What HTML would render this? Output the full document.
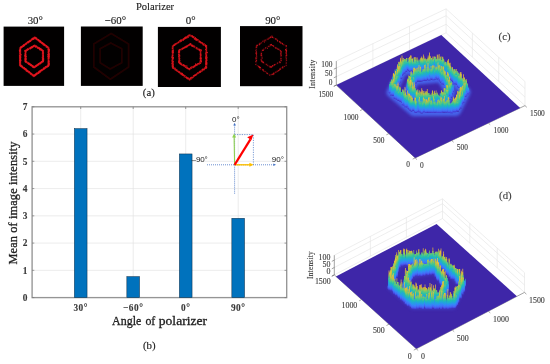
<!DOCTYPE html><html><head><meta charset="utf-8"><title>Polarizer figure</title>
<style>html,body{margin:0;padding:0;background:#fff}svg{display:block}text{font-family:"Liberation Serif","DejaVu Serif",serif;fill:#1a1a1a;stroke:#1a1a1a;stroke-width:.12px}.b{font-weight:bold;fill:#383838;stroke:#383838;stroke-width:.1px}.l{stroke-width:.3px;fill:#222;stroke:#222}.s{font-family:"Liberation Sans","DejaVu Sans",sans-serif;stroke:none;fill:#222}.g{fill:#3c3c3c;stroke:#3c3c3c}</style></head><body>
<svg width="550" height="364" viewBox="0 0 550 364">
<defs>
<linearGradient id="gc" gradientUnits="userSpaceOnUse" x1="0" y1="0" x2="0" y2="-18.20">
<stop offset="0.000" stop-color="#4030B8"/>
<stop offset="0.038" stop-color="#4545E0"/>
<stop offset="0.100" stop-color="#4668F5"/>
<stop offset="0.192" stop-color="#3586FA"/>
<stop offset="0.292" stop-color="#1FA6DC"/>
<stop offset="0.385" stop-color="#20BDB0"/>
<stop offset="0.477" stop-color="#54C882"/>
<stop offset="0.577" stop-color="#A8C44A"/>
<stop offset="0.677" stop-color="#E8BC30"/>
<stop offset="0.769" stop-color="#FBC03A"/>
<stop offset="0.885" stop-color="#F7DC30"/>
<stop offset="1.000" stop-color="#F9FB15"/>
</linearGradient>
<linearGradient id="gd" gradientUnits="userSpaceOnUse" x1="0" y1="0" x2="0" y2="-20.15">
<stop offset="0.000" stop-color="#4030B8"/>
<stop offset="0.038" stop-color="#4545E0"/>
<stop offset="0.100" stop-color="#4668F5"/>
<stop offset="0.192" stop-color="#3586FA"/>
<stop offset="0.292" stop-color="#1FA6DC"/>
<stop offset="0.385" stop-color="#20BDB0"/>
<stop offset="0.477" stop-color="#54C882"/>
<stop offset="0.577" stop-color="#A8C44A"/>
<stop offset="0.677" stop-color="#E8BC30"/>
<stop offset="0.769" stop-color="#FBC03A"/>
<stop offset="0.885" stop-color="#F7DC30"/>
<stop offset="1.000" stop-color="#F9FB15"/>
</linearGradient>
<filter id="bl" x="-20%" y="-20%" width="140%" height="140%"><feGaussianBlur stdDeviation="1.6"/></filter>
<filter id="bl2" x="-20%" y="-20%" width="140%" height="140%"><feGaussianBlur stdDeviation="0.9"/></filter>
<filter id="sp" x="-5%" y="-5%" width="110%" height="110%"><feTurbulence type="fractalNoise" baseFrequency="0.9" numOctaves="2" seed="3" result="n"/><feDisplacementMap in="SourceGraphic" in2="n" scale="1.6" xChannelSelector="R" yChannelSelector="G"/></filter>
<filter id="hz" x="-5%" y="-5%" width="110%" height="110%"><feGaussianBlur stdDeviation="0.35"/></filter>
</defs>
<rect width="550" height="364" fill="#fff"/>
<text x="155" y="10.3" font-size="10.6" text-anchor="middle">Polarizer</text>
<text x="35.3" y="23.6" font-size="10.9" text-anchor="middle">30°</text>
<rect x="3.6" y="26.6" width="60.5" height="59.3" fill="#020000"/>
<polygon points="34.7,37.5 48.6,48.0 48.6,65.3 33.9,75.9 20.1,65.3 20.1,48.0" fill="none" stroke="#a00c14" stroke-width="2.4" opacity="0.6" filter="url(#hz)"/>
<path d="M48.1 48.1h0M47.0 47.2h0M38.7 40.6h0M42.5 43.3h0M47.6 46.9h0M40.6 42.2h0M38.4 39.9h0M39.7 40.7h0M40.3 41.8h0M47.4 46.8h0M40.2 41.6h0M40.0 41.7h0M40.8 41.5h0M44.4 44.3h0M45.2 45.5h0M39.9 41.2h0M36.5 39.2h0M34.9 37.5h0M36.4 38.6h0M44.4 44.9h0M44.2 45.1h0M49.0 58.1h0M48.9 61.6h0M48.5 57.2h0M48.7 63.8h0M48.3 59.4h0M48.8 52.8h0M49.1 54.1h0M48.9 55.1h0M48.2 60.1h0M48.1 52.5h0M48.6 57.8h0M48.8 55.7h0M48.7 59.1h0M49.0 57.8h0M48.4 51.9h0M48.0 58.6h0M48.5 65.2h0M48.6 57.3h0M48.4 53.8h0M34.8 75.2h0M34.7 75.3h0M41.9 70.6h0M45.1 67.9h0M36.1 74.4h0M47.9 65.9h0M41.4 70.4h0M37.1 74.2h0M46.7 67.3h0M47.5 66.5h0M47.0 66.5h0M44.8 68.6h0M45.7 67.0h0M43.9 68.7h0M48.1 65.1h0M37.0 73.5h0M43.6 69.3h0M37.1 73.6h0M19.9 64.9h0M30.5 73.8h0M26.8 69.9h0M28.7 71.9h0M25.3 68.7h0M27.0 70.9h0M31.6 74.7h0M31.2 73.7h0M32.0 74.3h0M32.4 74.7h0M28.3 71.6h0M26.2 69.5h0M28.2 71.5h0M27.6 71.3h0M25.2 69.0h0M26.8 70.6h0M32.4 74.8h0M24.2 67.9h0M22.5 67.2h0M22.7 67.5h0M22.2 66.7h0M22.6 67.0h0M23.9 67.7h0M22.6 67.2h0M24.2 68.6h0M31.8 74.4h0M27.0 70.7h0M28.8 71.5h0M33.3 74.9h0M25.0 69.1h0M20.2 51.8h0M20.4 61.7h0M20.2 55.6h0M20.0 60.8h0M20.0 50.3h0M19.8 57.9h0M20.4 57.7h0M20.0 56.4h0M19.9 55.9h0M20.2 57.2h0M19.9 63.4h0M19.8 51.6h0M20.7 58.1h0M19.7 51.6h0M19.9 52.3h0M19.9 50.9h0M26.3 43.5h0M26.2 43.4h0M34.4 37.7h0M30.2 40.8h0M24.1 44.9h0M24.5 45.2h0M22.5 46.3h0M22.6 46.3h0M21.2 47.2h0M32.3 38.7h0M21.4 46.9h0M23.1 46.4h0M24.0 44.9h0M33.7 37.8h0M32.1 39.0h0M30.3 40.5h0M27.6 42.3h0M29.1 41.5h0M22.9 46.6h0M22.7 46.2h0M22.8 45.7h0" fill="none" stroke="#e4161f" stroke-width="0.84" stroke-linecap="round" opacity="0.90"/>
<path d="M40.0 40.9h0M47.3 46.7h0M38.3 40.1h0M36.6 39.2h0M42.2 43.4h0M46.7 47.0h0M47.6 46.8h0M43.2 44.2h0M40.9 41.7h0M37.6 39.7h0M43.3 44.2h0M35.8 38.2h0M48.1 47.0h0M42.7 43.5h0M38.7 40.8h0M36.5 39.0h0M47.6 47.3h0M43.6 44.6h0M35.9 38.7h0M40.5 41.9h0M48.4 47.9h0M45.0 45.0h0M43.7 45.0h0M37.8 39.6h0M40.1 42.1h0M40.8 42.2h0M35.2 38.1h0M44.4 44.4h0M46.4 46.3h0M38.5 40.4h0M41.8 42.7h0M41.4 42.5h0M45.2 45.2h0M35.3 37.7h0M41.4 42.4h0M44.1 44.5h0M35.9 38.3h0M38.3 39.9h0M42.9 44.6h0M36.4 38.6h0M34.9 37.6h0M46.1 46.7h0M39.7 41.4h0M41.6 42.8h0M47.9 46.9h0M39.6 41.6h0M35.6 38.3h0M46.7 47.1h0M48.9 61.3h0M48.1 49.5h0M48.5 54.1h0M49.1 55.1h0M48.3 49.0h0M48.5 57.7h0M48.6 63.9h0M48.8 58.3h0M48.7 56.0h0M48.6 48.4h0M49.0 53.6h0M48.4 64.8h0M48.4 55.1h0M48.6 61.3h0M48.9 54.0h0M48.5 60.3h0M49.4 49.6h0M48.9 60.7h0M48.5 64.0h0M48.5 56.5h0M48.2 62.1h0M48.4 54.5h0M48.6 51.4h0M48.9 61.0h0M48.5 51.4h0M48.5 54.3h0M49.1 50.9h0M49.3 64.3h0M48.3 54.7h0M49.3 63.2h0M49.0 54.1h0M48.6 56.9h0M48.8 56.5h0M48.7 64.2h0M48.5 65.2h0M48.5 58.4h0M48.7 50.1h0M48.9 53.1h0M48.4 61.7h0M48.5 52.7h0M47.8 56.3h0M48.6 55.7h0M48.8 49.0h0M36.3 73.8h0M34.1 76.0h0M41.0 70.4h0M43.8 68.9h0M39.2 72.0h0M35.1 74.4h0M39.3 72.0h0M35.3 75.0h0M36.5 74.4h0M43.6 68.7h0M42.1 69.9h0M47.1 66.5h0M48.4 66.1h0M38.4 72.8h0M47.7 66.1h0M34.7 75.4h0M46.2 66.8h0M44.4 68.7h0M39.1 72.2h0M42.6 69.5h0M40.1 71.5h0M39.2 71.7h0M37.4 73.3h0M35.4 74.7h0M35.2 74.9h0M45.1 68.2h0M44.0 69.1h0M38.4 72.3h0M39.7 71.9h0M36.1 74.1h0M41.2 70.4h0M45.1 67.0h0M35.5 74.8h0M45.5 66.9h0M43.1 69.2h0M43.5 69.1h0M35.2 75.2h0M38.0 73.2h0M34.6 75.2h0M36.1 73.9h0M46.8 66.9h0M39.3 71.8h0M46.6 66.5h0M47.5 66.7h0M43.6 69.1h0M43.7 68.2h0M35.9 74.5h0M44.5 68.3h0M22.9 67.4h0M29.6 72.4h0M20.9 66.1h0M29.1 72.3h0M26.3 70.9h0M20.8 65.9h0M21.3 65.4h0M24.2 67.6h0M30.6 73.6h0M21.5 66.4h0M31.3 74.0h0M25.7 69.8h0M24.3 68.5h0M25.7 68.9h0M33.8 76.0h0M27.6 70.9h0M25.8 69.9h0M29.4 72.4h0M25.2 69.4h0M30.6 73.1h0M27.2 71.0h0M27.9 70.9h0M27.3 71.3h0M30.2 72.7h0M31.0 73.6h0M22.1 66.2h0M31.1 73.6h0M20.6 66.3h0M24.8 68.9h0M22.0 66.6h0M22.5 66.9h0M31.4 73.5h0M25.6 69.4h0M24.5 68.4h0M23.0 67.8h0M24.4 67.8h0M25.7 69.7h0M21.6 65.6h0M20.5 65.5h0M27.5 70.9h0M33.1 75.2h0M26.4 70.2h0M24.9 68.6h0M20.2 55.3h0M20.2 48.3h0M19.8 60.4h0M19.4 50.5h0M20.2 52.3h0M20.2 49.2h0M20.3 53.2h0M20.0 50.4h0M20.1 51.1h0M20.1 55.3h0M19.7 61.8h0M20.2 63.2h0M20.0 63.4h0M20.4 50.0h0M19.8 51.8h0M20.1 53.7h0M20.2 56.6h0M19.9 58.4h0M20.2 58.5h0M20.2 56.9h0M19.5 55.7h0M20.3 52.0h0M20.0 53.5h0M20.4 49.5h0M20.1 53.7h0M19.9 50.7h0M20.2 48.1h0M20.0 51.8h0M19.6 62.2h0M20.4 55.1h0M20.4 62.0h0M20.2 50.9h0M20.3 52.2h0M20.4 59.4h0M20.4 49.9h0M20.6 50.9h0M20.1 57.4h0M20.5 58.4h0M19.9 55.2h0M20.1 58.7h0M19.8 58.7h0M20.3 65.0h0M20.0 57.2h0M19.9 56.4h0M20.6 56.7h0M20.8 65.5h0M20.1 55.0h0M20.4 49.1h0M20.3 48.2h0M20.0 56.7h0M30.1 41.1h0M33.1 38.6h0M33.2 38.2h0M23.8 45.4h0M20.8 47.4h0M23.9 45.7h0M23.6 46.2h0M24.4 44.8h0M27.4 42.5h0M20.1 48.0h0M27.9 42.7h0M33.5 38.8h0M22.1 46.3h0M29.9 41.5h0M25.6 44.1h0M25.3 44.2h0M24.4 44.8h0M33.2 38.0h0M23.7 45.1h0M21.1 47.7h0M30.7 40.4h0M23.7 45.5h0M29.0 41.5h0M26.3 43.2h0M30.3 40.5h0M27.8 41.8h0M31.2 40.0h0M29.8 41.1h0M33.0 39.5h0M29.1 41.6h0M30.6 41.3h0M31.2 40.4h0M22.0 46.9h0M21.2 46.8h0M21.2 47.3h0M29.8 40.5h0M25.6 44.1h0M23.9 45.0h0M20.9 47.4h0M26.6 43.1h0M21.8 47.0h0M23.6 45.0h0M29.9 40.9h0M21.9 46.8h0M21.1 46.9h0M31.1 40.2h0M27.4 42.7h0M20.6 47.8h0M31.6 39.6h0M23.8 45.6h0" fill="none" stroke="#e4161f" stroke-width="1.20" stroke-linecap="round" opacity="0.90"/>
<path d="M41.8 43.0h0M39.7 40.6h0M44.6 45.0h0M40.4 42.0h0M36.0 38.5h0M34.9 37.6h0M42.4 43.2h0M45.1 45.3h0M43.4 43.7h0M43.5 44.0h0M35.8 38.0h0M38.2 39.9h0M43.4 43.6h0M46.5 45.8h0M38.4 40.2h0M42.3 42.8h0M44.1 44.3h0M36.6 38.3h0M48.5 64.2h0M48.5 62.3h0M48.6 57.5h0M48.9 56.1h0M48.8 51.8h0M48.4 54.8h0M48.7 61.6h0M48.9 54.5h0M48.5 57.6h0M48.8 54.8h0M48.7 53.8h0M48.7 49.6h0M48.7 63.0h0M48.6 61.3h0M48.4 57.0h0M49.0 50.6h0M48.5 63.3h0M48.5 64.8h0M48.5 63.5h0M48.5 54.7h0M48.5 50.0h0M49.1 56.6h0M48.0 54.7h0M48.6 51.6h0M35.8 74.4h0M38.8 72.4h0M39.5 72.0h0M45.8 67.0h0M35.8 74.8h0M48.0 65.3h0M35.2 74.7h0M40.3 71.7h0M48.8 65.3h0M34.8 75.6h0M36.7 73.3h0M44.0 68.4h0M41.4 70.1h0M35.1 75.4h0M44.3 68.2h0M48.0 66.4h0M43.7 68.7h0M41.3 70.4h0M40.4 70.8h0M39.3 71.4h0M38.7 73.2h0M34.0 75.7h0M38.1 73.1h0M41.9 70.3h0M23.6 68.1h0M25.1 69.0h0M30.9 73.5h0M21.8 66.2h0M26.1 69.3h0M32.8 75.3h0M30.5 73.7h0M27.4 71.0h0M29.1 72.5h0M20.1 65.4h0M33.1 75.7h0M29.3 72.0h0M22.3 67.2h0M33.7 75.9h0M20.2 57.4h0M21.0 54.7h0M20.0 64.4h0M19.9 60.0h0M20.1 62.0h0M20.1 61.1h0M20.4 60.9h0M20.1 49.8h0M20.2 57.4h0M20.4 59.1h0M20.8 60.2h0M20.2 64.2h0M20.3 49.6h0M20.5 60.3h0M20.1 53.7h0M19.9 60.6h0M20.1 62.1h0M20.6 57.3h0M20.4 64.8h0M20.1 59.8h0M28.8 41.9h0M28.3 42.4h0M28.5 41.8h0M25.9 44.3h0M20.7 47.7h0M23.3 46.0h0M32.2 39.3h0M26.2 43.8h0M21.7 47.4h0M20.8 47.2h0M26.1 43.5h0M24.3 45.4h0M32.4 38.6h0M26.2 43.7h0M33.1 38.8h0M33.0 39.1h0M29.5 41.2h0M34.1 38.7h0" fill="none" stroke="#e4161f" stroke-width="1.56" stroke-linecap="round" opacity="0.90"/>
<polygon points="34.6,45.6 43.0,50.8 43.0,61.3 34.1,67.3 25.5,61.3 25.5,50.8" fill="none" stroke="#a00c14" stroke-width="2.4" opacity="0.6" filter="url(#hz)"/>
<path d="M35.5 46.1h0M39.8 48.9h0M35.0 46.7h0M36.0 46.5h0M42.7 50.9h0M38.2 48.1h0M39.0 48.1h0M38.0 47.4h0M40.9 49.4h0M41.6 49.2h0M39.0 48.3h0M41.5 49.4h0M40.5 48.7h0M36.3 46.4h0M43.5 58.0h0M43.4 50.8h0M42.8 56.4h0M42.6 52.8h0M42.9 58.5h0M43.1 57.1h0M43.0 61.1h0M43.6 55.7h0M43.0 57.8h0M42.3 59.3h0M43.3 54.6h0M40.8 62.7h0M36.7 66.0h0M36.0 66.0h0M34.1 66.7h0M40.0 63.2h0M38.6 63.9h0M38.5 64.3h0M36.6 65.9h0M34.3 67.2h0M35.4 66.1h0M40.6 62.9h0M41.6 61.8h0M40.4 63.0h0M27.8 63.2h0M34.1 67.4h0M30.6 65.1h0M33.1 66.7h0M31.0 65.0h0M32.1 66.0h0M29.8 63.7h0M26.2 61.9h0M25.4 51.5h0M25.2 59.9h0M25.6 54.0h0M25.8 58.9h0M25.4 54.6h0M25.2 60.4h0M26.0 59.1h0M26.0 56.4h0M25.7 54.2h0M25.0 55.7h0M25.3 56.6h0M25.5 50.9h0M25.4 58.5h0M25.3 53.3h0M25.7 57.0h0M25.2 53.7h0M29.4 48.5h0M33.4 46.2h0M32.6 47.2h0M26.3 50.6h0M26.3 50.0h0M31.4 47.1h0M29.8 48.5h0M30.7 48.4h0M28.5 49.2h0M28.6 49.2h0M28.2 49.5h0M30.7 47.6h0M33.3 46.4h0" fill="none" stroke="#e4161f" stroke-width="0.84" stroke-linecap="round" opacity="0.90"/>
<path d="M41.9 50.1h0M36.0 46.3h0M37.3 47.2h0M35.2 45.9h0M39.7 48.5h0M41.6 49.6h0M39.9 48.8h0M38.2 47.8h0M37.5 47.7h0M37.5 47.5h0M42.2 50.4h0M39.3 48.2h0M39.6 48.5h0M43.0 51.1h0M35.2 46.3h0M42.1 50.0h0M37.2 47.2h0M38.6 47.8h0M42.8 50.8h0M35.7 47.2h0M40.6 48.7h0M36.2 46.3h0M41.0 50.2h0M37.3 47.7h0M43.0 59.5h0M43.5 56.4h0M42.7 55.1h0M43.1 58.9h0M43.4 55.2h0M42.6 60.4h0M43.2 60.9h0M43.3 58.0h0M43.1 60.5h0M42.5 60.9h0M42.7 56.1h0M42.9 52.1h0M42.9 52.4h0M42.8 50.7h0M43.3 60.1h0M42.8 53.1h0M42.8 61.0h0M42.7 55.6h0M42.3 57.5h0M42.4 53.8h0M43.2 60.9h0M42.7 60.8h0M43.2 52.2h0M43.8 59.8h0M43.1 60.7h0M43.1 54.9h0M35.2 66.4h0M41.1 62.8h0M40.2 63.0h0M37.6 64.6h0M35.1 66.3h0M34.9 67.2h0M41.2 62.4h0M42.1 62.1h0M37.6 65.1h0M34.5 67.0h0M35.9 66.2h0M37.6 65.1h0M40.9 62.7h0M40.9 62.4h0M38.0 64.9h0M38.8 63.9h0M36.5 65.7h0M40.1 63.8h0M35.8 66.4h0M34.4 67.5h0M38.0 64.4h0M41.1 62.5h0M38.6 64.6h0M35.4 66.5h0M41.7 62.0h0M36.5 65.9h0M36.7 65.6h0M42.4 61.4h0M35.3 66.9h0M31.3 65.1h0M25.9 61.4h0M31.5 65.5h0M30.3 64.3h0M28.0 63.3h0M33.4 66.9h0M30.6 65.1h0M31.2 65.1h0M31.3 65.1h0M32.2 65.6h0M26.0 61.6h0M29.1 63.8h0M32.5 66.1h0M31.2 65.2h0M25.9 62.2h0M29.1 63.3h0M31.4 64.9h0M33.3 67.3h0M31.0 65.3h0M31.3 64.9h0M29.8 64.6h0M28.7 63.9h0M33.3 66.7h0M26.2 61.5h0M27.5 62.8h0M25.7 61.7h0M25.7 61.5h0M31.8 65.7h0M32.9 66.5h0M26.4 61.9h0M29.2 63.8h0M29.2 63.7h0M25.5 60.3h0M25.5 51.3h0M25.7 52.2h0M25.5 58.6h0M25.4 61.3h0M26.0 56.6h0M25.4 53.4h0M25.5 52.6h0M25.4 51.0h0M25.5 59.7h0M25.6 52.5h0M25.7 52.6h0M25.8 55.9h0M25.2 57.0h0M25.9 60.5h0M25.5 60.6h0M25.4 55.5h0M25.5 56.6h0M25.3 54.2h0M25.8 57.5h0M24.7 59.0h0M25.5 59.9h0M26.0 51.7h0M25.0 56.3h0M25.3 61.8h0M25.8 58.1h0M25.4 60.5h0M33.2 46.5h0M28.5 49.5h0M32.5 47.0h0M34.7 45.4h0M30.5 48.8h0M32.8 47.0h0M27.7 49.7h0M27.7 49.7h0M30.3 47.8h0M31.3 47.2h0M34.8 45.9h0M32.7 46.5h0M26.9 49.8h0M33.5 46.5h0M33.7 45.7h0M25.9 50.9h0M27.6 49.8h0M33.1 46.6h0M30.5 47.7h0M31.3 47.5h0M31.8 47.6h0M33.1 46.3h0M32.5 46.4h0M32.3 47.3h0M32.7 47.0h0" fill="none" stroke="#e4161f" stroke-width="1.20" stroke-linecap="round" opacity="0.90"/>
<path d="M39.1 48.3h0M40.0 49.3h0M36.2 46.2h0M42.1 50.2h0M37.8 47.9h0M42.2 50.2h0M40.9 49.2h0M41.2 49.8h0M40.9 49.5h0M39.7 49.6h0M39.6 48.3h0M42.8 59.7h0M42.9 51.1h0M42.8 60.5h0M43.1 58.6h0M43.2 61.5h0M43.3 58.9h0M42.6 51.7h0M43.0 60.5h0M43.2 53.8h0M42.9 58.3h0M43.4 60.4h0M43.0 58.8h0M43.4 53.0h0M42.9 59.5h0M43.5 58.3h0M37.8 64.9h0M39.4 63.6h0M36.1 65.8h0M36.8 65.2h0M38.6 64.1h0M41.8 61.9h0M33.7 67.1h0M40.5 62.9h0M41.6 61.7h0M37.1 65.4h0M42.5 61.4h0M32.8 67.0h0M28.5 63.1h0M30.0 64.2h0M29.0 64.2h0M31.3 65.4h0M30.6 65.3h0M33.7 67.2h0M33.7 67.2h0M33.1 66.2h0M29.4 64.1h0M32.4 65.9h0M26.4 62.0h0M25.8 56.6h0M25.0 55.4h0M25.5 59.3h0M25.4 58.9h0M25.6 54.8h0M25.7 56.2h0M26.1 59.1h0M25.3 61.1h0M25.6 56.2h0M33.8 46.1h0M25.8 50.9h0M32.3 47.2h0M31.5 47.0h0M30.2 48.0h0M27.3 49.9h0M33.9 46.2h0M25.7 50.8h0M27.7 49.1h0M30.7 48.0h0M24.9 50.9h0M31.8 47.7h0M26.0 50.7h0M27.5 49.2h0" fill="none" stroke="#e4161f" stroke-width="1.56" stroke-linecap="round" opacity="0.90"/>
<text x="115.3" y="23.6" font-size="10.9" text-anchor="middle">−60°</text>
<rect x="80.9" y="26.5" width="61.8" height="59.4" fill="#020000"/>
<polygon points="111.2,33.5 128.6,44.0 128.6,67.0 110.3,79.3 93.8,67.0 93.8,44.0" fill="none" stroke="#240606" stroke-width="1.70" stroke-linejoin="round" opacity="0.95" filter="url(#hz)"/>
<polygon points="110.8,42.9 121.8,48.8 121.8,62.7 110.2,69.0 100.1,62.7 100.1,48.8" fill="none" stroke="#240606" stroke-width="1.70" stroke-linejoin="round" opacity="0.95" filter="url(#hz)"/>
<text x="190.7" y="23.6" font-size="10.9" text-anchor="middle">0°</text>
<rect x="157.9" y="26.9" width="63.0" height="60.1" fill="#020000"/>
<polygon points="190.0,35.1 206.3,46.0 206.3,67.4 189.2,79.4 172.7,67.4 172.7,46.0" fill="none" stroke="#7a0a10" stroke-width="2.2" opacity="0.6" filter="url(#hz)"/>
<path d="M201.1 42.9h0M199.6 42.1h0M200.8 42.5h0M202.9 43.3h0M203.2 45.2h0M201.1 42.8h0M198.2 40.0h0M196.9 40.2h0M199.2 41.3h0M203.2 43.5h0M204.3 45.0h0M192.4 36.7h0M197.0 40.0h0M202.7 43.7h0M195.7 38.9h0M205.3 45.8h0M202.4 44.0h0M206.2 46.3h0M205.3 45.7h0M196.3 39.2h0M196.4 40.6h0M200.3 41.5h0M204.4 43.6h0M205.9 56.2h0M205.9 64.1h0M206.3 53.3h0M206.0 51.9h0M206.4 56.9h0M206.4 55.6h0M206.8 60.1h0M205.6 58.0h0M206.2 46.8h0M205.6 57.1h0M207.2 52.3h0M206.5 50.3h0M206.4 61.0h0M206.4 58.5h0M206.2 66.5h0M205.8 66.6h0M205.8 66.8h0M205.5 64.7h0M205.8 56.3h0M196.5 74.3h0M192.1 78.1h0M202.5 71.1h0M196.7 74.5h0M202.2 69.9h0M193.6 75.6h0M191.0 78.4h0M188.8 78.9h0M199.7 71.3h0M203.9 69.5h0M203.6 69.7h0M205.9 67.6h0M197.9 73.4h0M196.2 74.9h0M197.5 72.9h0M193.3 76.2h0M203.5 69.5h0M191.7 77.3h0M195.7 75.5h0M202.3 70.2h0M194.5 75.5h0M201.6 71.0h0M206.6 66.9h0M173.5 68.4h0M181.9 73.6h0M183.6 75.6h0M176.8 69.9h0M179.6 72.7h0M175.5 69.9h0M182.0 73.7h0M179.2 71.9h0M180.8 73.3h0M181.1 73.4h0M178.8 72.3h0M174.3 68.9h0M185.0 76.3h0M182.1 74.3h0M188.6 78.2h0M181.4 73.9h0M186.8 78.0h0M181.1 73.4h0M180.7 73.2h0M174.4 68.1h0M172.5 55.6h0M172.7 58.3h0M173.0 59.3h0M173.2 50.3h0M172.4 47.1h0M172.3 52.0h0M172.4 52.0h0M172.9 57.9h0M172.3 65.5h0M171.8 57.3h0M172.9 50.4h0M173.0 64.3h0M172.9 50.3h0M172.3 59.2h0M172.2 47.8h0M172.8 50.5h0M172.2 55.0h0M172.5 48.5h0M173.0 49.4h0M173.2 48.8h0M172.6 57.4h0M173.0 58.5h0M173.2 63.5h0M181.0 40.2h0M174.5 45.4h0M174.9 44.4h0M183.0 40.0h0M177.0 43.4h0M174.9 43.7h0M179.1 42.0h0M185.8 37.9h0M187.8 36.2h0M183.6 39.0h0M175.4 43.6h0M185.0 38.1h0M187.4 37.9h0M185.8 38.1h0M186.4 37.2h0M185.2 38.3h0M173.2 45.5h0M182.1 40.0h0" fill="none" stroke="#dc141c" stroke-width="0.73" stroke-linecap="round" opacity="0.90"/>
<path d="M205.7 45.1h0M197.1 39.6h0M194.4 38.2h0M191.6 36.0h0M196.0 39.1h0M202.1 42.9h0M192.2 36.5h0M191.3 35.8h0M205.6 46.2h0M201.9 42.5h0M198.0 39.4h0M199.5 41.8h0M193.2 37.4h0M201.0 42.8h0M191.0 36.0h0M199.0 41.9h0M192.7 35.9h0M195.8 40.1h0M192.7 36.6h0M200.4 41.8h0M190.8 35.9h0M203.7 44.4h0M196.4 39.7h0M196.2 38.8h0M194.3 38.9h0M199.5 41.0h0M197.9 39.9h0M189.7 35.2h0M195.6 39.1h0M207.0 63.5h0M205.9 60.7h0M205.7 57.7h0M206.4 55.9h0M206.5 47.9h0M206.1 53.3h0M206.3 55.0h0M206.1 63.7h0M206.2 63.1h0M206.1 49.0h0M206.1 63.3h0M206.2 63.6h0M206.0 52.8h0M206.2 62.1h0M206.4 54.9h0M206.4 62.9h0M206.0 57.8h0M205.4 53.3h0M207.2 52.6h0M205.8 65.0h0M206.1 46.8h0M205.8 58.6h0M206.4 50.5h0M206.4 50.9h0M206.5 61.1h0M205.5 54.7h0M206.4 64.2h0M205.8 62.9h0M206.4 59.0h0M206.3 56.0h0M206.5 49.2h0M206.3 60.3h0M205.7 46.5h0M206.5 63.1h0M192.3 77.8h0M196.8 73.7h0M204.6 68.2h0M202.8 69.1h0M198.2 73.3h0M195.9 75.1h0M206.7 67.5h0M193.8 76.0h0M192.8 77.7h0M206.3 68.0h0M195.1 75.4h0M200.0 72.5h0M195.0 74.8h0M190.1 78.6h0M192.5 77.8h0M198.9 72.8h0M194.5 76.0h0M195.6 74.5h0M203.3 69.2h0M196.7 74.1h0M204.3 68.9h0M199.8 71.8h0M205.4 68.2h0M204.8 67.8h0M206.3 67.1h0M200.7 72.1h0M201.2 71.2h0M198.5 72.7h0M194.7 75.6h0M197.6 73.0h0M189.3 79.4h0M191.0 78.8h0M199.9 71.8h0M199.8 71.9h0M193.4 76.9h0M195.1 74.9h0M199.3 72.1h0M191.1 79.2h0M177.1 71.4h0M183.5 75.5h0M173.0 68.4h0M182.2 73.4h0M181.5 73.7h0M182.7 75.3h0M174.8 69.7h0M182.5 74.7h0M184.0 75.4h0M178.9 72.4h0M181.7 74.2h0M180.3 73.0h0M183.7 75.1h0M186.4 77.1h0M181.4 73.5h0M184.1 77.0h0M185.0 75.6h0M179.0 72.2h0M180.0 72.7h0M173.7 68.1h0M187.2 78.8h0M176.9 70.3h0M175.9 70.1h0M181.5 74.0h0M183.8 75.0h0M178.5 71.6h0M181.8 74.8h0M177.5 71.2h0M186.3 77.5h0M182.6 75.1h0M180.3 73.9h0M187.8 78.6h0M175.8 69.3h0M182.2 74.6h0M184.6 76.4h0M179.0 71.5h0M173.0 62.5h0M172.7 50.8h0M172.8 53.9h0M173.4 52.3h0M172.9 55.3h0M172.3 48.4h0M172.8 65.7h0M172.7 65.4h0M172.8 50.9h0M172.8 53.2h0M172.5 56.8h0M172.0 61.6h0M173.4 57.5h0M173.0 58.8h0M172.7 64.0h0M172.1 51.1h0M172.9 63.8h0M173.0 65.5h0M171.9 60.3h0M173.3 51.8h0M173.0 46.5h0M172.2 63.6h0M172.6 62.5h0M173.0 67.5h0M173.4 61.5h0M172.8 50.6h0M172.5 52.1h0M172.5 48.4h0M173.3 66.6h0M172.8 46.6h0M187.5 36.4h0M184.7 39.2h0M183.6 38.9h0M180.9 40.9h0M175.8 44.2h0M173.3 45.4h0M189.0 35.1h0M173.2 45.2h0M180.9 40.2h0M173.6 45.3h0M175.0 44.8h0M185.8 37.8h0M188.0 36.7h0M180.3 41.7h0M174.3 45.1h0M183.5 40.3h0M187.4 36.1h0M182.1 40.0h0M178.5 42.1h0M186.1 37.9h0M175.8 43.8h0M175.8 43.7h0M185.8 37.9h0M175.2 44.8h0M184.8 37.5h0M175.1 44.6h0M174.1 44.7h0M177.9 42.4h0M174.3 45.5h0M182.4 39.9h0M174.6 44.8h0M185.2 37.2h0M181.1 40.3h0M184.6 38.5h0M173.8 44.9h0M188.4 35.3h0M175.4 44.5h0" fill="none" stroke="#dc141c" stroke-width="1.05" stroke-linecap="round" opacity="0.90"/>
<path d="M192.8 36.7h0M203.3 44.7h0M196.8 39.2h0M195.1 38.5h0M206.5 45.8h0M200.8 42.6h0M192.1 35.8h0M194.7 38.9h0M205.6 45.5h0M193.3 37.4h0M206.5 45.7h0M202.4 43.1h0M193.9 36.7h0M205.4 45.3h0M205.2 45.2h0M205.3 45.4h0M195.6 38.5h0M195.4 37.8h0M206.6 56.8h0M205.6 49.6h0M206.7 64.7h0M206.5 55.0h0M206.7 62.5h0M206.0 61.1h0M206.2 58.4h0M206.4 58.5h0M207.0 57.8h0M206.0 62.7h0M206.6 52.2h0M205.8 63.7h0M206.5 58.4h0M205.6 46.4h0M205.9 61.7h0M206.3 59.8h0M207.1 52.6h0M206.7 57.2h0M205.7 66.4h0M206.5 63.3h0M207.0 60.1h0M206.3 47.2h0M206.5 47.9h0M206.2 57.1h0M202.7 69.5h0M202.2 69.8h0M206.0 68.3h0M194.2 75.6h0M194.3 75.5h0M190.8 77.6h0M202.8 69.8h0M192.0 77.6h0M189.8 79.1h0M189.7 79.9h0M200.4 71.2h0M190.3 78.3h0M204.1 69.7h0M205.8 67.3h0M179.6 72.1h0M173.2 67.0h0M183.4 74.9h0M188.3 78.7h0M176.9 70.1h0M186.0 77.4h0M179.6 72.3h0M187.8 77.7h0M172.7 67.7h0M176.6 70.3h0M182.4 74.8h0M181.9 73.1h0M175.1 68.3h0M186.2 77.4h0M187.0 78.2h0M182.1 74.1h0M182.2 74.0h0M173.0 50.6h0M172.3 59.9h0M172.8 58.6h0M173.1 57.8h0M172.6 61.3h0M173.0 66.3h0M172.4 52.5h0M172.8 64.9h0M173.0 47.0h0M173.2 64.7h0M172.8 61.5h0M172.6 55.6h0M172.1 56.8h0M172.2 64.9h0M172.4 55.2h0M172.9 52.8h0M172.5 52.6h0M172.3 57.9h0M172.0 56.9h0M173.2 52.2h0M172.8 62.0h0M172.0 63.3h0M172.3 66.6h0M172.8 51.7h0M185.4 37.3h0M189.9 35.1h0M176.8 43.5h0M186.7 37.3h0M181.0 39.9h0M181.4 41.1h0M186.1 37.5h0M178.5 42.5h0M183.3 39.3h0M180.4 40.6h0M186.9 37.1h0M188.9 35.9h0M174.0 45.4h0M179.6 40.9h0M188.2 37.2h0M185.8 38.2h0M183.6 39.6h0M184.3 38.4h0" fill="none" stroke="#dc141c" stroke-width="1.37" stroke-linecap="round" opacity="0.90"/>
<polygon points="190.4,44.3 200.6,50.6 200.6,62.6 189.2,69.1 179.1,62.6 179.1,50.6" fill="none" stroke="#7a0a10" stroke-width="2.2" opacity="0.6" filter="url(#hz)"/>
<path d="M200.0 50.1h0M191.4 45.4h0M199.8 49.7h0M200.5 49.6h0M197.7 49.1h0M199.6 49.9h0M192.8 46.2h0M196.7 47.7h0M198.6 49.3h0M192.8 46.0h0M199.3 50.2h0M200.4 58.0h0M200.2 60.4h0M200.2 61.2h0M201.1 58.7h0M201.6 61.8h0M200.2 61.7h0M200.5 54.8h0M200.3 51.7h0M200.6 56.8h0M200.8 51.7h0M200.2 63.4h0M200.0 61.6h0M200.9 55.7h0M191.4 66.7h0M193.8 66.4h0M200.8 62.8h0M197.3 64.7h0M200.1 62.8h0M189.7 69.9h0M191.2 68.5h0M196.0 65.0h0M190.9 67.1h0M189.9 68.7h0M193.2 66.8h0M199.2 63.4h0M180.4 63.8h0M181.5 64.0h0M181.8 64.5h0M180.0 63.2h0M185.6 67.1h0M180.9 63.6h0M185.4 65.9h0M183.5 65.3h0M186.9 67.9h0M180.1 63.0h0M178.9 62.5h0M179.1 50.8h0M179.2 61.8h0M179.0 51.9h0M180.0 62.5h0M178.9 61.8h0M179.1 52.1h0M178.5 62.4h0M179.1 56.0h0M179.7 49.8h0M188.8 45.3h0M185.1 47.2h0M186.3 46.6h0M178.8 50.1h0M185.5 46.4h0M182.1 49.5h0M190.0 44.9h0M182.0 49.3h0M184.6 48.1h0M182.3 49.0h0M183.1 48.5h0" fill="none" stroke="#dc141c" stroke-width="0.73" stroke-linecap="round" opacity="0.90"/>
<path d="M197.0 48.9h0M199.6 50.6h0M190.8 44.0h0M191.0 43.9h0M192.3 46.1h0M192.4 45.8h0M198.9 49.7h0M191.1 44.6h0M199.6 49.8h0M199.5 50.8h0M194.5 47.0h0M192.4 45.2h0M192.0 45.8h0M194.1 46.6h0M190.6 43.8h0M200.1 50.4h0M196.3 48.1h0M199.8 49.3h0M193.9 46.2h0M193.6 46.7h0M197.1 48.1h0M192.1 45.4h0M199.9 49.7h0M201.2 49.8h0M199.0 49.0h0M196.5 47.8h0M191.4 45.3h0M201.2 61.3h0M200.6 51.8h0M200.6 53.5h0M200.2 58.8h0M200.9 58.2h0M200.4 59.0h0M200.0 58.5h0M200.2 56.9h0M200.9 57.4h0M200.4 60.6h0M201.2 59.1h0M200.6 53.9h0M200.7 56.1h0M200.4 52.7h0M200.1 53.9h0M200.5 55.2h0M200.9 60.5h0M200.8 57.6h0M200.5 60.3h0M200.8 55.4h0M200.7 60.1h0M200.7 53.4h0M197.5 63.8h0M197.0 64.7h0M193.4 67.6h0M199.1 63.3h0M199.9 62.5h0M196.3 65.1h0M193.7 67.3h0M200.5 63.5h0M195.0 66.7h0M198.3 63.4h0M195.8 65.6h0M192.1 67.0h0M190.5 67.5h0M198.3 63.8h0M192.5 67.1h0M197.7 63.6h0M196.0 65.0h0M196.1 65.0h0M195.2 65.3h0M194.6 66.7h0M197.0 64.3h0M192.2 66.8h0M194.3 66.0h0M189.5 69.4h0M197.4 64.2h0M187.3 67.9h0M181.0 63.1h0M188.1 68.4h0M184.3 66.5h0M186.9 67.3h0M181.0 63.1h0M188.2 69.1h0M185.8 67.4h0M184.2 65.3h0M179.4 63.5h0M187.2 67.3h0M183.7 65.3h0M182.6 65.4h0M180.7 63.2h0M186.8 68.1h0M185.6 66.0h0M183.7 65.1h0M185.7 67.2h0M188.5 68.4h0M184.2 65.8h0M183.5 65.3h0M180.5 63.4h0M179.7 62.3h0M179.0 60.8h0M179.6 58.0h0M179.4 61.5h0M178.5 54.4h0M179.1 55.0h0M179.3 59.8h0M178.9 52.1h0M178.5 56.4h0M178.9 51.4h0M179.3 62.2h0M179.1 57.2h0M179.1 52.8h0M178.9 55.7h0M178.5 51.7h0M179.5 51.2h0M179.7 51.8h0M179.5 52.6h0M178.7 58.1h0M179.1 55.7h0M179.1 56.7h0M178.9 59.9h0M190.7 43.5h0M183.6 48.2h0M183.3 48.1h0M184.1 47.5h0M182.6 48.1h0M186.3 46.9h0M179.3 50.1h0M189.8 44.8h0M186.9 46.9h0M182.7 48.8h0M187.3 46.3h0M184.9 47.2h0M187.6 45.4h0M183.6 48.0h0M185.2 47.0h0M180.8 49.8h0M179.7 49.8h0M185.1 47.8h0M187.3 45.8h0" fill="none" stroke="#dc141c" stroke-width="1.05" stroke-linecap="round" opacity="0.90"/>
<path d="M192.0 45.5h0M192.4 46.0h0M193.9 46.0h0M191.8 45.9h0M201.2 50.5h0M200.8 58.3h0M200.8 54.5h0M201.1 61.0h0M201.0 58.3h0M201.3 61.6h0M200.8 60.4h0M200.8 54.9h0M200.6 58.6h0M193.9 66.5h0M195.5 65.2h0M196.8 65.1h0M195.7 64.0h0M195.8 64.6h0M191.3 67.9h0M189.9 68.7h0M198.8 63.7h0M194.4 65.9h0M199.1 64.1h0M180.1 63.7h0M181.7 64.7h0M187.7 68.3h0M180.1 63.2h0M186.8 66.0h0M184.6 65.7h0M179.7 63.0h0M183.7 64.8h0M181.1 64.6h0M183.8 65.5h0M189.1 68.8h0M179.5 55.3h0M179.7 55.9h0M178.5 52.6h0M179.0 54.2h0M178.8 51.0h0M179.3 55.9h0M179.9 60.8h0M179.3 59.9h0M179.7 58.7h0M178.7 61.7h0M179.4 50.9h0M179.4 51.0h0M188.1 45.5h0M190.1 43.6h0M182.0 48.6h0M186.6 46.1h0M187.0 46.6h0M190.3 44.5h0M183.5 48.1h0M189.5 44.7h0M189.7 44.4h0M184.7 47.4h0M188.8 44.9h0M184.9 47.1h0M186.1 46.7h0M189.3 44.8h0M180.0 49.4h0" fill="none" stroke="#dc141c" stroke-width="1.37" stroke-linecap="round" opacity="0.90"/>
<text x="272.8" y="23.6" font-size="10.9" text-anchor="middle">90°</text>
<rect x="240.0" y="26.1" width="62.5" height="60.1" fill="#020000"/>
<polygon points="271.5,36.5 286.2,46.0 286.2,65.1 270.7,75.5 256.3,65.1 256.3,46.0" fill="none" stroke="#300507" stroke-width="2.0" opacity="0.6" filter="url(#hz)"/>
<path d="M272.3 37.3h0M281.8 42.9h0M280.5 42.0h0M281.5 43.2h0M277.8 40.9h0M276.2 39.2h0M282.5 44.3h0M273.8 37.9h0M271.5 36.2h0M286.6 55.9h0M286.3 51.5h0M286.7 48.4h0M286.4 45.7h0M277.2 70.9h0M273.3 73.7h0M282.0 67.7h0M273.7 74.7h0M275.1 72.5h0M282.5 67.0h0M279.8 69.6h0M257.8 65.6h0M259.0 67.1h0M267.2 73.1h0M260.3 67.8h0M262.5 69.5h0M265.4 71.6h0M269.8 75.0h0M269.6 75.2h0M259.3 67.1h0M256.2 47.1h0M256.3 49.5h0M256.0 59.7h0M256.1 61.3h0M255.8 52.4h0M256.6 56.7h0M256.1 47.5h0M256.8 53.2h0M256.2 47.0h0M256.4 54.9h0M256.8 56.5h0M265.9 41.0h0M263.3 41.2h0M264.3 41.0h0M260.1 44.4h0M270.7 36.5h0M267.9 38.9h0M257.8 45.0h0M260.6 43.3h0M270.1 37.5h0" fill="none" stroke="#d4161e" stroke-width="0.56" stroke-linecap="round" opacity="0.90"/>
<path d="M272.3 37.1h0M286.1 45.9h0M279.8 42.3h0M277.5 40.4h0M282.3 43.8h0M277.2 40.2h0M275.5 39.0h0M272.1 36.0h0M271.2 37.4h0M280.1 42.3h0M275.5 38.8h0M272.7 37.1h0M285.9 49.7h0M286.1 52.2h0M285.9 49.5h0M286.1 52.4h0M286.7 51.6h0M286.1 53.5h0M286.6 50.4h0M286.3 59.9h0M286.4 50.6h0M286.3 52.0h0M285.9 55.7h0M286.7 50.6h0M286.9 55.2h0M285.9 45.9h0M285.5 49.7h0M286.3 53.7h0M285.6 50.0h0M286.7 54.3h0M286.7 60.4h0M274.2 73.9h0M280.3 68.3h0M277.7 71.6h0M282.9 68.1h0M280.5 69.5h0M279.7 69.3h0M282.5 67.1h0M273.8 73.5h0M279.3 70.4h0M272.5 74.4h0M276.3 72.0h0M286.2 65.6h0M273.5 73.0h0M280.0 68.8h0M275.3 72.1h0M282.9 67.3h0M272.5 74.2h0M263.1 70.6h0M266.4 73.0h0M260.1 67.4h0M267.5 73.7h0M263.3 70.0h0M259.3 67.9h0M258.8 66.4h0M267.2 73.5h0M259.4 67.3h0M259.8 67.1h0M258.4 66.3h0M256.0 53.5h0M256.8 57.9h0M256.1 58.4h0M256.0 58.5h0M256.7 55.3h0M256.0 61.2h0M256.3 51.5h0M256.1 53.6h0M256.8 47.6h0M256.7 60.5h0M256.4 52.3h0M256.4 54.5h0M256.6 60.3h0M256.4 46.7h0M265.4 40.1h0M259.9 43.2h0M256.8 45.3h0M267.2 39.3h0M257.4 45.7h0M270.5 37.7h0M262.6 41.2h0M269.3 38.1h0M261.5 42.9h0M268.6 39.1h0M269.0 38.2h0M264.2 40.2h0" fill="none" stroke="#d4161e" stroke-width="0.80" stroke-linecap="round" opacity="0.90"/>
<path d="M282.5 43.4h0M272.7 37.5h0M276.8 39.0h0M279.5 41.6h0M283.8 44.7h0M280.5 42.9h0M277.6 41.1h0M286.0 57.0h0M286.2 63.1h0M286.3 63.1h0M286.5 45.9h0M286.1 50.1h0M286.3 58.3h0M286.4 55.2h0M284.2 66.4h0M273.5 74.1h0M278.5 70.6h0M271.2 74.3h0M278.6 70.7h0M259.9 67.6h0M259.2 66.7h0M260.2 68.9h0M263.0 70.1h0M264.0 71.2h0M259.6 67.2h0M260.5 67.6h0M263.0 69.6h0M255.9 50.2h0M255.9 57.7h0M255.8 61.8h0M255.8 64.4h0M256.4 53.1h0M270.5 37.3h0M257.1 45.7h0M257.0 45.3h0M264.5 41.9h0M259.3 44.1h0M259.4 43.9h0M259.4 44.8h0" fill="none" stroke="#d4161e" stroke-width="1.04" stroke-linecap="round" opacity="0.90"/>
<polygon points="271.2,44.8 280.8,50.9 280.8,61.5 270.6,67.1 261.5,61.5 261.5,50.9" fill="none" stroke="#300507" stroke-width="2.0" opacity="0.6" filter="url(#hz)"/>
<path d="M273.8 46.0h0M278.4 49.5h0M277.5 49.3h0M271.6 44.4h0M273.3 45.8h0M275.5 48.5h0M279.7 50.2h0M278.5 49.1h0M280.9 51.6h0M272.0 66.5h0M270.9 67.1h0M272.2 66.3h0M277.4 63.1h0M263.0 61.5h0M269.1 66.0h0M266.1 64.6h0M266.5 64.7h0M261.8 61.6h0M261.5 53.3h0M261.0 54.0h0M261.1 53.2h0M261.2 55.9h0M262.0 56.0h0M261.2 59.7h0M262.9 50.4h0M268.3 46.5h0M270.8 45.0h0M268.7 46.3h0M269.1 46.2h0M269.9 46.7h0" fill="none" stroke="#d4161e" stroke-width="0.56" stroke-linecap="round" opacity="0.90"/>
<path d="M273.6 46.4h0M277.2 48.7h0M279.0 49.2h0M275.2 47.5h0M273.1 45.7h0M276.9 48.3h0M280.8 53.5h0M281.0 53.6h0M281.3 58.7h0M281.1 60.7h0M281.0 55.9h0M274.7 64.7h0M274.3 65.0h0M272.7 65.9h0M277.5 63.2h0M280.4 62.3h0M274.1 65.0h0M279.5 61.9h0M273.1 65.8h0M279.4 62.1h0M262.1 61.9h0M266.9 64.2h0M267.7 65.6h0M263.2 62.4h0M262.8 62.0h0M262.0 60.9h0M271.3 66.8h0M261.1 55.1h0M261.4 60.3h0M261.8 58.0h0M261.0 59.9h0M261.2 54.2h0M261.5 53.5h0M262.4 58.0h0M265.6 48.0h0M262.9 50.1h0M262.8 50.4h0M270.8 44.7h0M263.8 49.2h0M265.8 47.7h0M270.2 44.7h0M270.3 45.2h0" fill="none" stroke="#d4161e" stroke-width="0.80" stroke-linecap="round" opacity="0.90"/>
<path d="M280.6 50.6h0M272.4 45.4h0M276.0 47.8h0M271.5 44.6h0M281.1 60.3h0M281.2 55.4h0M281.0 52.6h0M281.1 51.7h0M280.7 58.7h0M281.3 51.8h0M281.0 54.3h0M280.9 54.6h0M281.1 55.8h0M280.9 51.6h0M280.1 62.7h0M270.8 67.0h0M272.4 65.4h0M275.0 64.4h0M271.7 67.0h0M263.3 62.7h0M269.9 66.9h0M263.4 62.4h0M263.2 62.3h0M270.1 66.3h0M261.2 55.5h0M261.4 55.1h0M261.9 61.2h0M262.8 50.3h0M267.5 48.2h0M263.3 50.2h0M271.4 44.9h0" fill="none" stroke="#d4161e" stroke-width="1.04" stroke-linecap="round" opacity="0.90"/>
<text x="148.8" y="96.2" font-size="10.8" text-anchor="middle">(a)</text>
<rect x="32.1" y="106.8" width="254.6" height="190.8" fill="#fff"/>
<line x1="32.1" y1="270.34" x2="286.7" y2="270.34" stroke="#e4e4e4" stroke-width="0.7"/>
<line x1="32.1" y1="243.09" x2="286.7" y2="243.09" stroke="#e4e4e4" stroke-width="0.7"/>
<line x1="32.1" y1="215.83" x2="286.7" y2="215.83" stroke="#e4e4e4" stroke-width="0.7"/>
<line x1="32.1" y1="188.57" x2="286.7" y2="188.57" stroke="#e4e4e4" stroke-width="0.7"/>
<line x1="32.1" y1="161.31" x2="286.7" y2="161.31" stroke="#e4e4e4" stroke-width="0.7"/>
<line x1="32.1" y1="134.06" x2="286.7" y2="134.06" stroke="#e4e4e4" stroke-width="0.7"/>
<line x1="80.7" y1="106.8" x2="80.7" y2="297.6" stroke="#e4e4e4" stroke-width="0.7"/>
<line x1="133.2" y1="106.8" x2="133.2" y2="297.6" stroke="#e4e4e4" stroke-width="0.7"/>
<line x1="185.7" y1="106.8" x2="185.7" y2="297.6" stroke="#e4e4e4" stroke-width="0.7"/>
<line x1="238.2" y1="106.8" x2="238.2" y2="297.6" stroke="#e4e4e4" stroke-width="0.7"/>
<rect x="32.1" y="106.8" width="254.6" height="190.8" fill="none" stroke="#959595" stroke-width="1.35"/>
<line x1="32.1" y1="297.60" x2="34.3" y2="297.60" stroke="#777" stroke-width="0.7"/>
<line x1="286.7" y1="297.60" x2="284.5" y2="297.60" stroke="#777" stroke-width="0.7"/>
<text class="b" x="27.4" y="300.8" font-size="9.4" text-anchor="end">0</text>
<line x1="32.1" y1="270.34" x2="34.3" y2="270.34" stroke="#777" stroke-width="0.7"/>
<line x1="286.7" y1="270.34" x2="284.5" y2="270.34" stroke="#777" stroke-width="0.7"/>
<text class="b" x="27.4" y="273.5" font-size="9.4" text-anchor="end">1</text>
<line x1="32.1" y1="243.09" x2="34.3" y2="243.09" stroke="#777" stroke-width="0.7"/>
<line x1="286.7" y1="243.09" x2="284.5" y2="243.09" stroke="#777" stroke-width="0.7"/>
<text class="b" x="27.4" y="246.3" font-size="9.4" text-anchor="end">2</text>
<line x1="32.1" y1="215.83" x2="34.3" y2="215.83" stroke="#777" stroke-width="0.7"/>
<line x1="286.7" y1="215.83" x2="284.5" y2="215.83" stroke="#777" stroke-width="0.7"/>
<text class="b" x="27.4" y="219.0" font-size="9.4" text-anchor="end">3</text>
<line x1="32.1" y1="188.57" x2="34.3" y2="188.57" stroke="#777" stroke-width="0.7"/>
<line x1="286.7" y1="188.57" x2="284.5" y2="188.57" stroke="#777" stroke-width="0.7"/>
<text class="b" x="27.4" y="191.8" font-size="9.4" text-anchor="end">4</text>
<line x1="32.1" y1="161.31" x2="34.3" y2="161.31" stroke="#777" stroke-width="0.7"/>
<line x1="286.7" y1="161.31" x2="284.5" y2="161.31" stroke="#777" stroke-width="0.7"/>
<text class="b" x="27.4" y="164.5" font-size="9.4" text-anchor="end">5</text>
<line x1="32.1" y1="134.06" x2="34.3" y2="134.06" stroke="#777" stroke-width="0.7"/>
<line x1="286.7" y1="134.06" x2="284.5" y2="134.06" stroke="#777" stroke-width="0.7"/>
<text class="b" x="27.4" y="137.3" font-size="9.4" text-anchor="end">6</text>
<line x1="32.1" y1="106.80" x2="34.3" y2="106.80" stroke="#777" stroke-width="0.7"/>
<line x1="286.7" y1="106.80" x2="284.5" y2="106.80" stroke="#777" stroke-width="0.7"/>
<text class="b" x="27.4" y="110.0" font-size="9.4" text-anchor="end">7</text>
<line x1="80.7" y1="106.8" x2="80.7" y2="109.0" stroke="#777" stroke-width="0.7"/>
<line x1="133.2" y1="106.8" x2="133.2" y2="109.0" stroke="#777" stroke-width="0.7"/>
<line x1="185.7" y1="106.8" x2="185.7" y2="109.0" stroke="#777" stroke-width="0.7"/>
<line x1="238.2" y1="106.8" x2="238.2" y2="109.0" stroke="#777" stroke-width="0.7"/>
<rect x="74.35" y="128.61" width="12.7" height="168.99" fill="#0072BD" stroke="#0a2a44" stroke-width="0.5"/>
<text class="b" x="80.7" y="311.2" font-size="9.3" letter-spacing="0.5" text-anchor="middle">30°</text>
<rect x="126.85" y="276.61" width="12.7" height="20.99" fill="#0072BD" stroke="#0a2a44" stroke-width="0.5"/>
<text class="b" x="133.2" y="311.2" font-size="9.3" letter-spacing="0.5" text-anchor="middle">−60°</text>
<rect x="179.35" y="153.95" width="12.7" height="143.65" fill="#0072BD" stroke="#0a2a44" stroke-width="0.5"/>
<text class="b" x="185.7" y="311.2" font-size="9.3" letter-spacing="0.5" text-anchor="middle">0°</text>
<rect x="231.85" y="218.28" width="12.7" height="79.32" fill="#0072BD" stroke="#0a2a44" stroke-width="0.5"/>
<text class="b" x="238.2" y="311.2" font-size="9.3" letter-spacing="0.5" text-anchor="middle">90°</text>
<text x="112.1" y="325.2" font-size="12.4" textLength="29.3" lengthAdjust="spacingAndGlyphs" class="l">Angle</text>
<text x="145.4" y="325.2" font-size="12.4" textLength="9.9" lengthAdjust="spacingAndGlyphs" class="l">of</text>
<text x="158.8" y="325.2" font-size="12.4" textLength="48.2" lengthAdjust="spacingAndGlyphs" class="l">polarizer</text>
<text transform="translate(16.6 203) rotate(-90)" font-size="12.4" letter-spacing="0.1" text-anchor="middle" class="l">Mean of image intensity</text>
<text x="149.2" y="349" font-size="10.8" text-anchor="middle">(b)</text>
<line x1="234.6" y1="124.7" x2="234.6" y2="193.8" stroke="#4472C4" stroke-width="0.9" stroke-dasharray="0.9 1.1"/>
<line x1="207" y1="164.8" x2="274.3" y2="164.8" stroke="#4472C4" stroke-width="0.9" stroke-dasharray="0.9 1.1"/>
<path d="M234.6 122.8l-1.3 2.6h2.6z" fill="#4472C4"/>
<path d="M276 164.8l-2.6-1.3v2.6z" fill="#4472C4"/>
<path d="M234.6 134.6H253.4V164.8" fill="none" stroke="#4472C4" stroke-width="0.7" stroke-dasharray="1.2 1.2"/>
<line x1="234.6" y1="164.8" x2="234.1" y2="137" stroke="#8FD14F" stroke-width="1.1"/>
<path d="M234.1 133.4l-2 4.2h4z" fill="#8FD14F"/>
<line x1="234.6" y1="164.8" x2="250" y2="164.8" stroke="#FFC000" stroke-width="1.4"/>
<path d="M253.6 164.8l-4.2-2v4z" fill="#FFC000"/>
<line x1="234.6" y1="164.8" x2="250.4" y2="139.4" stroke="#FF0000" stroke-width="2.2"/>
<path d="M253.4 134.4l-6.2 2.9 4.2 2.9z" fill="#FF0000"/>
<text class="s" x="235.9" y="121.6" font-size="8" text-anchor="middle">0°</text>
<text class="s" x="277.9" y="162.4" font-size="8" text-anchor="middle">90°</text>
<text class="s" x="207.8" y="162.4" font-size="8" text-anchor="end" textLength="16.2" lengthAdjust="spacing">–90°</text>
<g id="c">
<line x1="336.3" y1="85.1" x2="446.1" y2="32.8" stroke="#e3e3e3" stroke-width="0.6"/>
<line x1="446.1" y1="32.8" x2="525.0" y2="105.6" stroke="#e3e3e3" stroke-width="0.6"/>
<line x1="336.3" y1="76.6" x2="446.1" y2="24.3" stroke="#e3e3e3" stroke-width="0.6"/>
<line x1="446.1" y1="24.3" x2="525.0" y2="97.1" stroke="#e3e3e3" stroke-width="0.6"/>
<line x1="336.3" y1="68.0" x2="446.1" y2="15.7" stroke="#e3e3e3" stroke-width="0.6"/>
<line x1="446.1" y1="15.7" x2="525.0" y2="88.5" stroke="#e3e3e3" stroke-width="0.6"/>
<line x1="336.3" y1="61.1" x2="446.1" y2="8.8" stroke="#e3e3e3" stroke-width="0.6"/>
<line x1="446.1" y1="8.8" x2="525.0" y2="81.6" stroke="#e3e3e3" stroke-width="0.6"/>
<line x1="372.9" y1="67.7" x2="372.9" y2="43.7" stroke="#e3e3e3" stroke-width="0.6"/>
<line x1="409.5" y1="50.2" x2="409.5" y2="26.2" stroke="#e3e3e3" stroke-width="0.6"/>
<line x1="446.1" y1="32.8" x2="446.1" y2="8.8" stroke="#e3e3e3" stroke-width="0.6"/>
<line x1="525.0" y1="105.6" x2="525.0" y2="81.6" stroke="#e3e3e3" stroke-width="0.6"/>
<line x1="498.7" y1="81.3" x2="498.7" y2="57.3" stroke="#e3e3e3" stroke-width="0.6"/>
<line x1="472.4" y1="57.1" x2="472.4" y2="33.1" stroke="#e3e3e3" stroke-width="0.6"/>
<line x1="415.2" y1="157.9" x2="525.0" y2="105.6" stroke="#666" stroke-width="0.6"/>
<line x1="415.2" y1="157.9" x2="336.3" y2="85.1" stroke="#666" stroke-width="0.6"/>
<polygon points="415.2,157.9 520.2,107.9 441.3,35.1 336.3,85.1" fill="#3E26A8"/>
<line x1="336.3" y1="85.1" x2="336.3" y2="61.1" stroke="#666" stroke-width="0.6"/>
<line x1="336.3" y1="85.1" x2="333.8" y2="86.3" stroke="#666" stroke-width="0.6"/>
<text x="332.4" y="84.5" font-size="7.4" text-anchor="end" class="g">0</text>
<line x1="336.3" y1="76.6" x2="333.8" y2="77.8" stroke="#666" stroke-width="0.6"/>
<text x="332.4" y="76.0" font-size="7.4" text-anchor="end" class="g">50</text>
<line x1="336.3" y1="68.0" x2="333.8" y2="69.2" stroke="#666" stroke-width="0.6"/>
<text x="332.4" y="67.4" font-size="7.4" text-anchor="end" class="g">100</text>
<line x1="415.2" y1="157.9" x2="412.7" y2="159.1" stroke="#666" stroke-width="0.6"/>
<line x1="415.2" y1="157.9" x2="417.0" y2="159.6" stroke="#666" stroke-width="0.6"/>
<line x1="388.9" y1="133.6" x2="386.4" y2="134.8" stroke="#666" stroke-width="0.6"/>
<line x1="451.8" y1="140.5" x2="453.6" y2="142.2" stroke="#666" stroke-width="0.6"/>
<line x1="362.6" y1="109.4" x2="360.1" y2="110.6" stroke="#666" stroke-width="0.6"/>
<line x1="488.4" y1="123.0" x2="490.2" y2="124.7" stroke="#666" stroke-width="0.6"/>
<line x1="336.3" y1="85.1" x2="333.8" y2="86.3" stroke="#666" stroke-width="0.6"/>
<line x1="525.0" y1="105.6" x2="526.8" y2="107.3" stroke="#666" stroke-width="0.6"/>
</g>
<polygon points="402.5,70.0 442.5,69.0 465.5,92.0 456.0,111.0 414.0,111.3 391.5,92.5" fill="none" stroke="#4668F0" stroke-width="10.0" stroke-linejoin="round" opacity="0.95" filter="url(#bl)"/>
<polygon points="414.0,80.0 440.8,77.2 450.4,92.0 444.6,104.0 417.7,104.0 409.0,92.5" fill="none" stroke="#4668F0" stroke-width="10.0" stroke-linejoin="round" opacity="0.95" filter="url(#bl)"/>
<g fill="url(#gc)">
<path transform="translate(419.4 67.1)" d="M-1.5 0L-0.70 -3.3L0.70 -3.3L1.5 0z"/>
<path transform="translate(430.4 67.2)" d="M-1.5 0L-0.70 -4.3L0.70 -4.3L1.5 0z"/>
<path transform="translate(434.0 67.2)" d="M-1.2 0L-0.70 -5.2L0.70 -5.2L1.2 0z"/>
<path transform="translate(435.2 67.3)" d="M-1.6 0L-0.70 -5.8L0.70 -5.8L1.6 0z"/>
<path transform="translate(436.5 67.3)" d="M-1.3 0L-0.50 -8.1L0.50 -8.1L1.3 0z"/>
<path transform="translate(433.1 67.3)" d="M-1.7 0L-0.70 -5.3L0.70 -5.3L1.7 0z"/>
<path transform="translate(435.1 67.3)" d="M-1.1 0L-0.30 -10.4L0.30 -10.4L1.1 0z"/>
<path transform="translate(426.5 67.4)" d="M-1.5 0L-0.70 -5.3L0.70 -5.3L1.5 0z"/>
<path transform="translate(434.6 67.4)" d="M-1.1 0L-0.50 -11.0L0.50 -11.0L1.1 0z"/>
<path transform="translate(439.1 67.5)" d="M-1.6 0L-0.70 -5.5L0.70 -5.5L1.6 0z"/>
<path transform="translate(435.2 67.5)" d="M-1.1 0L-0.50 -10.7L0.50 -10.7L1.1 0z"/>
<path transform="translate(441.1 67.5)" d="M-0.8 0L-0.30 -11.3L0.30 -11.3L0.8 0z"/>
<path transform="translate(431.1 67.6)" d="M-1.2 0L-0.50 -8.3L0.50 -8.3L1.2 0z"/>
<path transform="translate(421.4 67.6)" d="M-1.0 0L-0.30 -7.4L0.30 -7.4L1.0 0z"/>
<path transform="translate(412.1 67.7)" d="M-1.6 0L-0.70 -5.2L0.70 -5.2L1.6 0z"/>
<path transform="translate(437.1 67.7)" d="M-0.9 0L-0.30 -8.1L0.30 -8.1L0.9 0z"/>
<path transform="translate(427.9 67.7)" d="M-1.1 0L-0.50 -8.1L0.50 -8.1L1.1 0z"/>
<path transform="translate(408.5 67.8)" d="M-1.6 0L-0.70 -3.5L0.70 -3.5L1.6 0z"/>
<path transform="translate(417.2 67.8)" d="M-1.0 0L-0.50 -6.2L0.50 -6.2L1.0 0z"/>
<path transform="translate(414.9 67.8)" d="M-1.6 0L-0.70 -7.8L0.70 -7.8L1.6 0z"/>
<path transform="translate(420.9 67.9)" d="M-1.1 0L-0.70 -8.1L0.70 -8.1L1.1 0z"/>
<path transform="translate(403.2 67.9)" d="M-1.6 0L-0.70 -4.6L0.70 -4.6L1.6 0z"/>
<path transform="translate(442.7 67.9)" d="M-1.3 0L-0.50 -9.6L0.50 -9.6L1.3 0z"/>
<path transform="translate(413.7 67.9)" d="M-1.6 0L-0.70 -5.7L0.70 -5.7L1.6 0z"/>
<path transform="translate(403.1 68.0)" d="M-1.2 0L-0.70 -4.4L0.70 -4.4L1.2 0z"/>
<path transform="translate(409.1 68.0)" d="M-1.6 0L-0.70 -6.9L0.70 -6.9L1.6 0z"/>
<path transform="translate(409.5 68.0)" d="M-1.4 0L-0.70 -5.3L0.70 -5.3L1.4 0z"/>
<path transform="translate(427.4 68.0)" d="M-1.0 0L-0.50 -9.0L0.50 -9.0L1.0 0z"/>
<path transform="translate(437.9 68.1)" d="M-0.9 0L-0.30 -13.2L0.30 -13.2L0.9 0z"/>
<path transform="translate(442.2 68.1)" d="M-1.7 0L-0.70 -5.9L0.70 -5.9L1.7 0z"/>
<path transform="translate(429.6 68.1)" d="M-0.9 0L-0.30 -15.6L0.30 -15.6L0.9 0z"/>
<path transform="translate(436.8 68.1)" d="M-1.1 0L-0.70 -7.2L0.70 -7.2L1.1 0z"/>
<path transform="translate(445.7 68.2)" d="M-1.4 0L-0.70 -2.6L0.70 -2.6L1.4 0z"/>
<path transform="translate(414.1 68.2)" d="M-1.0 0L-0.50 -10.8L0.50 -10.8L1.0 0z"/>
<path transform="translate(400.7 68.2)" d="M-1.0 0L-0.50 -5.5L0.50 -5.5L1.0 0z"/>
<path transform="translate(440.5 68.2)" d="M-1.6 0L-0.70 -5.5L0.70 -5.5L1.6 0z"/>
<path transform="translate(421.5 68.2)" d="M-1.1 0L-0.30 -11.6L0.30 -11.6L1.1 0z"/>
<path transform="translate(416.9 68.3)" d="M-1.1 0L-0.50 -4.3L0.50 -4.3L1.1 0z"/>
<path transform="translate(404.1 68.3)" d="M-1.1 0L-0.70 -7.3L0.70 -7.3L1.1 0z"/>
<path transform="translate(417.9 68.3)" d="M-1.0 0L-0.30 -6.6L0.30 -6.6L1.0 0z"/>
<path transform="translate(428.2 68.3)" d="M-0.9 0L-0.30 -12.9L0.30 -12.9L0.9 0z"/>
<path transform="translate(411.1 68.3)" d="M-1.2 0L-0.50 -3.4L0.50 -3.4L1.2 0z"/>
<path transform="translate(420.7 68.3)" d="M-1.2 0L-0.70 -3.1L0.70 -3.1L1.2 0z"/>
<path transform="translate(421.9 68.3)" d="M-1.2 0L-0.70 -6.5L0.70 -6.5L1.2 0z"/>
<path transform="translate(414.2 68.4)" d="M-0.9 0L-0.50 -5.9L0.50 -5.9L0.9 0z"/>
<path transform="translate(404.8 68.4)" d="M-1.2 0L-0.50 -9.3L0.50 -9.3L1.2 0z"/>
<path transform="translate(428.2 68.4)" d="M-1.4 0L-0.70 -7.6L0.70 -7.6L1.4 0z"/>
<path transform="translate(421.9 68.5)" d="M-0.9 0L-0.50 -10.7L0.50 -10.7L0.9 0z"/>
<path transform="translate(408.1 68.5)" d="M-1.5 0L-0.70 -4.0L0.70 -4.0L1.5 0z"/>
<path transform="translate(424.8 68.5)" d="M-1.6 0L-0.70 -9.7L0.70 -9.7L1.6 0z"/>
<path transform="translate(404.7 68.5)" d="M-1.6 0L-0.70 -9.5L0.70 -9.5L1.6 0z"/>
<path transform="translate(441.5 68.6)" d="M-1.1 0L-0.70 -8.0L0.70 -8.0L1.1 0z"/>
<path transform="translate(412.5 68.6)" d="M-1.5 0L-0.70 -3.1L0.70 -3.1L1.5 0z"/>
<path transform="translate(406.5 68.6)" d="M-1.1 0L-0.50 -10.6L0.50 -10.6L1.1 0z"/>
<path transform="translate(408.7 68.7)" d="M-1.7 0L-0.70 -6.8L0.70 -6.8L1.7 0z"/>
<path transform="translate(430.2 68.7)" d="M-1.1 0L-0.50 -12.5L0.50 -12.5L1.1 0z"/>
<path transform="translate(445.9 68.7)" d="M-1.5 0L-0.70 -4.0L0.70 -4.0L1.5 0z"/>
<path transform="translate(408.2 68.7)" d="M-1.0 0L-0.50 -10.7L0.50 -10.7L1.0 0z"/>
<path transform="translate(443.0 68.7)" d="M-1.3 0L-0.50 -9.8L0.50 -9.8L1.3 0z"/>
<path transform="translate(431.5 68.7)" d="M-1.0 0L-0.50 -10.7L0.50 -10.7L1.0 0z"/>
<path transform="translate(423.2 68.7)" d="M-0.9 0L-0.50 -8.5L0.50 -8.5L0.9 0z"/>
<path transform="translate(425.3 68.7)" d="M-1.3 0L-0.70 -8.6L0.70 -8.6L1.3 0z"/>
<path transform="translate(443.7 68.8)" d="M-1.3 0L-0.70 -4.7L0.70 -4.7L1.3 0z"/>
<path transform="translate(432.6 68.8)" d="M-1.5 0L-0.70 -8.6L0.70 -8.6L1.5 0z"/>
<path transform="translate(439.0 68.8)" d="M-1.3 0L-0.50 -5.3L0.50 -5.3L1.3 0z"/>
<path transform="translate(411.4 68.8)" d="M-1.0 0L-0.50 -9.9L0.50 -9.9L1.0 0z"/>
<path transform="translate(429.4 68.8)" d="M-1.5 0L-0.70 -9.6L0.70 -9.6L1.5 0z"/>
<path transform="translate(410.8 68.9)" d="M-1.1 0L-0.50 -13.3L0.50 -13.3L1.1 0z"/>
<path transform="translate(411.1 68.9)" d="M-1.0 0L-0.50 -8.4L0.50 -8.4L1.0 0z"/>
<path transform="translate(439.2 68.9)" d="M-1.7 0L-0.70 -10.1L0.70 -10.1L1.7 0z"/>
<path transform="translate(409.8 69.0)" d="M-1.0 0L-0.30 -12.2L0.30 -12.2L1.0 0z"/>
<path transform="translate(423.3 69.0)" d="M-0.8 0L-0.30 -14.6L0.30 -14.6L0.8 0z"/>
<path transform="translate(437.9 69.0)" d="M-1.5 0L-0.70 -9.4L0.70 -9.4L1.5 0z"/>
<path transform="translate(415.6 69.0)" d="M-1.2 0L-0.70 -9.0L0.70 -9.0L1.2 0z"/>
<path transform="translate(405.4 69.0)" d="M-1.1 0L-0.70 -7.8L0.70 -7.8L1.1 0z"/>
<path transform="translate(439.1 69.1)" d="M-1.1 0L-0.30 -15.2L0.30 -15.2L1.1 0z"/>
<path transform="translate(427.7 69.1)" d="M-1.6 0L-0.70 -4.9L0.70 -4.9L1.6 0z"/>
<path transform="translate(437.9 69.1)" d="M-1.5 0L-0.70 -7.7L0.70 -7.7L1.5 0z"/>
<path transform="translate(442.7 69.2)" d="M-1.1 0L-0.50 -12.4L0.50 -12.4L1.1 0z"/>
<path transform="translate(424.7 69.2)" d="M-1.2 0L-0.70 -7.1L0.70 -7.1L1.2 0z"/>
<path transform="translate(441.9 69.2)" d="M-1.3 0L-0.70 -9.3L0.70 -9.3L1.3 0z"/>
<path transform="translate(414.9 69.2)" d="M-1.1 0L-0.50 -12.0L0.50 -12.0L1.1 0z"/>
<path transform="translate(420.1 69.2)" d="M-1.0 0L-0.50 -8.9L0.50 -8.9L1.0 0z"/>
<path transform="translate(432.9 69.2)" d="M-1.7 0L-0.70 -3.9L0.70 -3.9L1.7 0z"/>
<path transform="translate(440.3 69.3)" d="M-1.2 0L-0.50 -9.9L0.50 -9.9L1.2 0z"/>
<path transform="translate(433.0 69.3)" d="M-1.2 0L-0.50 -12.7L0.50 -12.7L1.2 0z"/>
<path transform="translate(440.5 69.4)" d="M-1.0 0L-0.30 -12.7L0.30 -12.7L1.0 0z"/>
<path transform="translate(420.9 69.4)" d="M-1.1 0L-0.50 -5.9L0.50 -5.9L1.1 0z"/>
<path transform="translate(429.4 69.4)" d="M-1.3 0L-0.50 -10.9L0.50 -10.9L1.3 0z"/>
<path transform="translate(437.2 69.4)" d="M-1.0 0L-0.30 -14.8L0.30 -14.8L1.0 0z"/>
<path transform="translate(429.3 69.5)" d="M-1.1 0L-0.50 -12.7L0.50 -12.7L1.1 0z"/>
<path transform="translate(436.0 69.5)" d="M-1.7 0L-0.70 -10.2L0.70 -10.2L1.7 0z"/>
<path transform="translate(429.6 69.5)" d="M-1.2 0L-0.50 -9.7L0.50 -9.7L1.2 0z"/>
<path transform="translate(435.9 69.5)" d="M-1.3 0L-0.70 -9.0L0.70 -9.0L1.3 0z"/>
<path transform="translate(407.3 69.5)" d="M-1.7 0L-0.70 -7.6L0.70 -7.6L1.7 0z"/>
<path transform="translate(443.5 69.5)" d="M-1.5 0L-0.70 -9.3L0.70 -9.3L1.5 0z"/>
<path transform="translate(410.9 69.5)" d="M-1.0 0L-0.30 -14.0L0.30 -14.0L1.0 0z"/>
<path transform="translate(408.4 69.6)" d="M-1.3 0L-0.70 -7.0L0.70 -7.0L1.3 0z"/>
<path transform="translate(433.3 69.6)" d="M-1.3 0L-0.50 -10.5L0.50 -10.5L1.3 0z"/>
<path transform="translate(446.0 69.6)" d="M-1.2 0L-0.70 -7.5L0.70 -7.5L1.2 0z"/>
<path transform="translate(419.1 69.6)" d="M-0.9 0L-0.50 -10.1L0.50 -10.1L0.9 0z"/>
<path transform="translate(420.8 69.7)" d="M-1.0 0L-0.50 -11.3L0.50 -11.3L1.0 0z"/>
<path transform="translate(403.2 69.7)" d="M-1.2 0L-0.50 -11.8L0.50 -11.8L1.2 0z"/>
<path transform="translate(400.0 69.7)" d="M-1.4 0L-0.70 -6.2L0.70 -6.2L1.4 0z"/>
<path transform="translate(425.2 69.7)" d="M-1.1 0L-0.50 -11.2L0.50 -11.2L1.1 0z"/>
<path transform="translate(410.1 69.7)" d="M-1.4 0L-0.70 -9.6L0.70 -9.6L1.4 0z"/>
<path transform="translate(422.3 69.8)" d="M-1.3 0L-0.70 -6.2L0.70 -6.2L1.3 0z"/>
<path transform="translate(404.8 69.8)" d="M-1.7 0L-0.70 -10.4L0.70 -10.4L1.7 0z"/>
<path transform="translate(430.3 69.8)" d="M-1.4 0L-0.70 -7.7L0.70 -7.7L1.4 0z"/>
<path transform="translate(435.8 69.8)" d="M-1.2 0L-0.70 -9.3L0.70 -9.3L1.2 0z"/>
<path transform="translate(412.5 69.9)" d="M-0.9 0L-0.50 -11.0L0.50 -11.0L0.9 0z"/>
<path transform="translate(414.5 69.9)" d="M-1.0 0L-0.50 -5.7L0.50 -5.7L1.0 0z"/>
<path transform="translate(412.1 69.9)" d="M-1.7 0L-0.70 -6.2L0.70 -6.2L1.7 0z"/>
<path transform="translate(443.5 69.9)" d="M-1.1 0L-0.70 -10.3L0.70 -10.3L1.1 0z"/>
<path transform="translate(441.9 69.9)" d="M-1.2 0L-0.50 -3.8L0.50 -3.8L1.2 0z"/>
<path transform="translate(415.9 69.9)" d="M-1.3 0L-0.50 -4.6L0.50 -4.6L1.3 0z"/>
<path transform="translate(439.0 69.9)" d="M-1.5 0L-0.70 -4.4L0.70 -4.4L1.5 0z"/>
<path transform="translate(436.0 70.0)" d="M-1.0 0L-0.50 -8.7L0.50 -8.7L1.0 0z"/>
<path transform="translate(417.8 70.1)" d="M-1.6 0L-0.70 -9.6L0.70 -9.6L1.6 0z"/>
<path transform="translate(430.5 70.1)" d="M-1.1 0L-0.50 -6.1L0.50 -6.1L1.1 0z"/>
<path transform="translate(419.9 70.1)" d="M-1.1 0L-0.70 -5.7L0.70 -5.7L1.1 0z"/>
<path transform="translate(428.9 70.1)" d="M-1.6 0L-0.70 -7.5L0.70 -7.5L1.6 0z"/>
<path transform="translate(423.9 70.2)" d="M-1.0 0L-0.30 -13.9L0.30 -13.9L1.0 0z"/>
<path transform="translate(447.0 70.2)" d="M-1.4 0L-0.70 -5.7L0.70 -5.7L1.4 0z"/>
<path transform="translate(406.7 70.2)" d="M-1.6 0L-0.70 -8.5L0.70 -8.5L1.6 0z"/>
<path transform="translate(406.2 70.3)" d="M-1.0 0L-0.50 -10.6L0.50 -10.6L1.0 0z"/>
<path transform="translate(440.5 70.3)" d="M-1.4 0L-0.70 -7.2L0.70 -7.2L1.4 0z"/>
<path transform="translate(431.4 70.3)" d="M-1.4 0L-0.70 -8.8L0.70 -8.8L1.4 0z"/>
<path transform="translate(412.1 70.3)" d="M-1.2 0L-0.50 -11.4L0.50 -11.4L1.2 0z"/>
<path transform="translate(417.0 70.3)" d="M-1.1 0L-0.50 -12.8L0.50 -12.8L1.1 0z"/>
<path transform="translate(443.3 70.3)" d="M-1.4 0L-0.70 -5.7L0.70 -5.7L1.4 0z"/>
<path transform="translate(438.8 70.4)" d="M-1.1 0L-0.70 -8.7L0.70 -8.7L1.1 0z"/>
<path transform="translate(429.6 70.4)" d="M-1.4 0L-0.70 -7.9L0.70 -7.9L1.4 0z"/>
<path transform="translate(442.0 70.4)" d="M-1.1 0L-0.70 -6.8L0.70 -6.8L1.1 0z"/>
<path transform="translate(422.8 70.4)" d="M-1.4 0L-0.70 -4.1L0.70 -4.1L1.4 0z"/>
<path transform="translate(421.8 70.4)" d="M-1.2 0L-0.50 -11.1L0.50 -11.1L1.2 0z"/>
<path transform="translate(409.5 70.5)" d="M-1.5 0L-0.70 -9.2L0.70 -9.2L1.5 0z"/>
<path transform="translate(428.1 70.5)" d="M-1.1 0L-0.50 -12.8L0.50 -12.8L1.1 0z"/>
<path transform="translate(441.8 70.5)" d="M-1.0 0L-0.50 -8.3L0.50 -8.3L1.0 0z"/>
<path transform="translate(447.5 70.5)" d="M-1.5 0L-0.70 -5.5L0.70 -5.5L1.5 0z"/>
<path transform="translate(445.3 70.5)" d="M-1.0 0L-0.30 -8.6L0.30 -8.6L1.0 0z"/>
<path transform="translate(415.1 70.5)" d="M-0.8 0L-0.30 -13.6L0.30 -13.6L0.8 0z"/>
<path transform="translate(426.2 70.5)" d="M-0.9 0L-0.30 -8.9L0.30 -8.9L0.9 0z"/>
<path transform="translate(421.1 70.6)" d="M-0.9 0L-0.50 -12.9L0.50 -12.9L0.9 0z"/>
<path transform="translate(424.4 70.6)" d="M-1.0 0L-0.30 -5.3L0.30 -5.3L1.0 0z"/>
<path transform="translate(413.8 70.6)" d="M-1.5 0L-0.70 -7.4L0.70 -7.4L1.5 0z"/>
<path transform="translate(420.7 70.6)" d="M-1.1 0L-0.50 -9.8L0.50 -9.8L1.1 0z"/>
<path transform="translate(425.1 70.6)" d="M-1.6 0L-0.70 -3.7L0.70 -3.7L1.6 0z"/>
<path transform="translate(402.8 70.6)" d="M-1.0 0L-0.50 -10.3L0.50 -10.3L1.0 0z"/>
<path transform="translate(437.1 70.7)" d="M-1.4 0L-0.70 -7.2L0.70 -7.2L1.4 0z"/>
<path transform="translate(423.1 70.7)" d="M-0.9 0L-0.50 -9.4L0.50 -9.4L0.9 0z"/>
<path transform="translate(401.7 70.7)" d="M-1.6 0L-0.70 -8.6L0.70 -8.6L1.6 0z"/>
<path transform="translate(440.7 70.7)" d="M-1.2 0L-0.70 -5.8L0.70 -5.8L1.2 0z"/>
<path transform="translate(429.9 70.7)" d="M-1.4 0L-0.70 -6.9L0.70 -6.9L1.4 0z"/>
<path transform="translate(442.4 70.7)" d="M-1.1 0L-0.50 -10.6L0.50 -10.6L1.1 0z"/>
<path transform="translate(425.3 70.8)" d="M-1.3 0L-0.70 -8.0L0.70 -8.0L1.3 0z"/>
<path transform="translate(418.1 70.8)" d="M-1.2 0L-0.70 -7.8L0.70 -7.8L1.2 0z"/>
<path transform="translate(436.4 70.8)" d="M-1.1 0L-0.70 -7.8L0.70 -7.8L1.1 0z"/>
<path transform="translate(409.0 70.8)" d="M-0.9 0L-0.50 -10.1L0.50 -10.1L0.9 0z"/>
<path transform="translate(444.7 70.8)" d="M-1.1 0L-0.50 -7.8L0.50 -7.8L1.1 0z"/>
<path transform="translate(411.5 70.8)" d="M-1.3 0L-0.70 -8.1L0.70 -8.1L1.3 0z"/>
<path transform="translate(414.8 70.8)" d="M-1.0 0L-0.50 -10.7L0.50 -10.7L1.0 0z"/>
<path transform="translate(410.7 70.8)" d="M-1.2 0L-0.50 -9.7L0.50 -9.7L1.2 0z"/>
<path transform="translate(410.7 70.9)" d="M-1.0 0L-0.30 -6.7L0.30 -6.7L1.0 0z"/>
<path transform="translate(422.3 70.9)" d="M-1.3 0L-0.50 -12.4L0.50 -12.4L1.3 0z"/>
<path transform="translate(426.8 70.9)" d="M-1.1 0L-0.50 -11.7L0.50 -11.7L1.1 0z"/>
<path transform="translate(421.2 70.9)" d="M-1.1 0L-0.70 -7.5L0.70 -7.5L1.1 0z"/>
<path transform="translate(442.3 70.9)" d="M-1.0 0L-0.50 -7.1L0.50 -7.1L1.0 0z"/>
<path transform="translate(405.0 70.9)" d="M-1.7 0L-0.70 -8.4L0.70 -8.4L1.7 0z"/>
<path transform="translate(411.6 71.0)" d="M-1.4 0L-0.70 -5.5L0.70 -5.5L1.4 0z"/>
<path transform="translate(411.2 71.0)" d="M-1.3 0L-0.50 -6.1L0.50 -6.1L1.3 0z"/>
<path transform="translate(439.4 71.0)" d="M-1.0 0L-0.50 -7.2L0.50 -7.2L1.0 0z"/>
<path transform="translate(431.9 71.0)" d="M-1.4 0L-0.70 -7.8L0.70 -7.8L1.4 0z"/>
<path transform="translate(444.8 71.1)" d="M-1.3 0L-0.70 -7.6L0.70 -7.6L1.3 0z"/>
<path transform="translate(416.5 71.1)" d="M-1.5 0L-0.70 -7.9L0.70 -7.9L1.5 0z"/>
<path transform="translate(429.2 71.1)" d="M-1.3 0L-0.50 -9.5L0.50 -9.5L1.3 0z"/>
<path transform="translate(421.1 71.1)" d="M-1.6 0L-0.70 -6.6L0.70 -6.6L1.6 0z"/>
<path transform="translate(403.2 71.2)" d="M-1.1 0L-0.50 -11.2L0.50 -11.2L1.1 0z"/>
<path transform="translate(404.1 71.3)" d="M-1.1 0L-0.70 -6.7L0.70 -6.7L1.1 0z"/>
<path transform="translate(428.3 71.3)" d="M-1.4 0L-0.70 -3.8L0.70 -3.8L1.4 0z"/>
<path transform="translate(412.5 71.3)" d="M-0.9 0L-0.30 -13.0L0.30 -13.0L0.9 0z"/>
<path transform="translate(415.8 71.3)" d="M-0.8 0L-0.30 -8.7L0.30 -8.7L0.8 0z"/>
<path transform="translate(439.4 71.3)" d="M-1.3 0L-0.70 -4.4L0.70 -4.4L1.3 0z"/>
<path transform="translate(409.6 71.3)" d="M-0.9 0L-0.30 -14.3L0.30 -14.3L0.9 0z"/>
<path transform="translate(447.7 71.4)" d="M-1.5 0L-0.70 -6.2L0.70 -6.2L1.5 0z"/>
<path transform="translate(415.0 71.4)" d="M-1.1 0L-0.50 -9.2L0.50 -9.2L1.1 0z"/>
<path transform="translate(414.2 71.4)" d="M-1.1 0L-0.50 -9.3L0.50 -9.3L1.1 0z"/>
<path transform="translate(431.8 71.4)" d="M-1.0 0L-0.50 -5.3L0.50 -5.3L1.0 0z"/>
<path transform="translate(426.3 71.5)" d="M-0.9 0L-0.30 -10.3L0.30 -10.3L0.9 0z"/>
<path transform="translate(443.8 71.5)" d="M-1.3 0L-0.70 -7.3L0.70 -7.3L1.3 0z"/>
<path transform="translate(400.4 71.5)" d="M-0.8 0L-0.30 -12.0L0.30 -12.0L0.8 0z"/>
<path transform="translate(412.8 71.6)" d="M-1.1 0L-0.50 -10.0L0.50 -10.0L1.1 0z"/>
<path transform="translate(403.6 71.7)" d="M-1.6 0L-0.70 -8.4L0.70 -8.4L1.6 0z"/>
<path transform="translate(427.4 71.7)" d="M-0.9 0L-0.50 -5.7L0.50 -5.7L0.9 0z"/>
<path transform="translate(402.0 71.7)" d="M-0.9 0L-0.30 -16.1L0.30 -16.1L0.9 0z"/>
<path transform="translate(403.5 71.8)" d="M-1.3 0L-0.70 -8.5L0.70 -8.5L1.3 0z"/>
<path transform="translate(401.0 71.8)" d="M-1.2 0L-0.50 -11.1L0.50 -11.1L1.2 0z"/>
<path transform="translate(409.9 71.8)" d="M-1.0 0L-0.30 -8.3L0.30 -8.3L1.0 0z"/>
<path transform="translate(404.4 71.8)" d="M-1.4 0L-0.70 -5.5L0.70 -5.5L1.4 0z"/>
<path transform="translate(406.0 71.9)" d="M-1.3 0L-0.70 -3.4L0.70 -3.4L1.3 0z"/>
<path transform="translate(402.0 72.0)" d="M-1.6 0L-0.70 -10.2L0.70 -10.2L1.6 0z"/>
<path transform="translate(419.0 72.0)" d="M-1.3 0L-0.50 -4.3L0.50 -4.3L1.3 0z"/>
<path transform="translate(421.4 72.0)" d="M-0.9 0L-0.50 -3.9L0.50 -3.9L0.9 0z"/>
<path transform="translate(444.1 72.0)" d="M-1.5 0L-0.70 -8.4L0.70 -8.4L1.5 0z"/>
<path transform="translate(398.2 72.1)" d="M-1.5 0L-0.70 -3.8L0.70 -3.8L1.5 0z"/>
<path transform="translate(403.0 72.1)" d="M-1.5 0L-0.70 -5.6L0.70 -5.6L1.5 0z"/>
<path transform="translate(398.7 72.2)" d="M-1.0 0L-0.30 -10.1L0.30 -10.1L1.0 0z"/>
<path transform="translate(447.0 72.2)" d="M-1.4 0L-0.70 -3.9L0.70 -3.9L1.4 0z"/>
<path transform="translate(443.3 72.3)" d="M-1.2 0L-0.70 -3.9L0.70 -3.9L1.2 0z"/>
<path transform="translate(404.5 72.3)" d="M-1.4 0L-0.70 -5.7L0.70 -5.7L1.4 0z"/>
<path transform="translate(404.1 72.3)" d="M-1.5 0L-0.70 -3.1L0.70 -3.1L1.5 0z"/>
<path transform="translate(448.6 72.7)" d="M-1.4 0L-0.70 -7.7L0.70 -7.7L1.4 0z"/>
<path transform="translate(447.4 72.8)" d="M-1.4 0L-0.70 -8.5L0.70 -8.5L1.4 0z"/>
<path transform="translate(398.3 72.9)" d="M-1.4 0L-0.70 -6.3L0.70 -6.3L1.4 0z"/>
<path transform="translate(401.5 73.0)" d="M-1.7 0L-0.70 -6.8L0.70 -6.8L1.7 0z"/>
<path transform="translate(400.4 73.0)" d="M-1.4 0L-0.70 -10.0L0.70 -10.0L1.4 0z"/>
<path transform="translate(400.4 73.1)" d="M-1.5 0L-0.70 -9.5L0.70 -9.5L1.5 0z"/>
<path transform="translate(446.0 73.2)" d="M-1.3 0L-0.70 -9.6L0.70 -9.6L1.3 0z"/>
<path transform="translate(402.8 73.2)" d="M-1.2 0L-0.50 -9.8L0.50 -9.8L1.2 0z"/>
<path transform="translate(448.6 73.3)" d="M-1.2 0L-0.70 -3.7L0.70 -3.7L1.2 0z"/>
<path transform="translate(444.6 73.4)" d="M-1.3 0L-0.70 -5.1L0.70 -5.1L1.3 0z"/>
<path transform="translate(400.6 73.4)" d="M-1.1 0L-0.30 -15.7L0.30 -15.7L1.1 0z"/>
<path transform="translate(445.6 73.5)" d="M-1.6 0L-0.70 -6.3L0.70 -6.3L1.6 0z"/>
<path transform="translate(404.0 73.5)" d="M-1.5 0L-0.70 -3.3L0.70 -3.3L1.5 0z"/>
<path transform="translate(448.7 73.6)" d="M-1.1 0L-0.50 -10.2L0.50 -10.2L1.1 0z"/>
<path transform="translate(447.9 73.7)" d="M-1.3 0L-0.70 -7.5L0.70 -7.5L1.3 0z"/>
<path transform="translate(447.7 73.7)" d="M-1.0 0L-0.50 -13.3L0.50 -13.3L1.0 0z"/>
<path transform="translate(401.7 73.8)" d="M-1.3 0L-0.50 -11.3L0.50 -11.3L1.3 0z"/>
<path transform="translate(445.1 73.8)" d="M-0.9 0L-0.50 -12.0L0.50 -12.0L0.9 0z"/>
<path transform="translate(446.7 73.9)" d="M-1.1 0L-0.70 -6.1L0.70 -6.1L1.1 0z"/>
<path transform="translate(451.4 74.2)" d="M-1.2 0L-0.50 -5.7L0.50 -5.7L1.2 0z"/>
<path transform="translate(451.7 74.4)" d="M-1.1 0L-0.50 -5.3L0.50 -5.3L1.1 0z"/>
<path transform="translate(448.4 74.4)" d="M-0.9 0L-0.30 -15.3L0.30 -15.3L0.9 0z"/>
<path transform="translate(451.3 74.5)" d="M-1.4 0L-0.70 -5.8L0.70 -5.8L1.4 0z"/>
<path transform="translate(399.2 74.6)" d="M-1.0 0L-0.50 -12.9L0.50 -12.9L1.0 0z"/>
<path transform="translate(449.3 74.6)" d="M-1.6 0L-0.70 -8.3L0.70 -8.3L1.6 0z"/>
<path transform="translate(402.8 74.7)" d="M-0.9 0L-0.50 -4.4L0.50 -4.4L0.9 0z"/>
<path transform="translate(451.9 74.9)" d="M-1.2 0L-0.50 -7.7L0.50 -7.7L1.2 0z"/>
<path transform="translate(449.3 75.0)" d="M-1.5 0L-0.70 -9.0L0.70 -9.0L1.5 0z"/>
<path transform="translate(446.0 75.1)" d="M-1.3 0L-0.70 -6.4L0.70 -6.4L1.3 0z"/>
<path transform="translate(399.9 75.1)" d="M-1.1 0L-0.50 -11.4L0.50 -11.4L1.1 0z"/>
<path transform="translate(401.4 75.1)" d="M-1.1 0L-0.50 -10.3L0.50 -10.3L1.1 0z"/>
<path transform="translate(448.2 75.2)" d="M-0.9 0L-0.50 -12.1L0.50 -12.1L0.9 0z"/>
<path transform="translate(401.7 75.4)" d="M-1.3 0L-0.70 -7.5L0.70 -7.5L1.3 0z"/>
<path transform="translate(441.1 75.4)" d="M-1.7 0L-0.70 -3.5L0.70 -3.5L1.7 0z"/>
<path transform="translate(452.4 75.6)" d="M-1.5 0L-0.70 -4.9L0.70 -4.9L1.5 0z"/>
<path transform="translate(433.5 75.8)" d="M-1.1 0L-0.50 -3.5L0.50 -3.5L1.1 0z"/>
<path transform="translate(441.9 75.9)" d="M-1.2 0L-0.50 -10.0L0.50 -10.0L1.2 0z"/>
<path transform="translate(433.9 75.9)" d="M-1.0 0L-0.50 -7.7L0.50 -7.7L1.0 0z"/>
<path transform="translate(450.0 76.0)" d="M-1.0 0L-0.50 -13.3L0.50 -13.3L1.0 0z"/>
<path transform="translate(400.6 76.0)" d="M-0.9 0L-0.50 -10.1L0.50 -10.1L0.9 0z"/>
<path transform="translate(449.2 76.0)" d="M-1.2 0L-0.50 -12.5L0.50 -12.5L1.2 0z"/>
<path transform="translate(428.2 76.1)" d="M-1.3 0L-0.50 -4.1L0.50 -4.1L1.3 0z"/>
<path transform="translate(435.4 76.1)" d="M-1.2 0L-0.70 -5.9L0.70 -5.9L1.2 0z"/>
<path transform="translate(434.8 76.2)" d="M-1.7 0L-0.70 -5.2L0.70 -5.2L1.7 0z"/>
<path transform="translate(432.8 76.2)" d="M-1.5 0L-0.70 -4.3L0.70 -4.3L1.5 0z"/>
<path transform="translate(438.8 76.3)" d="M-1.4 0L-0.70 -7.4L0.70 -7.4L1.4 0z"/>
<path transform="translate(399.1 76.3)" d="M-1.1 0L-0.50 -9.3L0.50 -9.3L1.1 0z"/>
<path transform="translate(439.9 76.3)" d="M-1.4 0L-0.70 -9.8L0.70 -9.8L1.4 0z"/>
<path transform="translate(450.6 76.3)" d="M-1.7 0L-0.70 -4.4L0.70 -4.4L1.7 0z"/>
<path transform="translate(439.3 76.3)" d="M-1.2 0L-0.70 -8.2L0.70 -8.2L1.2 0z"/>
<path transform="translate(440.3 76.3)" d="M-1.2 0L-0.70 -5.6L0.70 -5.6L1.2 0z"/>
<path transform="translate(447.7 76.4)" d="M-1.1 0L-0.70 -6.8L0.70 -6.8L1.1 0z"/>
<path transform="translate(439.0 76.4)" d="M-1.1 0L-0.50 -11.5L0.50 -11.5L1.1 0z"/>
<path transform="translate(435.7 76.4)" d="M-1.4 0L-0.70 -6.2L0.70 -6.2L1.4 0z"/>
<path transform="translate(434.8 76.4)" d="M-1.1 0L-0.50 -6.3L0.50 -6.3L1.1 0z"/>
<path transform="translate(438.7 76.5)" d="M-0.8 0L-0.30 -10.5L0.30 -10.5L0.8 0z"/>
<path transform="translate(440.9 76.5)" d="M-1.3 0L-0.70 -7.3L0.70 -7.3L1.3 0z"/>
<path transform="translate(441.2 76.6)" d="M-1.6 0L-0.70 -7.3L0.70 -7.3L1.6 0z"/>
<path transform="translate(433.3 76.6)" d="M-1.1 0L-0.50 -5.3L0.50 -5.3L1.1 0z"/>
<path transform="translate(436.2 76.7)" d="M-0.9 0L-0.50 -10.1L0.50 -10.1L0.9 0z"/>
<path transform="translate(434.0 76.7)" d="M-1.0 0L-0.50 -11.0L0.50 -11.0L1.0 0z"/>
<path transform="translate(431.1 76.7)" d="M-1.3 0L-0.50 -10.7L0.50 -10.7L1.3 0z"/>
<path transform="translate(427.0 76.7)" d="M-1.0 0L-0.50 -9.7L0.50 -9.7L1.0 0z"/>
<path transform="translate(432.1 76.8)" d="M-1.4 0L-0.70 -8.1L0.70 -8.1L1.4 0z"/>
<path transform="translate(448.7 76.8)" d="M-1.4 0L-0.70 -6.1L0.70 -6.1L1.4 0z"/>
<path transform="translate(399.8 76.8)" d="M-1.2 0L-0.70 -7.2L0.70 -7.2L1.2 0z"/>
<path transform="translate(438.0 76.9)" d="M-0.9 0L-0.30 -14.5L0.30 -14.5L0.9 0z"/>
<path transform="translate(439.8 76.9)" d="M-1.2 0L-0.50 -11.6L0.50 -11.6L1.2 0z"/>
<path transform="translate(427.4 76.9)" d="M-1.2 0L-0.70 -4.9L0.70 -4.9L1.2 0z"/>
<path transform="translate(433.7 77.0)" d="M-1.1 0L-0.50 -11.5L0.50 -11.5L1.1 0z"/>
<path transform="translate(430.6 77.0)" d="M-1.3 0L-0.70 -7.6L0.70 -7.6L1.3 0z"/>
<path transform="translate(397.0 77.1)" d="M-1.1 0L-0.50 -8.2L0.50 -8.2L1.1 0z"/>
<path transform="translate(397.1 77.1)" d="M-1.3 0L-0.50 -8.1L0.50 -8.1L1.3 0z"/>
<path transform="translate(442.7 77.2)" d="M-1.1 0L-0.70 -10.0L0.70 -10.0L1.1 0z"/>
<path transform="translate(422.1 77.3)" d="M-0.9 0L-0.30 -8.3L0.30 -8.3L0.9 0z"/>
<path transform="translate(448.0 77.3)" d="M-1.4 0L-0.70 -5.0L0.70 -5.0L1.4 0z"/>
<path transform="translate(437.5 77.3)" d="M-1.5 0L-0.70 -9.9L0.70 -9.9L1.5 0z"/>
<path transform="translate(426.3 77.3)" d="M-0.9 0L-0.50 -5.9L0.50 -5.9L0.9 0z"/>
<path transform="translate(433.7 77.4)" d="M-1.1 0L-0.50 -4.5L0.50 -4.5L1.1 0z"/>
<path transform="translate(448.2 77.4)" d="M-1.0 0L-0.50 -9.4L0.50 -9.4L1.0 0z"/>
<path transform="translate(440.5 77.4)" d="M-1.0 0L-0.50 -3.8L0.50 -3.8L1.0 0z"/>
<path transform="translate(395.6 77.4)" d="M-0.9 0L-0.30 -6.5L0.30 -6.5L0.9 0z"/>
<path transform="translate(440.6 77.4)" d="M-1.1 0L-0.70 -8.6L0.70 -8.6L1.1 0z"/>
<path transform="translate(430.6 77.5)" d="M-1.7 0L-0.70 -5.9L0.70 -5.9L1.7 0z"/>
<path transform="translate(438.9 77.5)" d="M-1.1 0L-0.70 -9.2L0.70 -9.2L1.1 0z"/>
<path transform="translate(436.0 77.5)" d="M-1.1 0L-0.70 -5.6L0.70 -5.6L1.1 0z"/>
<path transform="translate(430.5 77.5)" d="M-1.2 0L-0.70 -7.6L0.70 -7.6L1.2 0z"/>
<path transform="translate(414.6 77.6)" d="M-1.4 0L-0.70 -3.5L0.70 -3.5L1.4 0z"/>
<path transform="translate(397.9 77.6)" d="M-1.1 0L-0.70 -6.0L0.70 -6.0L1.1 0z"/>
<path transform="translate(396.7 77.6)" d="M-0.9 0L-0.50 -8.7L0.50 -8.7L0.9 0z"/>
<path transform="translate(428.1 77.6)" d="M-1.6 0L-0.70 -10.0L0.70 -10.0L1.6 0z"/>
<path transform="translate(447.9 77.7)" d="M-1.2 0L-0.70 -2.6L0.70 -2.6L1.2 0z"/>
<path transform="translate(395.8 77.7)" d="M-1.1 0L-0.70 -5.6L0.70 -5.6L1.1 0z"/>
<path transform="translate(416.5 77.7)" d="M-1.3 0L-0.50 -4.7L0.50 -4.7L1.3 0z"/>
<path transform="translate(434.5 77.8)" d="M-1.2 0L-0.70 -8.3L0.70 -8.3L1.2 0z"/>
<path transform="translate(426.2 77.9)" d="M-1.1 0L-0.50 -4.0L0.50 -4.0L1.1 0z"/>
<path transform="translate(429.7 77.9)" d="M-1.4 0L-0.70 -7.0L0.70 -7.0L1.4 0z"/>
<path transform="translate(449.7 77.9)" d="M-1.1 0L-0.70 -7.9L0.70 -7.9L1.1 0z"/>
<path transform="translate(438.0 77.9)" d="M-1.5 0L-0.70 -7.0L0.70 -7.0L1.5 0z"/>
<path transform="translate(400.7 77.9)" d="M-1.6 0L-0.70 -7.8L0.70 -7.8L1.6 0z"/>
<path transform="translate(449.9 78.0)" d="M-1.1 0L-0.70 -8.1L0.70 -8.1L1.1 0z"/>
<path transform="translate(449.9 78.0)" d="M-1.2 0L-0.50 -12.6L0.50 -12.6L1.2 0z"/>
<path transform="translate(438.9 78.0)" d="M-1.0 0L-0.30 -11.6L0.30 -11.6L1.0 0z"/>
<path transform="translate(450.1 78.1)" d="M-1.3 0L-0.70 -8.8L0.70 -8.8L1.3 0z"/>
<path transform="translate(428.0 78.1)" d="M-0.9 0L-0.30 -15.2L0.30 -15.2L0.9 0z"/>
<path transform="translate(414.0 78.1)" d="M-1.0 0L-0.30 -10.4L0.30 -10.4L1.0 0z"/>
<path transform="translate(436.0 78.1)" d="M-1.4 0L-0.70 -10.5L0.70 -10.5L1.4 0z"/>
<path transform="translate(430.4 78.1)" d="M-1.3 0L-0.70 -8.2L0.70 -8.2L1.3 0z"/>
<path transform="translate(427.6 78.1)" d="M-1.3 0L-0.70 -7.6L0.70 -7.6L1.3 0z"/>
<path transform="translate(438.5 78.2)" d="M-0.8 0L-0.30 -12.1L0.30 -12.1L0.8 0z"/>
<path transform="translate(429.3 78.2)" d="M-1.1 0L-0.50 -9.6L0.50 -9.6L1.1 0z"/>
<path transform="translate(425.2 78.2)" d="M-1.0 0L-0.30 -13.6L0.30 -13.6L1.0 0z"/>
<path transform="translate(400.8 78.2)" d="M-1.2 0L-0.50 -8.9L0.50 -8.9L1.2 0z"/>
<path transform="translate(418.2 78.2)" d="M-1.0 0L-0.50 -11.0L0.50 -11.0L1.0 0z"/>
<path transform="translate(448.4 78.2)" d="M-1.3 0L-0.70 -6.4L0.70 -6.4L1.3 0z"/>
<path transform="translate(424.7 78.2)" d="M-1.1 0L-0.30 -13.1L0.30 -13.1L1.1 0z"/>
<path transform="translate(443.2 78.2)" d="M-1.2 0L-0.50 -10.2L0.50 -10.2L1.2 0z"/>
<path transform="translate(436.3 78.2)" d="M-1.3 0L-0.50 -10.8L0.50 -10.8L1.3 0z"/>
<path transform="translate(449.7 78.3)" d="M-1.1 0L-0.50 -6.1L0.50 -6.1L1.1 0z"/>
<path transform="translate(415.9 78.3)" d="M-1.4 0L-0.70 -6.3L0.70 -6.3L1.4 0z"/>
<path transform="translate(439.4 78.3)" d="M-1.2 0L-0.50 -9.5L0.50 -9.5L1.2 0z"/>
<path transform="translate(398.5 78.3)" d="M-1.2 0L-0.50 -12.1L0.50 -12.1L1.2 0z"/>
<path transform="translate(438.1 78.4)" d="M-1.4 0L-0.70 -7.9L0.70 -7.9L1.4 0z"/>
<path transform="translate(397.0 78.4)" d="M-1.0 0L-0.50 -6.3L0.50 -6.3L1.0 0z"/>
<path transform="translate(454.4 78.4)" d="M-1.3 0L-0.70 -7.9L0.70 -7.9L1.3 0z"/>
<path transform="translate(432.4 78.5)" d="M-1.1 0L-0.30 -13.3L0.30 -13.3L1.1 0z"/>
<path transform="translate(426.6 78.5)" d="M-1.3 0L-0.70 -2.7L0.70 -2.7L1.3 0z"/>
<path transform="translate(455.6 78.5)" d="M-1.1 0L-0.30 -6.8L0.30 -6.8L1.1 0z"/>
<path transform="translate(432.5 78.6)" d="M-1.3 0L-0.70 -8.2L0.70 -8.2L1.3 0z"/>
<path transform="translate(400.1 78.6)" d="M-0.9 0L-0.50 -11.3L0.50 -11.3L0.9 0z"/>
<path transform="translate(394.9 78.6)" d="M-0.9 0L-0.30 -5.0L0.30 -5.0L0.9 0z"/>
<path transform="translate(444.5 78.7)" d="M-1.0 0L-0.50 -8.1L0.50 -8.1L1.0 0z"/>
<path transform="translate(455.7 78.7)" d="M-1.0 0L-0.50 -3.9L0.50 -3.9L1.0 0z"/>
<path transform="translate(432.4 78.7)" d="M-1.6 0L-0.70 -7.0L0.70 -7.0L1.6 0z"/>
<path transform="translate(427.9 78.8)" d="M-1.1 0L-0.70 -9.2L0.70 -9.2L1.1 0z"/>
<path transform="translate(400.6 78.8)" d="M-1.7 0L-0.70 -7.7L0.70 -7.7L1.7 0z"/>
<path transform="translate(424.9 78.8)" d="M-1.6 0L-0.70 -8.7L0.70 -8.7L1.6 0z"/>
<path transform="translate(449.4 78.9)" d="M-1.4 0L-0.70 -6.3L0.70 -6.3L1.4 0z"/>
<path transform="translate(439.1 78.9)" d="M-1.7 0L-0.70 -5.8L0.70 -5.8L1.7 0z"/>
<path transform="translate(398.5 78.9)" d="M-1.3 0L-0.70 -7.0L0.70 -7.0L1.3 0z"/>
<path transform="translate(450.7 78.9)" d="M-1.0 0L-0.50 -12.4L0.50 -12.4L1.0 0z"/>
<path transform="translate(419.0 79.0)" d="M-0.8 0L-0.30 -14.0L0.30 -14.0L0.8 0z"/>
<path transform="translate(438.7 79.0)" d="M-0.8 0L-0.30 -9.9L0.30 -9.9L0.8 0z"/>
<path transform="translate(419.4 79.0)" d="M-1.3 0L-0.70 -7.5L0.70 -7.5L1.3 0z"/>
<path transform="translate(441.0 79.0)" d="M-0.8 0L-0.30 -10.7L0.30 -10.7L0.8 0z"/>
<path transform="translate(432.2 79.1)" d="M-1.4 0L-0.70 -7.6L0.70 -7.6L1.4 0z"/>
<path transform="translate(454.2 79.1)" d="M-1.3 0L-0.70 -10.0L0.70 -10.0L1.3 0z"/>
<path transform="translate(395.1 79.1)" d="M-1.0 0L-0.30 -9.5L0.30 -9.5L1.0 0z"/>
<path transform="translate(397.4 79.1)" d="M-1.1 0L-0.30 -14.8L0.30 -14.8L1.1 0z"/>
<path transform="translate(451.4 79.2)" d="M-1.6 0L-0.70 -8.7L0.70 -8.7L1.6 0z"/>
<path transform="translate(420.1 79.2)" d="M-1.4 0L-0.70 -4.5L0.70 -4.5L1.4 0z"/>
<path transform="translate(398.7 79.2)" d="M-1.0 0L-0.50 -5.0L0.50 -5.0L1.0 0z"/>
<path transform="translate(411.7 79.2)" d="M-1.3 0L-0.70 -6.0L0.70 -6.0L1.3 0z"/>
<path transform="translate(450.0 79.2)" d="M-1.1 0L-0.50 -9.0L0.50 -9.0L1.1 0z"/>
<path transform="translate(398.1 79.3)" d="M-1.5 0L-0.70 -7.1L0.70 -7.1L1.5 0z"/>
<path transform="translate(449.4 79.3)" d="M-1.2 0L-0.50 -4.5L0.50 -4.5L1.2 0z"/>
<path transform="translate(413.0 79.3)" d="M-1.4 0L-0.70 -5.0L0.70 -5.0L1.4 0z"/>
<path transform="translate(431.3 79.3)" d="M-1.2 0L-0.70 -7.4L0.70 -7.4L1.2 0z"/>
<path transform="translate(453.2 79.3)" d="M-1.2 0L-0.70 -8.4L0.70 -8.4L1.2 0z"/>
<path transform="translate(432.6 79.3)" d="M-1.5 0L-0.70 -7.1L0.70 -7.1L1.5 0z"/>
<path transform="translate(437.3 79.4)" d="M-0.9 0L-0.50 -7.7L0.50 -7.7L0.9 0z"/>
<path transform="translate(414.8 79.4)" d="M-1.6 0L-0.70 -7.9L0.70 -7.9L1.6 0z"/>
<path transform="translate(420.4 79.4)" d="M-1.0 0L-0.50 -12.6L0.50 -12.6L1.0 0z"/>
<path transform="translate(427.0 79.4)" d="M-1.1 0L-0.50 -10.2L0.50 -10.2L1.1 0z"/>
<path transform="translate(421.9 79.4)" d="M-1.7 0L-0.70 -7.9L0.70 -7.9L1.7 0z"/>
<path transform="translate(452.5 79.4)" d="M-1.3 0L-0.50 -10.9L0.50 -10.9L1.3 0z"/>
<path transform="translate(417.4 79.4)" d="M-1.3 0L-0.70 -5.8L0.70 -5.8L1.3 0z"/>
<path transform="translate(423.4 79.5)" d="M-1.7 0L-0.70 -10.2L0.70 -10.2L1.7 0z"/>
<path transform="translate(451.4 79.5)" d="M-1.4 0L-0.70 -5.6L0.70 -5.6L1.4 0z"/>
<path transform="translate(427.8 79.5)" d="M-1.2 0L-0.70 -9.9L0.70 -9.9L1.2 0z"/>
<path transform="translate(432.9 79.5)" d="M-1.3 0L-0.70 -3.2L0.70 -3.2L1.3 0z"/>
<path transform="translate(423.7 79.6)" d="M-1.3 0L-0.70 -9.4L0.70 -9.4L1.3 0z"/>
<path transform="translate(441.7 79.6)" d="M-1.0 0L-0.30 -13.6L0.30 -13.6L1.0 0z"/>
<path transform="translate(416.9 79.6)" d="M-1.1 0L-0.70 -9.2L0.70 -9.2L1.1 0z"/>
<path transform="translate(431.1 79.6)" d="M-1.2 0L-0.50 -10.7L0.50 -10.7L1.2 0z"/>
<path transform="translate(444.2 79.7)" d="M-1.5 0L-0.70 -7.7L0.70 -7.7L1.5 0z"/>
<path transform="translate(423.1 79.7)" d="M-1.0 0L-0.50 -9.2L0.50 -9.2L1.0 0z"/>
<path transform="translate(414.4 79.7)" d="M-1.4 0L-0.70 -7.9L0.70 -7.9L1.4 0z"/>
<path transform="translate(422.2 79.7)" d="M-1.2 0L-0.70 -6.3L0.70 -6.3L1.2 0z"/>
<path transform="translate(421.6 79.7)" d="M-1.3 0L-0.70 -7.6L0.70 -7.6L1.3 0z"/>
<path transform="translate(428.1 79.7)" d="M-1.1 0L-0.70 -8.8L0.70 -8.8L1.1 0z"/>
<path transform="translate(418.6 79.7)" d="M-1.6 0L-0.70 -10.0L0.70 -10.0L1.6 0z"/>
<path transform="translate(417.0 79.8)" d="M-1.0 0L-0.50 -11.9L0.50 -11.9L1.0 0z"/>
<path transform="translate(417.0 79.9)" d="M-1.5 0L-0.70 -9.7L0.70 -9.7L1.5 0z"/>
<path transform="translate(399.4 79.9)" d="M-1.1 0L-0.70 -8.3L0.70 -8.3L1.1 0z"/>
<path transform="translate(422.7 79.9)" d="M-1.1 0L-0.70 -8.6L0.70 -8.6L1.1 0z"/>
<path transform="translate(434.8 79.9)" d="M-1.0 0L-0.30 -9.2L0.30 -9.2L1.0 0z"/>
<path transform="translate(443.7 79.9)" d="M-0.9 0L-0.50 -7.2L0.50 -7.2L0.9 0z"/>
<path transform="translate(416.4 79.9)" d="M-1.0 0L-0.30 -5.2L0.30 -5.2L1.0 0z"/>
<path transform="translate(398.7 80.0)" d="M-1.3 0L-0.70 -9.1L0.70 -9.1L1.3 0z"/>
<path transform="translate(416.0 80.1)" d="M-1.4 0L-0.70 -6.7L0.70 -6.7L1.4 0z"/>
<path transform="translate(439.9 80.1)" d="M-0.9 0L-0.30 -9.3L0.30 -9.3L0.9 0z"/>
<path transform="translate(421.9 80.1)" d="M-1.7 0L-0.70 -7.3L0.70 -7.3L1.7 0z"/>
<path transform="translate(424.0 80.1)" d="M-1.3 0L-0.70 -5.9L0.70 -5.9L1.3 0z"/>
<path transform="translate(414.4 80.2)" d="M-1.2 0L-0.50 -12.2L0.50 -12.2L1.2 0z"/>
<path transform="translate(443.0 80.2)" d="M-1.0 0L-0.50 -9.4L0.50 -9.4L1.0 0z"/>
<path transform="translate(396.4 80.2)" d="M-1.5 0L-0.70 -3.1L0.70 -3.1L1.5 0z"/>
<path transform="translate(424.9 80.2)" d="M-0.8 0L-0.30 -11.1L0.30 -11.1L0.8 0z"/>
<path transform="translate(443.7 80.3)" d="M-0.9 0L-0.30 -14.0L0.30 -14.0L0.9 0z"/>
<path transform="translate(433.4 80.3)" d="M-1.2 0L-0.50 -4.2L0.50 -4.2L1.2 0z"/>
<path transform="translate(416.7 80.3)" d="M-1.2 0L-0.70 -8.8L0.70 -8.8L1.2 0z"/>
<path transform="translate(440.0 80.3)" d="M-1.6 0L-0.70 -7.7L0.70 -7.7L1.6 0z"/>
<path transform="translate(414.1 80.3)" d="M-1.2 0L-0.50 -12.5L0.50 -12.5L1.2 0z"/>
<path transform="translate(420.0 80.3)" d="M-1.1 0L-0.70 -9.3L0.70 -9.3L1.1 0z"/>
<path transform="translate(420.1 80.4)" d="M-1.1 0L-0.50 -10.4L0.50 -10.4L1.1 0z"/>
<path transform="translate(443.4 80.4)" d="M-1.2 0L-0.50 -12.9L0.50 -12.9L1.2 0z"/>
<path transform="translate(415.7 80.5)" d="M-1.1 0L-0.50 -11.8L0.50 -11.8L1.1 0z"/>
<path transform="translate(452.6 80.5)" d="M-1.1 0L-0.30 -13.5L0.30 -13.5L1.1 0z"/>
<path transform="translate(425.4 80.5)" d="M-1.5 0L-0.70 -3.3L0.70 -3.3L1.5 0z"/>
<path transform="translate(429.0 80.6)" d="M-1.6 0L-0.70 -4.1L0.70 -4.1L1.6 0z"/>
<path transform="translate(452.5 80.6)" d="M-1.1 0L-0.70 -9.9L0.70 -9.9L1.1 0z"/>
<path transform="translate(446.3 80.7)" d="M-1.2 0L-0.70 -3.6L0.70 -3.6L1.2 0z"/>
<path transform="translate(411.6 80.7)" d="M-1.3 0L-0.70 -4.7L0.70 -4.7L1.3 0z"/>
<path transform="translate(399.3 80.7)" d="M-0.9 0L-0.30 -14.8L0.30 -14.8L0.9 0z"/>
<path transform="translate(416.9 80.7)" d="M-1.3 0L-0.50 -9.3L0.50 -9.3L1.3 0z"/>
<path transform="translate(440.9 80.7)" d="M-1.4 0L-0.70 -3.6L0.70 -3.6L1.4 0z"/>
<path transform="translate(398.5 80.7)" d="M-0.9 0L-0.50 -12.9L0.50 -12.9L0.9 0z"/>
<path transform="translate(425.6 80.8)" d="M-1.4 0L-0.70 -6.6L0.70 -6.6L1.4 0z"/>
<path transform="translate(398.5 80.8)" d="M-1.3 0L-0.70 -7.7L0.70 -7.7L1.3 0z"/>
<path transform="translate(440.6 80.8)" d="M-1.0 0L-0.30 -11.9L0.30 -11.9L1.0 0z"/>
<path transform="translate(399.0 80.8)" d="M-1.4 0L-0.70 -2.9L0.70 -2.9L1.4 0z"/>
<path transform="translate(414.2 80.8)" d="M-1.3 0L-0.70 -10.2L0.70 -10.2L1.3 0z"/>
<path transform="translate(420.5 80.9)" d="M-1.4 0L-0.70 -8.8L0.70 -8.8L1.4 0z"/>
<path transform="translate(446.1 80.9)" d="M-1.7 0L-0.70 -5.3L0.70 -5.3L1.7 0z"/>
<path transform="translate(454.9 81.0)" d="M-0.9 0L-0.50 -7.5L0.50 -7.5L0.9 0z"/>
<path transform="translate(416.4 81.0)" d="M-1.7 0L-0.70 -7.8L0.70 -7.8L1.7 0z"/>
<path transform="translate(415.9 81.0)" d="M-1.3 0L-0.70 -6.8L0.70 -6.8L1.3 0z"/>
<path transform="translate(422.5 81.0)" d="M-1.7 0L-0.70 -7.7L0.70 -7.7L1.7 0z"/>
<path transform="translate(444.0 81.0)" d="M-1.0 0L-0.50 -10.6L0.50 -10.6L1.0 0z"/>
<path transform="translate(396.9 81.1)" d="M-1.5 0L-0.70 -8.4L0.70 -8.4L1.5 0z"/>
<path transform="translate(457.2 81.1)" d="M-1.1 0L-0.50 -10.1L0.50 -10.1L1.1 0z"/>
<path transform="translate(452.4 81.1)" d="M-1.4 0L-0.70 -8.9L0.70 -8.9L1.4 0z"/>
<path transform="translate(455.5 81.2)" d="M-1.2 0L-0.50 -10.4L0.50 -10.4L1.2 0z"/>
<path transform="translate(441.9 81.3)" d="M-1.2 0L-0.70 -8.1L0.70 -8.1L1.2 0z"/>
<path transform="translate(418.3 81.4)" d="M-1.6 0L-0.70 -7.4L0.70 -7.4L1.6 0z"/>
<path transform="translate(456.1 81.4)" d="M-1.2 0L-0.50 -12.3L0.50 -12.3L1.2 0z"/>
<path transform="translate(442.1 81.4)" d="M-1.4 0L-0.70 -9.4L0.70 -9.4L1.4 0z"/>
<path transform="translate(414.5 81.4)" d="M-1.3 0L-0.70 -7.3L0.70 -7.3L1.3 0z"/>
<path transform="translate(454.0 81.4)" d="M-1.1 0L-0.50 -8.0L0.50 -8.0L1.1 0z"/>
<path transform="translate(399.3 81.4)" d="M-1.4 0L-0.70 -5.0L0.70 -5.0L1.4 0z"/>
<path transform="translate(420.2 81.4)" d="M-1.1 0L-0.50 -8.3L0.50 -8.3L1.1 0z"/>
<path transform="translate(421.6 81.5)" d="M-1.2 0L-0.50 -4.9L0.50 -4.9L1.2 0z"/>
<path transform="translate(418.1 81.5)" d="M-0.9 0L-0.30 -8.6L0.30 -8.6L0.9 0z"/>
<path transform="translate(420.3 81.5)" d="M-1.0 0L-0.50 -6.6L0.50 -6.6L1.0 0z"/>
<path transform="translate(397.6 81.5)" d="M-1.3 0L-0.50 -11.4L0.50 -11.4L1.3 0z"/>
<path transform="translate(396.2 81.5)" d="M-1.4 0L-0.70 -8.3L0.70 -8.3L1.4 0z"/>
<path transform="translate(455.5 81.6)" d="M-1.4 0L-0.70 -9.4L0.70 -9.4L1.4 0z"/>
<path transform="translate(415.7 81.6)" d="M-1.2 0L-0.70 -7.1L0.70 -7.1L1.2 0z"/>
<path transform="translate(453.5 81.6)" d="M-1.5 0L-0.70 -8.1L0.70 -8.1L1.5 0z"/>
<path transform="translate(414.0 81.7)" d="M-1.1 0L-0.30 -13.2L0.30 -13.2L1.1 0z"/>
<path transform="translate(453.7 81.7)" d="M-1.6 0L-0.70 -9.2L0.70 -9.2L1.6 0z"/>
<path transform="translate(458.6 81.8)" d="M-1.5 0L-0.70 -3.5L0.70 -3.5L1.5 0z"/>
<path transform="translate(416.0 81.9)" d="M-1.1 0L-0.70 -5.0L0.70 -5.0L1.1 0z"/>
<path transform="translate(441.0 81.9)" d="M-1.6 0L-0.70 -3.8L0.70 -3.8L1.6 0z"/>
<path transform="translate(444.2 81.9)" d="M-1.1 0L-0.50 -10.2L0.50 -10.2L1.1 0z"/>
<path transform="translate(454.0 82.1)" d="M-1.3 0L-0.70 -6.0L0.70 -6.0L1.3 0z"/>
<path transform="translate(454.5 82.2)" d="M-1.2 0L-0.70 -8.6L0.70 -8.6L1.2 0z"/>
<path transform="translate(414.6 82.2)" d="M-1.5 0L-0.70 -3.7L0.70 -3.7L1.5 0z"/>
<path transform="translate(414.8 82.3)" d="M-1.0 0L-0.50 -9.2L0.50 -9.2L1.0 0z"/>
<path transform="translate(412.7 82.4)" d="M-1.4 0L-0.70 -7.2L0.70 -7.2L1.4 0z"/>
<path transform="translate(454.4 82.4)" d="M-1.3 0L-0.50 -10.4L0.50 -10.4L1.3 0z"/>
<path transform="translate(399.7 82.5)" d="M-1.1 0L-0.70 -3.7L0.70 -3.7L1.1 0z"/>
<path transform="translate(443.2 82.5)" d="M-1.1 0L-0.70 -9.0L0.70 -9.0L1.1 0z"/>
<path transform="translate(415.7 82.5)" d="M-1.4 0L-0.70 -3.5L0.70 -3.5L1.4 0z"/>
<path transform="translate(415.2 82.5)" d="M-1.3 0L-0.70 -6.8L0.70 -6.8L1.3 0z"/>
<path transform="translate(441.8 82.5)" d="M-1.2 0L-0.50 -9.9L0.50 -9.9L1.2 0z"/>
<path transform="translate(440.9 82.6)" d="M-0.9 0L-0.30 -6.9L0.30 -6.9L0.9 0z"/>
<path transform="translate(397.9 82.6)" d="M-1.1 0L-0.70 -3.5L0.70 -3.5L1.1 0z"/>
<path transform="translate(411.5 82.7)" d="M-1.3 0L-0.70 -8.9L0.70 -8.9L1.3 0z"/>
<path transform="translate(458.9 82.7)" d="M-1.2 0L-0.50 -9.5L0.50 -9.5L1.2 0z"/>
<path transform="translate(444.1 82.7)" d="M-1.1 0L-0.50 -12.0L0.50 -12.0L1.1 0z"/>
<path transform="translate(456.3 82.8)" d="M-1.5 0L-0.70 -7.7L0.70 -7.7L1.5 0z"/>
<path transform="translate(458.7 82.9)" d="M-0.9 0L-0.30 -9.4L0.30 -9.4L0.9 0z"/>
<path transform="translate(395.1 82.9)" d="M-1.4 0L-0.70 -6.1L0.70 -6.1L1.4 0z"/>
<path transform="translate(457.9 82.9)" d="M-1.5 0L-0.70 -10.4L0.70 -10.4L1.5 0z"/>
<path transform="translate(454.1 83.0)" d="M-1.1 0L-0.30 -13.1L0.30 -13.1L1.1 0z"/>
<path transform="translate(445.0 83.0)" d="M-1.3 0L-0.50 -11.7L0.50 -11.7L1.3 0z"/>
<path transform="translate(413.6 83.1)" d="M-0.9 0L-0.30 -13.1L0.30 -13.1L0.9 0z"/>
<path transform="translate(397.5 83.1)" d="M-1.0 0L-0.30 -13.2L0.30 -13.2L1.0 0z"/>
<path transform="translate(445.5 83.2)" d="M-1.2 0L-0.70 -5.0L0.70 -5.0L1.2 0z"/>
<path transform="translate(414.8 83.2)" d="M-0.9 0L-0.30 -7.6L0.30 -7.6L0.9 0z"/>
<path transform="translate(444.8 83.2)" d="M-1.1 0L-0.50 -10.8L0.50 -10.8L1.1 0z"/>
<path transform="translate(411.3 83.2)" d="M-1.2 0L-0.50 -7.9L0.50 -7.9L1.2 0z"/>
<path transform="translate(409.4 83.2)" d="M-1.2 0L-0.70 -4.2L0.70 -4.2L1.2 0z"/>
<path transform="translate(444.0 83.2)" d="M-1.4 0L-0.70 -4.5L0.70 -4.5L1.4 0z"/>
<path transform="translate(398.1 83.3)" d="M-1.4 0L-0.70 -7.5L0.70 -7.5L1.4 0z"/>
<path transform="translate(394.3 83.3)" d="M-1.6 0L-0.70 -2.4L0.70 -2.4L1.6 0z"/>
<path transform="translate(413.1 83.3)" d="M-1.4 0L-0.70 -9.7L0.70 -9.7L1.4 0z"/>
<path transform="translate(459.5 83.4)" d="M-1.7 0L-0.70 -7.8L0.70 -7.8L1.7 0z"/>
<path transform="translate(415.9 83.4)" d="M-0.8 0L-0.30 -6.8L0.30 -6.8L0.8 0z"/>
<path transform="translate(461.0 83.5)" d="M-1.0 0L-0.50 -3.7L0.50 -3.7L1.0 0z"/>
<path transform="translate(393.1 83.5)" d="M-1.1 0L-0.50 -7.1L0.50 -7.1L1.1 0z"/>
<path transform="translate(393.7 83.6)" d="M-1.3 0L-0.50 -5.6L0.50 -5.6L1.3 0z"/>
<path transform="translate(457.9 83.7)" d="M-0.9 0L-0.50 -7.6L0.50 -7.6L0.9 0z"/>
<path transform="translate(459.4 83.7)" d="M-1.3 0L-0.50 -5.0L0.50 -5.0L1.3 0z"/>
<path transform="translate(398.6 83.7)" d="M-1.6 0L-0.70 -6.6L0.70 -6.6L1.6 0z"/>
<path transform="translate(444.0 83.7)" d="M-1.6 0L-0.70 -10.2L0.70 -10.2L1.6 0z"/>
<path transform="translate(455.8 83.8)" d="M-1.7 0L-0.70 -5.1L0.70 -5.1L1.7 0z"/>
<path transform="translate(455.5 83.9)" d="M-1.5 0L-0.70 -9.0L0.70 -9.0L1.5 0z"/>
<path transform="translate(393.7 83.9)" d="M-1.1 0L-0.50 -8.2L0.50 -8.2L1.1 0z"/>
<path transform="translate(444.5 83.9)" d="M-1.0 0L-0.50 -10.9L0.50 -10.9L1.0 0z"/>
<path transform="translate(411.4 83.9)" d="M-1.0 0L-0.30 -10.7L0.30 -10.7L1.0 0z"/>
<path transform="translate(397.7 83.9)" d="M-1.6 0L-0.70 -7.3L0.70 -7.3L1.6 0z"/>
<path transform="translate(411.1 84.0)" d="M-1.2 0L-0.50 -12.6L0.50 -12.6L1.2 0z"/>
<path transform="translate(398.9 84.1)" d="M-1.1 0L-0.50 -4.3L0.50 -4.3L1.1 0z"/>
<path transform="translate(410.7 84.1)" d="M-1.6 0L-0.70 -7.3L0.70 -7.3L1.6 0z"/>
<path transform="translate(458.6 84.1)" d="M-1.3 0L-0.70 -8.7L0.70 -8.7L1.3 0z"/>
<path transform="translate(448.5 84.2)" d="M-1.3 0L-0.50 -5.7L0.50 -5.7L1.3 0z"/>
<path transform="translate(446.6 84.2)" d="M-1.1 0L-0.30 -9.8L0.30 -9.8L1.1 0z"/>
<path transform="translate(460.2 84.2)" d="M-0.9 0L-0.30 -12.1L0.30 -12.1L0.9 0z"/>
<path transform="translate(456.5 84.3)" d="M-1.6 0L-0.70 -9.4L0.70 -9.4L1.6 0z"/>
<path transform="translate(442.3 84.3)" d="M-1.4 0L-0.70 -3.2L0.70 -3.2L1.4 0z"/>
<path transform="translate(454.4 84.3)" d="M-1.2 0L-0.70 -5.2L0.70 -5.2L1.2 0z"/>
<path transform="translate(395.7 84.3)" d="M-1.2 0L-0.50 -13.2L0.50 -13.2L1.2 0z"/>
<path transform="translate(410.4 84.3)" d="M-1.2 0L-0.70 -8.6L0.70 -8.6L1.2 0z"/>
<path transform="translate(398.2 84.4)" d="M-1.0 0L-0.30 -8.5L0.30 -8.5L1.0 0z"/>
<path transform="translate(411.0 84.5)" d="M-1.4 0L-0.70 -7.5L0.70 -7.5L1.4 0z"/>
<path transform="translate(460.0 84.6)" d="M-0.9 0L-0.50 -8.1L0.50 -8.1L0.9 0z"/>
<path transform="translate(446.3 84.6)" d="M-1.2 0L-0.70 -9.5L0.70 -9.5L1.2 0z"/>
<path transform="translate(443.9 84.6)" d="M-1.2 0L-0.70 -4.2L0.70 -4.2L1.2 0z"/>
<path transform="translate(448.4 84.7)" d="M-1.0 0L-0.50 -4.1L0.50 -4.1L1.0 0z"/>
<path transform="translate(395.1 84.7)" d="M-1.1 0L-0.50 -10.5L0.50 -10.5L1.1 0z"/>
<path transform="translate(461.1 84.8)" d="M-1.2 0L-0.50 -10.6L0.50 -10.6L1.2 0z"/>
<path transform="translate(445.0 84.8)" d="M-1.0 0L-0.50 -12.6L0.50 -12.6L1.0 0z"/>
<path transform="translate(393.5 84.8)" d="M-1.0 0L-0.50 -8.6L0.50 -8.6L1.0 0z"/>
<path transform="translate(457.4 84.9)" d="M-1.2 0L-0.50 -7.7L0.50 -7.7L1.2 0z"/>
<path transform="translate(459.5 84.9)" d="M-1.3 0L-0.70 -8.9L0.70 -8.9L1.3 0z"/>
<path transform="translate(395.5 84.9)" d="M-1.2 0L-0.50 -13.5L0.50 -13.5L1.2 0z"/>
<path transform="translate(460.0 85.0)" d="M-1.3 0L-0.70 -7.5L0.70 -7.5L1.3 0z"/>
<path transform="translate(409.1 85.2)" d="M-0.9 0L-0.50 -5.2L0.50 -5.2L0.9 0z"/>
<path transform="translate(460.3 85.3)" d="M-1.7 0L-0.70 -4.8L0.70 -4.8L1.7 0z"/>
<path transform="translate(397.0 85.4)" d="M-1.3 0L-0.70 -9.5L0.70 -9.5L1.3 0z"/>
<path transform="translate(409.4 85.4)" d="M-1.3 0L-0.50 -8.1L0.50 -8.1L1.3 0z"/>
<path transform="translate(448.2 85.4)" d="M-1.2 0L-0.50 -11.1L0.50 -11.1L1.2 0z"/>
<path transform="translate(398.4 85.4)" d="M-1.7 0L-0.70 -2.5L0.70 -2.5L1.7 0z"/>
<path transform="translate(412.6 85.6)" d="M-0.9 0L-0.50 -3.8L0.50 -3.8L0.9 0z"/>
<path transform="translate(446.6 85.6)" d="M-1.7 0L-0.70 -7.0L0.70 -7.0L1.7 0z"/>
<path transform="translate(445.4 85.7)" d="M-0.9 0L-0.50 -10.3L0.50 -10.3L0.9 0z"/>
<path transform="translate(447.5 85.7)" d="M-0.8 0L-0.30 -13.6L0.30 -13.6L0.8 0z"/>
<path transform="translate(393.4 85.7)" d="M-1.2 0L-0.50 -7.1L0.50 -7.1L1.2 0z"/>
<path transform="translate(411.6 85.8)" d="M-1.7 0L-0.70 -9.1L0.70 -9.1L1.7 0z"/>
<path transform="translate(447.9 85.8)" d="M-1.1 0L-0.50 -13.0L0.50 -13.0L1.1 0z"/>
<path transform="translate(460.0 85.8)" d="M-1.7 0L-0.70 -9.5L0.70 -9.5L1.7 0z"/>
<path transform="translate(414.3 85.9)" d="M-1.2 0L-0.50 -7.1L0.50 -7.1L1.2 0z"/>
<path transform="translate(393.5 86.0)" d="M-1.2 0L-0.50 -12.7L0.50 -12.7L1.2 0z"/>
<path transform="translate(448.4 86.0)" d="M-1.1 0L-0.50 -11.7L0.50 -11.7L1.1 0z"/>
<path transform="translate(410.5 86.1)" d="M-1.6 0L-0.70 -8.3L0.70 -8.3L1.6 0z"/>
<path transform="translate(409.8 86.1)" d="M-1.1 0L-0.50 -10.1L0.50 -10.1L1.1 0z"/>
<path transform="translate(445.5 86.1)" d="M-1.6 0L-0.70 -7.5L0.70 -7.5L1.6 0z"/>
<path transform="translate(458.1 86.2)" d="M-1.1 0L-0.30 -9.0L0.30 -9.0L1.1 0z"/>
<path transform="translate(413.3 86.2)" d="M-1.2 0L-0.50 -8.7L0.50 -8.7L1.2 0z"/>
<path transform="translate(391.5 86.4)" d="M-1.2 0L-0.50 -5.9L0.50 -5.9L1.2 0z"/>
<path transform="translate(396.6 86.4)" d="M-1.1 0L-0.50 -9.9L0.50 -9.9L1.1 0z"/>
<path transform="translate(458.7 86.4)" d="M-1.2 0L-0.50 -10.3L0.50 -10.3L1.2 0z"/>
<path transform="translate(396.4 86.5)" d="M-1.7 0L-0.70 -9.2L0.70 -9.2L1.7 0z"/>
<path transform="translate(460.7 86.5)" d="M-1.3 0L-0.50 -13.0L0.50 -13.0L1.3 0z"/>
<path transform="translate(460.0 86.5)" d="M-0.9 0L-0.30 -12.6L0.30 -12.6L0.9 0z"/>
<path transform="translate(463.7 86.9)" d="M-0.9 0L-0.30 -8.5L0.30 -8.5L0.9 0z"/>
<path transform="translate(458.6 86.9)" d="M-1.5 0L-0.70 -7.6L0.70 -7.6L1.5 0z"/>
<path transform="translate(408.7 87.0)" d="M-1.1 0L-0.30 -11.4L0.30 -11.4L1.1 0z"/>
<path transform="translate(459.9 87.0)" d="M-1.2 0L-0.70 -10.0L0.70 -10.0L1.2 0z"/>
<path transform="translate(447.2 87.1)" d="M-1.4 0L-0.70 -8.6L0.70 -8.6L1.4 0z"/>
<path transform="translate(463.9 87.2)" d="M-1.3 0L-0.70 -6.4L0.70 -6.4L1.3 0z"/>
<path transform="translate(412.7 87.2)" d="M-1.1 0L-0.70 -5.9L0.70 -5.9L1.1 0z"/>
<path transform="translate(412.8 87.2)" d="M-1.5 0L-0.70 -7.3L0.70 -7.3L1.5 0z"/>
<path transform="translate(395.2 87.2)" d="M-1.0 0L-0.50 -4.7L0.50 -4.7L1.0 0z"/>
<path transform="translate(393.8 87.3)" d="M-1.0 0L-0.50 -13.2L0.50 -13.2L1.0 0z"/>
<path transform="translate(409.1 87.4)" d="M-1.7 0L-0.70 -7.8L0.70 -7.8L1.7 0z"/>
<path transform="translate(413.7 87.5)" d="M-1.1 0L-0.30 -10.2L0.30 -10.2L1.1 0z"/>
<path transform="translate(445.9 87.5)" d="M-1.2 0L-0.50 -11.1L0.50 -11.1L1.2 0z"/>
<path transform="translate(393.8 87.6)" d="M-1.3 0L-0.70 -8.5L0.70 -8.5L1.3 0z"/>
<path transform="translate(459.5 87.7)" d="M-0.9 0L-0.30 -6.5L0.30 -6.5L0.9 0z"/>
<path transform="translate(392.5 87.8)" d="M-1.0 0L-0.50 -6.4L0.50 -6.4L1.0 0z"/>
<path transform="translate(460.9 87.8)" d="M-1.4 0L-0.70 -8.8L0.70 -8.8L1.4 0z"/>
<path transform="translate(448.3 87.8)" d="M-0.9 0L-0.30 -8.9L0.30 -8.9L0.9 0z"/>
<path transform="translate(391.5 87.8)" d="M-1.2 0L-0.70 -6.5L0.70 -6.5L1.2 0z"/>
<path transform="translate(392.3 87.8)" d="M-1.1 0L-0.70 -7.9L0.70 -7.9L1.1 0z"/>
<path transform="translate(462.7 87.9)" d="M-1.5 0L-0.70 -9.3L0.70 -9.3L1.5 0z"/>
<path transform="translate(458.8 88.0)" d="M-1.1 0L-0.70 -7.3L0.70 -7.3L1.1 0z"/>
<path transform="translate(392.3 88.1)" d="M-1.2 0L-0.70 -6.3L0.70 -6.3L1.2 0z"/>
<path transform="translate(409.5 88.1)" d="M-1.3 0L-0.50 -11.9L0.50 -11.9L1.3 0z"/>
<path transform="translate(463.8 88.1)" d="M-1.7 0L-0.70 -6.3L0.70 -6.3L1.7 0z"/>
<path transform="translate(412.2 88.1)" d="M-1.2 0L-0.70 -8.3L0.70 -8.3L1.2 0z"/>
<path transform="translate(460.5 88.1)" d="M-1.4 0L-0.70 -9.6L0.70 -9.6L1.4 0z"/>
<path transform="translate(461.7 88.2)" d="M-1.2 0L-0.70 -8.2L0.70 -8.2L1.2 0z"/>
<path transform="translate(462.7 88.2)" d="M-1.1 0L-0.50 -7.7L0.50 -7.7L1.1 0z"/>
<path transform="translate(461.0 88.3)" d="M-1.0 0L-0.30 -16.2L0.30 -16.2L1.0 0z"/>
<path transform="translate(450.9 88.3)" d="M-1.2 0L-0.70 -5.9L0.70 -5.9L1.2 0z"/>
<path transform="translate(448.8 88.4)" d="M-1.0 0L-0.50 -3.7L0.50 -3.7L1.0 0z"/>
<path transform="translate(408.1 88.4)" d="M-1.3 0L-0.50 -6.2L0.50 -6.2L1.3 0z"/>
<path transform="translate(408.9 88.4)" d="M-1.2 0L-0.70 -9.3L0.70 -9.3L1.2 0z"/>
<path transform="translate(396.0 88.4)" d="M-1.3 0L-0.50 -10.7L0.50 -10.7L1.3 0z"/>
<path transform="translate(447.3 88.7)" d="M-1.1 0L-0.70 -6.2L0.70 -6.2L1.1 0z"/>
<path transform="translate(396.7 88.7)" d="M-1.0 0L-0.30 -5.9L0.30 -5.9L1.0 0z"/>
<path transform="translate(462.2 88.8)" d="M-0.9 0L-0.50 -10.2L0.50 -10.2L0.9 0z"/>
<path transform="translate(413.7 88.8)" d="M-1.0 0L-0.50 -5.9L0.50 -5.9L1.0 0z"/>
<path transform="translate(445.6 88.8)" d="M-1.6 0L-0.70 -5.9L0.70 -5.9L1.6 0z"/>
<path transform="translate(450.3 88.8)" d="M-1.2 0L-0.50 -3.2L0.50 -3.2L1.2 0z"/>
<path transform="translate(411.7 88.8)" d="M-1.2 0L-0.70 -8.3L0.70 -8.3L1.2 0z"/>
<path transform="translate(408.2 88.9)" d="M-1.1 0L-0.70 -5.3L0.70 -5.3L1.1 0z"/>
<path transform="translate(407.5 88.9)" d="M-1.2 0L-0.50 -6.5L0.50 -6.5L1.2 0z"/>
<path transform="translate(451.1 89.0)" d="M-1.1 0L-0.50 -4.4L0.50 -4.4L1.1 0z"/>
<path transform="translate(412.0 89.0)" d="M-1.6 0L-0.70 -8.3L0.70 -8.3L1.6 0z"/>
<path transform="translate(464.6 89.1)" d="M-1.3 0L-0.70 -7.2L0.70 -7.2L1.3 0z"/>
<path transform="translate(411.4 89.2)" d="M-1.3 0L-0.50 -9.8L0.50 -9.8L1.3 0z"/>
<path transform="translate(393.9 89.2)" d="M-1.5 0L-0.70 -8.0L0.70 -8.0L1.5 0z"/>
<path transform="translate(448.1 89.4)" d="M-1.5 0L-0.70 -8.1L0.70 -8.1L1.5 0z"/>
<path transform="translate(451.0 89.5)" d="M-1.1 0L-0.50 -8.5L0.50 -8.5L1.1 0z"/>
<path transform="translate(463.6 89.5)" d="M-0.8 0L-0.30 -15.2L0.30 -15.2L0.8 0z"/>
<path transform="translate(448.7 89.7)" d="M-1.1 0L-0.50 -8.0L0.50 -8.0L1.1 0z"/>
<path transform="translate(450.6 89.7)" d="M-1.3 0L-0.50 -5.8L0.50 -5.8L1.3 0z"/>
<path transform="translate(391.4 89.7)" d="M-1.2 0L-0.70 -7.6L0.70 -7.6L1.2 0z"/>
<path transform="translate(410.5 89.8)" d="M-0.9 0L-0.50 -12.5L0.50 -12.5L0.9 0z"/>
<path transform="translate(411.5 89.9)" d="M-1.4 0L-0.70 -6.3L0.70 -6.3L1.4 0z"/>
<path transform="translate(407.8 89.9)" d="M-0.9 0L-0.30 -11.5L0.30 -11.5L0.9 0z"/>
<path transform="translate(465.2 89.9)" d="M-1.2 0L-0.50 -10.1L0.50 -10.1L1.2 0z"/>
<path transform="translate(395.1 89.9)" d="M-1.2 0L-0.50 -9.5L0.50 -9.5L1.2 0z"/>
<path transform="translate(447.0 89.9)" d="M-1.1 0L-0.50 -9.8L0.50 -9.8L1.1 0z"/>
<path transform="translate(460.7 90.0)" d="M-1.7 0L-0.70 -4.2L0.70 -4.2L1.7 0z"/>
<path transform="translate(464.7 90.0)" d="M-1.4 0L-0.70 -9.2L0.70 -9.2L1.4 0z"/>
<path transform="translate(448.2 90.0)" d="M-1.5 0L-0.70 -6.3L0.70 -6.3L1.5 0z"/>
<path transform="translate(390.3 90.1)" d="M-1.2 0L-0.50 -8.4L0.50 -8.4L1.2 0z"/>
<path transform="translate(390.9 90.1)" d="M-1.5 0L-0.70 -6.4L0.70 -6.4L1.5 0z"/>
<path transform="translate(391.5 90.2)" d="M-1.0 0L-0.50 -10.6L0.50 -10.6L1.0 0z"/>
<path transform="translate(450.5 90.2)" d="M-0.9 0L-0.50 -5.4L0.50 -5.4L0.9 0z"/>
<path transform="translate(464.4 90.3)" d="M-1.0 0L-0.50 -12.9L0.50 -12.9L1.0 0z"/>
<path transform="translate(395.7 90.3)" d="M-1.1 0L-0.50 -5.4L0.50 -5.4L1.1 0z"/>
<path transform="translate(460.8 90.3)" d="M-1.3 0L-0.70 -7.9L0.70 -7.9L1.3 0z"/>
<path transform="translate(394.3 90.3)" d="M-0.8 0L-0.30 -15.6L0.30 -15.6L0.8 0z"/>
<path transform="translate(463.1 90.3)" d="M-1.2 0L-0.50 -10.4L0.50 -10.4L1.2 0z"/>
<path transform="translate(412.4 90.4)" d="M-1.2 0L-0.70 -6.1L0.70 -6.1L1.2 0z"/>
<path transform="translate(447.2 90.4)" d="M-0.9 0L-0.30 -12.3L0.30 -12.3L0.9 0z"/>
<path transform="translate(452.0 90.4)" d="M-1.3 0L-0.70 -3.1L0.70 -3.1L1.3 0z"/>
<path transform="translate(446.7 90.5)" d="M-1.7 0L-0.70 -5.9L0.70 -5.9L1.7 0z"/>
<path transform="translate(392.2 90.6)" d="M-0.8 0L-0.30 -10.6L0.30 -10.6L0.8 0z"/>
<path transform="translate(464.8 90.6)" d="M-1.2 0L-0.50 -6.3L0.50 -6.3L1.2 0z"/>
<path transform="translate(461.2 90.6)" d="M-1.7 0L-0.70 -4.0L0.70 -4.0L1.7 0z"/>
<path transform="translate(393.5 90.6)" d="M-1.7 0L-0.70 -9.4L0.70 -9.4L1.7 0z"/>
<path transform="translate(407.7 90.7)" d="M-1.0 0L-0.50 -11.2L0.50 -11.2L1.0 0z"/>
<path transform="translate(394.3 90.9)" d="M-1.4 0L-0.70 -3.5L0.70 -3.5L1.4 0z"/>
<path transform="translate(407.5 90.9)" d="M-1.1 0L-0.50 -11.0L0.50 -11.0L1.1 0z"/>
<path transform="translate(466.2 90.9)" d="M-1.3 0L-0.50 -11.6L0.50 -11.6L1.3 0z"/>
<path transform="translate(462.1 90.9)" d="M-1.6 0L-0.70 -7.2L0.70 -7.2L1.6 0z"/>
<path transform="translate(462.8 90.9)" d="M-1.4 0L-0.70 -8.4L0.70 -8.4L1.4 0z"/>
<path transform="translate(449.3 91.0)" d="M-0.9 0L-0.30 -13.8L0.30 -13.8L0.9 0z"/>
<path transform="translate(449.8 91.1)" d="M-0.9 0L-0.30 -14.6L0.30 -14.6L0.9 0z"/>
<path transform="translate(408.6 91.2)" d="M-1.0 0L-0.50 -11.8L0.50 -11.8L1.0 0z"/>
<path transform="translate(393.2 91.2)" d="M-1.1 0L-0.50 -11.7L0.50 -11.7L1.1 0z"/>
<path transform="translate(393.7 91.3)" d="M-1.0 0L-0.50 -10.9L0.50 -10.9L1.0 0z"/>
<path transform="translate(447.7 91.3)" d="M-1.3 0L-0.70 -6.5L0.70 -6.5L1.3 0z"/>
<path transform="translate(464.7 91.4)" d="M-1.2 0L-0.70 -9.8L0.70 -9.8L1.2 0z"/>
<path transform="translate(448.3 91.4)" d="M-1.1 0L-0.70 -8.5L0.70 -8.5L1.1 0z"/>
<path transform="translate(466.1 91.4)" d="M-1.6 0L-0.70 -7.4L0.70 -7.4L1.6 0z"/>
<path transform="translate(463.6 91.5)" d="M-1.4 0L-0.70 -6.9L0.70 -6.9L1.4 0z"/>
<path transform="translate(452.3 91.6)" d="M-1.7 0L-0.70 -3.2L0.70 -3.2L1.7 0z"/>
<path transform="translate(463.7 91.6)" d="M-1.0 0L-0.50 -11.7L0.50 -11.7L1.0 0z"/>
<path transform="translate(390.8 91.6)" d="M-1.2 0L-0.70 -7.6L0.70 -7.6L1.2 0z"/>
<path transform="translate(390.9 91.6)" d="M-0.9 0L-0.30 -9.2L0.30 -9.2L0.9 0z"/>
<path transform="translate(405.9 91.6)" d="M-1.7 0L-0.70 -3.2L0.70 -3.2L1.7 0z"/>
<path transform="translate(392.1 91.7)" d="M-1.2 0L-0.70 -8.1L0.70 -8.1L1.2 0z"/>
<path transform="translate(393.6 91.7)" d="M-1.5 0L-0.70 -7.7L0.70 -7.7L1.5 0z"/>
<path transform="translate(452.0 91.7)" d="M-0.9 0L-0.30 -6.0L0.30 -6.0L0.9 0z"/>
<path transform="translate(450.2 91.8)" d="M-1.0 0L-0.50 -8.7L0.50 -8.7L1.0 0z"/>
<path transform="translate(410.4 91.8)" d="M-1.0 0L-0.50 -9.0L0.50 -9.0L1.0 0z"/>
<path transform="translate(466.4 91.9)" d="M-1.0 0L-0.50 -10.9L0.50 -10.9L1.0 0z"/>
<path transform="translate(394.7 92.0)" d="M-1.0 0L-0.30 -4.4L0.30 -4.4L1.0 0z"/>
<path transform="translate(453.1 92.1)" d="M-0.9 0L-0.50 -7.1L0.50 -7.1L0.9 0z"/>
<path transform="translate(391.3 92.2)" d="M-1.6 0L-0.70 -10.3L0.70 -10.3L1.6 0z"/>
<path transform="translate(447.4 92.3)" d="M-1.4 0L-0.70 -3.7L0.70 -3.7L1.4 0z"/>
<path transform="translate(393.7 92.3)" d="M-1.0 0L-0.30 -13.6L0.30 -13.6L1.0 0z"/>
<path transform="translate(411.9 92.3)" d="M-1.2 0L-0.50 -6.8L0.50 -6.8L1.2 0z"/>
<path transform="translate(447.7 92.4)" d="M-1.0 0L-0.50 -8.7L0.50 -8.7L1.0 0z"/>
<path transform="translate(465.6 92.4)" d="M-1.4 0L-0.70 -9.8L0.70 -9.8L1.4 0z"/>
<path transform="translate(467.8 92.5)" d="M-1.1 0L-0.50 -5.5L0.50 -5.5L1.1 0z"/>
<path transform="translate(448.5 92.5)" d="M-1.5 0L-0.70 -8.2L0.70 -8.2L1.5 0z"/>
<path transform="translate(390.4 92.7)" d="M-1.7 0L-0.70 -8.1L0.70 -8.1L1.7 0z"/>
<path transform="translate(412.0 92.7)" d="M-1.3 0L-0.50 -10.2L0.50 -10.2L1.3 0z"/>
<path transform="translate(409.3 92.9)" d="M-1.2 0L-0.50 -11.2L0.50 -11.2L1.2 0z"/>
<path transform="translate(448.5 92.9)" d="M-1.4 0L-0.70 -5.8L0.70 -5.8L1.4 0z"/>
<path transform="translate(408.7 93.0)" d="M-0.9 0L-0.50 -10.3L0.50 -10.3L0.9 0z"/>
<path transform="translate(410.8 93.0)" d="M-1.6 0L-0.70 -5.0L0.70 -5.0L1.6 0z"/>
<path transform="translate(409.7 93.1)" d="M-1.5 0L-0.70 -10.3L0.70 -10.3L1.5 0z"/>
<path transform="translate(468.2 93.1)" d="M-1.5 0L-0.70 -5.0L0.70 -5.0L1.5 0z"/>
<path transform="translate(391.9 93.2)" d="M-1.2 0L-0.50 -11.8L0.50 -11.8L1.2 0z"/>
<path transform="translate(409.9 93.3)" d="M-1.3 0L-0.70 -9.6L0.70 -9.6L1.3 0z"/>
<path transform="translate(390.0 93.3)" d="M-1.0 0L-0.50 -9.2L0.50 -9.2L1.0 0z"/>
<path transform="translate(392.5 93.3)" d="M-1.0 0L-0.50 -11.9L0.50 -11.9L1.0 0z"/>
<path transform="translate(392.4 93.3)" d="M-1.4 0L-0.70 -4.6L0.70 -4.6L1.4 0z"/>
<path transform="translate(467.1 93.3)" d="M-1.2 0L-0.70 -6.9L0.70 -6.9L1.2 0z"/>
<path transform="translate(464.3 93.3)" d="M-1.2 0L-0.70 -3.8L0.70 -3.8L1.2 0z"/>
<path transform="translate(467.7 93.4)" d="M-1.1 0L-0.70 -5.3L0.70 -5.3L1.1 0z"/>
<path transform="translate(448.9 93.4)" d="M-1.2 0L-0.50 -13.4L0.50 -13.4L1.2 0z"/>
<path transform="translate(467.3 93.5)" d="M-1.1 0L-0.50 -9.9L0.50 -9.9L1.1 0z"/>
<path transform="translate(392.7 93.6)" d="M-1.3 0L-0.70 -9.2L0.70 -9.2L1.3 0z"/>
<path transform="translate(409.8 93.6)" d="M-1.1 0L-0.70 -8.8L0.70 -8.8L1.1 0z"/>
<path transform="translate(451.6 93.7)" d="M-0.9 0L-0.50 -11.2L0.50 -11.2L0.9 0z"/>
<path transform="translate(393.0 93.7)" d="M-1.6 0L-0.70 -7.5L0.70 -7.5L1.6 0z"/>
<path transform="translate(394.9 93.8)" d="M-1.3 0L-0.50 -3.9L0.50 -3.9L1.3 0z"/>
<path transform="translate(409.6 93.9)" d="M-1.2 0L-0.70 -7.6L0.70 -7.6L1.2 0z"/>
<path transform="translate(393.6 94.0)" d="M-1.3 0L-0.70 -7.6L0.70 -7.6L1.3 0z"/>
<path transform="translate(450.2 94.0)" d="M-0.9 0L-0.30 -11.3L0.30 -11.3L0.9 0z"/>
<path transform="translate(395.9 94.1)" d="M-1.2 0L-0.50 -10.1L0.50 -10.1L1.2 0z"/>
<path transform="translate(411.3 94.1)" d="M-1.1 0L-0.30 -13.7L0.30 -13.7L1.1 0z"/>
<path transform="translate(409.1 94.1)" d="M-1.0 0L-0.30 -13.1L0.30 -13.1L1.0 0z"/>
<path transform="translate(396.2 94.1)" d="M-1.2 0L-0.70 -8.2L0.70 -8.2L1.2 0z"/>
<path transform="translate(392.1 94.2)" d="M-1.1 0L-0.50 -10.2L0.50 -10.2L1.1 0z"/>
<path transform="translate(395.7 94.2)" d="M-1.1 0L-0.70 -4.8L0.70 -4.8L1.1 0z"/>
<path transform="translate(448.1 94.2)" d="M-0.9 0L-0.50 -6.7L0.50 -6.7L0.9 0z"/>
<path transform="translate(467.7 94.3)" d="M-1.2 0L-0.70 -4.7L0.70 -4.7L1.2 0z"/>
<path transform="translate(451.8 94.3)" d="M-1.4 0L-0.70 -4.7L0.70 -4.7L1.4 0z"/>
<path transform="translate(461.6 94.3)" d="M-1.3 0L-0.70 -5.8L0.70 -5.8L1.3 0z"/>
<path transform="translate(393.8 94.3)" d="M-1.2 0L-0.70 -8.5L0.70 -8.5L1.2 0z"/>
<path transform="translate(394.2 94.3)" d="M-1.1 0L-0.70 -7.9L0.70 -7.9L1.1 0z"/>
<path transform="translate(396.3 94.4)" d="M-1.4 0L-0.70 -6.5L0.70 -6.5L1.4 0z"/>
<path transform="translate(463.4 94.6)" d="M-1.0 0L-0.50 -7.0L0.50 -7.0L1.0 0z"/>
<path transform="translate(450.0 94.6)" d="M-0.9 0L-0.50 -11.4L0.50 -11.4L0.9 0z"/>
<path transform="translate(408.4 94.6)" d="M-1.1 0L-0.50 -9.7L0.50 -9.7L1.1 0z"/>
<path transform="translate(463.2 94.7)" d="M-1.6 0L-0.70 -7.4L0.70 -7.4L1.6 0z"/>
<path transform="translate(450.3 94.7)" d="M-1.1 0L-0.50 -11.0L0.50 -11.0L1.1 0z"/>
<path transform="translate(395.0 94.7)" d="M-0.9 0L-0.50 -10.5L0.50 -10.5L0.9 0z"/>
<path transform="translate(393.2 94.7)" d="M-1.0 0L-0.50 -8.6L0.50 -8.6L1.0 0z"/>
<path transform="translate(461.2 94.7)" d="M-1.3 0L-0.70 -6.1L0.70 -6.1L1.3 0z"/>
<path transform="translate(409.6 94.7)" d="M-1.5 0L-0.70 -5.0L0.70 -5.0L1.5 0z"/>
<path transform="translate(413.3 94.8)" d="M-1.3 0L-0.70 -6.7L0.70 -6.7L1.3 0z"/>
<path transform="translate(449.9 94.8)" d="M-1.1 0L-0.70 -4.1L0.70 -4.1L1.1 0z"/>
<path transform="translate(464.5 94.9)" d="M-1.3 0L-0.50 -10.1L0.50 -10.1L1.3 0z"/>
<path transform="translate(447.4 95.2)" d="M-1.6 0L-0.70 -4.6L0.70 -4.6L1.6 0z"/>
<path transform="translate(410.2 95.3)" d="M-0.9 0L-0.30 -15.4L0.30 -15.4L0.9 0z"/>
<path transform="translate(394.2 95.3)" d="M-1.0 0L-0.50 -11.3L0.50 -11.3L1.0 0z"/>
<path transform="translate(410.5 95.3)" d="M-1.0 0L-0.30 -15.2L0.30 -15.2L1.0 0z"/>
<path transform="translate(461.6 95.3)" d="M-1.5 0L-0.70 -8.3L0.70 -8.3L1.5 0z"/>
<path transform="translate(461.1 95.4)" d="M-0.8 0L-0.30 -8.8L0.30 -8.8L0.8 0z"/>
<path transform="translate(396.2 95.4)" d="M-1.1 0L-0.50 -5.7L0.50 -5.7L1.1 0z"/>
<path transform="translate(462.3 95.4)" d="M-1.1 0L-0.70 -7.2L0.70 -7.2L1.1 0z"/>
<path transform="translate(407.8 95.4)" d="M-1.1 0L-0.50 -5.5L0.50 -5.5L1.1 0z"/>
<path transform="translate(463.9 95.5)" d="M-1.1 0L-0.50 -12.1L0.50 -12.1L1.1 0z"/>
<path transform="translate(466.4 95.5)" d="M-1.0 0L-0.50 -3.6L0.50 -3.6L1.0 0z"/>
<path transform="translate(465.0 95.5)" d="M-1.2 0L-0.50 -12.5L0.50 -12.5L1.2 0z"/>
<path transform="translate(391.6 95.6)" d="M-1.6 0L-0.70 -6.2L0.70 -6.2L1.6 0z"/>
<path transform="translate(449.2 95.6)" d="M-1.5 0L-0.70 -9.8L0.70 -9.8L1.5 0z"/>
<path transform="translate(463.4 95.6)" d="M-1.1 0L-0.70 -6.2L0.70 -6.2L1.1 0z"/>
<path transform="translate(449.0 95.6)" d="M-1.5 0L-0.70 -9.4L0.70 -9.4L1.5 0z"/>
<path transform="translate(411.4 95.7)" d="M-1.0 0L-0.50 -6.6L0.50 -6.6L1.0 0z"/>
<path transform="translate(397.8 95.7)" d="M-1.6 0L-0.70 -9.1L0.70 -9.1L1.6 0z"/>
<path transform="translate(446.5 95.7)" d="M-0.9 0L-0.50 -10.7L0.50 -10.7L0.9 0z"/>
<path transform="translate(411.2 95.8)" d="M-1.3 0L-0.50 -9.1L0.50 -9.1L1.3 0z"/>
<path transform="translate(399.0 95.8)" d="M-1.2 0L-0.50 -8.5L0.50 -8.5L1.2 0z"/>
<path transform="translate(414.1 95.9)" d="M-0.9 0L-0.30 -13.6L0.30 -13.6L0.9 0z"/>
<path transform="translate(393.1 95.9)" d="M-1.1 0L-0.70 -9.5L0.70 -9.5L1.1 0z"/>
<path transform="translate(464.2 95.9)" d="M-1.4 0L-0.70 -9.5L0.70 -9.5L1.4 0z"/>
<path transform="translate(460.5 95.9)" d="M-1.1 0L-0.30 -8.0L0.30 -8.0L1.1 0z"/>
<path transform="translate(395.8 96.0)" d="M-1.1 0L-0.50 -10.2L0.50 -10.2L1.1 0z"/>
<path transform="translate(410.5 96.1)" d="M-1.4 0L-0.70 -7.9L0.70 -7.9L1.4 0z"/>
<path transform="translate(447.1 96.1)" d="M-1.5 0L-0.70 -6.1L0.70 -6.1L1.5 0z"/>
<path transform="translate(449.3 96.1)" d="M-1.0 0L-0.50 -10.9L0.50 -10.9L1.0 0z"/>
<path transform="translate(445.8 96.2)" d="M-1.6 0L-0.70 -7.3L0.70 -7.3L1.6 0z"/>
<path transform="translate(412.1 96.2)" d="M-1.3 0L-0.50 -9.2L0.50 -9.2L1.3 0z"/>
<path transform="translate(465.0 96.2)" d="M-1.2 0L-0.50 -4.7L0.50 -4.7L1.2 0z"/>
<path transform="translate(395.2 96.3)" d="M-1.3 0L-0.50 -11.3L0.50 -11.3L1.3 0z"/>
<path transform="translate(464.8 96.3)" d="M-1.0 0L-0.50 -9.9L0.50 -9.9L1.0 0z"/>
<path transform="translate(450.3 96.3)" d="M-0.8 0L-0.30 -9.9L0.30 -9.9L0.8 0z"/>
<path transform="translate(411.5 96.3)" d="M-1.6 0L-0.70 -6.1L0.70 -6.1L1.6 0z"/>
<path transform="translate(411.5 96.3)" d="M-1.6 0L-0.70 -5.7L0.70 -5.7L1.6 0z"/>
<path transform="translate(446.1 96.4)" d="M-1.1 0L-0.70 -5.3L0.70 -5.3L1.1 0z"/>
<path transform="translate(413.1 96.4)" d="M-1.1 0L-0.70 -5.2L0.70 -5.2L1.1 0z"/>
<path transform="translate(398.0 96.5)" d="M-0.9 0L-0.30 -13.9L0.30 -13.9L0.9 0z"/>
<path transform="translate(447.3 96.5)" d="M-1.4 0L-0.70 -10.4L0.70 -10.4L1.4 0z"/>
<path transform="translate(411.7 96.6)" d="M-1.4 0L-0.70 -9.6L0.70 -9.6L1.4 0z"/>
<path transform="translate(412.7 96.7)" d="M-1.4 0L-0.70 -10.2L0.70 -10.2L1.4 0z"/>
<path transform="translate(397.8 96.7)" d="M-1.4 0L-0.70 -8.5L0.70 -8.5L1.4 0z"/>
<path transform="translate(445.9 96.7)" d="M-1.6 0L-0.70 -2.8L0.70 -2.8L1.6 0z"/>
<path transform="translate(448.1 96.7)" d="M-1.2 0L-0.70 -8.6L0.70 -8.6L1.2 0z"/>
<path transform="translate(398.0 96.8)" d="M-1.1 0L-0.30 -12.7L0.30 -12.7L1.1 0z"/>
<path transform="translate(410.2 96.8)" d="M-1.1 0L-0.30 -12.8L0.30 -12.8L1.1 0z"/>
<path transform="translate(464.6 96.9)" d="M-1.0 0L-0.50 -4.4L0.50 -4.4L1.0 0z"/>
<path transform="translate(465.5 96.9)" d="M-1.1 0L-0.30 -6.4L0.30 -6.4L1.1 0z"/>
<path transform="translate(399.1 96.9)" d="M-1.5 0L-0.70 -6.5L0.70 -6.5L1.5 0z"/>
<path transform="translate(461.3 96.9)" d="M-1.5 0L-0.70 -4.0L0.70 -4.0L1.5 0z"/>
<path transform="translate(448.5 97.0)" d="M-0.8 0L-0.30 -6.0L0.30 -6.0L0.8 0z"/>
<path transform="translate(409.2 97.0)" d="M-1.4 0L-0.70 -6.3L0.70 -6.3L1.4 0z"/>
<path transform="translate(447.4 97.1)" d="M-1.7 0L-0.70 -8.1L0.70 -8.1L1.7 0z"/>
<path transform="translate(460.5 97.1)" d="M-1.3 0L-0.70 -2.9L0.70 -2.9L1.3 0z"/>
<path transform="translate(397.4 97.1)" d="M-0.9 0L-0.50 -9.7L0.50 -9.7L0.9 0z"/>
<path transform="translate(464.5 97.1)" d="M-1.1 0L-0.50 -9.7L0.50 -9.7L1.1 0z"/>
<path transform="translate(450.6 97.1)" d="M-1.4 0L-0.70 -6.5L0.70 -6.5L1.4 0z"/>
<path transform="translate(415.7 97.2)" d="M-1.2 0L-0.70 -5.3L0.70 -5.3L1.2 0z"/>
<path transform="translate(460.5 97.2)" d="M-1.2 0L-0.70 -7.0L0.70 -7.0L1.2 0z"/>
<path transform="translate(409.9 97.2)" d="M-1.3 0L-0.50 -8.6L0.50 -8.6L1.3 0z"/>
<path transform="translate(462.2 97.3)" d="M-1.7 0L-0.70 -8.3L0.70 -8.3L1.7 0z"/>
<path transform="translate(401.1 97.3)" d="M-1.6 0L-0.70 -2.7L0.70 -2.7L1.6 0z"/>
<path transform="translate(397.2 97.3)" d="M-1.4 0L-0.70 -8.0L0.70 -8.0L1.4 0z"/>
<path transform="translate(412.9 97.4)" d="M-1.2 0L-0.70 -8.5L0.70 -8.5L1.2 0z"/>
<path transform="translate(412.7 97.5)" d="M-1.1 0L-0.30 -15.3L0.30 -15.3L1.1 0z"/>
<path transform="translate(447.2 97.5)" d="M-1.7 0L-0.70 -7.7L0.70 -7.7L1.7 0z"/>
<path transform="translate(412.9 97.5)" d="M-1.4 0L-0.70 -4.7L0.70 -4.7L1.4 0z"/>
<path transform="translate(459.4 97.6)" d="M-1.1 0L-0.50 -6.3L0.50 -6.3L1.1 0z"/>
<path transform="translate(450.9 97.7)" d="M-1.2 0L-0.50 -6.3L0.50 -6.3L1.2 0z"/>
<path transform="translate(398.2 97.8)" d="M-1.2 0L-0.70 -8.3L0.70 -8.3L1.2 0z"/>
<path transform="translate(416.2 97.9)" d="M-1.2 0L-0.70 -3.1L0.70 -3.1L1.2 0z"/>
<path transform="translate(415.8 97.9)" d="M-1.3 0L-0.70 -7.3L0.70 -7.3L1.3 0z"/>
<path transform="translate(445.6 98.0)" d="M-1.2 0L-0.70 -9.3L0.70 -9.3L1.2 0z"/>
<path transform="translate(398.1 98.0)" d="M-1.6 0L-0.70 -6.4L0.70 -6.4L1.6 0z"/>
<path transform="translate(402.1 98.0)" d="M-1.3 0L-0.70 -3.7L0.70 -3.7L1.3 0z"/>
<path transform="translate(402.0 98.1)" d="M-1.1 0L-0.70 -3.9L0.70 -3.9L1.1 0z"/>
<path transform="translate(412.8 98.2)" d="M-1.1 0L-0.50 -9.8L0.50 -9.8L1.1 0z"/>
<path transform="translate(394.9 98.2)" d="M-1.3 0L-0.70 -6.0L0.70 -6.0L1.3 0z"/>
<path transform="translate(447.3 98.3)" d="M-1.2 0L-0.50 -13.1L0.50 -13.1L1.2 0z"/>
<path transform="translate(415.1 98.3)" d="M-1.6 0L-0.70 -10.0L0.70 -10.0L1.6 0z"/>
<path transform="translate(462.6 98.4)" d="M-1.1 0L-0.50 -12.7L0.50 -12.7L1.1 0z"/>
<path transform="translate(411.2 98.4)" d="M-1.3 0L-0.50 -9.1L0.50 -9.1L1.3 0z"/>
<path transform="translate(410.6 98.4)" d="M-1.2 0L-0.50 -5.9L0.50 -5.9L1.2 0z"/>
<path transform="translate(396.4 98.5)" d="M-1.3 0L-0.70 -7.2L0.70 -7.2L1.3 0z"/>
<path transform="translate(394.9 98.6)" d="M-1.3 0L-0.50 -4.3L0.50 -4.3L1.3 0z"/>
<path transform="translate(399.2 98.7)" d="M-1.0 0L-0.50 -10.2L0.50 -10.2L1.0 0z"/>
<path transform="translate(400.2 98.7)" d="M-1.2 0L-0.50 -11.1L0.50 -11.1L1.2 0z"/>
<path transform="translate(396.8 98.7)" d="M-1.0 0L-0.30 -13.0L0.30 -13.0L1.0 0z"/>
<path transform="translate(462.5 98.8)" d="M-1.4 0L-0.70 -9.9L0.70 -9.9L1.4 0z"/>
<path transform="translate(462.2 98.8)" d="M-0.8 0L-0.30 -8.6L0.30 -8.6L0.8 0z"/>
<path transform="translate(397.2 98.8)" d="M-1.1 0L-0.50 -12.6L0.50 -12.6L1.1 0z"/>
<path transform="translate(448.3 98.8)" d="M-1.1 0L-0.50 -9.3L0.50 -9.3L1.1 0z"/>
<path transform="translate(461.1 98.9)" d="M-1.7 0L-0.70 -9.8L0.70 -9.8L1.7 0z"/>
<path transform="translate(414.3 98.9)" d="M-0.9 0L-0.30 -14.2L0.30 -14.2L0.9 0z"/>
<path transform="translate(411.2 98.9)" d="M-1.3 0L-0.70 -8.1L0.70 -8.1L1.3 0z"/>
<path transform="translate(444.7 99.0)" d="M-1.1 0L-0.50 -11.0L0.50 -11.0L1.1 0z"/>
<path transform="translate(446.9 99.1)" d="M-1.1 0L-0.70 -8.0L0.70 -8.0L1.1 0z"/>
<path transform="translate(395.8 99.2)" d="M-0.9 0L-0.30 -8.2L0.30 -8.2L0.9 0z"/>
<path transform="translate(463.9 99.2)" d="M-1.0 0L-0.50 -10.6L0.50 -10.6L1.0 0z"/>
<path transform="translate(398.8 99.3)" d="M-1.4 0L-0.70 -5.8L0.70 -5.8L1.4 0z"/>
<path transform="translate(445.5 99.5)" d="M-1.3 0L-0.70 -8.9L0.70 -8.9L1.3 0z"/>
<path transform="translate(401.6 99.5)" d="M-1.2 0L-0.50 -7.4L0.50 -7.4L1.2 0z"/>
<path transform="translate(414.0 99.5)" d="M-1.2 0L-0.70 -5.5L0.70 -5.5L1.2 0z"/>
<path transform="translate(414.3 99.5)" d="M-1.6 0L-0.70 -8.0L0.70 -8.0L1.6 0z"/>
<path transform="translate(461.1 99.5)" d="M-1.1 0L-0.50 -11.8L0.50 -11.8L1.1 0z"/>
<path transform="translate(416.2 99.6)" d="M-1.2 0L-0.70 -7.8L0.70 -7.8L1.2 0z"/>
<path transform="translate(402.7 99.6)" d="M-1.3 0L-0.50 -10.2L0.50 -10.2L1.3 0z"/>
<path transform="translate(413.0 99.6)" d="M-1.1 0L-0.50 -13.1L0.50 -13.1L1.1 0z"/>
<path transform="translate(462.5 99.6)" d="M-1.3 0L-0.50 -11.3L0.50 -11.3L1.3 0z"/>
<path transform="translate(461.8 99.7)" d="M-1.2 0L-0.70 -10.2L0.70 -10.2L1.2 0z"/>
<path transform="translate(446.9 99.7)" d="M-1.0 0L-0.50 -5.1L0.50 -5.1L1.0 0z"/>
<path transform="translate(414.9 99.7)" d="M-1.5 0L-0.70 -7.9L0.70 -7.9L1.5 0z"/>
<path transform="translate(411.9 99.8)" d="M-1.6 0L-0.70 -5.0L0.70 -5.0L1.6 0z"/>
<path transform="translate(464.1 99.8)" d="M-1.5 0L-0.70 -2.6L0.70 -2.6L1.5 0z"/>
<path transform="translate(397.4 99.8)" d="M-1.2 0L-0.50 -7.2L0.50 -7.2L1.2 0z"/>
<path transform="translate(399.9 99.8)" d="M-0.9 0L-0.30 -13.0L0.30 -13.0L0.9 0z"/>
<path transform="translate(399.1 99.8)" d="M-1.3 0L-0.50 -8.8L0.50 -8.8L1.3 0z"/>
<path transform="translate(412.5 99.8)" d="M-1.6 0L-0.70 -6.9L0.70 -6.9L1.6 0z"/>
<path transform="translate(399.9 100.1)" d="M-1.7 0L-0.70 -7.7L0.70 -7.7L1.7 0z"/>
<path transform="translate(400.5 100.1)" d="M-1.6 0L-0.70 -7.6L0.70 -7.6L1.6 0z"/>
<path transform="translate(449.8 100.1)" d="M-1.2 0L-0.70 -4.2L0.70 -4.2L1.2 0z"/>
<path transform="translate(401.6 100.2)" d="M-1.5 0L-0.70 -7.6L0.70 -7.6L1.5 0z"/>
<path transform="translate(459.2 100.2)" d="M-0.9 0L-0.30 -12.0L0.30 -12.0L0.9 0z"/>
<path transform="translate(401.4 100.2)" d="M-1.5 0L-0.70 -4.7L0.70 -4.7L1.5 0z"/>
<path transform="translate(461.2 100.2)" d="M-1.3 0L-0.50 -5.2L0.50 -5.2L1.3 0z"/>
<path transform="translate(416.6 100.3)" d="M-1.2 0L-0.50 -4.2L0.50 -4.2L1.2 0z"/>
<path transform="translate(399.0 100.5)" d="M-1.1 0L-0.70 -5.0L0.70 -5.0L1.1 0z"/>
<path transform="translate(404.9 100.5)" d="M-0.9 0L-0.30 -9.5L0.30 -9.5L0.9 0z"/>
<path transform="translate(462.8 100.5)" d="M-1.7 0L-0.70 -6.5L0.70 -6.5L1.7 0z"/>
<path transform="translate(398.9 100.6)" d="M-1.5 0L-0.70 -6.1L0.70 -6.1L1.5 0z"/>
<path transform="translate(444.3 100.7)" d="M-1.5 0L-0.70 -3.6L0.70 -3.6L1.5 0z"/>
<path transform="translate(446.3 100.7)" d="M-1.0 0L-0.30 -8.9L0.30 -8.9L1.0 0z"/>
<path transform="translate(461.1 100.7)" d="M-1.0 0L-0.50 -13.4L0.50 -13.4L1.0 0z"/>
<path transform="translate(459.6 100.7)" d="M-1.3 0L-0.70 -9.7L0.70 -9.7L1.3 0z"/>
<path transform="translate(459.0 100.7)" d="M-1.2 0L-0.70 -3.0L0.70 -3.0L1.2 0z"/>
<path transform="translate(416.5 100.8)" d="M-1.2 0L-0.50 -10.4L0.50 -10.4L1.2 0z"/>
<path transform="translate(398.4 100.8)" d="M-1.1 0L-0.50 -9.1L0.50 -9.1L1.1 0z"/>
<path transform="translate(403.0 100.9)" d="M-1.2 0L-0.50 -11.1L0.50 -11.1L1.2 0z"/>
<path transform="translate(446.6 100.9)" d="M-1.2 0L-0.50 -11.1L0.50 -11.1L1.2 0z"/>
<path transform="translate(416.9 100.9)" d="M-1.2 0L-0.50 -7.6L0.50 -7.6L1.2 0z"/>
<path transform="translate(404.1 101.0)" d="M-1.6 0L-0.70 -6.3L0.70 -6.3L1.6 0z"/>
<path transform="translate(400.1 101.0)" d="M-1.3 0L-0.70 -6.8L0.70 -6.8L1.3 0z"/>
<path transform="translate(404.9 101.0)" d="M-1.4 0L-0.70 -5.6L0.70 -5.6L1.4 0z"/>
<path transform="translate(459.0 101.0)" d="M-1.3 0L-0.50 -10.1L0.50 -10.1L1.3 0z"/>
<path transform="translate(417.8 101.1)" d="M-1.3 0L-0.50 -11.7L0.50 -11.7L1.3 0z"/>
<path transform="translate(417.5 101.1)" d="M-1.3 0L-0.70 -6.1L0.70 -6.1L1.3 0z"/>
<path transform="translate(419.0 101.1)" d="M-1.2 0L-0.50 -3.7L0.50 -3.7L1.2 0z"/>
<path transform="translate(460.6 101.2)" d="M-1.3 0L-0.50 -12.1L0.50 -12.1L1.3 0z"/>
<path transform="translate(447.6 101.3)" d="M-1.5 0L-0.70 -7.9L0.70 -7.9L1.5 0z"/>
<path transform="translate(447.6 101.3)" d="M-1.3 0L-0.70 -6.1L0.70 -6.1L1.3 0z"/>
<path transform="translate(402.3 101.3)" d="M-1.2 0L-0.70 -7.3L0.70 -7.3L1.2 0z"/>
<path transform="translate(447.6 101.3)" d="M-1.0 0L-0.50 -11.4L0.50 -11.4L1.0 0z"/>
<path transform="translate(401.3 101.4)" d="M-1.3 0L-0.50 -9.2L0.50 -9.2L1.3 0z"/>
<path transform="translate(463.0 101.5)" d="M-1.2 0L-0.70 -6.9L0.70 -6.9L1.2 0z"/>
<path transform="translate(412.5 101.5)" d="M-1.1 0L-0.30 -5.5L0.30 -5.5L1.1 0z"/>
<path transform="translate(400.0 101.5)" d="M-0.9 0L-0.50 -7.0L0.50 -7.0L0.9 0z"/>
<path transform="translate(460.4 101.6)" d="M-0.9 0L-0.30 -14.7L0.30 -14.7L0.9 0z"/>
<path transform="translate(415.5 101.6)" d="M-1.3 0L-0.70 -8.4L0.70 -8.4L1.3 0z"/>
<path transform="translate(416.2 101.6)" d="M-1.4 0L-0.70 -9.2L0.70 -9.2L1.4 0z"/>
<path transform="translate(445.6 101.7)" d="M-1.1 0L-0.70 -9.3L0.70 -9.3L1.1 0z"/>
<path transform="translate(447.2 101.9)" d="M-1.3 0L-0.70 -5.0L0.70 -5.0L1.3 0z"/>
<path transform="translate(444.1 101.9)" d="M-0.9 0L-0.30 -13.6L0.30 -13.6L0.9 0z"/>
<path transform="translate(417.5 102.0)" d="M-1.1 0L-0.70 -6.5L0.70 -6.5L1.1 0z"/>
<path transform="translate(437.0 102.0)" d="M-1.2 0L-0.70 -5.5L0.70 -5.5L1.2 0z"/>
<path transform="translate(445.8 102.0)" d="M-1.4 0L-0.70 -5.8L0.70 -5.8L1.4 0z"/>
<path transform="translate(401.5 102.0)" d="M-1.4 0L-0.70 -8.2L0.70 -8.2L1.4 0z"/>
<path transform="translate(427.3 102.1)" d="M-1.0 0L-0.50 -7.9L0.50 -7.9L1.0 0z"/>
<path transform="translate(440.3 102.1)" d="M-1.1 0L-0.50 -8.9L0.50 -8.9L1.1 0z"/>
<path transform="translate(417.7 102.1)" d="M-1.2 0L-0.50 -10.3L0.50 -10.3L1.2 0z"/>
<path transform="translate(417.7 102.2)" d="M-1.6 0L-0.70 -3.0L0.70 -3.0L1.6 0z"/>
<path transform="translate(436.7 102.2)" d="M-1.2 0L-0.70 -6.7L0.70 -6.7L1.2 0z"/>
<path transform="translate(418.7 102.2)" d="M-1.5 0L-0.70 -7.2L0.70 -7.2L1.5 0z"/>
<path transform="translate(416.1 102.2)" d="M-1.4 0L-0.70 -7.5L0.70 -7.5L1.4 0z"/>
<path transform="translate(458.2 102.2)" d="M-1.4 0L-0.70 -4.1L0.70 -4.1L1.4 0z"/>
<path transform="translate(434.8 102.2)" d="M-1.3 0L-0.70 -3.2L0.70 -3.2L1.3 0z"/>
<path transform="translate(405.0 102.2)" d="M-1.0 0L-0.30 -15.1L0.30 -15.1L1.0 0z"/>
<path transform="translate(428.6 102.3)" d="M-1.5 0L-0.70 -4.7L0.70 -4.7L1.5 0z"/>
<path transform="translate(443.3 102.3)" d="M-1.1 0L-0.50 -5.5L0.50 -5.5L1.1 0z"/>
<path transform="translate(421.8 102.3)" d="M-1.1 0L-0.50 -10.0L0.50 -10.0L1.1 0z"/>
<path transform="translate(439.8 102.4)" d="M-1.1 0L-0.70 -4.4L0.70 -4.4L1.1 0z"/>
<path transform="translate(427.4 102.4)" d="M-1.3 0L-0.50 -10.2L0.50 -10.2L1.3 0z"/>
<path transform="translate(438.3 102.4)" d="M-1.2 0L-0.70 -6.3L0.70 -6.3L1.2 0z"/>
<path transform="translate(405.4 102.5)" d="M-1.3 0L-0.50 -7.3L0.50 -7.3L1.3 0z"/>
<path transform="translate(420.3 102.5)" d="M-1.6 0L-0.70 -6.2L0.70 -6.2L1.6 0z"/>
<path transform="translate(439.4 102.5)" d="M-1.7 0L-0.70 -5.1L0.70 -5.1L1.7 0z"/>
<path transform="translate(404.4 102.5)" d="M-1.4 0L-0.70 -8.3L0.70 -8.3L1.4 0z"/>
<path transform="translate(428.9 102.5)" d="M-1.2 0L-0.50 -9.4L0.50 -9.4L1.2 0z"/>
<path transform="translate(425.4 102.5)" d="M-1.1 0L-0.50 -10.3L0.50 -10.3L1.1 0z"/>
<path transform="translate(422.6 102.5)" d="M-1.5 0L-0.70 -7.0L0.70 -7.0L1.5 0z"/>
<path transform="translate(426.7 102.6)" d="M-1.4 0L-0.70 -7.3L0.70 -7.3L1.4 0z"/>
<path transform="translate(436.0 102.6)" d="M-1.5 0L-0.70 -4.0L0.70 -4.0L1.5 0z"/>
<path transform="translate(442.3 102.6)" d="M-1.0 0L-0.50 -10.3L0.50 -10.3L1.0 0z"/>
<path transform="translate(418.0 102.6)" d="M-1.1 0L-0.70 -8.5L0.70 -8.5L1.1 0z"/>
<path transform="translate(441.3 102.6)" d="M-1.3 0L-0.70 -5.8L0.70 -5.8L1.3 0z"/>
<path transform="translate(405.5 102.7)" d="M-1.2 0L-0.70 -9.0L0.70 -9.0L1.2 0z"/>
<path transform="translate(463.4 102.7)" d="M-1.2 0L-0.50 -6.4L0.50 -6.4L1.2 0z"/>
<path transform="translate(459.2 102.7)" d="M-1.3 0L-0.50 -7.0L0.50 -7.0L1.3 0z"/>
<path transform="translate(407.4 102.7)" d="M-1.4 0L-0.70 -5.6L0.70 -5.6L1.4 0z"/>
<path transform="translate(423.8 102.7)" d="M-1.2 0L-0.50 -11.8L0.50 -11.8L1.2 0z"/>
<path transform="translate(443.9 102.7)" d="M-1.2 0L-0.50 -10.5L0.50 -10.5L1.2 0z"/>
<path transform="translate(402.3 102.8)" d="M-1.5 0L-0.70 -3.8L0.70 -3.8L1.5 0z"/>
<path transform="translate(405.9 102.8)" d="M-1.4 0L-0.70 -7.2L0.70 -7.2L1.4 0z"/>
<path transform="translate(447.0 102.8)" d="M-1.4 0L-0.70 -4.8L0.70 -4.8L1.4 0z"/>
<path transform="translate(419.7 102.8)" d="M-1.1 0L-0.70 -7.8L0.70 -7.8L1.1 0z"/>
<path transform="translate(445.3 102.8)" d="M-1.6 0L-0.70 -7.5L0.70 -7.5L1.6 0z"/>
<path transform="translate(438.1 102.9)" d="M-1.3 0L-0.50 -7.0L0.50 -7.0L1.3 0z"/>
<path transform="translate(430.0 102.9)" d="M-1.6 0L-0.70 -7.8L0.70 -7.8L1.6 0z"/>
<path transform="translate(423.4 102.9)" d="M-1.4 0L-0.70 -6.8L0.70 -6.8L1.4 0z"/>
<path transform="translate(419.3 102.9)" d="M-1.0 0L-0.30 -12.6L0.30 -12.6L1.0 0z"/>
<path transform="translate(436.4 102.9)" d="M-1.5 0L-0.70 -7.4L0.70 -7.4L1.5 0z"/>
<path transform="translate(448.2 102.9)" d="M-1.1 0L-0.50 -5.4L0.50 -5.4L1.1 0z"/>
<path transform="translate(444.5 102.9)" d="M-0.9 0L-0.30 -9.2L0.30 -9.2L0.9 0z"/>
<path transform="translate(446.3 102.9)" d="M-1.5 0L-0.70 -4.2L0.70 -4.2L1.5 0z"/>
<path transform="translate(447.4 103.0)" d="M-1.2 0L-0.70 -6.8L0.70 -6.8L1.2 0z"/>
<path transform="translate(406.7 103.0)" d="M-1.3 0L-0.70 -5.9L0.70 -5.9L1.3 0z"/>
<path transform="translate(428.9 103.0)" d="M-1.5 0L-0.70 -5.6L0.70 -5.6L1.5 0z"/>
<path transform="translate(433.4 103.0)" d="M-1.5 0L-0.70 -8.5L0.70 -8.5L1.5 0z"/>
<path transform="translate(427.5 103.0)" d="M-1.2 0L-0.70 -4.2L0.70 -4.2L1.2 0z"/>
<path transform="translate(434.6 103.0)" d="M-1.7 0L-0.70 -8.3L0.70 -8.3L1.7 0z"/>
<path transform="translate(403.4 103.0)" d="M-0.9 0L-0.30 -11.7L0.30 -11.7L0.9 0z"/>
<path transform="translate(436.0 103.1)" d="M-1.3 0L-0.70 -4.9L0.70 -4.9L1.3 0z"/>
<path transform="translate(432.5 103.1)" d="M-1.2 0L-0.50 -12.5L0.50 -12.5L1.2 0z"/>
<path transform="translate(427.6 103.1)" d="M-1.1 0L-0.70 -9.7L0.70 -9.7L1.1 0z"/>
<path transform="translate(422.5 103.1)" d="M-1.5 0L-0.70 -5.5L0.70 -5.5L1.5 0z"/>
<path transform="translate(437.1 103.1)" d="M-1.4 0L-0.70 -8.0L0.70 -8.0L1.4 0z"/>
<path transform="translate(443.2 103.1)" d="M-1.1 0L-0.50 -10.7L0.50 -10.7L1.1 0z"/>
<path transform="translate(446.5 103.1)" d="M-1.3 0L-0.50 -3.9L0.50 -3.9L1.3 0z"/>
<path transform="translate(426.8 103.1)" d="M-1.1 0L-0.50 -7.8L0.50 -7.8L1.1 0z"/>
<path transform="translate(427.2 103.1)" d="M-0.8 0L-0.30 -14.2L0.30 -14.2L0.8 0z"/>
<path transform="translate(426.0 103.2)" d="M-1.5 0L-0.70 -9.3L0.70 -9.3L1.5 0z"/>
<path transform="translate(441.5 103.2)" d="M-1.2 0L-0.50 -12.6L0.50 -12.6L1.2 0z"/>
<path transform="translate(419.6 103.2)" d="M-1.4 0L-0.70 -7.4L0.70 -7.4L1.4 0z"/>
<path transform="translate(436.1 103.3)" d="M-0.9 0L-0.30 -12.9L0.30 -12.9L0.9 0z"/>
<path transform="translate(437.2 103.3)" d="M-0.9 0L-0.30 -10.9L0.30 -10.9L0.9 0z"/>
<path transform="translate(436.0 103.3)" d="M-1.4 0L-0.70 -8.0L0.70 -8.0L1.4 0z"/>
<path transform="translate(418.7 103.3)" d="M-0.9 0L-0.50 -10.4L0.50 -10.4L0.9 0z"/>
<path transform="translate(462.5 103.3)" d="M-0.9 0L-0.30 -11.7L0.30 -11.7L0.9 0z"/>
<path transform="translate(442.8 103.4)" d="M-1.4 0L-0.70 -3.6L0.70 -3.6L1.4 0z"/>
<path transform="translate(434.9 103.5)" d="M-1.2 0L-0.50 -8.7L0.50 -8.7L1.2 0z"/>
<path transform="translate(458.4 103.5)" d="M-1.7 0L-0.70 -4.4L0.70 -4.4L1.7 0z"/>
<path transform="translate(420.2 103.5)" d="M-0.9 0L-0.50 -11.9L0.50 -11.9L0.9 0z"/>
<path transform="translate(437.4 103.6)" d="M-1.2 0L-0.50 -10.1L0.50 -10.1L1.2 0z"/>
<path transform="translate(428.0 103.6)" d="M-1.2 0L-0.70 -5.5L0.70 -5.5L1.2 0z"/>
<path transform="translate(442.1 103.6)" d="M-0.9 0L-0.50 -11.5L0.50 -11.5L0.9 0z"/>
<path transform="translate(428.7 103.7)" d="M-1.2 0L-0.50 -10.3L0.50 -10.3L1.2 0z"/>
<path transform="translate(442.7 103.7)" d="M-1.0 0L-0.50 -10.3L0.50 -10.3L1.0 0z"/>
<path transform="translate(416.3 103.7)" d="M-1.4 0L-0.70 -8.1L0.70 -8.1L1.4 0z"/>
<path transform="translate(443.9 103.7)" d="M-1.5 0L-0.70 -10.4L0.70 -10.4L1.5 0z"/>
<path transform="translate(433.0 103.7)" d="M-0.9 0L-0.50 -10.0L0.50 -10.0L0.9 0z"/>
<path transform="translate(423.9 103.8)" d="M-1.6 0L-0.70 -10.0L0.70 -10.0L1.6 0z"/>
<path transform="translate(419.3 103.8)" d="M-1.3 0L-0.50 -10.1L0.50 -10.1L1.3 0z"/>
<path transform="translate(420.0 103.8)" d="M-1.3 0L-0.70 -5.6L0.70 -5.6L1.3 0z"/>
<path transform="translate(445.2 103.9)" d="M-1.1 0L-0.50 -10.6L0.50 -10.6L1.1 0z"/>
<path transform="translate(438.1 103.9)" d="M-1.5 0L-0.70 -9.2L0.70 -9.2L1.5 0z"/>
<path transform="translate(457.7 103.9)" d="M-1.6 0L-0.70 -5.9L0.70 -5.9L1.6 0z"/>
<path transform="translate(428.7 103.9)" d="M-1.2 0L-0.70 -7.2L0.70 -7.2L1.2 0z"/>
<path transform="translate(418.3 103.9)" d="M-1.4 0L-0.70 -7.4L0.70 -7.4L1.4 0z"/>
<path transform="translate(432.2 104.0)" d="M-1.4 0L-0.70 -9.1L0.70 -9.1L1.4 0z"/>
<path transform="translate(458.1 104.0)" d="M-1.6 0L-0.70 -7.4L0.70 -7.4L1.6 0z"/>
<path transform="translate(459.9 104.1)" d="M-1.1 0L-0.70 -5.6L0.70 -5.6L1.1 0z"/>
<path transform="translate(459.2 104.1)" d="M-1.0 0L-0.50 -12.1L0.50 -12.1L1.0 0z"/>
<path transform="translate(404.2 104.1)" d="M-1.4 0L-0.70 -9.9L0.70 -9.9L1.4 0z"/>
<path transform="translate(421.1 104.2)" d="M-1.5 0L-0.70 -9.4L0.70 -9.4L1.5 0z"/>
<path transform="translate(425.5 104.2)" d="M-1.5 0L-0.70 -7.8L0.70 -7.8L1.5 0z"/>
<path transform="translate(433.9 104.2)" d="M-0.9 0L-0.50 -10.3L0.50 -10.3L0.9 0z"/>
<path transform="translate(432.4 104.2)" d="M-0.9 0L-0.50 -10.4L0.50 -10.4L0.9 0z"/>
<path transform="translate(437.4 104.2)" d="M-1.6 0L-0.70 -4.0L0.70 -4.0L1.6 0z"/>
<path transform="translate(442.4 104.2)" d="M-1.3 0L-0.70 -9.8L0.70 -9.8L1.3 0z"/>
<path transform="translate(460.1 104.2)" d="M-1.4 0L-0.70 -8.1L0.70 -8.1L1.4 0z"/>
<path transform="translate(432.2 104.2)" d="M-1.2 0L-0.50 -11.1L0.50 -11.1L1.2 0z"/>
<path transform="translate(426.1 104.2)" d="M-1.2 0L-0.50 -13.2L0.50 -13.2L1.2 0z"/>
<path transform="translate(429.8 104.2)" d="M-1.5 0L-0.70 -9.1L0.70 -9.1L1.5 0z"/>
<path transform="translate(435.8 104.3)" d="M-1.3 0L-0.50 -11.4L0.50 -11.4L1.3 0z"/>
<path transform="translate(422.3 104.3)" d="M-1.0 0L-0.30 -14.1L0.30 -14.1L1.0 0z"/>
<path transform="translate(405.3 104.3)" d="M-1.3 0L-0.70 -8.2L0.70 -8.2L1.3 0z"/>
<path transform="translate(428.0 104.3)" d="M-1.0 0L-0.50 -6.1L0.50 -6.1L1.0 0z"/>
<path transform="translate(446.4 104.3)" d="M-1.3 0L-0.50 -9.0L0.50 -9.0L1.3 0z"/>
<path transform="translate(434.8 104.3)" d="M-1.2 0L-0.50 -11.1L0.50 -11.1L1.2 0z"/>
<path transform="translate(461.6 104.3)" d="M-1.0 0L-0.50 -9.5L0.50 -9.5L1.0 0z"/>
<path transform="translate(421.1 104.3)" d="M-1.0 0L-0.50 -11.8L0.50 -11.8L1.0 0z"/>
<path transform="translate(434.5 104.4)" d="M-1.1 0L-0.30 -13.6L0.30 -13.6L1.1 0z"/>
<path transform="translate(460.7 104.4)" d="M-1.1 0L-0.30 -13.6L0.30 -13.6L1.1 0z"/>
<path transform="translate(423.5 104.4)" d="M-1.0 0L-0.50 -9.6L0.50 -9.6L1.0 0z"/>
<path transform="translate(440.8 104.4)" d="M-0.9 0L-0.30 -4.3L0.30 -4.3L0.9 0z"/>
<path transform="translate(421.8 104.5)" d="M-1.0 0L-0.30 -16.3L0.30 -16.3L1.0 0z"/>
<path transform="translate(456.6 104.5)" d="M-1.1 0L-0.50 -9.6L0.50 -9.6L1.1 0z"/>
<path transform="translate(446.7 104.6)" d="M-1.0 0L-0.50 -6.6L0.50 -6.6L1.0 0z"/>
<path transform="translate(437.5 104.6)" d="M-1.3 0L-0.70 -2.6L0.70 -2.6L1.3 0z"/>
<path transform="translate(429.1 104.6)" d="M-1.6 0L-0.70 -7.3L0.70 -7.3L1.6 0z"/>
<path transform="translate(407.7 104.7)" d="M-1.0 0L-0.30 -14.1L0.30 -14.1L1.0 0z"/>
<path transform="translate(408.2 104.7)" d="M-1.4 0L-0.70 -8.8L0.70 -8.8L1.4 0z"/>
<path transform="translate(440.6 104.7)" d="M-1.2 0L-0.70 -5.4L0.70 -5.4L1.2 0z"/>
<path transform="translate(423.6 104.7)" d="M-1.3 0L-0.50 -10.8L0.50 -10.8L1.3 0z"/>
<path transform="translate(419.8 104.7)" d="M-1.0 0L-0.50 -9.8L0.50 -9.8L1.0 0z"/>
<path transform="translate(428.7 104.8)" d="M-1.4 0L-0.70 -9.4L0.70 -9.4L1.4 0z"/>
<path transform="translate(416.5 104.8)" d="M-1.3 0L-0.50 -12.6L0.50 -12.6L1.3 0z"/>
<path transform="translate(423.3 104.8)" d="M-1.7 0L-0.70 -7.8L0.70 -7.8L1.7 0z"/>
<path transform="translate(406.3 104.8)" d="M-1.3 0L-0.50 -9.9L0.50 -9.9L1.3 0z"/>
<path transform="translate(418.6 104.8)" d="M-1.0 0L-0.50 -4.3L0.50 -4.3L1.0 0z"/>
<path transform="translate(405.3 104.9)" d="M-1.1 0L-0.50 -12.2L0.50 -12.2L1.1 0z"/>
<path transform="translate(425.0 104.9)" d="M-1.0 0L-0.50 -12.0L0.50 -12.0L1.0 0z"/>
<path transform="translate(427.7 104.9)" d="M-0.8 0L-0.30 -10.7L0.30 -10.7L0.8 0z"/>
<path transform="translate(432.3 105.0)" d="M-1.5 0L-0.70 -7.9L0.70 -7.9L1.5 0z"/>
<path transform="translate(430.9 105.0)" d="M-1.0 0L-0.30 -11.1L0.30 -11.1L1.0 0z"/>
<path transform="translate(423.6 105.1)" d="M-1.0 0L-0.50 -11.8L0.50 -11.8L1.0 0z"/>
<path transform="translate(432.8 105.1)" d="M-0.9 0L-0.30 -13.2L0.30 -13.2L0.9 0z"/>
<path transform="translate(426.7 105.1)" d="M-0.8 0L-0.30 -12.5L0.30 -12.5L0.8 0z"/>
<path transform="translate(402.7 105.2)" d="M-1.2 0L-0.50 -5.0L0.50 -5.0L1.2 0z"/>
<path transform="translate(457.4 105.2)" d="M-0.9 0L-0.30 -14.2L0.30 -14.2L0.9 0z"/>
<path transform="translate(445.3 105.2)" d="M-1.0 0L-0.30 -5.2L0.30 -5.2L1.0 0z"/>
<path transform="translate(446.6 105.2)" d="M-0.9 0L-0.50 -8.5L0.50 -8.5L0.9 0z"/>
<path transform="translate(408.4 105.2)" d="M-1.3 0L-0.70 -9.0L0.70 -9.0L1.3 0z"/>
<path transform="translate(418.6 105.2)" d="M-1.0 0L-0.50 -9.4L0.50 -9.4L1.0 0z"/>
<path transform="translate(405.6 105.3)" d="M-1.5 0L-0.70 -3.5L0.70 -3.5L1.5 0z"/>
<path transform="translate(435.6 105.3)" d="M-1.2 0L-0.70 -7.7L0.70 -7.7L1.2 0z"/>
<path transform="translate(433.6 105.3)" d="M-1.6 0L-0.70 -8.1L0.70 -8.1L1.6 0z"/>
<path transform="translate(427.2 105.3)" d="M-1.1 0L-0.50 -4.4L0.50 -4.4L1.1 0z"/>
<path transform="translate(460.2 105.3)" d="M-1.1 0L-0.50 -11.7L0.50 -11.7L1.1 0z"/>
<path transform="translate(406.7 105.3)" d="M-1.3 0L-0.70 -9.7L0.70 -9.7L1.3 0z"/>
<path transform="translate(439.3 105.4)" d="M-1.3 0L-0.50 -9.6L0.50 -9.6L1.3 0z"/>
<path transform="translate(429.4 105.4)" d="M-1.2 0L-0.50 -8.5L0.50 -8.5L1.2 0z"/>
<path transform="translate(459.2 105.4)" d="M-1.4 0L-0.70 -7.8L0.70 -7.8L1.4 0z"/>
<path transform="translate(458.9 105.5)" d="M-0.9 0L-0.30 -13.2L0.30 -13.2L0.9 0z"/>
<path transform="translate(417.1 105.5)" d="M-0.9 0L-0.30 -12.5L0.30 -12.5L0.9 0z"/>
<path transform="translate(407.7 105.5)" d="M-1.1 0L-0.70 -9.1L0.70 -9.1L1.1 0z"/>
<path transform="translate(421.2 105.5)" d="M-1.6 0L-0.70 -6.8L0.70 -6.8L1.6 0z"/>
<path transform="translate(439.9 105.6)" d="M-1.3 0L-0.70 -6.8L0.70 -6.8L1.3 0z"/>
<path transform="translate(404.9 105.6)" d="M-1.4 0L-0.70 -9.0L0.70 -9.0L1.4 0z"/>
<path transform="translate(408.5 105.8)" d="M-1.2 0L-0.50 -12.4L0.50 -12.4L1.2 0z"/>
<path transform="translate(407.8 105.9)" d="M-1.6 0L-0.70 -6.8L0.70 -6.8L1.6 0z"/>
<path transform="translate(405.5 105.9)" d="M-1.0 0L-0.30 -12.1L0.30 -12.1L1.0 0z"/>
<path transform="translate(406.0 105.9)" d="M-1.2 0L-0.70 -9.0L0.70 -9.0L1.2 0z"/>
<path transform="translate(442.9 105.9)" d="M-1.4 0L-0.70 -5.3L0.70 -5.3L1.4 0z"/>
<path transform="translate(457.7 106.0)" d="M-1.6 0L-0.70 -10.3L0.70 -10.3L1.6 0z"/>
<path transform="translate(427.8 106.0)" d="M-1.2 0L-0.70 -5.4L0.70 -5.4L1.2 0z"/>
<path transform="translate(439.2 106.0)" d="M-1.3 0L-0.70 -6.7L0.70 -6.7L1.3 0z"/>
<path transform="translate(425.6 106.1)" d="M-1.2 0L-0.50 -8.7L0.50 -8.7L1.2 0z"/>
<path transform="translate(431.6 106.1)" d="M-1.7 0L-0.70 -5.1L0.70 -5.1L1.7 0z"/>
<path transform="translate(458.2 106.1)" d="M-1.2 0L-0.50 -4.1L0.50 -4.1L1.2 0z"/>
<path transform="translate(423.1 106.1)" d="M-1.0 0L-0.50 -6.9L0.50 -6.9L1.0 0z"/>
<path transform="translate(429.9 106.1)" d="M-1.1 0L-0.50 -5.5L0.50 -5.5L1.1 0z"/>
<path transform="translate(423.9 106.1)" d="M-1.2 0L-0.50 -7.2L0.50 -7.2L1.2 0z"/>
<path transform="translate(443.5 106.1)" d="M-1.6 0L-0.70 -5.4L0.70 -5.4L1.6 0z"/>
<path transform="translate(406.0 106.2)" d="M-1.5 0L-0.70 -4.0L0.70 -4.0L1.5 0z"/>
<path transform="translate(441.7 106.2)" d="M-1.6 0L-0.70 -5.8L0.70 -5.8L1.6 0z"/>
<path transform="translate(407.6 106.2)" d="M-1.5 0L-0.70 -7.8L0.70 -7.8L1.5 0z"/>
<path transform="translate(409.7 106.3)" d="M-1.3 0L-0.70 -4.5L0.70 -4.5L1.3 0z"/>
<path transform="translate(440.3 106.3)" d="M-1.0 0L-0.50 -4.6L0.50 -4.6L1.0 0z"/>
<path transform="translate(411.7 106.4)" d="M-0.9 0L-0.30 -10.5L0.30 -10.5L0.9 0z"/>
<path transform="translate(459.8 106.5)" d="M-1.2 0L-0.70 -8.4L0.70 -8.4L1.2 0z"/>
<path transform="translate(457.2 106.5)" d="M-1.4 0L-0.70 -7.2L0.70 -7.2L1.4 0z"/>
<path transform="translate(460.6 106.6)" d="M-1.6 0L-0.70 -7.0L0.70 -7.0L1.6 0z"/>
<path transform="translate(406.7 106.8)" d="M-1.2 0L-0.70 -8.2L0.70 -8.2L1.2 0z"/>
<path transform="translate(409.5 106.9)" d="M-1.0 0L-0.50 -13.2L0.50 -13.2L1.0 0z"/>
<path transform="translate(459.6 107.0)" d="M-1.0 0L-0.50 -11.4L0.50 -11.4L1.0 0z"/>
<path transform="translate(411.9 107.2)" d="M-1.4 0L-0.70 -7.2L0.70 -7.2L1.4 0z"/>
<path transform="translate(405.7 107.2)" d="M-1.4 0L-0.70 -6.1L0.70 -6.1L1.4 0z"/>
<path transform="translate(407.0 107.2)" d="M-1.0 0L-0.50 -8.8L0.50 -8.8L1.0 0z"/>
<path transform="translate(411.0 107.3)" d="M-1.2 0L-0.50 -10.6L0.50 -10.6L1.2 0z"/>
<path transform="translate(458.5 107.3)" d="M-1.5 0L-0.70 -3.0L0.70 -3.0L1.5 0z"/>
<path transform="translate(456.8 107.6)" d="M-1.6 0L-0.70 -8.2L0.70 -8.2L1.6 0z"/>
<path transform="translate(460.0 107.8)" d="M-1.4 0L-0.70 -7.0L0.70 -7.0L1.4 0z"/>
<path transform="translate(459.4 108.0)" d="M-1.0 0L-0.30 -13.3L0.30 -13.3L1.0 0z"/>
<path transform="translate(411.1 108.0)" d="M-1.2 0L-0.70 -7.9L0.70 -7.9L1.2 0z"/>
<path transform="translate(411.1 108.1)" d="M-1.2 0L-0.70 -10.1L0.70 -10.1L1.2 0z"/>
<path transform="translate(458.0 108.1)" d="M-1.0 0L-0.50 -10.8L0.50 -10.8L1.0 0z"/>
<path transform="translate(457.6 108.1)" d="M-1.7 0L-0.70 -7.6L0.70 -7.6L1.7 0z"/>
<path transform="translate(454.4 108.1)" d="M-1.5 0L-0.70 -3.0L0.70 -3.0L1.5 0z"/>
<path transform="translate(410.7 108.2)" d="M-1.1 0L-0.50 -12.8L0.50 -12.8L1.1 0z"/>
<path transform="translate(409.4 108.4)" d="M-1.4 0L-0.70 -9.3L0.70 -9.3L1.4 0z"/>
<path transform="translate(460.6 108.4)" d="M-1.2 0L-0.50 -4.9L0.50 -4.9L1.2 0z"/>
<path transform="translate(455.8 108.6)" d="M-1.1 0L-0.70 -8.7L0.70 -8.7L1.1 0z"/>
<path transform="translate(452.9 108.6)" d="M-1.2 0L-0.70 -2.9L0.70 -2.9L1.2 0z"/>
<path transform="translate(408.6 108.7)" d="M-1.1 0L-0.30 -11.5L0.30 -11.5L1.1 0z"/>
<path transform="translate(443.1 108.7)" d="M-1.5 0L-0.70 -2.9L0.70 -2.9L1.5 0z"/>
<path transform="translate(413.3 108.7)" d="M-1.6 0L-0.70 -4.3L0.70 -4.3L1.6 0z"/>
<path transform="translate(424.1 108.8)" d="M-1.7 0L-0.70 -2.6L0.70 -2.6L1.7 0z"/>
<path transform="translate(450.0 108.8)" d="M-1.3 0L-0.70 -5.6L0.70 -5.6L1.3 0z"/>
<path transform="translate(409.2 108.8)" d="M-1.0 0L-0.50 -7.1L0.50 -7.1L1.0 0z"/>
<path transform="translate(443.2 108.9)" d="M-1.5 0L-0.70 -5.4L0.70 -5.4L1.5 0z"/>
<path transform="translate(447.7 109.0)" d="M-1.5 0L-0.70 -6.2L0.70 -6.2L1.5 0z"/>
<path transform="translate(410.8 109.0)" d="M-1.1 0L-0.70 -6.7L0.70 -6.7L1.1 0z"/>
<path transform="translate(457.5 109.0)" d="M-1.5 0L-0.70 -8.0L0.70 -8.0L1.5 0z"/>
<path transform="translate(416.1 109.1)" d="M-1.6 0L-0.70 -3.9L0.70 -3.9L1.6 0z"/>
<path transform="translate(457.7 109.1)" d="M-1.6 0L-0.70 -6.6L0.70 -6.6L1.6 0z"/>
<path transform="translate(422.3 109.1)" d="M-1.0 0L-0.50 -6.1L0.50 -6.1L1.0 0z"/>
<path transform="translate(415.6 109.1)" d="M-1.1 0L-0.50 -4.0L0.50 -4.0L1.1 0z"/>
<path transform="translate(437.6 109.1)" d="M-1.2 0L-0.70 -6.1L0.70 -6.1L1.2 0z"/>
<path transform="translate(437.6 109.1)" d="M-1.0 0L-0.50 -7.7L0.50 -7.7L1.0 0z"/>
<path transform="translate(410.3 109.2)" d="M-1.3 0L-0.70 -7.9L0.70 -7.9L1.3 0z"/>
<path transform="translate(435.9 109.2)" d="M-1.5 0L-0.70 -3.5L0.70 -3.5L1.5 0z"/>
<path transform="translate(453.4 109.3)" d="M-1.2 0L-0.70 -3.6L0.70 -3.6L1.2 0z"/>
<path transform="translate(457.0 109.3)" d="M-1.2 0L-0.70 -8.7L0.70 -8.7L1.2 0z"/>
<path transform="translate(429.9 109.3)" d="M-1.1 0L-0.70 -5.4L0.70 -5.4L1.1 0z"/>
<path transform="translate(432.9 109.3)" d="M-1.6 0L-0.70 -3.4L0.70 -3.4L1.6 0z"/>
<path transform="translate(426.7 109.3)" d="M-1.2 0L-0.70 -6.3L0.70 -6.3L1.2 0z"/>
<path transform="translate(440.4 109.3)" d="M-1.1 0L-0.50 -9.1L0.50 -9.1L1.1 0z"/>
<path transform="translate(412.6 109.3)" d="M-1.2 0L-0.70 -5.7L0.70 -5.7L1.2 0z"/>
<path transform="translate(450.9 109.3)" d="M-1.1 0L-0.70 -3.1L0.70 -3.1L1.1 0z"/>
<path transform="translate(434.4 109.3)" d="M-1.5 0L-0.70 -6.4L0.70 -6.4L1.5 0z"/>
<path transform="translate(440.7 109.3)" d="M-1.2 0L-0.50 -10.8L0.50 -10.8L1.2 0z"/>
<path transform="translate(440.3 109.3)" d="M-0.9 0L-0.50 -7.6L0.50 -7.6L0.9 0z"/>
<path transform="translate(415.6 109.4)" d="M-1.0 0L-0.50 -5.8L0.50 -5.8L1.0 0z"/>
<path transform="translate(456.2 109.4)" d="M-1.5 0L-0.70 -7.3L0.70 -7.3L1.5 0z"/>
<path transform="translate(456.6 109.4)" d="M-1.1 0L-0.30 -15.0L0.30 -15.0L1.1 0z"/>
<path transform="translate(434.2 109.5)" d="M-1.0 0L-0.50 -10.8L0.50 -10.8L1.0 0z"/>
<path transform="translate(416.3 109.5)" d="M-1.6 0L-0.70 -5.3L0.70 -5.3L1.6 0z"/>
<path transform="translate(409.6 109.5)" d="M-1.3 0L-0.50 -5.4L0.50 -5.4L1.3 0z"/>
<path transform="translate(446.9 109.5)" d="M-1.5 0L-0.70 -6.3L0.70 -6.3L1.5 0z"/>
<path transform="translate(416.3 109.5)" d="M-1.1 0L-0.50 -8.4L0.50 -8.4L1.1 0z"/>
<path transform="translate(446.8 109.5)" d="M-1.7 0L-0.70 -8.8L0.70 -8.8L1.7 0z"/>
<path transform="translate(418.3 109.6)" d="M-1.1 0L-0.30 -10.1L0.30 -10.1L1.1 0z"/>
<path transform="translate(432.7 109.6)" d="M-1.6 0L-0.70 -6.4L0.70 -6.4L1.6 0z"/>
<path transform="translate(410.8 109.6)" d="M-1.2 0L-0.50 -10.5L0.50 -10.5L1.2 0z"/>
<path transform="translate(415.8 109.6)" d="M-1.5 0L-0.70 -8.4L0.70 -8.4L1.5 0z"/>
<path transform="translate(454.2 109.6)" d="M-1.3 0L-0.50 -7.8L0.50 -7.8L1.3 0z"/>
<path transform="translate(453.3 109.6)" d="M-1.3 0L-0.70 -7.9L0.70 -7.9L1.3 0z"/>
<path transform="translate(454.6 109.7)" d="M-1.2 0L-0.50 -9.2L0.50 -9.2L1.2 0z"/>
<path transform="translate(411.9 109.7)" d="M-1.1 0L-0.50 -12.2L0.50 -12.2L1.1 0z"/>
<path transform="translate(444.6 109.7)" d="M-1.4 0L-0.70 -4.0L0.70 -4.0L1.4 0z"/>
<path transform="translate(443.0 109.7)" d="M-1.1 0L-0.70 -8.0L0.70 -8.0L1.1 0z"/>
<path transform="translate(433.5 109.7)" d="M-1.0 0L-0.30 -13.4L0.30 -13.4L1.0 0z"/>
<path transform="translate(459.0 109.7)" d="M-1.2 0L-0.50 -8.8L0.50 -8.8L1.2 0z"/>
<path transform="translate(416.8 109.8)" d="M-1.4 0L-0.70 -5.7L0.70 -5.7L1.4 0z"/>
<path transform="translate(457.9 109.8)" d="M-1.1 0L-0.50 -9.8L0.50 -9.8L1.1 0z"/>
<path transform="translate(453.0 109.8)" d="M-1.5 0L-0.70 -7.5L0.70 -7.5L1.5 0z"/>
<path transform="translate(412.8 109.8)" d="M-1.6 0L-0.70 -5.0L0.70 -5.0L1.6 0z"/>
<path transform="translate(430.6 109.9)" d="M-1.5 0L-0.70 -5.6L0.70 -5.6L1.5 0z"/>
<path transform="translate(424.4 109.9)" d="M-1.6 0L-0.70 -7.9L0.70 -7.9L1.6 0z"/>
<path transform="translate(413.9 109.9)" d="M-1.2 0L-0.70 -9.1L0.70 -9.1L1.2 0z"/>
<path transform="translate(429.0 109.9)" d="M-1.0 0L-0.50 -3.4L0.50 -3.4L1.0 0z"/>
<path transform="translate(454.2 110.0)" d="M-1.6 0L-0.70 -9.7L0.70 -9.7L1.6 0z"/>
<path transform="translate(444.5 110.0)" d="M-0.8 0L-0.30 -14.1L0.30 -14.1L0.8 0z"/>
<path transform="translate(412.3 110.0)" d="M-1.4 0L-0.70 -9.8L0.70 -9.8L1.4 0z"/>
<path transform="translate(454.3 110.0)" d="M-1.0 0L-0.50 -11.0L0.50 -11.0L1.0 0z"/>
<path transform="translate(425.3 110.0)" d="M-1.1 0L-0.50 -3.7L0.50 -3.7L1.1 0z"/>
<path transform="translate(430.6 110.0)" d="M-1.7 0L-0.70 -5.1L0.70 -5.1L1.7 0z"/>
<path transform="translate(415.0 110.0)" d="M-1.2 0L-0.50 -12.5L0.50 -12.5L1.2 0z"/>
<path transform="translate(444.7 110.1)" d="M-1.6 0L-0.70 -7.3L0.70 -7.3L1.6 0z"/>
<path transform="translate(428.7 110.1)" d="M-1.0 0L-0.50 -10.0L0.50 -10.0L1.0 0z"/>
<path transform="translate(421.2 110.1)" d="M-1.1 0L-0.50 -8.1L0.50 -8.1L1.1 0z"/>
<path transform="translate(415.5 110.1)" d="M-1.3 0L-0.70 -8.7L0.70 -8.7L1.3 0z"/>
<path transform="translate(440.8 110.1)" d="M-1.0 0L-0.30 -13.5L0.30 -13.5L1.0 0z"/>
<path transform="translate(430.8 110.1)" d="M-1.5 0L-0.70 -9.4L0.70 -9.4L1.5 0z"/>
<path transform="translate(454.1 110.2)" d="M-1.2 0L-0.70 -3.4L0.70 -3.4L1.2 0z"/>
<path transform="translate(419.3 110.2)" d="M-1.2 0L-0.50 -4.1L0.50 -4.1L1.2 0z"/>
<path transform="translate(415.1 110.2)" d="M-1.0 0L-0.50 -4.6L0.50 -4.6L1.0 0z"/>
<path transform="translate(434.6 110.2)" d="M-1.4 0L-0.70 -7.7L0.70 -7.7L1.4 0z"/>
<path transform="translate(453.6 110.2)" d="M-0.8 0L-0.30 -13.4L0.30 -13.4L0.8 0z"/>
<path transform="translate(440.8 110.2)" d="M-1.6 0L-0.70 -9.6L0.70 -9.6L1.6 0z"/>
<path transform="translate(441.7 110.2)" d="M-1.2 0L-0.50 -12.8L0.50 -12.8L1.2 0z"/>
<path transform="translate(415.1 110.3)" d="M-1.2 0L-0.50 -10.5L0.50 -10.5L1.2 0z"/>
<path transform="translate(428.6 110.3)" d="M-1.3 0L-0.50 -10.1L0.50 -10.1L1.3 0z"/>
<path transform="translate(412.2 110.3)" d="M-1.1 0L-0.50 -12.3L0.50 -12.3L1.1 0z"/>
<path transform="translate(423.5 110.3)" d="M-1.3 0L-0.50 -12.9L0.50 -12.9L1.3 0z"/>
<path transform="translate(449.1 110.4)" d="M-1.3 0L-0.50 -9.9L0.50 -9.9L1.3 0z"/>
<path transform="translate(429.2 110.4)" d="M-1.7 0L-0.70 -10.1L0.70 -10.1L1.7 0z"/>
<path transform="translate(440.9 110.4)" d="M-1.3 0L-0.70 -5.7L0.70 -5.7L1.3 0z"/>
<path transform="translate(454.9 110.4)" d="M-1.1 0L-0.50 -11.8L0.50 -11.8L1.1 0z"/>
<path transform="translate(448.8 110.4)" d="M-0.9 0L-0.50 -12.7L0.50 -12.7L0.9 0z"/>
<path transform="translate(440.5 110.4)" d="M-1.0 0L-0.30 -5.5L0.30 -5.5L1.0 0z"/>
<path transform="translate(438.7 110.5)" d="M-1.0 0L-0.50 -11.1L0.50 -11.1L1.0 0z"/>
<path transform="translate(433.3 110.5)" d="M-1.4 0L-0.70 -7.6L0.70 -7.6L1.4 0z"/>
<path transform="translate(424.0 110.5)" d="M-1.0 0L-0.50 -7.5L0.50 -7.5L1.0 0z"/>
<path transform="translate(432.4 110.5)" d="M-1.5 0L-0.70 -7.7L0.70 -7.7L1.5 0z"/>
<path transform="translate(415.1 110.5)" d="M-1.4 0L-0.70 -8.6L0.70 -8.6L1.4 0z"/>
<path transform="translate(448.3 110.5)" d="M-1.0 0L-0.50 -13.2L0.50 -13.2L1.0 0z"/>
<path transform="translate(422.2 110.5)" d="M-1.2 0L-0.70 -5.9L0.70 -5.9L1.2 0z"/>
<path transform="translate(416.7 110.5)" d="M-0.9 0L-0.30 -9.7L0.30 -9.7L0.9 0z"/>
<path transform="translate(429.9 110.6)" d="M-1.0 0L-0.30 -13.5L0.30 -13.5L1.0 0z"/>
<path transform="translate(444.0 110.6)" d="M-1.4 0L-0.70 -9.5L0.70 -9.5L1.4 0z"/>
<path transform="translate(413.2 110.6)" d="M-1.4 0L-0.70 -7.9L0.70 -7.9L1.4 0z"/>
<path transform="translate(439.3 110.6)" d="M-1.2 0L-0.70 -4.6L0.70 -4.6L1.2 0z"/>
<path transform="translate(416.9 110.6)" d="M-0.9 0L-0.30 -6.2L0.30 -6.2L0.9 0z"/>
<path transform="translate(410.2 110.6)" d="M-1.1 0L-0.50 -10.0L0.50 -10.0L1.1 0z"/>
<path transform="translate(441.7 110.7)" d="M-1.4 0L-0.70 -4.3L0.70 -4.3L1.4 0z"/>
<path transform="translate(411.4 110.7)" d="M-1.3 0L-0.50 -10.2L0.50 -10.2L1.3 0z"/>
<path transform="translate(455.5 110.7)" d="M-1.2 0L-0.50 -13.2L0.50 -13.2L1.2 0z"/>
<path transform="translate(420.7 110.7)" d="M-1.0 0L-0.30 -9.8L0.30 -9.8L1.0 0z"/>
<path transform="translate(428.8 110.7)" d="M-1.1 0L-0.50 -5.8L0.50 -5.8L1.1 0z"/>
<path transform="translate(415.3 110.7)" d="M-1.1 0L-0.50 -10.1L0.50 -10.1L1.1 0z"/>
<path transform="translate(424.4 110.8)" d="M-1.2 0L-0.50 -12.1L0.50 -12.1L1.2 0z"/>
<path transform="translate(416.4 110.8)" d="M-1.1 0L-0.70 -8.9L0.70 -8.9L1.1 0z"/>
<path transform="translate(435.1 110.8)" d="M-1.3 0L-0.70 -9.0L0.70 -9.0L1.3 0z"/>
<path transform="translate(436.2 110.8)" d="M-1.3 0L-0.70 -8.3L0.70 -8.3L1.3 0z"/>
<path transform="translate(425.1 110.8)" d="M-1.3 0L-0.50 -11.2L0.50 -11.2L1.3 0z"/>
<path transform="translate(419.8 110.9)" d="M-1.7 0L-0.70 -7.7L0.70 -7.7L1.7 0z"/>
<path transform="translate(428.6 110.9)" d="M-1.3 0L-0.50 -13.3L0.50 -13.3L1.3 0z"/>
<path transform="translate(447.1 110.9)" d="M-1.2 0L-0.50 -10.9L0.50 -10.9L1.2 0z"/>
<path transform="translate(430.0 110.9)" d="M-0.9 0L-0.50 -10.0L0.50 -10.0L0.9 0z"/>
<path transform="translate(413.0 110.9)" d="M-1.5 0L-0.70 -6.3L0.70 -6.3L1.5 0z"/>
<path transform="translate(447.2 110.9)" d="M-1.2 0L-0.70 -9.3L0.70 -9.3L1.2 0z"/>
<path transform="translate(415.4 110.9)" d="M-1.2 0L-0.50 -13.0L0.50 -13.0L1.2 0z"/>
<path transform="translate(433.6 111.0)" d="M-1.2 0L-0.70 -8.7L0.70 -8.7L1.2 0z"/>
<path transform="translate(422.2 111.0)" d="M-1.1 0L-0.70 -9.6L0.70 -9.6L1.1 0z"/>
<path transform="translate(443.6 111.0)" d="M-1.3 0L-0.50 -12.2L0.50 -12.2L1.3 0z"/>
<path transform="translate(445.4 111.0)" d="M-1.3 0L-0.70 -5.8L0.70 -5.8L1.3 0z"/>
<path transform="translate(453.9 111.1)" d="M-1.6 0L-0.70 -10.2L0.70 -10.2L1.6 0z"/>
<path transform="translate(457.5 111.1)" d="M-1.3 0L-0.70 -3.5L0.70 -3.5L1.3 0z"/>
<path transform="translate(453.1 111.1)" d="M-1.4 0L-0.70 -10.1L0.70 -10.1L1.4 0z"/>
<path transform="translate(431.6 111.1)" d="M-1.3 0L-0.50 -10.6L0.50 -10.6L1.3 0z"/>
<path transform="translate(430.4 111.1)" d="M-1.1 0L-0.70 -8.2L0.70 -8.2L1.1 0z"/>
<path transform="translate(431.1 111.1)" d="M-1.4 0L-0.70 -9.8L0.70 -9.8L1.4 0z"/>
<path transform="translate(453.4 111.2)" d="M-1.3 0L-0.50 -12.8L0.50 -12.8L1.3 0z"/>
<path transform="translate(456.3 111.2)" d="M-1.6 0L-0.70 -9.8L0.70 -9.8L1.6 0z"/>
<path transform="translate(457.6 111.2)" d="M-0.9 0L-0.50 -8.7L0.50 -8.7L0.9 0z"/>
<path transform="translate(419.3 111.2)" d="M-1.0 0L-0.30 -14.3L0.30 -14.3L1.0 0z"/>
<path transform="translate(417.7 111.2)" d="M-1.7 0L-0.70 -3.8L0.70 -3.8L1.7 0z"/>
<path transform="translate(446.0 111.2)" d="M-1.4 0L-0.70 -6.9L0.70 -6.9L1.4 0z"/>
<path transform="translate(441.2 111.2)" d="M-1.6 0L-0.70 -5.5L0.70 -5.5L1.6 0z"/>
<path transform="translate(433.4 111.3)" d="M-1.3 0L-0.50 -9.0L0.50 -9.0L1.3 0z"/>
<path transform="translate(423.9 111.3)" d="M-1.1 0L-0.70 -9.1L0.70 -9.1L1.1 0z"/>
<path transform="translate(451.0 111.4)" d="M-1.5 0L-0.70 -7.6L0.70 -7.6L1.5 0z"/>
<path transform="translate(422.7 111.4)" d="M-1.5 0L-0.70 -6.6L0.70 -6.6L1.5 0z"/>
<path transform="translate(457.6 111.4)" d="M-1.2 0L-0.70 -9.4L0.70 -9.4L1.2 0z"/>
<path transform="translate(454.2 111.5)" d="M-1.1 0L-0.50 -9.9L0.50 -9.9L1.1 0z"/>
<path transform="translate(458.2 111.5)" d="M-0.9 0L-0.50 -3.4L0.50 -3.4L0.9 0z"/>
<path transform="translate(447.2 111.5)" d="M-1.0 0L-0.30 -11.0L0.30 -11.0L1.0 0z"/>
<path transform="translate(415.6 111.5)" d="M-1.3 0L-0.50 -3.8L0.50 -3.8L1.3 0z"/>
<path transform="translate(441.8 111.6)" d="M-1.0 0L-0.50 -11.5L0.50 -11.5L1.0 0z"/>
<path transform="translate(437.4 111.6)" d="M-1.4 0L-0.70 -7.6L0.70 -7.6L1.4 0z"/>
<path transform="translate(423.5 111.6)" d="M-1.3 0L-0.70 -8.4L0.70 -8.4L1.3 0z"/>
<path transform="translate(424.5 111.7)" d="M-1.1 0L-0.70 -2.8L0.70 -2.8L1.1 0z"/>
<path transform="translate(415.6 111.7)" d="M-1.3 0L-0.70 -4.8L0.70 -4.8L1.3 0z"/>
<path transform="translate(451.8 111.7)" d="M-1.7 0L-0.70 -9.1L0.70 -9.1L1.7 0z"/>
<path transform="translate(411.5 111.7)" d="M-0.9 0L-0.50 -3.7L0.50 -3.7L0.9 0z"/>
<path transform="translate(415.4 111.7)" d="M-1.2 0L-0.50 -9.9L0.50 -9.9L1.2 0z"/>
<path transform="translate(428.5 111.8)" d="M-1.0 0L-0.50 -9.2L0.50 -9.2L1.0 0z"/>
<path transform="translate(441.7 111.8)" d="M-1.1 0L-0.70 -5.5L0.70 -5.5L1.1 0z"/>
<path transform="translate(422.1 111.8)" d="M-1.1 0L-0.50 -4.0L0.50 -4.0L1.1 0z"/>
<path transform="translate(419.9 111.8)" d="M-1.5 0L-0.70 -6.9L0.70 -6.9L1.5 0z"/>
<path transform="translate(448.7 111.8)" d="M-0.9 0L-0.30 -10.6L0.30 -10.6L0.9 0z"/>
<path transform="translate(423.8 111.8)" d="M-1.3 0L-0.50 -10.4L0.50 -10.4L1.3 0z"/>
<path transform="translate(441.3 111.9)" d="M-1.1 0L-0.50 -8.7L0.50 -8.7L1.1 0z"/>
<path transform="translate(445.9 112.0)" d="M-1.0 0L-0.30 -9.8L0.30 -9.8L1.0 0z"/>
<path transform="translate(454.9 112.0)" d="M-1.1 0L-0.50 -10.9L0.50 -10.9L1.1 0z"/>
<path transform="translate(438.6 112.0)" d="M-1.3 0L-0.70 -7.9L0.70 -7.9L1.3 0z"/>
<path transform="translate(440.9 112.0)" d="M-1.2 0L-0.50 -9.5L0.50 -9.5L1.2 0z"/>
<path transform="translate(454.8 112.0)" d="M-1.6 0L-0.70 -9.7L0.70 -9.7L1.6 0z"/>
<path transform="translate(423.0 112.0)" d="M-1.6 0L-0.70 -4.8L0.70 -4.8L1.6 0z"/>
<path transform="translate(445.0 112.0)" d="M-1.2 0L-0.70 -9.7L0.70 -9.7L1.2 0z"/>
<path transform="translate(432.0 112.0)" d="M-1.4 0L-0.70 -8.4L0.70 -8.4L1.4 0z"/>
<path transform="translate(420.1 112.0)" d="M-1.1 0L-0.70 -9.0L0.70 -9.0L1.1 0z"/>
<path transform="translate(437.9 112.1)" d="M-1.2 0L-0.50 -11.8L0.50 -11.8L1.2 0z"/>
<path transform="translate(426.5 112.1)" d="M-1.0 0L-0.50 -12.3L0.50 -12.3L1.0 0z"/>
<path transform="translate(439.6 112.1)" d="M-0.9 0L-0.50 -11.4L0.50 -11.4L0.9 0z"/>
<path transform="translate(448.9 112.1)" d="M-1.7 0L-0.70 -7.8L0.70 -7.8L1.7 0z"/>
<path transform="translate(449.2 112.1)" d="M-1.4 0L-0.70 -7.4L0.70 -7.4L1.4 0z"/>
<path transform="translate(424.7 112.1)" d="M-1.5 0L-0.70 -4.8L0.70 -4.8L1.5 0z"/>
<path transform="translate(423.2 112.2)" d="M-1.3 0L-0.70 -7.7L0.70 -7.7L1.3 0z"/>
<path transform="translate(435.4 112.2)" d="M-1.2 0L-0.70 -8.6L0.70 -8.6L1.2 0z"/>
<path transform="translate(454.4 112.2)" d="M-1.4 0L-0.70 -7.8L0.70 -7.8L1.4 0z"/>
<path transform="translate(417.2 112.3)" d="M-1.6 0L-0.70 -3.2L0.70 -3.2L1.6 0z"/>
<path transform="translate(436.6 112.3)" d="M-1.6 0L-0.70 -8.3L0.70 -8.3L1.6 0z"/>
<path transform="translate(445.9 112.3)" d="M-1.3 0L-0.50 -10.9L0.50 -10.9L1.3 0z"/>
<path transform="translate(420.0 112.3)" d="M-1.2 0L-0.50 -6.1L0.50 -6.1L1.2 0z"/>
<path transform="translate(430.9 112.3)" d="M-1.4 0L-0.70 -9.2L0.70 -9.2L1.4 0z"/>
<path transform="translate(427.9 112.3)" d="M-0.9 0L-0.30 -12.7L0.30 -12.7L0.9 0z"/>
<path transform="translate(427.6 112.4)" d="M-1.0 0L-0.50 -11.3L0.50 -11.3L1.0 0z"/>
<path transform="translate(443.9 112.5)" d="M-1.3 0L-0.70 -4.5L0.70 -4.5L1.3 0z"/>
<path transform="translate(420.9 112.5)" d="M-1.2 0L-0.50 -7.5L0.50 -7.5L1.2 0z"/>
<path transform="translate(434.4 112.5)" d="M-1.1 0L-0.50 -10.1L0.50 -10.1L1.1 0z"/>
<path transform="translate(442.6 112.5)" d="M-1.0 0L-0.30 -7.5L0.30 -7.5L1.0 0z"/>
<path transform="translate(415.7 112.5)" d="M-1.1 0L-0.30 -6.9L0.30 -6.9L1.1 0z"/>
<path transform="translate(449.9 112.6)" d="M-0.9 0L-0.50 -9.2L0.50 -9.2L0.9 0z"/>
<path transform="translate(434.8 112.6)" d="M-1.3 0L-0.70 -6.4L0.70 -6.4L1.3 0z"/>
<path transform="translate(430.5 112.7)" d="M-1.4 0L-0.70 -5.3L0.70 -5.3L1.4 0z"/>
<path transform="translate(444.2 112.7)" d="M-1.2 0L-0.50 -10.4L0.50 -10.4L1.2 0z"/>
<path transform="translate(431.2 112.7)" d="M-1.1 0L-0.30 -11.1L0.30 -11.1L1.1 0z"/>
<path transform="translate(428.1 112.7)" d="M-1.4 0L-0.70 -6.3L0.70 -6.3L1.4 0z"/>
<path transform="translate(437.8 112.7)" d="M-1.3 0L-0.70 -4.5L0.70 -4.5L1.3 0z"/>
<path transform="translate(426.2 112.7)" d="M-1.1 0L-0.30 -13.8L0.30 -13.8L1.1 0z"/>
<path transform="translate(448.9 112.7)" d="M-1.2 0L-0.50 -9.4L0.50 -9.4L1.2 0z"/>
<path transform="translate(422.3 112.8)" d="M-1.1 0L-0.50 -9.5L0.50 -9.5L1.1 0z"/>
<path transform="translate(446.4 112.8)" d="M-1.3 0L-0.50 -8.2L0.50 -8.2L1.3 0z"/>
<path transform="translate(434.9 112.9)" d="M-1.1 0L-0.50 -7.6L0.50 -7.6L1.1 0z"/>
<path transform="translate(415.7 112.9)" d="M-1.1 0L-0.50 -11.3L0.50 -11.3L1.1 0z"/>
<path transform="translate(429.3 112.9)" d="M-1.5 0L-0.70 -3.3L0.70 -3.3L1.5 0z"/>
<path transform="translate(429.8 112.9)" d="M-1.2 0L-0.70 -5.6L0.70 -5.6L1.2 0z"/>
<path transform="translate(429.7 112.9)" d="M-0.9 0L-0.50 -4.4L0.50 -4.4L0.9 0z"/>
<path transform="translate(432.4 113.0)" d="M-1.5 0L-0.70 -4.0L0.70 -4.0L1.5 0z"/>
<path transform="translate(425.7 113.0)" d="M-1.1 0L-0.50 -10.8L0.50 -10.8L1.1 0z"/>
<path transform="translate(440.1 113.0)" d="M-1.0 0L-0.30 -10.6L0.30 -10.6L1.0 0z"/>
<path transform="translate(439.5 113.1)" d="M-1.6 0L-0.70 -5.5L0.70 -5.5L1.6 0z"/>
<path transform="translate(441.0 113.1)" d="M-0.9 0L-0.50 -7.6L0.50 -7.6L0.9 0z"/>
<path transform="translate(437.3 113.1)" d="M-1.0 0L-0.30 -10.9L0.30 -10.9L1.0 0z"/>
<path transform="translate(449.0 113.1)" d="M-1.0 0L-0.50 -4.5L0.50 -4.5L1.0 0z"/>
<path transform="translate(451.6 113.2)" d="M-1.3 0L-0.70 -5.0L0.70 -5.0L1.3 0z"/>
<path transform="translate(421.7 113.5)" d="M-1.2 0L-0.70 -3.7L0.70 -3.7L1.2 0z"/>
</g>
<g id="d">
<line x1="334.3" y1="274.9" x2="442.5" y2="218.5" stroke="#e3e3e3" stroke-width="0.6"/>
<line x1="442.5" y1="218.5" x2="524.5" y2="292.4" stroke="#e3e3e3" stroke-width="0.6"/>
<line x1="334.3" y1="267.5" x2="442.5" y2="211.1" stroke="#e3e3e3" stroke-width="0.6"/>
<line x1="442.5" y1="211.1" x2="524.5" y2="285.0" stroke="#e3e3e3" stroke-width="0.6"/>
<line x1="334.3" y1="260.1" x2="442.5" y2="203.7" stroke="#e3e3e3" stroke-width="0.6"/>
<line x1="442.5" y1="203.7" x2="524.5" y2="277.6" stroke="#e3e3e3" stroke-width="0.6"/>
<line x1="334.3" y1="255.2" x2="442.5" y2="198.8" stroke="#e3e3e3" stroke-width="0.6"/>
<line x1="442.5" y1="198.8" x2="524.5" y2="272.7" stroke="#e3e3e3" stroke-width="0.6"/>
<line x1="370.4" y1="256.1" x2="370.4" y2="236.4" stroke="#e3e3e3" stroke-width="0.6"/>
<line x1="406.4" y1="237.3" x2="406.4" y2="217.6" stroke="#e3e3e3" stroke-width="0.6"/>
<line x1="442.5" y1="218.5" x2="442.5" y2="198.8" stroke="#e3e3e3" stroke-width="0.6"/>
<line x1="524.5" y1="292.4" x2="524.5" y2="272.7" stroke="#e3e3e3" stroke-width="0.6"/>
<line x1="497.2" y1="267.8" x2="497.2" y2="248.1" stroke="#e3e3e3" stroke-width="0.6"/>
<line x1="469.8" y1="243.1" x2="469.8" y2="223.4" stroke="#e3e3e3" stroke-width="0.6"/>
<line x1="416.3" y1="348.8" x2="524.5" y2="292.4" stroke="#666" stroke-width="0.6"/>
<line x1="416.3" y1="348.8" x2="334.3" y2="274.9" stroke="#666" stroke-width="0.6"/>
<polygon points="416.3,348.8 516.9,296.3 436.6,223.9 335.9,276.4" fill="#3E26A8"/>
<line x1="334.3" y1="274.9" x2="334.3" y2="255.2" stroke="#666" stroke-width="0.6"/>
<line x1="334.3" y1="274.9" x2="331.8" y2="276.2" stroke="#666" stroke-width="0.6"/>
<text x="330.4" y="274.3" font-size="7.9" text-anchor="end" class="g">0</text>
<line x1="334.3" y1="267.5" x2="331.8" y2="268.8" stroke="#666" stroke-width="0.6"/>
<text x="330.4" y="266.9" font-size="7.9" text-anchor="end" class="g">50</text>
<line x1="334.3" y1="260.1" x2="331.8" y2="261.4" stroke="#666" stroke-width="0.6"/>
<text x="330.4" y="259.5" font-size="7.9" text-anchor="end" class="g">100</text>
<line x1="416.3" y1="348.8" x2="413.8" y2="350.1" stroke="#666" stroke-width="0.6"/>
<line x1="416.3" y1="348.8" x2="418.2" y2="350.5" stroke="#666" stroke-width="0.6"/>
<line x1="389.0" y1="324.2" x2="386.5" y2="325.5" stroke="#666" stroke-width="0.6"/>
<line x1="452.4" y1="330.0" x2="454.2" y2="331.7" stroke="#666" stroke-width="0.6"/>
<line x1="361.6" y1="299.5" x2="359.2" y2="300.8" stroke="#666" stroke-width="0.6"/>
<line x1="488.4" y1="311.2" x2="490.3" y2="312.9" stroke="#666" stroke-width="0.6"/>
<line x1="334.3" y1="274.9" x2="331.8" y2="276.2" stroke="#666" stroke-width="0.6"/>
<line x1="524.5" y1="292.4" x2="526.4" y2="294.1" stroke="#666" stroke-width="0.6"/>
</g>
<polygon points="399.5,264.5 438.0,263.5 463.5,288.0 453.5,307.5 412.5,307.5 389.5,288.0" fill="none" stroke="#4050D8" stroke-width="3.5" stroke-linejoin="round" opacity="0.60" filter="url(#bl)"/>
<polygon points="411.7,276.0 434.8,272.5 446.3,289.5 441.5,301.5 416.5,301.0 405.0,288.6" fill="none" stroke="#4050D8" stroke-width="3.5" stroke-linejoin="round" opacity="0.60" filter="url(#bl)"/>
<g fill="url(#gd)">
<path transform="translate(435.9 261.7)" d="M-0.7 0L-0.30 -6.3L0.30 -6.3L0.7 0z"/>
<path transform="translate(433.1 261.8)" d="M-1.2 0L-0.70 -3.4L0.70 -3.4L1.2 0z"/>
<path transform="translate(432.4 261.9)" d="M-0.9 0L-0.70 -3.2L0.70 -3.2L0.9 0z"/>
<path transform="translate(438.2 262.0)" d="M-0.8 0L-0.70 -6.9L0.70 -6.9L0.8 0z"/>
<path transform="translate(432.9 262.0)" d="M-0.7 0L-0.50 -8.8L0.50 -8.8L0.7 0z"/>
<path transform="translate(438.2 262.2)" d="M-0.7 0L-0.50 -6.8L0.50 -6.8L0.7 0z"/>
<path transform="translate(426.3 262.2)" d="M-0.8 0L-0.70 -4.7L0.70 -4.7L0.8 0z"/>
<path transform="translate(418.8 262.2)" d="M-0.8 0L-0.50 -6.7L0.50 -6.7L0.8 0z"/>
<path transform="translate(435.4 262.2)" d="M-0.9 0L-0.70 -4.9L0.70 -4.9L0.9 0z"/>
<path transform="translate(438.2 262.3)" d="M-0.8 0L-0.50 -9.8L0.50 -9.8L0.8 0z"/>
<path transform="translate(431.5 262.3)" d="M-0.8 0L-0.50 -8.1L0.50 -8.1L0.8 0z"/>
<path transform="translate(423.7 262.3)" d="M-0.7 0L-0.50 -6.2L0.50 -6.2L0.7 0z"/>
<path transform="translate(433.2 262.3)" d="M-0.9 0L-0.50 -7.2L0.50 -7.2L0.9 0z"/>
<path transform="translate(429.4 262.3)" d="M-0.8 0L-0.30 -11.9L0.30 -11.9L0.8 0z"/>
<path transform="translate(438.2 262.3)" d="M-0.9 0L-0.70 -9.8L0.70 -9.8L0.9 0z"/>
<path transform="translate(431.3 262.4)" d="M-0.8 0L-0.50 -9.0L0.50 -9.0L0.8 0z"/>
<path transform="translate(419.1 262.4)" d="M-0.7 0L-0.50 -9.8L0.50 -9.8L0.7 0z"/>
<path transform="translate(428.1 262.5)" d="M-0.8 0L-0.70 -7.3L0.70 -7.3L0.8 0z"/>
<path transform="translate(424.9 262.5)" d="M-1.1 0L-0.70 -4.8L0.70 -4.8L1.1 0z"/>
<path transform="translate(432.9 262.5)" d="M-0.8 0L-0.50 -11.5L0.50 -11.5L0.8 0z"/>
<path transform="translate(424.5 262.5)" d="M-0.9 0L-0.70 -6.6L0.70 -6.6L0.9 0z"/>
<path transform="translate(416.6 262.5)" d="M-0.7 0L-0.30 -12.1L0.30 -12.1L0.7 0z"/>
<path transform="translate(430.9 262.6)" d="M-1.0 0L-0.70 -9.0L0.70 -9.0L1.0 0z"/>
<path transform="translate(406.2 262.6)" d="M-0.8 0L-0.50 -5.2L0.50 -5.2L0.8 0z"/>
<path transform="translate(401.3 262.6)" d="M-0.9 0L-0.50 -5.4L0.50 -5.4L0.9 0z"/>
<path transform="translate(416.4 262.6)" d="M-1.0 0L-0.70 -6.6L0.70 -6.6L1.0 0z"/>
<path transform="translate(433.9 262.7)" d="M-0.9 0L-0.70 -9.7L0.70 -9.7L0.9 0z"/>
<path transform="translate(429.2 262.7)" d="M-0.8 0L-0.50 -10.5L0.50 -10.5L0.8 0z"/>
<path transform="translate(432.0 262.7)" d="M-1.0 0L-0.70 -9.2L0.70 -9.2L1.0 0z"/>
<path transform="translate(428.6 262.7)" d="M-1.2 0L-0.70 -8.5L0.70 -8.5L1.2 0z"/>
<path transform="translate(439.5 262.7)" d="M-1.0 0L-0.70 -9.2L0.70 -9.2L1.0 0z"/>
<path transform="translate(436.9 262.7)" d="M-1.1 0L-0.70 -11.1L0.70 -11.1L1.1 0z"/>
<path transform="translate(418.8 262.8)" d="M-0.7 0L-0.50 -4.5L0.50 -4.5L0.7 0z"/>
<path transform="translate(412.3 262.8)" d="M-1.2 0L-0.70 -5.0L0.70 -5.0L1.2 0z"/>
<path transform="translate(413.2 262.8)" d="M-0.9 0L-0.50 -9.0L0.50 -9.0L0.9 0z"/>
<path transform="translate(422.2 262.8)" d="M-0.9 0L-0.50 -6.2L0.50 -6.2L0.9 0z"/>
<path transform="translate(429.5 262.8)" d="M-1.2 0L-0.70 -3.6L0.70 -3.6L1.2 0z"/>
<path transform="translate(434.3 262.8)" d="M-0.9 0L-0.70 -4.3L0.70 -4.3L0.9 0z"/>
<path transform="translate(415.9 262.9)" d="M-0.9 0L-0.70 -7.0L0.70 -7.0L0.9 0z"/>
<path transform="translate(408.5 262.9)" d="M-0.8 0L-0.50 -10.2L0.50 -10.2L0.8 0z"/>
<path transform="translate(413.8 262.9)" d="M-0.6 0L-0.30 -13.0L0.30 -13.0L0.6 0z"/>
<path transform="translate(414.6 262.9)" d="M-1.0 0L-0.70 -3.1L0.70 -3.1L1.0 0z"/>
<path transform="translate(419.5 262.9)" d="M-0.8 0L-0.70 -7.9L0.70 -7.9L0.8 0z"/>
<path transform="translate(420.5 262.9)" d="M-0.8 0L-0.70 -8.4L0.70 -8.4L0.8 0z"/>
<path transform="translate(406.6 262.9)" d="M-0.9 0L-0.50 -10.1L0.50 -10.1L0.9 0z"/>
<path transform="translate(427.4 262.9)" d="M-0.9 0L-0.70 -9.9L0.70 -9.9L0.9 0z"/>
<path transform="translate(426.1 263.0)" d="M-1.1 0L-0.70 -9.7L0.70 -9.7L1.1 0z"/>
<path transform="translate(436.8 263.0)" d="M-0.9 0L-0.70 -3.4L0.70 -3.4L0.9 0z"/>
<path transform="translate(406.8 263.0)" d="M-0.6 0L-0.30 -14.5L0.30 -14.5L0.6 0z"/>
<path transform="translate(411.6 263.1)" d="M-0.7 0L-0.50 -5.6L0.50 -5.6L0.7 0z"/>
<path transform="translate(440.8 263.1)" d="M-1.1 0L-0.70 -3.5L0.70 -3.5L1.1 0z"/>
<path transform="translate(408.2 263.1)" d="M-0.9 0L-0.70 -6.6L0.70 -6.6L0.9 0z"/>
<path transform="translate(438.5 263.2)" d="M-0.6 0L-0.30 -14.4L0.30 -14.4L0.6 0z"/>
<path transform="translate(411.9 263.2)" d="M-1.2 0L-0.70 -9.9L0.70 -9.9L1.2 0z"/>
<path transform="translate(409.5 263.2)" d="M-1.0 0L-0.70 -5.0L0.70 -5.0L1.0 0z"/>
<path transform="translate(440.4 263.2)" d="M-1.1 0L-0.70 -5.8L0.70 -5.8L1.1 0z"/>
<path transform="translate(401.6 263.2)" d="M-0.9 0L-0.70 -8.5L0.70 -8.5L0.9 0z"/>
<path transform="translate(405.6 263.2)" d="M-0.8 0L-0.50 -5.2L0.50 -5.2L0.8 0z"/>
<path transform="translate(423.7 263.3)" d="M-0.9 0L-0.70 -4.3L0.70 -4.3L0.9 0z"/>
<path transform="translate(425.7 263.3)" d="M-0.9 0L-0.50 -13.9L0.50 -13.9L0.9 0z"/>
<path transform="translate(412.9 263.3)" d="M-0.9 0L-0.50 -10.0L0.50 -10.0L0.9 0z"/>
<path transform="translate(425.4 263.3)" d="M-0.7 0L-0.30 -14.5L0.30 -14.5L0.7 0z"/>
<path transform="translate(421.9 263.3)" d="M-0.9 0L-0.70 -10.7L0.70 -10.7L0.9 0z"/>
<path transform="translate(426.7 263.3)" d="M-1.2 0L-0.70 -8.6L0.70 -8.6L1.2 0z"/>
<path transform="translate(418.3 263.3)" d="M-0.7 0L-0.50 -11.4L0.50 -11.4L0.7 0z"/>
<path transform="translate(412.7 263.4)" d="M-0.9 0L-0.70 -9.4L0.70 -9.4L0.9 0z"/>
<path transform="translate(416.9 263.4)" d="M-0.8 0L-0.70 -10.3L0.70 -10.3L0.8 0z"/>
<path transform="translate(432.9 263.4)" d="M-0.7 0L-0.30 -15.8L0.30 -15.8L0.7 0z"/>
<path transform="translate(435.4 263.4)" d="M-0.8 0L-0.50 -11.7L0.50 -11.7L0.8 0z"/>
<path transform="translate(399.5 263.4)" d="M-0.8 0L-0.70 -7.5L0.70 -7.5L0.8 0z"/>
<path transform="translate(426.0 263.4)" d="M-1.0 0L-0.70 -10.7L0.70 -10.7L1.0 0z"/>
<path transform="translate(403.5 263.4)" d="M-0.7 0L-0.50 -10.5L0.50 -10.5L0.7 0z"/>
<path transform="translate(438.8 263.5)" d="M-0.8 0L-0.70 -3.9L0.70 -3.9L0.8 0z"/>
<path transform="translate(423.2 263.5)" d="M-0.6 0L-0.30 -15.2L0.30 -15.2L0.6 0z"/>
<path transform="translate(426.8 263.6)" d="M-1.2 0L-0.70 -8.6L0.70 -8.6L1.2 0z"/>
<path transform="translate(424.8 263.6)" d="M-0.7 0L-0.50 -13.2L0.50 -13.2L0.7 0z"/>
<path transform="translate(404.4 263.6)" d="M-0.8 0L-0.30 -14.6L0.30 -14.6L0.8 0z"/>
<path transform="translate(424.0 263.6)" d="M-0.7 0L-0.30 -6.1L0.30 -6.1L0.7 0z"/>
<path transform="translate(403.8 263.6)" d="M-0.7 0L-0.30 -15.2L0.30 -15.2L0.7 0z"/>
<path transform="translate(401.6 263.6)" d="M-1.0 0L-0.70 -9.6L0.70 -9.6L1.0 0z"/>
<path transform="translate(437.4 263.6)" d="M-0.8 0L-0.70 -9.5L0.70 -9.5L0.8 0z"/>
<path transform="translate(420.6 263.6)" d="M-0.7 0L-0.30 -6.7L0.30 -6.7L0.7 0z"/>
<path transform="translate(411.5 263.6)" d="M-1.2 0L-0.70 -10.0L0.70 -10.0L1.2 0z"/>
<path transform="translate(411.7 263.7)" d="M-0.9 0L-0.50 -11.5L0.50 -11.5L0.9 0z"/>
<path transform="translate(440.3 263.7)" d="M-0.7 0L-0.50 -4.5L0.50 -4.5L0.7 0z"/>
<path transform="translate(433.4 263.7)" d="M-0.8 0L-0.70 -4.7L0.70 -4.7L0.8 0z"/>
<path transform="translate(436.0 263.7)" d="M-0.8 0L-0.70 -11.1L0.70 -11.1L0.8 0z"/>
<path transform="translate(403.9 263.8)" d="M-0.7 0L-0.50 -14.4L0.50 -14.4L0.7 0z"/>
<path transform="translate(406.5 263.8)" d="M-0.9 0L-0.50 -14.3L0.50 -14.3L0.9 0z"/>
<path transform="translate(436.9 263.9)" d="M-1.0 0L-0.70 -11.5L0.70 -11.5L1.0 0z"/>
<path transform="translate(425.9 263.9)" d="M-1.1 0L-0.70 -11.5L0.70 -11.5L1.1 0z"/>
<path transform="translate(428.9 263.9)" d="M-1.1 0L-0.70 -7.6L0.70 -7.6L1.1 0z"/>
<path transform="translate(406.8 263.9)" d="M-0.7 0L-0.50 -11.7L0.50 -11.7L0.7 0z"/>
<path transform="translate(397.8 263.9)" d="M-1.0 0L-0.70 -3.6L0.70 -3.6L1.0 0z"/>
<path transform="translate(429.0 263.9)" d="M-1.2 0L-0.70 -8.1L0.70 -8.1L1.2 0z"/>
<path transform="translate(432.8 264.0)" d="M-1.0 0L-0.70 -8.4L0.70 -8.4L1.0 0z"/>
<path transform="translate(413.4 264.0)" d="M-0.9 0L-0.50 -7.7L0.50 -7.7L0.9 0z"/>
<path transform="translate(408.9 264.0)" d="M-1.0 0L-0.70 -11.2L0.70 -11.2L1.0 0z"/>
<path transform="translate(404.9 264.0)" d="M-1.0 0L-0.70 -9.5L0.70 -9.5L1.0 0z"/>
<path transform="translate(433.2 264.1)" d="M-0.6 0L-0.50 -11.1L0.50 -11.1L0.6 0z"/>
<path transform="translate(408.4 264.1)" d="M-1.0 0L-0.70 -11.2L0.70 -11.2L1.0 0z"/>
<path transform="translate(411.9 264.1)" d="M-0.8 0L-0.50 -12.8L0.50 -12.8L0.8 0z"/>
<path transform="translate(435.3 264.1)" d="M-0.8 0L-0.70 -8.8L0.70 -8.8L0.8 0z"/>
<path transform="translate(418.8 264.1)" d="M-0.9 0L-0.70 -8.0L0.70 -8.0L0.9 0z"/>
<path transform="translate(423.7 264.1)" d="M-0.9 0L-0.70 -9.5L0.70 -9.5L0.9 0z"/>
<path transform="translate(415.1 264.1)" d="M-1.0 0L-0.70 -10.0L0.70 -10.0L1.0 0z"/>
<path transform="translate(439.8 264.2)" d="M-0.9 0L-0.50 -13.8L0.50 -13.8L0.9 0z"/>
<path transform="translate(414.9 264.2)" d="M-0.8 0L-0.70 -5.4L0.70 -5.4L0.8 0z"/>
<path transform="translate(429.1 264.2)" d="M-1.0 0L-0.70 -10.2L0.70 -10.2L1.0 0z"/>
<path transform="translate(430.9 264.2)" d="M-1.0 0L-0.70 -10.9L0.70 -10.9L1.0 0z"/>
<path transform="translate(424.7 264.2)" d="M-0.9 0L-0.70 -10.9L0.70 -10.9L0.9 0z"/>
<path transform="translate(407.9 264.2)" d="M-0.7 0L-0.50 -14.2L0.50 -14.2L0.7 0z"/>
<path transform="translate(400.3 264.2)" d="M-0.9 0L-0.50 -13.5L0.50 -13.5L0.9 0z"/>
<path transform="translate(410.6 264.2)" d="M-0.8 0L-0.50 -13.3L0.50 -13.3L0.8 0z"/>
<path transform="translate(418.8 264.3)" d="M-0.7 0L-0.50 -15.0L0.50 -15.0L0.7 0z"/>
<path transform="translate(422.7 264.3)" d="M-0.7 0L-0.50 -9.0L0.50 -9.0L0.7 0z"/>
<path transform="translate(406.5 264.3)" d="M-0.7 0L-0.50 -10.8L0.50 -10.8L0.7 0z"/>
<path transform="translate(410.2 264.3)" d="M-1.2 0L-0.70 -10.3L0.70 -10.3L1.2 0z"/>
<path transform="translate(422.4 264.3)" d="M-1.0 0L-0.70 -10.5L0.70 -10.5L1.0 0z"/>
<path transform="translate(433.3 264.3)" d="M-0.7 0L-0.50 -7.0L0.50 -7.0L0.7 0z"/>
<path transform="translate(409.4 264.4)" d="M-1.2 0L-0.70 -9.4L0.70 -9.4L1.2 0z"/>
<path transform="translate(426.4 264.4)" d="M-0.8 0L-0.50 -10.9L0.50 -10.9L0.8 0z"/>
<path transform="translate(434.4 264.4)" d="M-1.0 0L-0.70 -8.9L0.70 -8.9L1.0 0z"/>
<path transform="translate(408.5 264.4)" d="M-0.8 0L-0.70 -9.1L0.70 -9.1L0.8 0z"/>
<path transform="translate(425.8 264.4)" d="M-0.9 0L-0.50 -12.8L0.50 -12.8L0.9 0z"/>
<path transform="translate(411.5 264.5)" d="M-0.8 0L-0.50 -13.7L0.50 -13.7L0.8 0z"/>
<path transform="translate(440.1 264.5)" d="M-0.9 0L-0.70 -9.0L0.70 -9.0L0.9 0z"/>
<path transform="translate(398.4 264.5)" d="M-0.7 0L-0.30 -14.5L0.30 -14.5L0.7 0z"/>
<path transform="translate(418.2 264.5)" d="M-0.8 0L-0.50 -11.0L0.50 -11.0L0.8 0z"/>
<path transform="translate(414.6 264.5)" d="M-0.9 0L-0.70 -8.9L0.70 -8.9L0.9 0z"/>
<path transform="translate(399.7 264.5)" d="M-0.7 0L-0.50 -12.6L0.50 -12.6L0.7 0z"/>
<path transform="translate(400.4 264.5)" d="M-1.1 0L-0.70 -7.3L0.70 -7.3L1.1 0z"/>
<path transform="translate(404.3 264.6)" d="M-0.7 0L-0.30 -9.4L0.30 -9.4L0.7 0z"/>
<path transform="translate(403.3 264.6)" d="M-0.9 0L-0.70 -8.6L0.70 -8.6L0.9 0z"/>
<path transform="translate(401.3 264.6)" d="M-0.8 0L-0.50 -7.6L0.50 -7.6L0.8 0z"/>
<path transform="translate(423.6 264.6)" d="M-0.8 0L-0.70 -3.7L0.70 -3.7L0.8 0z"/>
<path transform="translate(425.5 264.7)" d="M-0.9 0L-0.70 -7.2L0.70 -7.2L0.9 0z"/>
<path transform="translate(437.6 264.7)" d="M-0.7 0L-0.50 -8.3L0.50 -8.3L0.7 0z"/>
<path transform="translate(406.6 264.7)" d="M-1.0 0L-0.70 -8.7L0.70 -8.7L1.0 0z"/>
<path transform="translate(415.6 264.7)" d="M-0.9 0L-0.50 -6.1L0.50 -6.1L0.9 0z"/>
<path transform="translate(399.8 264.7)" d="M-0.8 0L-0.50 -12.1L0.50 -12.1L0.8 0z"/>
<path transform="translate(399.8 264.8)" d="M-0.7 0L-0.50 -12.3L0.50 -12.3L0.7 0z"/>
<path transform="translate(408.1 264.8)" d="M-1.2 0L-0.70 -10.4L0.70 -10.4L1.2 0z"/>
<path transform="translate(415.4 264.8)" d="M-0.7 0L-0.50 -10.7L0.50 -10.7L0.7 0z"/>
<path transform="translate(420.7 264.8)" d="M-1.1 0L-0.70 -8.6L0.70 -8.6L1.1 0z"/>
<path transform="translate(435.3 264.8)" d="M-1.0 0L-0.70 -9.5L0.70 -9.5L1.0 0z"/>
<path transform="translate(429.0 264.8)" d="M-0.9 0L-0.70 -5.4L0.70 -5.4L0.9 0z"/>
<path transform="translate(401.8 264.8)" d="M-0.9 0L-0.70 -10.2L0.70 -10.2L0.9 0z"/>
<path transform="translate(433.9 264.8)" d="M-0.9 0L-0.50 -10.3L0.50 -10.3L0.9 0z"/>
<path transform="translate(397.5 264.9)" d="M-0.8 0L-0.70 -6.4L0.70 -6.4L0.8 0z"/>
<path transform="translate(442.5 264.9)" d="M-0.9 0L-0.50 -5.6L0.50 -5.6L0.9 0z"/>
<path transform="translate(418.3 264.9)" d="M-1.2 0L-0.70 -7.9L0.70 -7.9L1.2 0z"/>
<path transform="translate(409.6 264.9)" d="M-0.7 0L-0.50 -14.2L0.50 -14.2L0.7 0z"/>
<path transform="translate(414.3 264.9)" d="M-1.1 0L-0.70 -9.3L0.70 -9.3L1.1 0z"/>
<path transform="translate(442.3 264.9)" d="M-0.8 0L-0.30 -7.0L0.30 -7.0L0.8 0z"/>
<path transform="translate(424.6 265.0)" d="M-0.8 0L-0.50 -11.0L0.50 -11.0L0.8 0z"/>
<path transform="translate(417.0 265.0)" d="M-0.8 0L-0.50 -11.7L0.50 -11.7L0.8 0z"/>
<path transform="translate(412.7 265.0)" d="M-0.7 0L-0.50 -9.3L0.50 -9.3L0.7 0z"/>
<path transform="translate(422.8 265.0)" d="M-1.0 0L-0.70 -6.8L0.70 -6.8L1.0 0z"/>
<path transform="translate(427.8 265.1)" d="M-0.7 0L-0.50 -8.8L0.50 -8.8L0.7 0z"/>
<path transform="translate(415.4 265.1)" d="M-1.1 0L-0.70 -10.4L0.70 -10.4L1.1 0z"/>
<path transform="translate(416.5 265.1)" d="M-0.9 0L-0.70 -6.9L0.70 -6.9L0.9 0z"/>
<path transform="translate(423.7 265.1)" d="M-1.1 0L-0.70 -8.4L0.70 -8.4L1.1 0z"/>
<path transform="translate(400.8 265.1)" d="M-0.8 0L-0.50 -15.2L0.50 -15.2L0.8 0z"/>
<path transform="translate(410.9 265.1)" d="M-0.9 0L-0.70 -9.6L0.70 -9.6L0.9 0z"/>
<path transform="translate(427.4 265.1)" d="M-1.0 0L-0.70 -8.6L0.70 -8.6L1.0 0z"/>
<path transform="translate(399.3 265.1)" d="M-1.0 0L-0.70 -10.6L0.70 -10.6L1.0 0z"/>
<path transform="translate(404.9 265.1)" d="M-1.2 0L-0.70 -6.4L0.70 -6.4L1.2 0z"/>
<path transform="translate(422.1 265.2)" d="M-1.0 0L-0.70 -9.6L0.70 -9.6L1.0 0z"/>
<path transform="translate(401.8 265.2)" d="M-1.0 0L-0.70 -5.2L0.70 -5.2L1.0 0z"/>
<path transform="translate(422.2 265.2)" d="M-0.8 0L-0.70 -7.0L0.70 -7.0L0.8 0z"/>
<path transform="translate(418.1 265.2)" d="M-1.1 0L-0.70 -7.3L0.70 -7.3L1.1 0z"/>
<path transform="translate(403.3 265.2)" d="M-1.1 0L-0.70 -9.2L0.70 -9.2L1.1 0z"/>
<path transform="translate(437.4 265.3)" d="M-0.8 0L-0.50 -6.5L0.50 -6.5L0.8 0z"/>
<path transform="translate(428.5 265.3)" d="M-0.7 0L-0.50 -9.8L0.50 -9.8L0.7 0z"/>
<path transform="translate(420.4 265.3)" d="M-0.7 0L-0.50 -5.3L0.50 -5.3L0.7 0z"/>
<path transform="translate(426.5 265.3)" d="M-1.1 0L-0.70 -7.9L0.70 -7.9L1.1 0z"/>
<path transform="translate(399.7 265.4)" d="M-1.0 0L-0.70 -9.0L0.70 -9.0L1.0 0z"/>
<path transform="translate(438.2 265.4)" d="M-0.8 0L-0.50 -9.5L0.50 -9.5L0.8 0z"/>
<path transform="translate(406.3 265.4)" d="M-0.8 0L-0.50 -10.2L0.50 -10.2L0.8 0z"/>
<path transform="translate(440.7 265.4)" d="M-1.0 0L-0.70 -9.6L0.70 -9.6L1.0 0z"/>
<path transform="translate(421.2 265.4)" d="M-0.7 0L-0.50 -9.0L0.50 -9.0L0.7 0z"/>
<path transform="translate(429.1 265.4)" d="M-0.8 0L-0.50 -4.2L0.50 -4.2L0.8 0z"/>
<path transform="translate(404.5 265.5)" d="M-0.7 0L-0.50 -12.8L0.50 -12.8L0.7 0z"/>
<path transform="translate(415.1 265.5)" d="M-0.9 0L-0.70 -7.7L0.70 -7.7L0.9 0z"/>
<path transform="translate(414.6 265.5)" d="M-1.1 0L-0.70 -6.6L0.70 -6.6L1.1 0z"/>
<path transform="translate(400.2 265.5)" d="M-0.7 0L-0.50 -10.4L0.50 -10.4L0.7 0z"/>
<path transform="translate(406.9 265.6)" d="M-0.7 0L-0.50 -11.1L0.50 -11.1L0.7 0z"/>
<path transform="translate(438.5 265.6)" d="M-1.0 0L-0.70 -11.0L0.70 -11.0L1.0 0z"/>
<path transform="translate(407.7 265.6)" d="M-0.7 0L-0.50 -8.9L0.50 -8.9L0.7 0z"/>
<path transform="translate(414.5 265.6)" d="M-0.7 0L-0.50 -5.3L0.50 -5.3L0.7 0z"/>
<path transform="translate(413.7 265.6)" d="M-1.1 0L-0.70 -6.1L0.70 -6.1L1.1 0z"/>
<path transform="translate(422.3 265.6)" d="M-0.9 0L-0.70 -5.1L0.70 -5.1L0.9 0z"/>
<path transform="translate(416.7 265.7)" d="M-0.8 0L-0.50 -5.0L0.50 -5.0L0.8 0z"/>
<path transform="translate(421.7 265.7)" d="M-0.7 0L-0.30 -7.0L0.30 -7.0L0.7 0z"/>
<path transform="translate(399.9 265.7)" d="M-0.8 0L-0.70 -6.8L0.70 -6.8L0.8 0z"/>
<path transform="translate(402.6 265.7)" d="M-1.2 0L-0.70 -7.6L0.70 -7.6L1.2 0z"/>
<path transform="translate(396.6 265.7)" d="M-0.9 0L-0.50 -8.0L0.50 -8.0L0.9 0z"/>
<path transform="translate(439.9 265.8)" d="M-0.8 0L-0.50 -12.3L0.50 -12.3L0.8 0z"/>
<path transform="translate(413.0 265.8)" d="M-0.8 0L-0.30 -6.0L0.30 -6.0L0.8 0z"/>
<path transform="translate(440.1 265.8)" d="M-0.8 0L-0.50 -12.0L0.50 -12.0L0.8 0z"/>
<path transform="translate(413.7 265.8)" d="M-1.0 0L-0.70 -5.1L0.70 -5.1L1.0 0z"/>
<path transform="translate(409.7 265.8)" d="M-1.2 0L-0.70 -7.4L0.70 -7.4L1.2 0z"/>
<path transform="translate(439.3 266.0)" d="M-0.9 0L-0.50 -11.2L0.50 -11.2L0.9 0z"/>
<path transform="translate(402.1 266.0)" d="M-1.2 0L-0.70 -6.5L0.70 -6.5L1.2 0z"/>
<path transform="translate(407.6 266.1)" d="M-0.8 0L-0.50 -5.2L0.50 -5.2L0.8 0z"/>
<path transform="translate(438.1 266.3)" d="M-0.8 0L-0.70 -3.8L0.70 -3.8L0.8 0z"/>
<path transform="translate(443.9 266.4)" d="M-0.8 0L-0.50 -6.6L0.50 -6.6L0.8 0z"/>
<path transform="translate(440.5 266.4)" d="M-0.7 0L-0.30 -14.8L0.30 -14.8L0.7 0z"/>
<path transform="translate(397.2 266.4)" d="M-1.1 0L-0.70 -3.3L0.70 -3.3L1.1 0z"/>
<path transform="translate(442.8 266.4)" d="M-0.9 0L-0.70 -8.2L0.70 -8.2L0.9 0z"/>
<path transform="translate(441.0 266.5)" d="M-0.6 0L-0.30 -17.9L0.30 -17.9L0.6 0z"/>
<path transform="translate(396.4 266.6)" d="M-0.9 0L-0.50 -7.1L0.50 -7.1L0.9 0z"/>
<path transform="translate(442.5 266.6)" d="M-0.8 0L-0.70 -6.9L0.70 -6.9L0.8 0z"/>
<path transform="translate(398.1 266.7)" d="M-1.0 0L-0.70 -11.5L0.70 -11.5L1.0 0z"/>
<path transform="translate(396.7 266.7)" d="M-0.7 0L-0.30 -12.7L0.30 -12.7L0.7 0z"/>
<path transform="translate(438.9 266.8)" d="M-1.2 0L-0.70 -3.6L0.70 -3.6L1.2 0z"/>
<path transform="translate(442.8 266.8)" d="M-1.2 0L-0.70 -7.9L0.70 -7.9L1.2 0z"/>
<path transform="translate(399.0 266.9)" d="M-0.7 0L-0.30 -5.1L0.30 -5.1L0.7 0z"/>
<path transform="translate(397.5 267.0)" d="M-0.8 0L-0.50 -11.3L0.50 -11.3L0.8 0z"/>
<path transform="translate(440.8 267.0)" d="M-1.1 0L-0.70 -7.9L0.70 -7.9L1.1 0z"/>
<path transform="translate(442.5 267.0)" d="M-1.1 0L-0.70 -10.8L0.70 -10.8L1.1 0z"/>
<path transform="translate(439.7 267.0)" d="M-0.8 0L-0.30 -14.5L0.30 -14.5L0.8 0z"/>
<path transform="translate(440.5 267.1)" d="M-0.8 0L-0.30 -16.6L0.30 -16.6L0.8 0z"/>
<path transform="translate(396.7 267.2)" d="M-0.9 0L-0.50 -7.8L0.50 -7.8L0.9 0z"/>
<path transform="translate(397.3 267.2)" d="M-0.8 0L-0.50 -7.5L0.50 -7.5L0.8 0z"/>
<path transform="translate(398.1 267.2)" d="M-1.1 0L-0.70 -11.2L0.70 -11.2L1.1 0z"/>
<path transform="translate(444.5 267.3)" d="M-0.9 0L-0.50 -8.8L0.50 -8.8L0.9 0z"/>
<path transform="translate(443.8 267.5)" d="M-0.8 0L-0.30 -6.1L0.30 -6.1L0.8 0z"/>
<path transform="translate(399.6 267.6)" d="M-1.0 0L-0.70 -9.9L0.70 -9.9L1.0 0z"/>
<path transform="translate(442.1 267.6)" d="M-0.9 0L-0.70 -10.4L0.70 -10.4L0.9 0z"/>
<path transform="translate(441.8 267.9)" d="M-0.9 0L-0.50 -10.0L0.50 -10.0L0.9 0z"/>
<path transform="translate(443.6 267.9)" d="M-0.7 0L-0.50 -13.6L0.50 -13.6L0.7 0z"/>
<path transform="translate(396.8 268.0)" d="M-0.7 0L-0.30 -15.8L0.30 -15.8L0.7 0z"/>
<path transform="translate(442.3 268.0)" d="M-0.7 0L-0.30 -8.8L0.30 -8.8L0.7 0z"/>
<path transform="translate(439.6 268.1)" d="M-0.7 0L-0.50 -5.4L0.50 -5.4L0.7 0z"/>
<path transform="translate(398.3 268.1)" d="M-1.2 0L-0.70 -7.8L0.70 -7.8L1.2 0z"/>
<path transform="translate(443.9 268.2)" d="M-1.2 0L-0.70 -6.0L0.70 -6.0L1.2 0z"/>
<path transform="translate(396.8 268.3)" d="M-0.7 0L-0.50 -12.1L0.50 -12.1L0.7 0z"/>
<path transform="translate(397.8 268.3)" d="M-0.9 0L-0.70 -11.9L0.70 -11.9L0.9 0z"/>
<path transform="translate(440.8 268.3)" d="M-1.2 0L-0.70 -7.5L0.70 -7.5L1.2 0z"/>
<path transform="translate(443.3 268.4)" d="M-0.6 0L-0.30 -16.8L0.30 -16.8L0.6 0z"/>
<path transform="translate(398.6 268.4)" d="M-0.7 0L-0.50 -10.2L0.50 -10.2L0.7 0z"/>
<path transform="translate(395.7 268.5)" d="M-0.6 0L-0.30 -13.5L0.30 -13.5L0.6 0z"/>
<path transform="translate(445.0 268.7)" d="M-0.9 0L-0.50 -12.0L0.50 -12.0L0.9 0z"/>
<path transform="translate(444.6 268.7)" d="M-0.8 0L-0.70 -10.8L0.70 -10.8L0.8 0z"/>
<path transform="translate(443.3 268.8)" d="M-0.9 0L-0.70 -10.2L0.70 -10.2L0.9 0z"/>
<path transform="translate(396.2 268.9)" d="M-0.9 0L-0.50 -12.3L0.50 -12.3L0.9 0z"/>
<path transform="translate(397.5 268.9)" d="M-0.7 0L-0.50 -12.3L0.50 -12.3L0.7 0z"/>
<path transform="translate(396.3 269.0)" d="M-1.0 0L-0.70 -10.8L0.70 -10.8L1.0 0z"/>
<path transform="translate(444.9 269.2)" d="M-0.8 0L-0.50 -10.3L0.50 -10.3L0.8 0z"/>
<path transform="translate(444.9 269.2)" d="M-0.8 0L-0.70 -8.6L0.70 -8.6L0.8 0z"/>
<path transform="translate(443.6 269.2)" d="M-0.6 0L-0.30 -14.4L0.30 -14.4L0.6 0z"/>
<path transform="translate(397.2 269.4)" d="M-0.7 0L-0.50 -12.6L0.50 -12.6L0.7 0z"/>
<path transform="translate(442.3 269.6)" d="M-0.8 0L-0.70 -8.1L0.70 -8.1L0.8 0z"/>
<path transform="translate(396.3 269.6)" d="M-1.2 0L-0.70 -7.9L0.70 -7.9L1.2 0z"/>
<path transform="translate(398.2 269.7)" d="M-0.8 0L-0.50 -11.2L0.50 -11.2L0.8 0z"/>
<path transform="translate(444.4 269.9)" d="M-0.8 0L-0.50 -12.0L0.50 -12.0L0.8 0z"/>
<path transform="translate(442.9 269.9)" d="M-0.8 0L-0.50 -12.3L0.50 -12.3L0.8 0z"/>
<path transform="translate(397.0 270.0)" d="M-0.7 0L-0.50 -13.2L0.50 -13.2L0.7 0z"/>
<path transform="translate(394.6 270.1)" d="M-0.9 0L-0.70 -5.3L0.70 -5.3L0.9 0z"/>
<path transform="translate(444.4 270.1)" d="M-0.7 0L-0.50 -13.0L0.50 -13.0L0.7 0z"/>
<path transform="translate(446.9 270.4)" d="M-1.2 0L-0.70 -8.3L0.70 -8.3L1.2 0z"/>
<path transform="translate(445.3 270.6)" d="M-1.2 0L-0.70 -11.3L0.70 -11.3L1.2 0z"/>
<path transform="translate(395.0 270.7)" d="M-1.2 0L-0.70 -7.5L0.70 -7.5L1.2 0z"/>
<path transform="translate(395.3 270.7)" d="M-1.1 0L-0.70 -4.1L0.70 -4.1L1.1 0z"/>
<path transform="translate(397.2 270.8)" d="M-0.9 0L-0.50 -11.4L0.50 -11.4L0.9 0z"/>
<path transform="translate(444.4 270.9)" d="M-0.8 0L-0.50 -13.3L0.50 -13.3L0.8 0z"/>
<path transform="translate(445.9 270.9)" d="M-1.1 0L-0.70 -10.6L0.70 -10.6L1.1 0z"/>
<path transform="translate(443.9 271.1)" d="M-0.8 0L-0.50 -9.3L0.50 -9.3L0.8 0z"/>
<path transform="translate(395.4 271.2)" d="M-0.9 0L-0.50 -12.0L0.50 -12.0L0.9 0z"/>
<path transform="translate(430.5 271.2)" d="M-1.1 0L-0.70 -2.9L0.70 -2.9L1.1 0z"/>
<path transform="translate(431.7 271.3)" d="M-0.6 0L-0.30 -10.6L0.30 -10.6L0.6 0z"/>
<path transform="translate(397.4 271.3)" d="M-0.7 0L-0.50 -14.9L0.50 -14.9L0.7 0z"/>
<path transform="translate(394.1 271.3)" d="M-1.0 0L-0.70 -4.4L0.70 -4.4L1.0 0z"/>
<path transform="translate(431.2 271.3)" d="M-0.9 0L-0.50 -6.9L0.50 -6.9L0.9 0z"/>
<path transform="translate(395.2 271.4)" d="M-0.7 0L-0.50 -11.9L0.50 -11.9L0.7 0z"/>
<path transform="translate(434.1 271.4)" d="M-0.9 0L-0.50 -8.8L0.50 -8.8L0.9 0z"/>
<path transform="translate(431.2 271.4)" d="M-1.2 0L-0.70 -6.7L0.70 -6.7L1.2 0z"/>
<path transform="translate(445.4 271.5)" d="M-0.7 0L-0.30 -12.6L0.30 -12.6L0.7 0z"/>
<path transform="translate(428.7 271.5)" d="M-0.9 0L-0.70 -3.3L0.70 -3.3L0.9 0z"/>
<path transform="translate(445.8 271.5)" d="M-1.2 0L-0.70 -8.0L0.70 -8.0L1.2 0z"/>
<path transform="translate(429.6 271.8)" d="M-0.9 0L-0.50 -7.4L0.50 -7.4L0.9 0z"/>
<path transform="translate(397.2 271.8)" d="M-1.0 0L-0.70 -9.1L0.70 -9.1L1.0 0z"/>
<path transform="translate(432.4 271.8)" d="M-0.9 0L-0.50 -12.9L0.50 -12.9L0.9 0z"/>
<path transform="translate(445.3 271.9)" d="M-1.0 0L-0.70 -3.7L0.70 -3.7L1.0 0z"/>
<path transform="translate(446.1 271.9)" d="M-0.9 0L-0.70 -9.6L0.70 -9.6L0.9 0z"/>
<path transform="translate(395.4 271.9)" d="M-1.1 0L-0.70 -5.4L0.70 -5.4L1.1 0z"/>
<path transform="translate(448.9 272.0)" d="M-0.8 0L-0.70 -3.6L0.70 -3.6L0.8 0z"/>
<path transform="translate(432.9 272.0)" d="M-0.8 0L-0.50 -9.2L0.50 -9.2L0.8 0z"/>
<path transform="translate(446.4 272.1)" d="M-0.6 0L-0.30 -15.0L0.30 -15.0L0.6 0z"/>
<path transform="translate(436.4 272.1)" d="M-0.8 0L-0.70 -9.3L0.70 -9.3L0.8 0z"/>
<path transform="translate(427.1 272.2)" d="M-0.8 0L-0.30 -8.3L0.30 -8.3L0.8 0z"/>
<path transform="translate(430.8 272.2)" d="M-0.9 0L-0.50 -12.5L0.50 -12.5L0.9 0z"/>
<path transform="translate(446.5 272.2)" d="M-1.2 0L-0.70 -9.5L0.70 -9.5L1.2 0z"/>
<path transform="translate(434.0 272.2)" d="M-0.7 0L-0.30 -13.8L0.30 -13.8L0.7 0z"/>
<path transform="translate(433.7 272.2)" d="M-1.2 0L-0.70 -9.6L0.70 -9.6L1.2 0z"/>
<path transform="translate(428.1 272.3)" d="M-1.0 0L-0.70 -8.5L0.70 -8.5L1.0 0z"/>
<path transform="translate(447.6 272.3)" d="M-1.1 0L-0.70 -8.7L0.70 -8.7L1.1 0z"/>
<path transform="translate(427.7 272.3)" d="M-0.9 0L-0.50 -12.3L0.50 -12.3L0.9 0z"/>
<path transform="translate(449.4 272.4)" d="M-0.8 0L-0.70 -7.1L0.70 -7.1L0.8 0z"/>
<path transform="translate(435.6 272.4)" d="M-1.1 0L-0.70 -8.3L0.70 -8.3L1.1 0z"/>
<path transform="translate(428.3 272.5)" d="M-1.1 0L-0.70 -9.0L0.70 -9.0L1.1 0z"/>
<path transform="translate(435.6 272.5)" d="M-0.9 0L-0.50 -13.7L0.50 -13.7L0.9 0z"/>
<path transform="translate(446.7 272.5)" d="M-1.1 0L-0.70 -10.6L0.70 -10.6L1.1 0z"/>
<path transform="translate(446.7 272.5)" d="M-0.8 0L-0.50 -13.7L0.50 -13.7L0.8 0z"/>
<path transform="translate(449.5 272.5)" d="M-0.8 0L-0.70 -5.1L0.70 -5.1L0.8 0z"/>
<path transform="translate(447.2 272.5)" d="M-0.9 0L-0.70 -8.9L0.70 -8.9L0.9 0z"/>
<path transform="translate(397.7 272.6)" d="M-0.9 0L-0.70 -8.8L0.70 -8.8L0.9 0z"/>
<path transform="translate(432.7 272.6)" d="M-0.8 0L-0.70 -8.8L0.70 -8.8L0.8 0z"/>
<path transform="translate(396.0 272.6)" d="M-0.6 0L-0.30 -14.2L0.30 -14.2L0.6 0z"/>
<path transform="translate(433.2 272.7)" d="M-0.9 0L-0.70 -11.0L0.70 -11.0L0.9 0z"/>
<path transform="translate(425.9 272.7)" d="M-0.9 0L-0.70 -8.4L0.70 -8.4L0.9 0z"/>
<path transform="translate(427.8 272.8)" d="M-0.8 0L-0.50 -11.7L0.50 -11.7L0.8 0z"/>
<path transform="translate(430.9 272.8)" d="M-0.9 0L-0.70 -10.9L0.70 -10.9L0.9 0z"/>
<path transform="translate(422.2 272.9)" d="M-1.1 0L-0.70 -4.1L0.70 -4.1L1.1 0z"/>
<path transform="translate(423.1 272.9)" d="M-1.1 0L-0.70 -9.4L0.70 -9.4L1.1 0z"/>
<path transform="translate(438.0 272.9)" d="M-0.7 0L-0.50 -4.3L0.50 -4.3L0.7 0z"/>
<path transform="translate(426.1 273.0)" d="M-1.1 0L-0.70 -9.2L0.70 -9.2L1.1 0z"/>
<path transform="translate(422.7 273.0)" d="M-0.8 0L-0.50 -7.4L0.50 -7.4L0.8 0z"/>
<path transform="translate(422.6 273.0)" d="M-1.1 0L-0.70 -9.9L0.70 -9.9L1.1 0z"/>
<path transform="translate(449.1 273.1)" d="M-0.7 0L-0.50 -14.5L0.50 -14.5L0.7 0z"/>
<path transform="translate(433.7 273.1)" d="M-0.7 0L-0.50 -12.4L0.50 -12.4L0.7 0z"/>
<path transform="translate(428.2 273.1)" d="M-0.9 0L-0.50 -13.6L0.50 -13.6L0.9 0z"/>
<path transform="translate(431.5 273.2)" d="M-0.9 0L-0.50 -14.1L0.50 -14.1L0.9 0z"/>
<path transform="translate(395.3 273.2)" d="M-1.2 0L-0.70 -10.3L0.70 -10.3L1.2 0z"/>
<path transform="translate(429.9 273.3)" d="M-0.7 0L-0.50 -12.3L0.50 -12.3L0.7 0z"/>
<path transform="translate(433.7 273.3)" d="M-0.9 0L-0.70 -3.3L0.70 -3.3L0.9 0z"/>
<path transform="translate(437.9 273.3)" d="M-0.7 0L-0.30 -6.6L0.30 -6.6L0.7 0z"/>
<path transform="translate(393.3 273.3)" d="M-1.2 0L-0.70 -5.8L0.70 -5.8L1.2 0z"/>
<path transform="translate(429.6 273.4)" d="M-1.2 0L-0.70 -8.1L0.70 -8.1L1.2 0z"/>
<path transform="translate(430.4 273.4)" d="M-1.0 0L-0.70 -6.2L0.70 -6.2L1.0 0z"/>
<path transform="translate(395.9 273.4)" d="M-1.0 0L-0.70 -9.4L0.70 -9.4L1.0 0z"/>
<path transform="translate(433.2 273.4)" d="M-0.8 0L-0.50 -7.1L0.50 -7.1L0.8 0z"/>
<path transform="translate(432.1 273.5)" d="M-0.8 0L-0.50 -10.3L0.50 -10.3L0.8 0z"/>
<path transform="translate(437.3 273.5)" d="M-0.9 0L-0.70 -7.6L0.70 -7.6L0.9 0z"/>
<path transform="translate(447.1 273.5)" d="M-1.1 0L-0.70 -8.5L0.70 -8.5L1.1 0z"/>
<path transform="translate(426.8 273.5)" d="M-1.1 0L-0.70 -9.5L0.70 -9.5L1.1 0z"/>
<path transform="translate(420.0 273.6)" d="M-0.9 0L-0.70 -9.0L0.70 -9.0L0.9 0z"/>
<path transform="translate(415.4 273.6)" d="M-0.9 0L-0.50 -6.4L0.50 -6.4L0.9 0z"/>
<path transform="translate(430.5 273.6)" d="M-0.8 0L-0.70 -7.5L0.70 -7.5L0.8 0z"/>
<path transform="translate(424.4 273.6)" d="M-0.9 0L-0.70 -9.7L0.70 -9.7L0.9 0z"/>
<path transform="translate(431.2 273.6)" d="M-0.7 0L-0.30 -12.1L0.30 -12.1L0.7 0z"/>
<path transform="translate(422.8 273.7)" d="M-0.9 0L-0.70 -10.2L0.70 -10.2L0.9 0z"/>
<path transform="translate(450.7 273.7)" d="M-0.9 0L-0.50 -5.9L0.50 -5.9L0.9 0z"/>
<path transform="translate(418.0 273.7)" d="M-0.9 0L-0.50 -11.1L0.50 -11.1L0.9 0z"/>
<path transform="translate(421.2 273.8)" d="M-0.8 0L-0.70 -10.2L0.70 -10.2L0.8 0z"/>
<path transform="translate(396.7 273.8)" d="M-0.6 0L-0.30 -14.8L0.30 -14.8L0.6 0z"/>
<path transform="translate(424.6 273.8)" d="M-1.1 0L-0.70 -8.3L0.70 -8.3L1.1 0z"/>
<path transform="translate(437.3 273.8)" d="M-0.8 0L-0.70 -3.1L0.70 -3.1L0.8 0z"/>
<path transform="translate(393.7 273.8)" d="M-0.6 0L-0.30 -10.2L0.30 -10.2L0.6 0z"/>
<path transform="translate(450.9 273.9)" d="M-1.1 0L-0.70 -5.7L0.70 -5.7L1.1 0z"/>
<path transform="translate(437.3 273.9)" d="M-0.8 0L-0.70 -7.0L0.70 -7.0L0.8 0z"/>
<path transform="translate(417.2 273.9)" d="M-0.6 0L-0.30 -13.5L0.30 -13.5L0.6 0z"/>
<path transform="translate(393.9 273.9)" d="M-1.0 0L-0.70 -8.3L0.70 -8.3L1.0 0z"/>
<path transform="translate(426.8 273.9)" d="M-1.0 0L-0.70 -9.8L0.70 -9.8L1.0 0z"/>
<path transform="translate(434.0 273.9)" d="M-0.9 0L-0.70 -9.2L0.70 -9.2L0.9 0z"/>
<path transform="translate(394.0 273.9)" d="M-0.9 0L-0.70 -10.3L0.70 -10.3L0.9 0z"/>
<path transform="translate(416.8 273.9)" d="M-0.7 0L-0.30 -9.9L0.30 -9.9L0.7 0z"/>
<path transform="translate(414.2 274.0)" d="M-0.8 0L-0.30 -10.0L0.30 -10.0L0.8 0z"/>
<path transform="translate(425.4 274.0)" d="M-1.1 0L-0.70 -7.4L0.70 -7.4L1.1 0z"/>
<path transform="translate(418.9 274.0)" d="M-0.9 0L-0.70 -4.5L0.70 -4.5L0.9 0z"/>
<path transform="translate(394.5 274.1)" d="M-0.9 0L-0.50 -12.9L0.50 -12.9L0.9 0z"/>
<path transform="translate(432.5 274.1)" d="M-0.8 0L-0.50 -8.7L0.50 -8.7L0.8 0z"/>
<path transform="translate(428.2 274.1)" d="M-1.1 0L-0.70 -9.5L0.70 -9.5L1.1 0z"/>
<path transform="translate(413.5 274.2)" d="M-1.0 0L-0.70 -5.3L0.70 -5.3L1.0 0z"/>
<path transform="translate(419.9 274.2)" d="M-0.7 0L-0.50 -15.1L0.50 -15.1L0.7 0z"/>
<path transform="translate(432.0 274.2)" d="M-0.9 0L-0.70 -7.3L0.70 -7.3L0.9 0z"/>
<path transform="translate(446.8 274.2)" d="M-1.1 0L-0.70 -7.0L0.70 -7.0L1.1 0z"/>
<path transform="translate(413.9 274.2)" d="M-0.8 0L-0.70 -6.9L0.70 -6.9L0.8 0z"/>
<path transform="translate(451.3 274.2)" d="M-1.0 0L-0.70 -9.6L0.70 -9.6L1.0 0z"/>
<path transform="translate(435.2 274.2)" d="M-0.7 0L-0.30 -12.9L0.30 -12.9L0.7 0z"/>
<path transform="translate(452.3 274.3)" d="M-1.1 0L-0.70 -4.1L0.70 -4.1L1.1 0z"/>
<path transform="translate(396.7 274.3)" d="M-0.7 0L-0.50 -9.5L0.50 -9.5L0.7 0z"/>
<path transform="translate(416.2 274.3)" d="M-0.8 0L-0.30 -15.2L0.30 -15.2L0.8 0z"/>
<path transform="translate(415.0 274.3)" d="M-1.1 0L-0.70 -5.9L0.70 -5.9L1.1 0z"/>
<path transform="translate(425.1 274.4)" d="M-1.1 0L-0.70 -10.5L0.70 -10.5L1.1 0z"/>
<path transform="translate(429.9 274.4)" d="M-0.8 0L-0.50 -6.8L0.50 -6.8L0.8 0z"/>
<path transform="translate(432.1 274.4)" d="M-1.0 0L-0.70 -2.6L0.70 -2.6L1.0 0z"/>
<path transform="translate(448.4 274.4)" d="M-1.0 0L-0.70 -9.0L0.70 -9.0L1.0 0z"/>
<path transform="translate(394.4 274.4)" d="M-1.0 0L-0.70 -4.5L0.70 -4.5L1.0 0z"/>
<path transform="translate(414.7 274.4)" d="M-0.7 0L-0.30 -10.6L0.30 -10.6L0.7 0z"/>
<path transform="translate(417.8 274.5)" d="M-0.8 0L-0.70 -10.1L0.70 -10.1L0.8 0z"/>
<path transform="translate(411.7 274.5)" d="M-0.8 0L-0.50 -9.7L0.50 -9.7L0.8 0z"/>
<path transform="translate(417.4 274.6)" d="M-1.1 0L-0.70 -5.8L0.70 -5.8L1.1 0z"/>
<path transform="translate(436.0 274.6)" d="M-0.7 0L-0.50 -13.8L0.50 -13.8L0.7 0z"/>
<path transform="translate(421.8 274.6)" d="M-0.7 0L-0.50 -7.9L0.50 -7.9L0.7 0z"/>
<path transform="translate(450.4 274.6)" d="M-0.8 0L-0.50 -9.2L0.50 -9.2L0.8 0z"/>
<path transform="translate(395.3 274.6)" d="M-1.1 0L-0.70 -10.9L0.70 -10.9L1.1 0z"/>
<path transform="translate(451.1 274.6)" d="M-0.9 0L-0.70 -8.9L0.70 -8.9L0.9 0z"/>
<path transform="translate(426.8 274.7)" d="M-0.8 0L-0.50 -8.4L0.50 -8.4L0.8 0z"/>
<path transform="translate(449.2 274.7)" d="M-0.6 0L-0.30 -15.0L0.30 -15.0L0.6 0z"/>
<path transform="translate(433.8 274.7)" d="M-0.7 0L-0.50 -5.7L0.50 -5.7L0.7 0z"/>
<path transform="translate(414.1 274.7)" d="M-0.6 0L-0.30 -17.4L0.30 -17.4L0.6 0z"/>
<path transform="translate(423.2 274.7)" d="M-0.9 0L-0.70 -4.5L0.70 -4.5L0.9 0z"/>
<path transform="translate(421.7 274.7)" d="M-0.8 0L-0.70 -11.7L0.70 -11.7L0.8 0z"/>
<path transform="translate(394.1 274.7)" d="M-0.9 0L-0.70 -6.0L0.70 -6.0L0.9 0z"/>
<path transform="translate(396.5 274.8)" d="M-1.1 0L-0.70 -7.8L0.70 -7.8L1.1 0z"/>
<path transform="translate(435.7 274.8)" d="M-0.8 0L-0.50 -12.7L0.50 -12.7L0.8 0z"/>
<path transform="translate(451.0 274.8)" d="M-0.8 0L-0.50 -3.7L0.50 -3.7L0.8 0z"/>
<path transform="translate(421.3 274.8)" d="M-0.8 0L-0.30 -9.6L0.30 -9.6L0.8 0z"/>
<path transform="translate(415.9 274.8)" d="M-0.7 0L-0.50 -12.8L0.50 -12.8L0.7 0z"/>
<path transform="translate(412.6 274.8)" d="M-0.7 0L-0.50 -11.0L0.50 -11.0L0.7 0z"/>
<path transform="translate(422.7 274.9)" d="M-1.2 0L-0.70 -7.7L0.70 -7.7L1.2 0z"/>
<path transform="translate(449.6 274.9)" d="M-0.8 0L-0.50 -10.2L0.50 -10.2L0.8 0z"/>
<path transform="translate(430.8 274.9)" d="M-1.1 0L-0.70 -4.6L0.70 -4.6L1.1 0z"/>
<path transform="translate(426.8 274.9)" d="M-1.1 0L-0.70 -4.6L0.70 -4.6L1.1 0z"/>
<path transform="translate(425.3 274.9)" d="M-0.8 0L-0.30 -6.9L0.30 -6.9L0.8 0z"/>
<path transform="translate(415.4 275.0)" d="M-0.7 0L-0.30 -14.9L0.30 -14.9L0.7 0z"/>
<path transform="translate(411.4 275.0)" d="M-0.7 0L-0.50 -7.3L0.50 -7.3L0.7 0z"/>
<path transform="translate(428.2 275.1)" d="M-1.1 0L-0.70 -6.2L0.70 -6.2L1.1 0z"/>
<path transform="translate(423.7 275.2)" d="M-1.2 0L-0.70 -8.9L0.70 -8.9L1.2 0z"/>
<path transform="translate(420.4 275.2)" d="M-0.7 0L-0.50 -12.7L0.50 -12.7L0.7 0z"/>
<path transform="translate(424.9 275.2)" d="M-0.8 0L-0.50 -4.7L0.50 -4.7L0.8 0z"/>
<path transform="translate(415.7 275.2)" d="M-0.9 0L-0.50 -13.1L0.50 -13.1L0.9 0z"/>
<path transform="translate(421.6 275.2)" d="M-0.9 0L-0.50 -14.5L0.50 -14.5L0.9 0z"/>
<path transform="translate(415.7 275.2)" d="M-1.1 0L-0.70 -9.2L0.70 -9.2L1.1 0z"/>
<path transform="translate(421.9 275.3)" d="M-0.8 0L-0.50 -12.8L0.50 -12.8L0.8 0z"/>
<path transform="translate(449.4 275.3)" d="M-1.2 0L-0.70 -8.7L0.70 -8.7L1.2 0z"/>
<path transform="translate(451.0 275.3)" d="M-1.1 0L-0.70 -9.4L0.70 -9.4L1.1 0z"/>
<path transform="translate(447.8 275.3)" d="M-0.7 0L-0.30 -11.9L0.30 -11.9L0.7 0z"/>
<path transform="translate(395.9 275.3)" d="M-0.8 0L-0.70 -7.0L0.70 -7.0L0.8 0z"/>
<path transform="translate(428.3 275.3)" d="M-0.7 0L-0.30 -7.3L0.30 -7.3L0.7 0z"/>
<path transform="translate(436.4 275.4)" d="M-0.9 0L-0.50 -5.5L0.50 -5.5L0.9 0z"/>
<path transform="translate(424.0 275.4)" d="M-1.1 0L-0.70 -7.8L0.70 -7.8L1.1 0z"/>
<path transform="translate(437.3 275.5)" d="M-0.9 0L-0.50 -15.1L0.50 -15.1L0.9 0z"/>
<path transform="translate(397.0 275.5)" d="M-0.9 0L-0.50 -9.8L0.50 -9.8L0.9 0z"/>
<path transform="translate(439.1 275.5)" d="M-1.1 0L-0.70 -6.1L0.70 -6.1L1.1 0z"/>
<path transform="translate(395.5 275.5)" d="M-0.8 0L-0.30 -17.9L0.30 -17.9L0.8 0z"/>
<path transform="translate(396.4 275.5)" d="M-0.9 0L-0.70 -5.1L0.70 -5.1L0.9 0z"/>
<path transform="translate(452.1 275.6)" d="M-1.2 0L-0.70 -10.1L0.70 -10.1L1.2 0z"/>
<path transform="translate(414.9 275.6)" d="M-1.1 0L-0.70 -9.7L0.70 -9.7L1.1 0z"/>
<path transform="translate(413.2 275.6)" d="M-1.1 0L-0.70 -6.0L0.70 -6.0L1.1 0z"/>
<path transform="translate(415.9 275.7)" d="M-0.9 0L-0.70 -6.3L0.70 -6.3L0.9 0z"/>
<path transform="translate(394.0 275.7)" d="M-0.8 0L-0.50 -11.7L0.50 -11.7L0.8 0z"/>
<path transform="translate(451.9 275.7)" d="M-0.9 0L-0.50 -10.5L0.50 -10.5L0.9 0z"/>
<path transform="translate(419.6 275.7)" d="M-0.9 0L-0.50 -12.3L0.50 -12.3L0.9 0z"/>
<path transform="translate(450.4 275.7)" d="M-1.0 0L-0.70 -9.3L0.70 -9.3L1.0 0z"/>
<path transform="translate(394.9 275.7)" d="M-1.0 0L-0.70 -9.0L0.70 -9.0L1.0 0z"/>
<path transform="translate(449.9 275.9)" d="M-0.9 0L-0.50 -4.8L0.50 -4.8L0.9 0z"/>
<path transform="translate(413.8 275.9)" d="M-1.1 0L-0.70 -9.9L0.70 -9.9L1.1 0z"/>
<path transform="translate(421.5 275.9)" d="M-0.9 0L-0.70 -4.7L0.70 -4.7L0.9 0z"/>
<path transform="translate(394.7 275.9)" d="M-0.8 0L-0.50 -15.1L0.50 -15.1L0.8 0z"/>
<path transform="translate(421.4 275.9)" d="M-0.9 0L-0.50 -4.9L0.50 -4.9L0.9 0z"/>
<path transform="translate(436.1 275.9)" d="M-0.8 0L-0.50 -11.1L0.50 -11.1L0.8 0z"/>
<path transform="translate(416.6 275.9)" d="M-0.8 0L-0.70 -4.5L0.70 -4.5L0.8 0z"/>
<path transform="translate(424.4 275.9)" d="M-0.9 0L-0.50 -5.9L0.50 -5.9L0.9 0z"/>
<path transform="translate(415.2 275.9)" d="M-0.7 0L-0.30 -16.1L0.30 -16.1L0.7 0z"/>
<path transform="translate(436.2 276.0)" d="M-0.9 0L-0.50 -7.6L0.50 -7.6L0.9 0z"/>
<path transform="translate(395.3 276.0)" d="M-1.2 0L-0.70 -6.2L0.70 -6.2L1.2 0z"/>
<path transform="translate(420.6 276.0)" d="M-1.0 0L-0.70 -10.3L0.70 -10.3L1.0 0z"/>
<path transform="translate(416.0 276.0)" d="M-1.0 0L-0.70 -10.4L0.70 -10.4L1.0 0z"/>
<path transform="translate(435.4 276.1)" d="M-0.7 0L-0.50 -12.3L0.50 -12.3L0.7 0z"/>
<path transform="translate(452.3 276.1)" d="M-1.0 0L-0.70 -9.7L0.70 -9.7L1.0 0z"/>
<path transform="translate(415.4 276.1)" d="M-0.9 0L-0.50 -11.7L0.50 -11.7L0.9 0z"/>
<path transform="translate(415.4 276.1)" d="M-0.8 0L-0.50 -8.2L0.50 -8.2L0.8 0z"/>
<path transform="translate(409.6 276.1)" d="M-0.6 0L-0.30 -8.7L0.30 -8.7L0.6 0z"/>
<path transform="translate(421.8 276.2)" d="M-0.9 0L-0.50 -9.0L0.50 -9.0L0.9 0z"/>
<path transform="translate(450.8 276.2)" d="M-0.9 0L-0.50 -12.4L0.50 -12.4L0.9 0z"/>
<path transform="translate(394.7 276.2)" d="M-0.8 0L-0.50 -4.3L0.50 -4.3L0.8 0z"/>
<path transform="translate(451.4 276.2)" d="M-1.0 0L-0.70 -8.7L0.70 -8.7L1.0 0z"/>
<path transform="translate(437.6 276.2)" d="M-1.2 0L-0.70 -10.6L0.70 -10.6L1.2 0z"/>
<path transform="translate(437.7 276.2)" d="M-0.7 0L-0.30 -18.2L0.30 -18.2L0.7 0z"/>
<path transform="translate(413.0 276.3)" d="M-0.8 0L-0.70 -8.0L0.70 -8.0L0.8 0z"/>
<path transform="translate(412.0 276.3)" d="M-0.8 0L-0.50 -9.2L0.50 -9.2L0.8 0z"/>
<path transform="translate(418.2 276.3)" d="M-0.8 0L-0.50 -4.2L0.50 -4.2L0.8 0z"/>
<path transform="translate(450.4 276.3)" d="M-0.9 0L-0.70 -3.8L0.70 -3.8L0.9 0z"/>
<path transform="translate(418.7 276.3)" d="M-0.8 0L-0.50 -9.9L0.50 -9.9L0.8 0z"/>
<path transform="translate(421.3 276.4)" d="M-0.7 0L-0.50 -6.7L0.50 -6.7L0.7 0z"/>
<path transform="translate(413.9 276.4)" d="M-0.9 0L-0.70 -11.1L0.70 -11.1L0.9 0z"/>
<path transform="translate(414.6 276.4)" d="M-0.7 0L-0.50 -13.1L0.50 -13.1L0.7 0z"/>
<path transform="translate(439.8 276.4)" d="M-1.1 0L-0.70 -6.7L0.70 -6.7L1.1 0z"/>
<path transform="translate(395.9 276.5)" d="M-0.7 0L-0.50 -9.3L0.50 -9.3L0.7 0z"/>
<path transform="translate(411.4 276.5)" d="M-1.2 0L-0.70 -6.0L0.70 -6.0L1.2 0z"/>
<path transform="translate(439.3 276.6)" d="M-0.9 0L-0.70 -9.6L0.70 -9.6L0.9 0z"/>
<path transform="translate(412.7 276.7)" d="M-0.9 0L-0.50 -10.0L0.50 -10.0L0.9 0z"/>
<path transform="translate(395.6 276.7)" d="M-0.8 0L-0.70 -7.4L0.70 -7.4L0.8 0z"/>
<path transform="translate(454.4 276.7)" d="M-0.9 0L-0.50 -5.9L0.50 -5.9L0.9 0z"/>
<path transform="translate(436.4 276.8)" d="M-0.9 0L-0.50 -6.0L0.50 -6.0L0.9 0z"/>
<path transform="translate(396.2 276.8)" d="M-1.0 0L-0.70 -4.6L0.70 -4.6L1.0 0z"/>
<path transform="translate(413.4 277.0)" d="M-0.7 0L-0.30 -6.5L0.30 -6.5L0.7 0z"/>
<path transform="translate(412.0 277.0)" d="M-0.8 0L-0.70 -9.4L0.70 -9.4L0.8 0z"/>
<path transform="translate(449.8 277.0)" d="M-1.1 0L-0.70 -10.1L0.70 -10.1L1.1 0z"/>
<path transform="translate(452.0 277.0)" d="M-0.9 0L-0.50 -10.9L0.50 -10.9L0.9 0z"/>
<path transform="translate(451.5 277.0)" d="M-1.0 0L-0.70 -7.1L0.70 -7.1L1.0 0z"/>
<path transform="translate(439.8 277.0)" d="M-0.8 0L-0.70 -6.4L0.70 -6.4L0.8 0z"/>
<path transform="translate(438.6 277.1)" d="M-0.7 0L-0.50 -14.7L0.50 -14.7L0.7 0z"/>
<path transform="translate(392.6 277.1)" d="M-1.1 0L-0.70 -8.4L0.70 -8.4L1.1 0z"/>
<path transform="translate(453.8 277.2)" d="M-0.8 0L-0.70 -8.3L0.70 -8.3L0.8 0z"/>
<path transform="translate(396.8 277.2)" d="M-0.9 0L-0.70 -3.3L0.70 -3.3L0.9 0z"/>
<path transform="translate(409.7 277.2)" d="M-0.7 0L-0.50 -12.7L0.50 -12.7L0.7 0z"/>
<path transform="translate(435.5 277.2)" d="M-0.8 0L-0.70 -6.0L0.70 -6.0L0.8 0z"/>
<path transform="translate(453.6 277.3)" d="M-1.0 0L-0.70 -11.6L0.70 -11.6L1.0 0z"/>
<path transform="translate(439.6 277.3)" d="M-1.1 0L-0.70 -7.6L0.70 -7.6L1.1 0z"/>
<path transform="translate(455.4 277.3)" d="M-1.1 0L-0.70 -4.2L0.70 -4.2L1.1 0z"/>
<path transform="translate(453.9 277.3)" d="M-0.7 0L-0.50 -11.3L0.50 -11.3L0.7 0z"/>
<path transform="translate(436.9 277.3)" d="M-0.7 0L-0.50 -15.1L0.50 -15.1L0.7 0z"/>
<path transform="translate(411.1 277.3)" d="M-0.8 0L-0.50 -12.7L0.50 -12.7L0.8 0z"/>
<path transform="translate(412.4 277.4)" d="M-1.2 0L-0.70 -10.0L0.70 -10.0L1.2 0z"/>
<path transform="translate(413.9 277.4)" d="M-0.8 0L-0.50 -6.0L0.50 -6.0L0.8 0z"/>
<path transform="translate(449.7 277.4)" d="M-1.0 0L-0.70 -6.9L0.70 -6.9L1.0 0z"/>
<path transform="translate(439.6 277.5)" d="M-1.0 0L-0.70 -7.9L0.70 -7.9L1.0 0z"/>
<path transform="translate(454.3 277.7)" d="M-1.0 0L-0.70 -9.6L0.70 -9.6L1.0 0z"/>
<path transform="translate(395.2 277.7)" d="M-0.9 0L-0.70 -5.1L0.70 -5.1L0.9 0z"/>
<path transform="translate(437.4 277.7)" d="M-0.8 0L-0.50 -11.0L0.50 -11.0L0.8 0z"/>
<path transform="translate(437.7 277.7)" d="M-1.2 0L-0.70 -3.2L0.70 -3.2L1.2 0z"/>
<path transform="translate(409.8 277.8)" d="M-0.9 0L-0.50 -10.1L0.50 -10.1L0.9 0z"/>
<path transform="translate(454.6 277.9)" d="M-1.0 0L-0.70 -3.1L0.70 -3.1L1.0 0z"/>
<path transform="translate(453.6 278.1)" d="M-0.8 0L-0.50 -12.6L0.50 -12.6L0.8 0z"/>
<path transform="translate(408.5 278.1)" d="M-0.8 0L-0.30 -14.1L0.30 -14.1L0.8 0z"/>
<path transform="translate(452.5 278.2)" d="M-0.9 0L-0.70 -8.1L0.70 -8.1L0.9 0z"/>
<path transform="translate(412.0 278.3)" d="M-0.7 0L-0.50 -9.3L0.50 -9.3L0.7 0z"/>
<path transform="translate(391.8 278.4)" d="M-1.0 0L-0.70 -9.2L0.70 -9.2L1.0 0z"/>
<path transform="translate(393.2 278.4)" d="M-1.2 0L-0.70 -3.7L0.70 -3.7L1.2 0z"/>
<path transform="translate(392.6 278.4)" d="M-1.2 0L-0.70 -2.9L0.70 -2.9L1.2 0z"/>
<path transform="translate(411.1 278.5)" d="M-0.8 0L-0.50 -12.7L0.50 -12.7L0.8 0z"/>
<path transform="translate(456.4 278.5)" d="M-0.7 0L-0.30 -8.8L0.30 -8.8L0.7 0z"/>
<path transform="translate(410.1 278.5)" d="M-1.0 0L-0.70 -9.9L0.70 -9.9L1.0 0z"/>
<path transform="translate(409.2 278.5)" d="M-0.9 0L-0.50 -8.5L0.50 -8.5L0.9 0z"/>
<path transform="translate(452.5 278.7)" d="M-1.1 0L-0.70 -4.2L0.70 -4.2L1.1 0z"/>
<path transform="translate(455.7 278.7)" d="M-1.0 0L-0.70 -9.8L0.70 -9.8L1.0 0z"/>
<path transform="translate(395.2 278.8)" d="M-0.8 0L-0.50 -11.7L0.50 -11.7L0.8 0z"/>
<path transform="translate(436.9 278.8)" d="M-0.9 0L-0.50 -7.0L0.50 -7.0L0.9 0z"/>
<path transform="translate(455.8 278.8)" d="M-0.8 0L-0.50 -5.0L0.50 -5.0L0.8 0z"/>
<path transform="translate(392.2 278.8)" d="M-1.2 0L-0.70 -10.4L0.70 -10.4L1.2 0z"/>
<path transform="translate(395.2 278.9)" d="M-0.8 0L-0.50 -10.9L0.50 -10.9L0.8 0z"/>
<path transform="translate(391.4 278.9)" d="M-0.8 0L-0.70 -5.0L0.70 -5.0L0.8 0z"/>
<path transform="translate(410.4 279.0)" d="M-0.8 0L-0.50 -13.8L0.50 -13.8L0.8 0z"/>
<path transform="translate(438.1 279.0)" d="M-0.6 0L-0.30 -16.9L0.30 -16.9L0.6 0z"/>
<path transform="translate(456.6 279.0)" d="M-0.9 0L-0.70 -6.9L0.70 -6.9L0.9 0z"/>
<path transform="translate(392.5 279.0)" d="M-0.8 0L-0.70 -11.5L0.70 -11.5L0.8 0z"/>
<path transform="translate(455.9 279.1)" d="M-1.0 0L-0.70 -4.9L0.70 -4.9L1.0 0z"/>
<path transform="translate(452.9 279.1)" d="M-1.1 0L-0.70 -8.5L0.70 -8.5L1.1 0z"/>
<path transform="translate(440.2 279.2)" d="M-0.9 0L-0.50 -4.6L0.50 -4.6L0.9 0z"/>
<path transform="translate(439.5 279.3)" d="M-0.9 0L-0.70 -8.2L0.70 -8.2L0.9 0z"/>
<path transform="translate(451.4 279.3)" d="M-1.1 0L-0.70 -5.8L0.70 -5.8L1.1 0z"/>
<path transform="translate(411.0 279.3)" d="M-1.2 0L-0.70 -7.3L0.70 -7.3L1.2 0z"/>
<path transform="translate(408.5 279.3)" d="M-1.0 0L-0.70 -5.9L0.70 -5.9L1.0 0z"/>
<path transform="translate(437.3 279.3)" d="M-0.8 0L-0.50 -5.3L0.50 -5.3L0.8 0z"/>
<path transform="translate(395.4 279.3)" d="M-0.9 0L-0.50 -9.5L0.50 -9.5L0.9 0z"/>
<path transform="translate(412.1 279.4)" d="M-0.9 0L-0.70 -2.9L0.70 -2.9L0.9 0z"/>
<path transform="translate(409.3 279.4)" d="M-0.8 0L-0.50 -15.3L0.50 -15.3L0.8 0z"/>
<path transform="translate(438.0 279.4)" d="M-0.7 0L-0.50 -12.7L0.50 -12.7L0.7 0z"/>
<path transform="translate(455.7 279.5)" d="M-1.2 0L-0.70 -11.5L0.70 -11.5L1.2 0z"/>
<path transform="translate(440.4 279.5)" d="M-0.9 0L-0.50 -13.7L0.50 -13.7L0.9 0z"/>
<path transform="translate(454.2 279.5)" d="M-0.7 0L-0.30 -14.7L0.30 -14.7L0.7 0z"/>
<path transform="translate(410.2 279.5)" d="M-1.1 0L-0.70 -6.4L0.70 -6.4L1.1 0z"/>
<path transform="translate(392.8 279.6)" d="M-0.8 0L-0.50 -13.4L0.50 -13.4L0.8 0z"/>
<path transform="translate(453.7 279.6)" d="M-1.0 0L-0.70 -6.4L0.70 -6.4L1.0 0z"/>
<path transform="translate(393.5 279.6)" d="M-0.7 0L-0.30 -11.5L0.30 -11.5L0.7 0z"/>
<path transform="translate(437.4 279.6)" d="M-0.9 0L-0.50 -5.4L0.50 -5.4L0.9 0z"/>
<path transform="translate(454.5 279.7)" d="M-0.7 0L-0.50 -12.4L0.50 -12.4L0.7 0z"/>
<path transform="translate(411.0 279.7)" d="M-0.9 0L-0.70 -6.6L0.70 -6.6L0.9 0z"/>
<path transform="translate(409.1 279.8)" d="M-1.0 0L-0.70 -10.0L0.70 -10.0L1.0 0z"/>
<path transform="translate(453.3 279.8)" d="M-0.7 0L-0.50 -9.3L0.50 -9.3L0.7 0z"/>
<path transform="translate(437.3 280.0)" d="M-0.7 0L-0.50 -7.9L0.50 -7.9L0.7 0z"/>
<path transform="translate(395.0 280.0)" d="M-1.2 0L-0.70 -7.8L0.70 -7.8L1.2 0z"/>
<path transform="translate(441.5 280.1)" d="M-0.9 0L-0.70 -7.1L0.70 -7.1L0.9 0z"/>
<path transform="translate(438.9 280.1)" d="M-0.9 0L-0.50 -4.2L0.50 -4.2L0.9 0z"/>
<path transform="translate(394.2 280.1)" d="M-0.8 0L-0.30 -15.5L0.30 -15.5L0.8 0z"/>
<path transform="translate(392.6 280.1)" d="M-0.7 0L-0.30 -11.2L0.30 -11.2L0.7 0z"/>
<path transform="translate(407.7 280.1)" d="M-0.9 0L-0.50 -7.3L0.50 -7.3L0.9 0z"/>
<path transform="translate(442.4 280.2)" d="M-0.8 0L-0.70 -7.4L0.70 -7.4L0.8 0z"/>
<path transform="translate(440.0 280.3)" d="M-0.7 0L-0.30 -15.4L0.30 -15.4L0.7 0z"/>
<path transform="translate(458.0 280.3)" d="M-1.0 0L-0.70 -7.2L0.70 -7.2L1.0 0z"/>
<path transform="translate(440.9 280.3)" d="M-1.2 0L-0.70 -8.4L0.70 -8.4L1.2 0z"/>
<path transform="translate(455.7 280.3)" d="M-0.8 0L-0.70 -5.4L0.70 -5.4L0.8 0z"/>
<path transform="translate(408.3 280.3)" d="M-0.9 0L-0.70 -9.1L0.70 -9.1L0.9 0z"/>
<path transform="translate(457.6 280.3)" d="M-0.8 0L-0.50 -10.0L0.50 -10.0L0.8 0z"/>
<path transform="translate(410.4 280.4)" d="M-0.9 0L-0.70 -11.1L0.70 -11.1L0.9 0z"/>
<path transform="translate(408.4 280.4)" d="M-0.7 0L-0.30 -14.5L0.30 -14.5L0.7 0z"/>
<path transform="translate(408.8 280.4)" d="M-0.9 0L-0.70 -11.3L0.70 -11.3L0.9 0z"/>
<path transform="translate(439.4 280.4)" d="M-0.8 0L-0.70 -4.9L0.70 -4.9L0.8 0z"/>
<path transform="translate(458.0 280.5)" d="M-0.9 0L-0.70 -6.2L0.70 -6.2L0.9 0z"/>
<path transform="translate(456.9 280.5)" d="M-0.7 0L-0.50 -11.5L0.50 -11.5L0.7 0z"/>
<path transform="translate(437.6 280.6)" d="M-0.9 0L-0.70 -3.6L0.70 -3.6L0.9 0z"/>
<path transform="translate(458.2 280.7)" d="M-0.7 0L-0.50 -8.6L0.50 -8.6L0.7 0z"/>
<path transform="translate(440.8 280.7)" d="M-1.1 0L-0.70 -5.9L0.70 -5.9L1.1 0z"/>
<path transform="translate(438.1 280.7)" d="M-0.9 0L-0.50 -10.7L0.50 -10.7L0.9 0z"/>
<path transform="translate(394.4 280.8)" d="M-0.8 0L-0.70 -7.9L0.70 -7.9L0.8 0z"/>
<path transform="translate(393.1 280.8)" d="M-0.8 0L-0.30 -12.0L0.30 -12.0L0.8 0z"/>
<path transform="translate(408.4 280.8)" d="M-0.9 0L-0.70 -7.6L0.70 -7.6L0.9 0z"/>
<path transform="translate(391.7 280.9)" d="M-0.7 0L-0.50 -8.4L0.50 -8.4L0.7 0z"/>
<path transform="translate(411.0 280.9)" d="M-1.0 0L-0.70 -9.4L0.70 -9.4L1.0 0z"/>
<path transform="translate(458.2 281.0)" d="M-0.7 0L-0.50 -11.8L0.50 -11.8L0.7 0z"/>
<path transform="translate(438.0 281.0)" d="M-0.8 0L-0.70 -4.2L0.70 -4.2L0.8 0z"/>
<path transform="translate(458.8 281.1)" d="M-1.1 0L-0.70 -6.3L0.70 -6.3L1.1 0z"/>
<path transform="translate(393.8 281.2)" d="M-0.7 0L-0.30 -15.9L0.30 -15.9L0.7 0z"/>
<path transform="translate(409.8 281.3)" d="M-0.9 0L-0.50 -9.2L0.50 -9.2L0.9 0z"/>
<path transform="translate(391.0 281.3)" d="M-0.9 0L-0.50 -14.2L0.50 -14.2L0.9 0z"/>
<path transform="translate(439.9 281.3)" d="M-0.9 0L-0.70 -8.4L0.70 -8.4L0.9 0z"/>
<path transform="translate(455.5 281.3)" d="M-0.8 0L-0.70 -10.3L0.70 -10.3L0.8 0z"/>
<path transform="translate(409.1 281.4)" d="M-0.9 0L-0.50 -13.5L0.50 -13.5L0.9 0z"/>
<path transform="translate(457.1 281.4)" d="M-1.1 0L-0.70 -9.5L0.70 -9.5L1.1 0z"/>
<path transform="translate(457.8 281.4)" d="M-1.0 0L-0.70 -9.0L0.70 -9.0L1.0 0z"/>
<path transform="translate(391.2 281.6)" d="M-1.1 0L-0.70 -11.0L0.70 -11.0L1.1 0z"/>
<path transform="translate(455.7 281.8)" d="M-1.1 0L-0.70 -5.4L0.70 -5.4L1.1 0z"/>
<path transform="translate(441.6 281.9)" d="M-0.7 0L-0.30 -10.2L0.30 -10.2L0.7 0z"/>
<path transform="translate(442.8 281.9)" d="M-1.0 0L-0.70 -7.7L0.70 -7.7L1.0 0z"/>
<path transform="translate(440.2 282.0)" d="M-0.7 0L-0.50 -13.4L0.50 -13.4L0.7 0z"/>
<path transform="translate(455.8 282.0)" d="M-0.7 0L-0.50 -11.5L0.50 -11.5L0.7 0z"/>
<path transform="translate(457.5 282.0)" d="M-0.9 0L-0.50 -13.0L0.50 -13.0L0.9 0z"/>
<path transform="translate(457.0 282.0)" d="M-0.7 0L-0.50 -7.1L0.50 -7.1L0.7 0z"/>
<path transform="translate(393.5 282.1)" d="M-0.9 0L-0.70 -8.7L0.70 -8.7L0.9 0z"/>
<path transform="translate(459.5 282.1)" d="M-0.8 0L-0.50 -12.9L0.50 -12.9L0.8 0z"/>
<path transform="translate(456.2 282.1)" d="M-1.1 0L-0.70 -6.1L0.70 -6.1L1.1 0z"/>
<path transform="translate(458.2 282.1)" d="M-0.7 0L-0.50 -6.4L0.50 -6.4L0.7 0z"/>
<path transform="translate(441.6 282.1)" d="M-1.1 0L-0.70 -10.0L0.70 -10.0L1.1 0z"/>
<path transform="translate(407.8 282.3)" d="M-1.0 0L-0.70 -11.3L0.70 -11.3L1.0 0z"/>
<path transform="translate(407.2 282.3)" d="M-0.9 0L-0.70 -10.2L0.70 -10.2L0.9 0z"/>
<path transform="translate(409.9 282.3)" d="M-1.2 0L-0.70 -5.2L0.70 -5.2L1.2 0z"/>
<path transform="translate(393.9 282.3)" d="M-0.7 0L-0.50 -8.9L0.50 -8.9L0.7 0z"/>
<path transform="translate(392.9 282.3)" d="M-1.1 0L-0.70 -9.6L0.70 -9.6L1.1 0z"/>
<path transform="translate(390.3 282.5)" d="M-0.9 0L-0.50 -11.8L0.50 -11.8L0.9 0z"/>
<path transform="translate(407.7 282.6)" d="M-0.8 0L-0.70 -5.6L0.70 -5.6L0.8 0z"/>
<path transform="translate(441.2 282.6)" d="M-1.0 0L-0.70 -11.2L0.70 -11.2L1.0 0z"/>
<path transform="translate(409.7 282.6)" d="M-0.7 0L-0.30 -11.9L0.30 -11.9L0.7 0z"/>
<path transform="translate(456.9 282.6)" d="M-0.7 0L-0.50 -11.2L0.50 -11.2L0.7 0z"/>
<path transform="translate(391.4 282.8)" d="M-0.8 0L-0.70 -11.4L0.70 -11.4L0.8 0z"/>
<path transform="translate(408.3 282.8)" d="M-0.7 0L-0.50 -11.6L0.50 -11.6L0.7 0z"/>
<path transform="translate(406.3 282.9)" d="M-0.7 0L-0.50 -12.3L0.50 -12.3L0.7 0z"/>
<path transform="translate(390.8 282.9)" d="M-1.2 0L-0.70 -10.3L0.70 -10.3L1.2 0z"/>
<path transform="translate(443.4 282.9)" d="M-0.7 0L-0.50 -14.0L0.50 -14.0L0.7 0z"/>
<path transform="translate(405.8 283.0)" d="M-1.1 0L-0.70 -6.6L0.70 -6.6L1.1 0z"/>
<path transform="translate(410.3 283.0)" d="M-0.9 0L-0.70 -4.6L0.70 -4.6L0.9 0z"/>
<path transform="translate(443.1 283.2)" d="M-0.8 0L-0.70 -9.6L0.70 -9.6L0.8 0z"/>
<path transform="translate(457.0 283.3)" d="M-0.9 0L-0.50 -5.8L0.50 -5.8L0.9 0z"/>
<path transform="translate(391.6 283.3)" d="M-0.6 0L-0.30 -16.3L0.30 -16.3L0.6 0z"/>
<path transform="translate(441.3 283.3)" d="M-0.8 0L-0.50 -10.7L0.50 -10.7L0.8 0z"/>
<path transform="translate(391.8 283.3)" d="M-0.8 0L-0.70 -4.2L0.70 -4.2L0.8 0z"/>
<path transform="translate(391.0 283.5)" d="M-0.6 0L-0.30 -12.2L0.30 -12.2L0.6 0z"/>
<path transform="translate(393.9 283.5)" d="M-1.1 0L-0.70 -4.3L0.70 -4.3L1.1 0z"/>
<path transform="translate(462.0 283.5)" d="M-0.9 0L-0.70 -3.6L0.70 -3.6L0.9 0z"/>
<path transform="translate(407.1 283.6)" d="M-0.9 0L-0.70 -9.1L0.70 -9.1L0.9 0z"/>
<path transform="translate(440.3 283.6)" d="M-1.1 0L-0.70 -7.2L0.70 -7.2L1.1 0z"/>
<path transform="translate(444.0 283.6)" d="M-0.7 0L-0.30 -5.8L0.30 -5.8L0.7 0z"/>
<path transform="translate(443.4 283.6)" d="M-0.7 0L-0.50 -14.1L0.50 -14.1L0.7 0z"/>
<path transform="translate(441.3 283.7)" d="M-0.9 0L-0.70 -5.2L0.70 -5.2L0.9 0z"/>
<path transform="translate(456.9 283.9)" d="M-1.2 0L-0.70 -4.8L0.70 -4.8L1.2 0z"/>
<path transform="translate(458.5 283.9)" d="M-0.8 0L-0.70 -7.7L0.70 -7.7L0.8 0z"/>
<path transform="translate(405.1 283.9)" d="M-1.0 0L-0.70 -6.0L0.70 -6.0L1.0 0z"/>
<path transform="translate(389.6 284.0)" d="M-0.8 0L-0.70 -7.6L0.70 -7.6L0.8 0z"/>
<path transform="translate(462.1 284.0)" d="M-0.7 0L-0.50 -6.0L0.50 -6.0L0.7 0z"/>
<path transform="translate(459.6 284.1)" d="M-0.9 0L-0.70 -11.1L0.70 -11.1L0.9 0z"/>
<path transform="translate(457.5 284.1)" d="M-0.7 0L-0.50 -13.5L0.50 -13.5L0.7 0z"/>
<path transform="translate(392.2 284.2)" d="M-0.9 0L-0.70 -8.5L0.70 -8.5L0.9 0z"/>
<path transform="translate(456.4 284.2)" d="M-0.8 0L-0.50 -4.2L0.50 -4.2L0.8 0z"/>
<path transform="translate(406.6 284.2)" d="M-0.6 0L-0.30 -10.7L0.30 -10.7L0.6 0z"/>
<path transform="translate(407.2 284.2)" d="M-0.9 0L-0.70 -6.7L0.70 -6.7L0.9 0z"/>
<path transform="translate(459.7 284.3)" d="M-1.2 0L-0.70 -7.5L0.70 -7.5L1.2 0z"/>
<path transform="translate(391.0 284.4)" d="M-0.7 0L-0.50 -14.3L0.50 -14.3L0.7 0z"/>
<path transform="translate(440.3 284.4)" d="M-0.7 0L-0.50 -6.5L0.50 -6.5L0.7 0z"/>
<path transform="translate(459.7 284.4)" d="M-0.8 0L-0.50 -15.4L0.50 -15.4L0.8 0z"/>
<path transform="translate(459.2 284.5)" d="M-0.9 0L-0.50 -11.3L0.50 -11.3L0.9 0z"/>
<path transform="translate(442.6 284.5)" d="M-0.7 0L-0.50 -10.5L0.50 -10.5L0.7 0z"/>
<path transform="translate(392.1 284.5)" d="M-0.7 0L-0.50 -7.2L0.50 -7.2L0.7 0z"/>
<path transform="translate(457.7 284.6)" d="M-1.1 0L-0.70 -5.9L0.70 -5.9L1.1 0z"/>
<path transform="translate(389.3 284.6)" d="M-0.8 0L-0.50 -10.3L0.50 -10.3L0.8 0z"/>
<path transform="translate(442.8 284.6)" d="M-1.0 0L-0.70 -10.6L0.70 -10.6L1.0 0z"/>
<path transform="translate(442.4 284.7)" d="M-0.9 0L-0.50 -15.3L0.50 -15.3L0.9 0z"/>
<path transform="translate(441.0 284.7)" d="M-0.7 0L-0.30 -8.1L0.30 -8.1L0.7 0z"/>
<path transform="translate(391.8 284.8)" d="M-1.2 0L-0.70 -6.2L0.70 -6.2L1.2 0z"/>
<path transform="translate(391.6 284.8)" d="M-0.7 0L-0.30 -8.6L0.30 -8.6L0.7 0z"/>
<path transform="translate(407.3 284.8)" d="M-0.9 0L-0.50 -11.2L0.50 -11.2L0.9 0z"/>
<path transform="translate(391.4 284.9)" d="M-0.7 0L-0.30 -11.6L0.30 -11.6L0.7 0z"/>
<path transform="translate(407.4 284.9)" d="M-0.9 0L-0.50 -13.8L0.50 -13.8L0.9 0z"/>
<path transform="translate(462.2 285.1)" d="M-1.1 0L-0.70 -11.1L0.70 -11.1L1.1 0z"/>
<path transform="translate(458.7 285.1)" d="M-0.7 0L-0.50 -9.6L0.50 -9.6L0.7 0z"/>
<path transform="translate(440.9 285.1)" d="M-0.9 0L-0.50 -7.8L0.50 -7.8L0.9 0z"/>
<path transform="translate(443.4 285.2)" d="M-0.7 0L-0.50 -6.3L0.50 -6.3L0.7 0z"/>
<path transform="translate(408.4 285.2)" d="M-0.8 0L-0.50 -10.3L0.50 -10.3L0.8 0z"/>
<path transform="translate(441.7 285.2)" d="M-0.6 0L-0.30 -13.8L0.30 -13.8L0.6 0z"/>
<path transform="translate(391.1 285.2)" d="M-1.2 0L-0.70 -5.6L0.70 -5.6L1.2 0z"/>
<path transform="translate(392.8 285.3)" d="M-0.9 0L-0.70 -8.2L0.70 -8.2L0.9 0z"/>
<path transform="translate(460.2 285.3)" d="M-1.2 0L-0.70 -4.1L0.70 -4.1L1.2 0z"/>
<path transform="translate(389.5 285.4)" d="M-0.7 0L-0.50 -12.8L0.50 -12.8L0.7 0z"/>
<path transform="translate(462.8 285.4)" d="M-0.7 0L-0.30 -16.6L0.30 -16.6L0.7 0z"/>
<path transform="translate(462.2 285.5)" d="M-1.0 0L-0.70 -9.0L0.70 -9.0L1.0 0z"/>
<path transform="translate(442.8 285.5)" d="M-0.8 0L-0.70 -9.7L0.70 -9.7L0.8 0z"/>
<path transform="translate(408.9 285.5)" d="M-0.8 0L-0.50 -9.9L0.50 -9.9L0.8 0z"/>
<path transform="translate(444.3 285.5)" d="M-1.2 0L-0.70 -8.3L0.70 -8.3L1.2 0z"/>
<path transform="translate(391.3 285.5)" d="M-0.9 0L-0.70 -2.9L0.70 -2.9L0.9 0z"/>
<path transform="translate(406.8 285.6)" d="M-1.1 0L-0.70 -9.6L0.70 -9.6L1.1 0z"/>
<path transform="translate(392.0 285.6)" d="M-0.9 0L-0.70 -8.4L0.70 -8.4L0.9 0z"/>
<path transform="translate(391.6 285.6)" d="M-0.9 0L-0.50 -14.2L0.50 -14.2L0.9 0z"/>
<path transform="translate(406.3 285.6)" d="M-1.2 0L-0.70 -5.3L0.70 -5.3L1.2 0z"/>
<path transform="translate(442.4 285.7)" d="M-0.9 0L-0.50 -6.7L0.50 -6.7L0.9 0z"/>
<path transform="translate(391.2 285.7)" d="M-1.2 0L-0.70 -3.8L0.70 -3.8L1.2 0z"/>
<path transform="translate(445.8 285.8)" d="M-1.2 0L-0.70 -6.9L0.70 -6.9L1.2 0z"/>
<path transform="translate(444.1 285.8)" d="M-1.1 0L-0.70 -9.4L0.70 -9.4L1.1 0z"/>
<path transform="translate(392.4 285.9)" d="M-0.7 0L-0.50 -10.2L0.50 -10.2L0.7 0z"/>
<path transform="translate(405.3 286.0)" d="M-0.7 0L-0.30 -17.9L0.30 -17.9L0.7 0z"/>
<path transform="translate(404.6 286.0)" d="M-0.7 0L-0.50 -10.0L0.50 -10.0L0.7 0z"/>
<path transform="translate(459.3 286.0)" d="M-0.9 0L-0.70 -3.9L0.70 -3.9L0.9 0z"/>
<path transform="translate(461.5 286.1)" d="M-0.7 0L-0.30 -15.3L0.30 -15.3L0.7 0z"/>
<path transform="translate(441.8 286.1)" d="M-0.7 0L-0.30 -9.0L0.30 -9.0L0.7 0z"/>
<path transform="translate(390.9 286.1)" d="M-0.7 0L-0.50 -13.1L0.50 -13.1L0.7 0z"/>
<path transform="translate(462.6 286.1)" d="M-0.8 0L-0.50 -13.8L0.50 -13.8L0.8 0z"/>
<path transform="translate(462.7 286.2)" d="M-1.1 0L-0.70 -10.9L0.70 -10.9L1.1 0z"/>
<path transform="translate(459.8 286.2)" d="M-1.1 0L-0.70 -2.9L0.70 -2.9L1.1 0z"/>
<path transform="translate(464.4 286.3)" d="M-1.0 0L-0.70 -5.6L0.70 -5.6L1.0 0z"/>
<path transform="translate(442.5 286.3)" d="M-1.0 0L-0.70 -7.7L0.70 -7.7L1.0 0z"/>
<path transform="translate(463.1 286.3)" d="M-0.9 0L-0.70 -8.7L0.70 -8.7L0.9 0z"/>
<path transform="translate(463.1 286.4)" d="M-1.0 0L-0.70 -8.4L0.70 -8.4L1.0 0z"/>
<path transform="translate(446.0 286.4)" d="M-1.1 0L-0.70 -4.8L0.70 -4.8L1.1 0z"/>
<path transform="translate(404.3 286.4)" d="M-1.1 0L-0.70 -5.3L0.70 -5.3L1.1 0z"/>
<path transform="translate(406.8 286.4)" d="M-0.8 0L-0.50 -12.2L0.50 -12.2L0.8 0z"/>
<path transform="translate(444.1 286.5)" d="M-0.6 0L-0.30 -14.6L0.30 -14.6L0.6 0z"/>
<path transform="translate(406.6 286.5)" d="M-1.0 0L-0.70 -5.8L0.70 -5.8L1.0 0z"/>
<path transform="translate(446.6 286.6)" d="M-1.2 0L-0.70 -4.5L0.70 -4.5L1.2 0z"/>
<path transform="translate(460.1 286.7)" d="M-0.7 0L-0.50 -6.6L0.50 -6.6L0.7 0z"/>
<path transform="translate(390.8 286.7)" d="M-0.7 0L-0.50 -12.1L0.50 -12.1L0.7 0z"/>
<path transform="translate(461.3 286.7)" d="M-1.1 0L-0.70 -11.0L0.70 -11.0L1.1 0z"/>
<path transform="translate(462.4 286.8)" d="M-0.9 0L-0.50 -8.6L0.50 -8.6L0.9 0z"/>
<path transform="translate(406.2 286.8)" d="M-0.7 0L-0.50 -11.5L0.50 -11.5L0.7 0z"/>
<path transform="translate(465.3 286.8)" d="M-0.8 0L-0.30 -8.0L0.30 -8.0L0.8 0z"/>
<path transform="translate(404.4 286.9)" d="M-0.8 0L-0.70 -3.1L0.70 -3.1L0.8 0z"/>
<path transform="translate(442.4 286.9)" d="M-1.0 0L-0.70 -5.2L0.70 -5.2L1.0 0z"/>
<path transform="translate(390.8 286.9)" d="M-0.8 0L-0.30 -13.1L0.30 -13.1L0.8 0z"/>
<path transform="translate(462.1 286.9)" d="M-0.7 0L-0.50 -9.2L0.50 -9.2L0.7 0z"/>
<path transform="translate(462.7 287.0)" d="M-0.8 0L-0.50 -8.2L0.50 -8.2L0.8 0z"/>
<path transform="translate(444.0 287.0)" d="M-1.0 0L-0.70 -9.1L0.70 -9.1L1.0 0z"/>
<path transform="translate(446.8 287.0)" d="M-1.0 0L-0.70 -8.4L0.70 -8.4L1.0 0z"/>
<path transform="translate(443.9 287.2)" d="M-0.7 0L-0.50 -15.4L0.50 -15.4L0.7 0z"/>
<path transform="translate(406.5 287.2)" d="M-0.8 0L-0.70 -8.8L0.70 -8.8L0.8 0z"/>
<path transform="translate(391.7 287.3)" d="M-1.2 0L-0.70 -5.1L0.70 -5.1L1.2 0z"/>
<path transform="translate(463.4 287.3)" d="M-0.9 0L-0.50 -8.4L0.50 -8.4L0.9 0z"/>
<path transform="translate(405.1 287.5)" d="M-0.9 0L-0.50 -9.8L0.50 -9.8L0.9 0z"/>
<path transform="translate(406.2 287.6)" d="M-0.9 0L-0.50 -3.8L0.50 -3.8L0.9 0z"/>
<path transform="translate(462.7 287.6)" d="M-1.2 0L-0.70 -8.6L0.70 -8.6L1.2 0z"/>
<path transform="translate(392.2 287.7)" d="M-0.9 0L-0.50 -6.3L0.50 -6.3L0.9 0z"/>
<path transform="translate(404.3 287.7)" d="M-0.9 0L-0.70 -8.1L0.70 -8.1L0.9 0z"/>
<path transform="translate(391.8 287.7)" d="M-1.1 0L-0.70 -8.0L0.70 -8.0L1.1 0z"/>
<path transform="translate(405.0 287.7)" d="M-0.9 0L-0.70 -8.8L0.70 -8.8L0.9 0z"/>
<path transform="translate(446.5 287.8)" d="M-0.9 0L-0.50 -12.5L0.50 -12.5L0.9 0z"/>
<path transform="translate(445.4 287.8)" d="M-1.0 0L-0.70 -9.1L0.70 -9.1L1.0 0z"/>
<path transform="translate(444.6 287.9)" d="M-1.0 0L-0.70 -9.9L0.70 -9.9L1.0 0z"/>
<path transform="translate(462.7 287.9)" d="M-1.1 0L-0.70 -9.8L0.70 -9.8L1.1 0z"/>
<path transform="translate(407.0 287.9)" d="M-0.7 0L-0.50 -13.7L0.50 -13.7L0.7 0z"/>
<path transform="translate(445.1 287.9)" d="M-0.7 0L-0.30 -17.2L0.30 -17.2L0.7 0z"/>
<path transform="translate(447.8 287.9)" d="M-0.7 0L-0.50 -6.4L0.50 -6.4L0.7 0z"/>
<path transform="translate(462.0 288.0)" d="M-0.8 0L-0.50 -8.1L0.50 -8.1L0.8 0z"/>
<path transform="translate(392.4 288.0)" d="M-0.7 0L-0.50 -7.9L0.50 -7.9L0.7 0z"/>
<path transform="translate(389.0 288.0)" d="M-0.7 0L-0.30 -17.6L0.30 -17.6L0.7 0z"/>
<path transform="translate(389.7 288.1)" d="M-1.2 0L-0.70 -9.0L0.70 -9.0L1.2 0z"/>
<path transform="translate(403.1 288.1)" d="M-1.0 0L-0.70 -4.6L0.70 -4.6L1.0 0z"/>
<path transform="translate(404.6 288.1)" d="M-0.9 0L-0.50 -5.4L0.50 -5.4L0.9 0z"/>
<path transform="translate(447.0 288.1)" d="M-0.8 0L-0.50 -10.1L0.50 -10.1L0.8 0z"/>
<path transform="translate(389.8 288.2)" d="M-0.8 0L-0.70 -8.9L0.70 -8.9L0.8 0z"/>
<path transform="translate(446.6 288.2)" d="M-0.8 0L-0.70 -10.0L0.70 -10.0L0.8 0z"/>
<path transform="translate(392.3 288.2)" d="M-1.2 0L-0.70 -4.6L0.70 -4.6L1.2 0z"/>
<path transform="translate(464.2 288.2)" d="M-0.9 0L-0.70 -5.4L0.70 -5.4L0.9 0z"/>
<path transform="translate(407.2 288.3)" d="M-0.8 0L-0.70 -9.3L0.70 -9.3L0.8 0z"/>
<path transform="translate(389.2 288.3)" d="M-0.9 0L-0.70 -10.1L0.70 -10.1L0.9 0z"/>
<path transform="translate(406.6 288.4)" d="M-0.8 0L-0.50 -11.5L0.50 -11.5L0.8 0z"/>
<path transform="translate(461.9 288.4)" d="M-0.6 0L-0.30 -16.3L0.30 -16.3L0.6 0z"/>
<path transform="translate(463.2 288.4)" d="M-1.1 0L-0.70 -9.6L0.70 -9.6L1.1 0z"/>
<path transform="translate(406.3 288.5)" d="M-0.9 0L-0.50 -9.3L0.50 -9.3L0.9 0z"/>
<path transform="translate(392.8 288.6)" d="M-0.8 0L-0.50 -10.6L0.50 -10.6L0.8 0z"/>
<path transform="translate(462.0 288.6)" d="M-0.7 0L-0.50 -11.9L0.50 -11.9L0.7 0z"/>
<path transform="translate(391.1 288.7)" d="M-0.9 0L-0.70 -5.3L0.70 -5.3L0.9 0z"/>
<path transform="translate(445.1 288.7)" d="M-1.0 0L-0.70 -7.9L0.70 -7.9L1.0 0z"/>
<path transform="translate(445.2 288.7)" d="M-0.7 0L-0.30 -7.8L0.30 -7.8L0.7 0z"/>
<path transform="translate(404.7 288.7)" d="M-0.7 0L-0.50 -12.8L0.50 -12.8L0.7 0z"/>
<path transform="translate(390.5 288.8)" d="M-0.8 0L-0.30 -17.2L0.30 -17.2L0.8 0z"/>
<path transform="translate(463.5 288.9)" d="M-0.9 0L-0.70 -9.0L0.70 -9.0L0.9 0z"/>
<path transform="translate(407.0 289.0)" d="M-1.1 0L-0.70 -5.6L0.70 -5.6L1.1 0z"/>
<path transform="translate(406.1 289.0)" d="M-0.9 0L-0.70 -8.7L0.70 -8.7L0.9 0z"/>
<path transform="translate(393.3 289.0)" d="M-0.9 0L-0.50 -10.9L0.50 -10.9L0.9 0z"/>
<path transform="translate(448.1 289.1)" d="M-0.8 0L-0.50 -4.8L0.50 -4.8L0.8 0z"/>
<path transform="translate(406.2 289.1)" d="M-0.9 0L-0.70 -4.0L0.70 -4.0L0.9 0z"/>
<path transform="translate(388.4 289.2)" d="M-0.9 0L-0.70 -3.4L0.70 -3.4L0.9 0z"/>
<path transform="translate(390.8 289.2)" d="M-0.8 0L-0.50 -14.0L0.50 -14.0L0.8 0z"/>
<path transform="translate(393.1 289.3)" d="M-1.1 0L-0.70 -8.3L0.70 -8.3L1.1 0z"/>
<path transform="translate(444.1 289.3)" d="M-1.2 0L-0.70 -6.5L0.70 -6.5L1.2 0z"/>
<path transform="translate(447.7 289.3)" d="M-1.0 0L-0.70 -8.5L0.70 -8.5L1.0 0z"/>
<path transform="translate(460.9 289.5)" d="M-0.8 0L-0.50 -10.3L0.50 -10.3L0.8 0z"/>
<path transform="translate(391.9 289.5)" d="M-0.9 0L-0.70 -6.5L0.70 -6.5L0.9 0z"/>
<path transform="translate(406.7 289.5)" d="M-0.9 0L-0.50 -12.8L0.50 -12.8L0.9 0z"/>
<path transform="translate(443.5 289.6)" d="M-0.9 0L-0.50 -5.3L0.50 -5.3L0.9 0z"/>
<path transform="translate(444.6 289.6)" d="M-0.8 0L-0.50 -8.0L0.50 -8.0L0.8 0z"/>
<path transform="translate(394.0 289.7)" d="M-0.7 0L-0.50 -8.3L0.50 -8.3L0.7 0z"/>
<path transform="translate(461.9 289.8)" d="M-0.9 0L-0.70 -7.4L0.70 -7.4L0.9 0z"/>
<path transform="translate(443.7 289.8)" d="M-0.8 0L-0.70 -5.0L0.70 -5.0L0.8 0z"/>
<path transform="translate(389.8 289.9)" d="M-1.1 0L-0.70 -9.6L0.70 -9.6L1.1 0z"/>
<path transform="translate(390.2 290.0)" d="M-0.9 0L-0.70 -9.6L0.70 -9.6L0.9 0z"/>
<path transform="translate(391.1 290.0)" d="M-0.9 0L-0.70 -7.8L0.70 -7.8L0.9 0z"/>
<path transform="translate(461.6 290.1)" d="M-1.1 0L-0.70 -4.8L0.70 -4.8L1.1 0z"/>
<path transform="translate(460.6 290.1)" d="M-0.8 0L-0.50 -11.3L0.50 -11.3L0.8 0z"/>
<path transform="translate(393.2 290.1)" d="M-0.7 0L-0.50 -5.4L0.50 -5.4L0.7 0z"/>
<path transform="translate(404.3 290.2)" d="M-0.8 0L-0.30 -11.8L0.30 -11.8L0.8 0z"/>
<path transform="translate(463.0 290.2)" d="M-1.1 0L-0.70 -11.2L0.70 -11.2L1.1 0z"/>
<path transform="translate(389.3 290.2)" d="M-0.9 0L-0.70 -6.6L0.70 -6.6L0.9 0z"/>
<path transform="translate(404.7 290.3)" d="M-0.8 0L-0.50 -10.2L0.50 -10.2L0.8 0z"/>
<path transform="translate(445.5 290.3)" d="M-1.2 0L-0.70 -5.1L0.70 -5.1L1.2 0z"/>
<path transform="translate(462.4 290.4)" d="M-0.9 0L-0.70 -11.4L0.70 -11.4L0.9 0z"/>
<path transform="translate(408.0 290.4)" d="M-1.0 0L-0.70 -10.5L0.70 -10.5L1.0 0z"/>
<path transform="translate(394.2 290.5)" d="M-1.1 0L-0.70 -2.7L0.70 -2.7L1.1 0z"/>
<path transform="translate(403.8 290.5)" d="M-1.1 0L-0.70 -4.3L0.70 -4.3L1.1 0z"/>
<path transform="translate(444.2 290.5)" d="M-1.2 0L-0.70 -4.9L0.70 -4.9L1.2 0z"/>
<path transform="translate(463.4 290.5)" d="M-0.7 0L-0.50 -13.1L0.50 -13.1L0.7 0z"/>
<path transform="translate(392.7 290.5)" d="M-1.2 0L-0.70 -7.7L0.70 -7.7L1.2 0z"/>
<path transform="translate(391.8 290.5)" d="M-0.8 0L-0.30 -13.8L0.30 -13.8L0.8 0z"/>
<path transform="translate(393.9 290.6)" d="M-0.9 0L-0.70 -6.3L0.70 -6.3L0.9 0z"/>
<path transform="translate(393.5 290.6)" d="M-0.7 0L-0.30 -17.4L0.30 -17.4L0.7 0z"/>
<path transform="translate(447.1 290.6)" d="M-1.2 0L-0.70 -7.9L0.70 -7.9L1.2 0z"/>
<path transform="translate(406.3 290.6)" d="M-0.8 0L-0.50 -12.5L0.50 -12.5L0.8 0z"/>
<path transform="translate(445.4 290.6)" d="M-0.7 0L-0.50 -12.3L0.50 -12.3L0.7 0z"/>
<path transform="translate(405.7 290.6)" d="M-0.8 0L-0.50 -9.4L0.50 -9.4L0.8 0z"/>
<path transform="translate(462.0 290.7)" d="M-0.9 0L-0.50 -13.4L0.50 -13.4L0.9 0z"/>
<path transform="translate(444.7 290.7)" d="M-1.0 0L-0.70 -9.4L0.70 -9.4L1.0 0z"/>
<path transform="translate(463.7 290.8)" d="M-0.7 0L-0.30 -6.9L0.30 -6.9L0.7 0z"/>
<path transform="translate(390.6 290.8)" d="M-0.8 0L-0.50 -10.4L0.50 -10.4L0.8 0z"/>
<path transform="translate(391.1 290.8)" d="M-0.7 0L-0.50 -14.2L0.50 -14.2L0.7 0z"/>
<path transform="translate(406.1 290.9)" d="M-1.1 0L-0.70 -9.9L0.70 -9.9L1.1 0z"/>
<path transform="translate(446.4 290.9)" d="M-0.7 0L-0.50 -11.2L0.50 -11.2L0.7 0z"/>
<path transform="translate(395.1 290.9)" d="M-0.7 0L-0.50 -9.6L0.50 -9.6L0.7 0z"/>
<path transform="translate(406.2 290.9)" d="M-0.7 0L-0.50 -5.6L0.50 -5.6L0.7 0z"/>
<path transform="translate(444.5 291.0)" d="M-1.1 0L-0.70 -7.0L0.70 -7.0L1.1 0z"/>
<path transform="translate(393.3 291.0)" d="M-0.7 0L-0.30 -14.2L0.30 -14.2L0.7 0z"/>
<path transform="translate(461.6 291.1)" d="M-0.9 0L-0.70 -10.7L0.70 -10.7L0.9 0z"/>
<path transform="translate(406.3 291.1)" d="M-0.8 0L-0.50 -6.6L0.50 -6.6L0.8 0z"/>
<path transform="translate(443.4 291.1)" d="M-0.7 0L-0.30 -10.1L0.30 -10.1L0.7 0z"/>
<path transform="translate(409.8 291.2)" d="M-1.0 0L-0.70 -4.7L0.70 -4.7L1.0 0z"/>
<path transform="translate(443.6 291.2)" d="M-0.9 0L-0.70 -8.8L0.70 -8.8L0.9 0z"/>
<path transform="translate(394.9 291.2)" d="M-0.9 0L-0.70 -7.9L0.70 -7.9L0.9 0z"/>
<path transform="translate(393.4 291.2)" d="M-0.7 0L-0.50 -13.2L0.50 -13.2L0.7 0z"/>
<path transform="translate(463.3 291.3)" d="M-1.2 0L-0.70 -8.3L0.70 -8.3L1.2 0z"/>
<path transform="translate(460.4 291.3)" d="M-0.8 0L-0.50 -9.8L0.50 -9.8L0.8 0z"/>
<path transform="translate(447.8 291.4)" d="M-1.0 0L-0.70 -6.9L0.70 -6.9L1.0 0z"/>
<path transform="translate(463.5 291.5)" d="M-0.9 0L-0.70 -6.8L0.70 -6.8L0.9 0z"/>
<path transform="translate(408.3 291.5)" d="M-0.9 0L-0.50 -14.1L0.50 -14.1L0.9 0z"/>
<path transform="translate(392.7 291.5)" d="M-0.9 0L-0.50 -10.3L0.50 -10.3L0.9 0z"/>
<path transform="translate(405.8 291.6)" d="M-0.9 0L-0.50 -5.4L0.50 -5.4L0.9 0z"/>
<path transform="translate(392.6 291.7)" d="M-0.6 0L-0.30 -17.3L0.30 -17.3L0.6 0z"/>
<path transform="translate(406.0 291.7)" d="M-0.8 0L-0.30 -15.1L0.30 -15.1L0.8 0z"/>
<path transform="translate(393.8 291.8)" d="M-0.9 0L-0.70 -7.8L0.70 -7.8L0.9 0z"/>
<path transform="translate(405.6 291.8)" d="M-1.1 0L-0.70 -2.8L0.70 -2.8L1.1 0z"/>
<path transform="translate(460.4 291.8)" d="M-0.9 0L-0.50 -10.7L0.50 -10.7L0.9 0z"/>
<path transform="translate(408.7 291.9)" d="M-0.7 0L-0.50 -11.7L0.50 -11.7L0.7 0z"/>
<path transform="translate(407.3 292.0)" d="M-0.9 0L-0.50 -11.0L0.50 -11.0L0.9 0z"/>
<path transform="translate(463.9 292.0)" d="M-0.8 0L-0.50 -8.1L0.50 -8.1L0.8 0z"/>
<path transform="translate(408.0 292.1)" d="M-0.8 0L-0.50 -13.9L0.50 -13.9L0.8 0z"/>
<path transform="translate(445.2 292.1)" d="M-0.9 0L-0.70 -9.0L0.70 -9.0L0.9 0z"/>
<path transform="translate(463.2 292.3)" d="M-0.7 0L-0.50 -9.2L0.50 -9.2L0.7 0z"/>
<path transform="translate(461.0 292.3)" d="M-0.8 0L-0.30 -17.7L0.30 -17.7L0.8 0z"/>
<path transform="translate(446.1 292.3)" d="M-1.0 0L-0.70 -8.1L0.70 -8.1L1.0 0z"/>
<path transform="translate(394.8 292.3)" d="M-0.9 0L-0.50 -13.5L0.50 -13.5L0.9 0z"/>
<path transform="translate(396.9 292.3)" d="M-0.7 0L-0.30 -14.0L0.30 -14.0L0.7 0z"/>
<path transform="translate(461.2 292.4)" d="M-1.1 0L-0.70 -10.6L0.70 -10.6L1.1 0z"/>
<path transform="translate(408.0 292.4)" d="M-0.8 0L-0.70 -7.4L0.70 -7.4L0.8 0z"/>
<path transform="translate(409.4 292.4)" d="M-0.8 0L-0.50 -6.5L0.50 -6.5L0.8 0z"/>
<path transform="translate(446.2 292.4)" d="M-0.8 0L-0.70 -9.6L0.70 -9.6L0.8 0z"/>
<path transform="translate(406.7 292.5)" d="M-0.9 0L-0.70 -7.7L0.70 -7.7L0.9 0z"/>
<path transform="translate(461.8 292.6)" d="M-0.8 0L-0.50 -14.8L0.50 -14.8L0.8 0z"/>
<path transform="translate(393.8 292.7)" d="M-1.1 0L-0.70 -7.1L0.70 -7.1L1.1 0z"/>
<path transform="translate(445.3 292.8)" d="M-1.0 0L-0.70 -8.3L0.70 -8.3L1.0 0z"/>
<path transform="translate(444.0 292.8)" d="M-1.2 0L-0.70 -9.1L0.70 -9.1L1.2 0z"/>
<path transform="translate(462.1 292.8)" d="M-0.9 0L-0.50 -12.5L0.50 -12.5L0.9 0z"/>
<path transform="translate(397.6 292.8)" d="M-0.9 0L-0.70 -7.4L0.70 -7.4L0.9 0z"/>
<path transform="translate(460.9 292.8)" d="M-1.0 0L-0.70 -6.4L0.70 -6.4L1.0 0z"/>
<path transform="translate(443.4 292.9)" d="M-0.8 0L-0.70 -9.9L0.70 -9.9L0.8 0z"/>
<path transform="translate(461.1 292.9)" d="M-1.1 0L-0.70 -8.2L0.70 -8.2L1.1 0z"/>
<path transform="translate(459.5 292.9)" d="M-0.7 0L-0.30 -14.1L0.30 -14.1L0.7 0z"/>
<path transform="translate(411.2 292.9)" d="M-0.9 0L-0.50 -11.3L0.50 -11.3L0.9 0z"/>
<path transform="translate(395.9 292.9)" d="M-1.1 0L-0.70 -5.5L0.70 -5.5L1.1 0z"/>
<path transform="translate(408.5 293.0)" d="M-0.7 0L-0.50 -12.5L0.50 -12.5L0.7 0z"/>
<path transform="translate(459.6 293.0)" d="M-0.7 0L-0.30 -17.1L0.30 -17.1L0.7 0z"/>
<path transform="translate(461.8 293.0)" d="M-0.8 0L-0.70 -5.7L0.70 -5.7L0.8 0z"/>
<path transform="translate(395.2 293.0)" d="M-1.1 0L-0.70 -10.7L0.70 -10.7L1.1 0z"/>
<path transform="translate(409.0 293.1)" d="M-0.8 0L-0.70 -4.5L0.70 -4.5L0.8 0z"/>
<path transform="translate(410.3 293.3)" d="M-1.0 0L-0.70 -9.9L0.70 -9.9L1.0 0z"/>
<path transform="translate(442.8 293.3)" d="M-1.0 0L-0.70 -6.7L0.70 -6.7L1.0 0z"/>
<path transform="translate(398.2 293.5)" d="M-1.1 0L-0.70 -5.0L0.70 -5.0L1.1 0z"/>
<path transform="translate(446.7 293.5)" d="M-1.2 0L-0.70 -5.7L0.70 -5.7L1.2 0z"/>
<path transform="translate(458.8 293.6)" d="M-0.9 0L-0.70 -6.9L0.70 -6.9L0.9 0z"/>
<path transform="translate(408.9 293.6)" d="M-1.2 0L-0.70 -8.8L0.70 -8.8L1.2 0z"/>
<path transform="translate(443.2 293.7)" d="M-1.2 0L-0.70 -8.3L0.70 -8.3L1.2 0z"/>
<path transform="translate(397.7 293.7)" d="M-1.0 0L-0.70 -11.7L0.70 -11.7L1.0 0z"/>
<path transform="translate(395.3 293.7)" d="M-1.1 0L-0.70 -5.3L0.70 -5.3L1.1 0z"/>
<path transform="translate(443.1 293.8)" d="M-0.8 0L-0.50 -12.8L0.50 -12.8L0.8 0z"/>
<path transform="translate(395.4 293.8)" d="M-1.2 0L-0.70 -9.5L0.70 -9.5L1.2 0z"/>
<path transform="translate(460.6 293.8)" d="M-1.1 0L-0.70 -10.3L0.70 -10.3L1.1 0z"/>
<path transform="translate(461.2 293.8)" d="M-0.9 0L-0.70 -10.1L0.70 -10.1L0.9 0z"/>
<path transform="translate(397.8 293.8)" d="M-0.7 0L-0.50 -11.6L0.50 -11.6L0.7 0z"/>
<path transform="translate(407.4 293.9)" d="M-0.7 0L-0.50 -9.2L0.50 -9.2L0.7 0z"/>
<path transform="translate(397.5 293.9)" d="M-1.1 0L-0.70 -8.5L0.70 -8.5L1.1 0z"/>
<path transform="translate(446.2 293.9)" d="M-0.8 0L-0.50 -6.7L0.50 -6.7L0.8 0z"/>
<path transform="translate(461.3 293.9)" d="M-0.7 0L-0.50 -13.4L0.50 -13.4L0.7 0z"/>
<path transform="translate(442.5 294.0)" d="M-0.9 0L-0.50 -8.3L0.50 -8.3L0.9 0z"/>
<path transform="translate(412.2 294.0)" d="M-1.2 0L-0.70 -5.4L0.70 -5.4L1.2 0z"/>
<path transform="translate(394.1 294.0)" d="M-0.8 0L-0.50 -8.2L0.50 -8.2L0.8 0z"/>
<path transform="translate(408.9 294.1)" d="M-1.2 0L-0.70 -6.8L0.70 -6.8L1.2 0z"/>
<path transform="translate(444.7 294.1)" d="M-1.2 0L-0.70 -8.6L0.70 -8.6L1.2 0z"/>
<path transform="translate(409.8 294.1)" d="M-0.7 0L-0.50 -13.9L0.50 -13.9L0.7 0z"/>
<path transform="translate(407.9 294.2)" d="M-0.7 0L-0.50 -10.1L0.50 -10.1L0.7 0z"/>
<path transform="translate(394.6 294.2)" d="M-1.1 0L-0.70 -10.5L0.70 -10.5L1.1 0z"/>
<path transform="translate(410.3 294.2)" d="M-1.1 0L-0.70 -3.8L0.70 -3.8L1.1 0z"/>
<path transform="translate(410.1 294.2)" d="M-1.1 0L-0.70 -7.3L0.70 -7.3L1.1 0z"/>
<path transform="translate(409.4 294.3)" d="M-0.9 0L-0.70 -4.1L0.70 -4.1L0.9 0z"/>
<path transform="translate(458.4 294.3)" d="M-0.6 0L-0.30 -12.8L0.30 -12.8L0.6 0z"/>
<path transform="translate(460.8 294.4)" d="M-1.2 0L-0.70 -7.5L0.70 -7.5L1.2 0z"/>
<path transform="translate(460.9 294.5)" d="M-1.0 0L-0.70 -11.2L0.70 -11.2L1.0 0z"/>
<path transform="translate(397.0 294.5)" d="M-0.7 0L-0.30 -9.8L0.30 -9.8L0.7 0z"/>
<path transform="translate(400.1 294.6)" d="M-0.7 0L-0.30 -11.8L0.30 -11.8L0.7 0z"/>
<path transform="translate(412.2 294.7)" d="M-1.1 0L-0.70 -7.7L0.70 -7.7L1.1 0z"/>
<path transform="translate(397.9 294.7)" d="M-1.2 0L-0.70 -9.5L0.70 -9.5L1.2 0z"/>
<path transform="translate(459.4 294.7)" d="M-0.9 0L-0.70 -5.7L0.70 -5.7L0.9 0z"/>
<path transform="translate(462.8 294.8)" d="M-0.7 0L-0.50 -4.0L0.50 -4.0L0.7 0z"/>
<path transform="translate(444.4 294.8)" d="M-1.0 0L-0.70 -9.4L0.70 -9.4L1.0 0z"/>
<path transform="translate(398.0 294.8)" d="M-0.8 0L-0.50 -7.3L0.50 -7.3L0.8 0z"/>
<path transform="translate(441.8 294.9)" d="M-0.9 0L-0.70 -4.4L0.70 -4.4L0.9 0z"/>
<path transform="translate(411.8 295.1)" d="M-0.7 0L-0.50 -9.2L0.50 -9.2L0.7 0z"/>
<path transform="translate(398.5 295.1)" d="M-0.9 0L-0.70 -7.5L0.70 -7.5L0.9 0z"/>
<path transform="translate(442.6 295.1)" d="M-1.0 0L-0.70 -8.0L0.70 -8.0L1.0 0z"/>
<path transform="translate(411.4 295.1)" d="M-1.0 0L-0.70 -8.9L0.70 -8.9L1.0 0z"/>
<path transform="translate(457.4 295.2)" d="M-1.0 0L-0.70 -5.4L0.70 -5.4L1.0 0z"/>
<path transform="translate(395.5 295.2)" d="M-0.7 0L-0.50 -6.0L0.50 -6.0L0.7 0z"/>
<path transform="translate(398.1 295.4)" d="M-0.8 0L-0.70 -8.0L0.70 -8.0L0.8 0z"/>
<path transform="translate(398.0 295.4)" d="M-1.2 0L-0.70 -8.9L0.70 -8.9L1.2 0z"/>
<path transform="translate(396.3 295.4)" d="M-0.9 0L-0.50 -11.4L0.50 -11.4L0.9 0z"/>
<path transform="translate(398.4 295.5)" d="M-0.6 0L-0.30 -11.0L0.30 -11.0L0.6 0z"/>
<path transform="translate(409.2 295.5)" d="M-0.7 0L-0.50 -8.3L0.50 -8.3L0.7 0z"/>
<path transform="translate(457.1 295.6)" d="M-1.1 0L-0.70 -5.8L0.70 -5.8L1.1 0z"/>
<path transform="translate(400.7 295.6)" d="M-1.2 0L-0.70 -7.6L0.70 -7.6L1.2 0z"/>
<path transform="translate(445.0 295.6)" d="M-0.8 0L-0.50 -11.0L0.50 -11.0L0.8 0z"/>
<path transform="translate(399.4 295.6)" d="M-1.2 0L-0.70 -9.5L0.70 -9.5L1.2 0z"/>
<path transform="translate(409.0 295.7)" d="M-1.0 0L-0.70 -6.7L0.70 -6.7L1.0 0z"/>
<path transform="translate(396.1 295.7)" d="M-0.8 0L-0.50 -8.5L0.50 -8.5L0.8 0z"/>
<path transform="translate(397.2 295.7)" d="M-0.9 0L-0.50 -10.1L0.50 -10.1L0.9 0z"/>
<path transform="translate(400.1 295.8)" d="M-0.9 0L-0.50 -10.9L0.50 -10.9L0.9 0z"/>
<path transform="translate(442.8 295.8)" d="M-0.9 0L-0.70 -5.3L0.70 -5.3L0.9 0z"/>
<path transform="translate(459.2 295.8)" d="M-0.7 0L-0.30 -10.1L0.30 -10.1L0.7 0z"/>
<path transform="translate(443.0 295.8)" d="M-0.9 0L-0.50 -8.5L0.50 -8.5L0.9 0z"/>
<path transform="translate(459.8 295.9)" d="M-1.2 0L-0.70 -11.2L0.70 -11.2L1.2 0z"/>
<path transform="translate(412.0 296.1)" d="M-1.1 0L-0.70 -9.1L0.70 -9.1L1.1 0z"/>
<path transform="translate(457.8 296.1)" d="M-1.1 0L-0.70 -6.4L0.70 -6.4L1.1 0z"/>
<path transform="translate(443.1 296.2)" d="M-0.7 0L-0.50 -12.6L0.50 -12.6L0.7 0z"/>
<path transform="translate(413.6 296.2)" d="M-0.8 0L-0.70 -8.1L0.70 -8.1L0.8 0z"/>
<path transform="translate(398.7 296.2)" d="M-1.2 0L-0.70 -10.5L0.70 -10.5L1.2 0z"/>
<path transform="translate(397.7 296.2)" d="M-0.9 0L-0.50 -5.5L0.50 -5.5L0.9 0z"/>
<path transform="translate(442.6 296.3)" d="M-1.1 0L-0.70 -5.9L0.70 -5.9L1.1 0z"/>
<path transform="translate(441.2 296.4)" d="M-0.9 0L-0.50 -7.2L0.50 -7.2L0.9 0z"/>
<path transform="translate(457.5 296.4)" d="M-0.9 0L-0.70 -10.4L0.70 -10.4L0.9 0z"/>
<path transform="translate(410.7 296.5)" d="M-0.8 0L-0.50 -14.3L0.50 -14.3L0.8 0z"/>
<path transform="translate(399.9 296.6)" d="M-1.0 0L-0.70 -5.1L0.70 -5.1L1.0 0z"/>
<path transform="translate(410.6 296.6)" d="M-0.7 0L-0.50 -6.1L0.50 -6.1L0.7 0z"/>
<path transform="translate(441.9 296.6)" d="M-0.8 0L-0.50 -4.5L0.50 -4.5L0.8 0z"/>
<path transform="translate(410.5 296.6)" d="M-1.2 0L-0.70 -6.6L0.70 -6.6L1.2 0z"/>
<path transform="translate(458.3 296.6)" d="M-0.9 0L-0.70 -10.0L0.70 -10.0L0.9 0z"/>
<path transform="translate(443.8 296.7)" d="M-0.7 0L-0.30 -8.0L0.30 -8.0L0.7 0z"/>
<path transform="translate(413.0 296.8)" d="M-1.2 0L-0.70 -8.8L0.70 -8.8L1.2 0z"/>
<path transform="translate(442.0 296.8)" d="M-0.8 0L-0.50 -11.3L0.50 -11.3L0.8 0z"/>
<path transform="translate(445.9 296.8)" d="M-1.0 0L-0.70 -3.9L0.70 -3.9L1.0 0z"/>
<path transform="translate(400.4 296.9)" d="M-1.0 0L-0.70 -6.4L0.70 -6.4L1.0 0z"/>
<path transform="translate(413.7 296.9)" d="M-0.7 0L-0.50 -5.9L0.50 -5.9L0.7 0z"/>
<path transform="translate(460.4 297.0)" d="M-0.8 0L-0.50 -11.1L0.50 -11.1L0.8 0z"/>
<path transform="translate(401.1 297.0)" d="M-0.6 0L-0.30 -17.4L0.30 -17.4L0.6 0z"/>
<path transform="translate(413.9 297.0)" d="M-0.9 0L-0.50 -6.8L0.50 -6.8L0.9 0z"/>
<path transform="translate(401.9 297.0)" d="M-0.8 0L-0.30 -15.1L0.30 -15.1L0.8 0z"/>
<path transform="translate(402.8 297.0)" d="M-0.7 0L-0.30 -8.0L0.30 -8.0L0.7 0z"/>
<path transform="translate(411.1 297.0)" d="M-0.8 0L-0.70 -9.1L0.70 -9.1L0.8 0z"/>
<path transform="translate(460.3 297.1)" d="M-0.7 0L-0.50 -7.5L0.50 -7.5L0.7 0z"/>
<path transform="translate(413.4 297.1)" d="M-0.9 0L-0.70 -8.7L0.70 -8.7L0.9 0z"/>
<path transform="translate(413.2 297.1)" d="M-0.8 0L-0.50 -12.8L0.50 -12.8L0.8 0z"/>
<path transform="translate(401.8 297.1)" d="M-1.2 0L-0.70 -9.0L0.70 -9.0L1.2 0z"/>
<path transform="translate(398.3 297.3)" d="M-0.8 0L-0.50 -10.1L0.50 -10.1L0.8 0z"/>
<path transform="translate(414.9 297.4)" d="M-0.9 0L-0.50 -7.3L0.50 -7.3L0.9 0z"/>
<path transform="translate(460.2 297.5)" d="M-0.9 0L-0.70 -10.1L0.70 -10.1L0.9 0z"/>
<path transform="translate(456.6 297.5)" d="M-0.9 0L-0.50 -10.8L0.50 -10.8L0.9 0z"/>
<path transform="translate(399.5 297.5)" d="M-0.9 0L-0.70 -7.8L0.70 -7.8L0.9 0z"/>
<path transform="translate(456.5 297.6)" d="M-0.9 0L-0.50 -8.1L0.50 -8.1L0.9 0z"/>
<path transform="translate(445.2 297.6)" d="M-0.9 0L-0.70 -5.4L0.70 -5.4L0.9 0z"/>
<path transform="translate(412.6 297.6)" d="M-0.7 0L-0.30 -13.2L0.30 -13.2L0.7 0z"/>
<path transform="translate(399.7 297.6)" d="M-1.0 0L-0.70 -9.0L0.70 -9.0L1.0 0z"/>
<path transform="translate(458.3 297.7)" d="M-0.9 0L-0.50 -7.5L0.50 -7.5L0.9 0z"/>
<path transform="translate(415.9 297.7)" d="M-0.7 0L-0.30 -8.1L0.30 -8.1L0.7 0z"/>
<path transform="translate(443.0 297.7)" d="M-0.7 0L-0.50 -11.9L0.50 -11.9L0.7 0z"/>
<path transform="translate(442.9 297.7)" d="M-0.8 0L-0.50 -12.2L0.50 -12.2L0.8 0z"/>
<path transform="translate(443.3 297.7)" d="M-0.6 0L-0.30 -16.5L0.30 -16.5L0.6 0z"/>
<path transform="translate(412.3 297.7)" d="M-0.8 0L-0.50 -5.7L0.50 -5.7L0.8 0z"/>
<path transform="translate(443.5 297.8)" d="M-0.7 0L-0.50 -13.3L0.50 -13.3L0.7 0z"/>
<path transform="translate(413.8 297.8)" d="M-0.8 0L-0.50 -12.7L0.50 -12.7L0.8 0z"/>
<path transform="translate(441.9 297.9)" d="M-0.9 0L-0.50 -13.0L0.50 -13.0L0.9 0z"/>
<path transform="translate(459.2 297.9)" d="M-0.8 0L-0.50 -9.8L0.50 -9.8L0.8 0z"/>
<path transform="translate(403.6 297.9)" d="M-1.0 0L-0.70 -8.1L0.70 -8.1L1.0 0z"/>
<path transform="translate(459.8 298.0)" d="M-0.8 0L-0.50 -9.0L0.50 -9.0L0.8 0z"/>
<path transform="translate(402.0 298.0)" d="M-0.8 0L-0.50 -10.8L0.50 -10.8L0.8 0z"/>
<path transform="translate(403.6 298.1)" d="M-1.0 0L-0.70 -6.1L0.70 -6.1L1.0 0z"/>
<path transform="translate(441.2 298.1)" d="M-1.0 0L-0.70 -7.6L0.70 -7.6L1.0 0z"/>
<path transform="translate(459.3 298.2)" d="M-0.7 0L-0.50 -12.9L0.50 -12.9L0.7 0z"/>
<path transform="translate(414.0 298.2)" d="M-0.8 0L-0.50 -10.8L0.50 -10.8L0.8 0z"/>
<path transform="translate(415.7 298.2)" d="M-1.1 0L-0.70 -10.3L0.70 -10.3L1.1 0z"/>
<path transform="translate(398.9 298.2)" d="M-0.7 0L-0.50 -4.9L0.50 -4.9L0.7 0z"/>
<path transform="translate(413.7 298.2)" d="M-0.9 0L-0.70 -11.9L0.70 -11.9L0.9 0z"/>
<path transform="translate(412.4 298.2)" d="M-0.9 0L-0.70 -8.1L0.70 -8.1L0.9 0z"/>
<path transform="translate(414.5 298.2)" d="M-0.7 0L-0.50 -7.7L0.50 -7.7L0.7 0z"/>
<path transform="translate(401.1 298.3)" d="M-1.2 0L-0.70 -5.6L0.70 -5.6L1.2 0z"/>
<path transform="translate(456.0 298.3)" d="M-0.8 0L-0.50 -9.6L0.50 -9.6L0.8 0z"/>
<path transform="translate(400.7 298.3)" d="M-1.2 0L-0.70 -7.5L0.70 -7.5L1.2 0z"/>
<path transform="translate(442.3 298.3)" d="M-0.8 0L-0.70 -7.5L0.70 -7.5L0.8 0z"/>
<path transform="translate(445.0 298.4)" d="M-0.9 0L-0.70 -8.1L0.70 -8.1L0.9 0z"/>
<path transform="translate(458.3 298.5)" d="M-0.7 0L-0.50 -11.0L0.50 -11.0L0.7 0z"/>
<path transform="translate(415.9 298.5)" d="M-0.8 0L-0.30 -16.0L0.30 -16.0L0.8 0z"/>
<path transform="translate(403.3 298.5)" d="M-1.2 0L-0.70 -10.3L0.70 -10.3L1.2 0z"/>
<path transform="translate(414.6 298.5)" d="M-1.2 0L-0.70 -8.3L0.70 -8.3L1.2 0z"/>
<path transform="translate(403.9 298.6)" d="M-0.9 0L-0.50 -10.8L0.50 -10.8L0.9 0z"/>
<path transform="translate(400.7 298.6)" d="M-0.8 0L-0.50 -11.5L0.50 -11.5L0.8 0z"/>
<path transform="translate(403.4 298.7)" d="M-0.8 0L-0.50 -7.5L0.50 -7.5L0.8 0z"/>
<path transform="translate(460.6 298.7)" d="M-1.2 0L-0.70 -5.5L0.70 -5.5L1.2 0z"/>
<path transform="translate(412.1 298.9)" d="M-0.7 0L-0.50 -11.4L0.50 -11.4L0.7 0z"/>
<path transform="translate(414.7 298.9)" d="M-1.2 0L-0.70 -11.7L0.70 -11.7L1.2 0z"/>
<path transform="translate(457.9 299.0)" d="M-0.9 0L-0.70 -8.4L0.70 -8.4L0.9 0z"/>
<path transform="translate(443.9 299.0)" d="M-1.1 0L-0.70 -9.0L0.70 -9.0L1.1 0z"/>
<path transform="translate(459.1 299.1)" d="M-0.9 0L-0.50 -10.6L0.50 -10.6L0.9 0z"/>
<path transform="translate(442.5 299.1)" d="M-0.6 0L-0.30 -17.3L0.30 -17.3L0.6 0z"/>
<path transform="translate(403.0 299.2)" d="M-1.1 0L-0.70 -9.7L0.70 -9.7L1.1 0z"/>
<path transform="translate(456.6 299.2)" d="M-1.0 0L-0.70 -8.4L0.70 -8.4L1.0 0z"/>
<path transform="translate(418.5 299.3)" d="M-0.7 0L-0.50 -4.5L0.50 -4.5L0.7 0z"/>
<path transform="translate(457.0 299.3)" d="M-0.9 0L-0.70 -10.5L0.70 -10.5L0.9 0z"/>
<path transform="translate(455.8 299.3)" d="M-0.8 0L-0.30 -13.1L0.30 -13.1L0.8 0z"/>
<path transform="translate(413.9 299.4)" d="M-0.6 0L-0.30 -7.9L0.30 -7.9L0.6 0z"/>
<path transform="translate(402.1 299.4)" d="M-0.9 0L-0.70 -10.7L0.70 -10.7L0.9 0z"/>
<path transform="translate(442.7 299.4)" d="M-1.1 0L-0.70 -10.2L0.70 -10.2L1.1 0z"/>
<path transform="translate(441.4 299.4)" d="M-1.1 0L-0.70 -10.9L0.70 -10.9L1.1 0z"/>
<path transform="translate(444.3 299.5)" d="M-0.8 0L-0.70 -6.4L0.70 -6.4L0.8 0z"/>
<path transform="translate(400.8 299.5)" d="M-0.6 0L-0.30 -15.3L0.30 -15.3L0.6 0z"/>
<path transform="translate(455.2 299.5)" d="M-0.7 0L-0.30 -9.4L0.30 -9.4L0.7 0z"/>
<path transform="translate(421.0 299.5)" d="M-0.7 0L-0.50 -8.2L0.50 -8.2L0.7 0z"/>
<path transform="translate(444.2 299.6)" d="M-0.8 0L-0.50 -8.1L0.50 -8.1L0.8 0z"/>
<path transform="translate(412.7 299.6)" d="M-0.8 0L-0.50 -8.1L0.50 -8.1L0.8 0z"/>
<path transform="translate(412.4 299.6)" d="M-0.6 0L-0.30 -8.1L0.30 -8.1L0.6 0z"/>
<path transform="translate(421.7 299.6)" d="M-1.2 0L-0.70 -4.4L0.70 -4.4L1.2 0z"/>
<path transform="translate(456.1 299.6)" d="M-0.9 0L-0.50 -12.4L0.50 -12.4L0.9 0z"/>
<path transform="translate(436.9 299.7)" d="M-0.7 0L-0.30 -7.1L0.30 -7.1L0.7 0z"/>
<path transform="translate(429.7 299.7)" d="M-1.2 0L-0.70 -3.6L0.70 -3.6L1.2 0z"/>
<path transform="translate(421.4 299.7)" d="M-1.0 0L-0.70 -7.8L0.70 -7.8L1.0 0z"/>
<path transform="translate(419.6 299.7)" d="M-0.8 0L-0.50 -4.8L0.50 -4.8L0.8 0z"/>
<path transform="translate(403.6 299.7)" d="M-1.0 0L-0.70 -3.8L0.70 -3.8L1.0 0z"/>
<path transform="translate(457.7 299.7)" d="M-0.9 0L-0.70 -10.8L0.70 -10.8L0.9 0z"/>
<path transform="translate(405.4 299.7)" d="M-1.2 0L-0.70 -8.6L0.70 -8.6L1.2 0z"/>
<path transform="translate(404.3 299.7)" d="M-0.6 0L-0.30 -17.7L0.30 -17.7L0.6 0z"/>
<path transform="translate(429.7 299.7)" d="M-1.1 0L-0.70 -6.9L0.70 -6.9L1.1 0z"/>
<path transform="translate(400.8 299.8)" d="M-0.8 0L-0.30 -8.8L0.30 -8.8L0.8 0z"/>
<path transform="translate(457.6 299.9)" d="M-0.8 0L-0.50 -4.0L0.50 -4.0L0.8 0z"/>
<path transform="translate(437.1 299.9)" d="M-0.9 0L-0.70 -2.9L0.70 -2.9L0.9 0z"/>
<path transform="translate(457.4 299.9)" d="M-0.8 0L-0.70 -9.1L0.70 -9.1L0.8 0z"/>
<path transform="translate(428.5 299.9)" d="M-0.6 0L-0.30 -13.0L0.30 -13.0L0.6 0z"/>
<path transform="translate(424.8 299.9)" d="M-1.0 0L-0.70 -9.7L0.70 -9.7L1.0 0z"/>
<path transform="translate(400.7 300.0)" d="M-0.8 0L-0.50 -7.9L0.50 -7.9L0.8 0z"/>
<path transform="translate(419.6 300.0)" d="M-0.7 0L-0.50 -8.4L0.50 -8.4L0.7 0z"/>
<path transform="translate(437.6 300.0)" d="M-1.2 0L-0.70 -5.5L0.70 -5.5L1.2 0z"/>
<path transform="translate(436.3 300.0)" d="M-0.8 0L-0.50 -9.8L0.50 -9.8L0.8 0z"/>
<path transform="translate(419.9 300.0)" d="M-0.9 0L-0.50 -12.6L0.50 -12.6L0.9 0z"/>
<path transform="translate(416.5 300.0)" d="M-0.7 0L-0.50 -11.3L0.50 -11.3L0.7 0z"/>
<path transform="translate(434.9 300.0)" d="M-0.7 0L-0.50 -6.2L0.50 -6.2L0.7 0z"/>
<path transform="translate(440.1 300.0)" d="M-0.8 0L-0.50 -10.6L0.50 -10.6L0.8 0z"/>
<path transform="translate(417.7 300.0)" d="M-0.7 0L-0.30 -14.1L0.30 -14.1L0.7 0z"/>
<path transform="translate(414.1 300.0)" d="M-0.7 0L-0.30 -14.2L0.30 -14.2L0.7 0z"/>
<path transform="translate(458.3 300.1)" d="M-0.7 0L-0.30 -15.3L0.30 -15.3L0.7 0z"/>
<path transform="translate(439.4 300.1)" d="M-0.9 0L-0.70 -6.6L0.70 -6.6L0.9 0z"/>
<path transform="translate(454.9 300.1)" d="M-0.9 0L-0.70 -5.6L0.70 -5.6L0.9 0z"/>
<path transform="translate(438.5 300.1)" d="M-0.8 0L-0.70 -7.5L0.70 -7.5L0.8 0z"/>
<path transform="translate(438.3 300.1)" d="M-1.0 0L-0.70 -6.4L0.70 -6.4L1.0 0z"/>
<path transform="translate(413.9 300.1)" d="M-0.6 0L-0.50 -13.0L0.50 -13.0L0.6 0z"/>
<path transform="translate(427.5 300.2)" d="M-0.6 0L-0.30 -6.0L0.30 -6.0L0.6 0z"/>
<path transform="translate(422.6 300.2)" d="M-0.7 0L-0.50 -12.0L0.50 -12.0L0.7 0z"/>
<path transform="translate(430.2 300.2)" d="M-0.9 0L-0.50 -12.5L0.50 -12.5L0.9 0z"/>
<path transform="translate(435.6 300.2)" d="M-0.6 0L-0.30 -15.6L0.30 -15.6L0.6 0z"/>
<path transform="translate(419.0 300.3)" d="M-0.9 0L-0.70 -4.7L0.70 -4.7L0.9 0z"/>
<path transform="translate(405.4 300.3)" d="M-0.6 0L-0.30 -11.1L0.30 -11.1L0.6 0z"/>
<path transform="translate(429.6 300.3)" d="M-1.1 0L-0.70 -6.4L0.70 -6.4L1.1 0z"/>
<path transform="translate(432.7 300.3)" d="M-0.8 0L-0.50 -9.8L0.50 -9.8L0.8 0z"/>
<path transform="translate(435.8 300.3)" d="M-1.1 0L-0.70 -7.0L0.70 -7.0L1.1 0z"/>
<path transform="translate(435.6 300.3)" d="M-1.0 0L-0.70 -5.0L0.70 -5.0L1.0 0z"/>
<path transform="translate(419.2 300.4)" d="M-1.0 0L-0.70 -10.8L0.70 -10.8L1.0 0z"/>
<path transform="translate(423.1 300.4)" d="M-0.9 0L-0.50 -11.9L0.50 -11.9L0.9 0z"/>
<path transform="translate(440.4 300.4)" d="M-0.7 0L-0.50 -10.5L0.50 -10.5L0.7 0z"/>
<path transform="translate(423.2 300.4)" d="M-0.9 0L-0.50 -12.9L0.50 -12.9L0.9 0z"/>
<path transform="translate(402.3 300.4)" d="M-0.9 0L-0.70 -5.9L0.70 -5.9L0.9 0z"/>
<path transform="translate(443.5 300.4)" d="M-1.1 0L-0.70 -8.6L0.70 -8.6L1.1 0z"/>
<path transform="translate(435.5 300.5)" d="M-0.7 0L-0.50 -6.9L0.50 -6.9L0.7 0z"/>
<path transform="translate(419.4 300.5)" d="M-0.8 0L-0.30 -15.5L0.30 -15.5L0.8 0z"/>
<path transform="translate(419.6 300.5)" d="M-0.9 0L-0.70 -10.1L0.70 -10.1L0.9 0z"/>
<path transform="translate(441.6 300.5)" d="M-0.9 0L-0.70 -8.6L0.70 -8.6L0.9 0z"/>
<path transform="translate(428.7 300.5)" d="M-0.8 0L-0.50 -11.9L0.50 -11.9L0.8 0z"/>
<path transform="translate(416.5 300.5)" d="M-0.7 0L-0.30 -16.9L0.30 -16.9L0.7 0z"/>
<path transform="translate(431.9 300.6)" d="M-1.1 0L-0.70 -6.9L0.70 -6.9L1.1 0z"/>
<path transform="translate(421.0 300.6)" d="M-0.6 0L-0.30 -15.3L0.30 -15.3L0.6 0z"/>
<path transform="translate(421.6 300.6)" d="M-1.0 0L-0.70 -10.7L0.70 -10.7L1.0 0z"/>
<path transform="translate(427.3 300.7)" d="M-0.7 0L-0.50 -11.5L0.50 -11.5L0.7 0z"/>
<path transform="translate(421.1 300.7)" d="M-0.6 0L-0.30 -16.7L0.30 -16.7L0.6 0z"/>
<path transform="translate(423.3 300.7)" d="M-1.1 0L-0.70 -11.0L0.70 -11.0L1.1 0z"/>
<path transform="translate(443.8 300.7)" d="M-0.9 0L-0.70 -8.4L0.70 -8.4L0.9 0z"/>
<path transform="translate(406.1 300.7)" d="M-0.9 0L-0.70 -10.1L0.70 -10.1L0.9 0z"/>
<path transform="translate(407.0 300.7)" d="M-0.8 0L-0.50 -7.0L0.50 -7.0L0.8 0z"/>
<path transform="translate(435.0 300.8)" d="M-0.8 0L-0.70 -10.3L0.70 -10.3L0.8 0z"/>
<path transform="translate(431.8 300.8)" d="M-0.7 0L-0.30 -16.9L0.30 -16.9L0.7 0z"/>
<path transform="translate(416.4 300.8)" d="M-0.7 0L-0.30 -14.3L0.30 -14.3L0.7 0z"/>
<path transform="translate(434.4 300.8)" d="M-0.8 0L-0.50 -11.2L0.50 -11.2L0.8 0z"/>
<path transform="translate(420.6 300.8)" d="M-0.6 0L-0.30 -15.9L0.30 -15.9L0.6 0z"/>
<path transform="translate(455.0 300.9)" d="M-0.6 0L-0.30 -13.8L0.30 -13.8L0.6 0z"/>
<path transform="translate(416.1 300.9)" d="M-0.9 0L-0.70 -9.3L0.70 -9.3L0.9 0z"/>
<path transform="translate(428.9 300.9)" d="M-0.9 0L-0.70 -10.7L0.70 -10.7L0.9 0z"/>
<path transform="translate(433.6 300.9)" d="M-0.7 0L-0.30 -15.6L0.30 -15.6L0.7 0z"/>
<path transform="translate(424.0 300.9)" d="M-1.2 0L-0.70 -3.8L0.70 -3.8L1.2 0z"/>
<path transform="translate(421.3 301.0)" d="M-0.9 0L-0.70 -10.3L0.70 -10.3L0.9 0z"/>
<path transform="translate(425.0 301.0)" d="M-0.9 0L-0.50 -14.0L0.50 -14.0L0.9 0z"/>
<path transform="translate(433.2 301.0)" d="M-1.0 0L-0.70 -7.5L0.70 -7.5L1.0 0z"/>
<path transform="translate(456.9 301.0)" d="M-1.1 0L-0.70 -11.3L0.70 -11.3L1.1 0z"/>
<path transform="translate(420.8 301.0)" d="M-1.2 0L-0.70 -5.6L0.70 -5.6L1.2 0z"/>
<path transform="translate(428.9 301.0)" d="M-0.7 0L-0.50 -13.6L0.50 -13.6L0.7 0z"/>
<path transform="translate(414.1 301.1)" d="M-0.9 0L-0.50 -8.5L0.50 -8.5L0.9 0z"/>
<path transform="translate(443.6 301.1)" d="M-0.7 0L-0.50 -9.7L0.50 -9.7L0.7 0z"/>
<path transform="translate(430.0 301.1)" d="M-0.6 0L-0.30 -18.2L0.30 -18.2L0.6 0z"/>
<path transform="translate(441.8 301.1)" d="M-1.2 0L-0.70 -10.1L0.70 -10.1L1.2 0z"/>
<path transform="translate(425.2 301.2)" d="M-1.1 0L-0.70 -5.4L0.70 -5.4L1.1 0z"/>
<path transform="translate(402.8 301.2)" d="M-1.0 0L-0.70 -7.0L0.70 -7.0L1.0 0z"/>
<path transform="translate(405.7 301.2)" d="M-0.7 0L-0.30 -13.0L0.30 -13.0L0.7 0z"/>
<path transform="translate(421.7 301.3)" d="M-0.9 0L-0.50 -14.1L0.50 -14.1L0.9 0z"/>
<path transform="translate(424.3 301.3)" d="M-1.2 0L-0.70 -11.2L0.70 -11.2L1.2 0z"/>
<path transform="translate(427.9 301.3)" d="M-0.9 0L-0.50 -7.8L0.50 -7.8L0.9 0z"/>
<path transform="translate(432.2 301.3)" d="M-0.8 0L-0.70 -6.6L0.70 -6.6L0.8 0z"/>
<path transform="translate(431.0 301.3)" d="M-0.7 0L-0.50 -12.6L0.50 -12.6L0.7 0z"/>
<path transform="translate(404.3 301.3)" d="M-0.8 0L-0.50 -12.6L0.50 -12.6L0.8 0z"/>
<path transform="translate(416.0 301.4)" d="M-0.6 0L-0.30 -14.2L0.30 -14.2L0.6 0z"/>
<path transform="translate(407.6 301.4)" d="M-1.0 0L-0.70 -7.9L0.70 -7.9L1.0 0z"/>
<path transform="translate(430.3 301.5)" d="M-0.6 0L-0.30 -14.2L0.30 -14.2L0.6 0z"/>
<path transform="translate(441.9 301.5)" d="M-0.9 0L-0.50 -15.2L0.50 -15.2L0.9 0z"/>
<path transform="translate(426.4 301.5)" d="M-0.9 0L-0.50 -13.0L0.50 -13.0L0.9 0z"/>
<path transform="translate(436.5 301.5)" d="M-1.2 0L-0.70 -7.3L0.70 -7.3L1.2 0z"/>
<path transform="translate(425.5 301.5)" d="M-0.7 0L-0.30 -14.3L0.30 -14.3L0.7 0z"/>
<path transform="translate(424.0 301.5)" d="M-0.7 0L-0.50 -6.3L0.50 -6.3L0.7 0z"/>
<path transform="translate(457.4 301.5)" d="M-1.2 0L-0.70 -7.7L0.70 -7.7L1.2 0z"/>
<path transform="translate(426.6 301.5)" d="M-0.9 0L-0.50 -13.4L0.50 -13.4L0.9 0z"/>
<path transform="translate(417.2 301.6)" d="M-0.7 0L-0.50 -11.2L0.50 -11.2L0.7 0z"/>
<path transform="translate(440.7 301.6)" d="M-0.8 0L-0.30 -14.6L0.30 -14.6L0.8 0z"/>
<path transform="translate(439.6 301.6)" d="M-0.7 0L-0.50 -10.3L0.50 -10.3L0.7 0z"/>
<path transform="translate(434.1 301.6)" d="M-0.9 0L-0.50 -12.9L0.50 -12.9L0.9 0z"/>
<path transform="translate(424.0 301.6)" d="M-0.9 0L-0.50 -14.6L0.50 -14.6L0.9 0z"/>
<path transform="translate(437.8 301.7)" d="M-0.9 0L-0.70 -8.2L0.70 -8.2L0.9 0z"/>
<path transform="translate(418.2 301.7)" d="M-0.9 0L-0.50 -12.2L0.50 -12.2L0.9 0z"/>
<path transform="translate(434.1 301.7)" d="M-0.7 0L-0.50 -11.3L0.50 -11.3L0.7 0z"/>
<path transform="translate(407.3 301.7)" d="M-0.9 0L-0.50 -12.5L0.50 -12.5L0.9 0z"/>
<path transform="translate(433.1 301.7)" d="M-0.9 0L-0.70 -10.2L0.70 -10.2L0.9 0z"/>
<path transform="translate(418.3 301.7)" d="M-0.8 0L-0.50 -10.4L0.50 -10.4L0.8 0z"/>
<path transform="translate(418.9 301.8)" d="M-0.8 0L-0.70 -9.0L0.70 -9.0L0.8 0z"/>
<path transform="translate(425.0 301.8)" d="M-0.6 0L-0.30 -17.2L0.30 -17.2L0.6 0z"/>
<path transform="translate(430.7 301.8)" d="M-0.6 0L-0.30 -13.2L0.30 -13.2L0.6 0z"/>
<path transform="translate(422.8 301.8)" d="M-1.1 0L-0.70 -8.4L0.70 -8.4L1.1 0z"/>
<path transform="translate(419.8 301.8)" d="M-0.8 0L-0.50 -11.9L0.50 -11.9L0.8 0z"/>
<path transform="translate(419.9 301.8)" d="M-0.8 0L-0.70 -7.4L0.70 -7.4L0.8 0z"/>
<path transform="translate(406.4 301.9)" d="M-0.7 0L-0.30 -14.4L0.30 -14.4L0.7 0z"/>
<path transform="translate(423.2 301.9)" d="M-1.2 0L-0.70 -10.0L0.70 -10.0L1.2 0z"/>
<path transform="translate(457.2 301.9)" d="M-1.1 0L-0.70 -9.1L0.70 -9.1L1.1 0z"/>
<path transform="translate(439.4 301.9)" d="M-0.7 0L-0.50 -9.5L0.50 -9.5L0.7 0z"/>
<path transform="translate(428.6 302.0)" d="M-0.7 0L-0.50 -9.8L0.50 -9.8L0.7 0z"/>
<path transform="translate(442.5 302.0)" d="M-0.9 0L-0.50 -11.0L0.50 -11.0L0.9 0z"/>
<path transform="translate(427.1 302.0)" d="M-0.9 0L-0.50 -11.5L0.50 -11.5L0.9 0z"/>
<path transform="translate(409.0 302.0)" d="M-1.1 0L-0.70 -6.0L0.70 -6.0L1.1 0z"/>
<path transform="translate(406.6 302.1)" d="M-0.9 0L-0.50 -4.4L0.50 -4.4L0.9 0z"/>
<path transform="translate(436.7 302.1)" d="M-0.7 0L-0.50 -11.9L0.50 -11.9L0.7 0z"/>
<path transform="translate(435.3 302.1)" d="M-0.8 0L-0.70 -9.9L0.70 -9.9L0.8 0z"/>
<path transform="translate(436.4 302.1)" d="M-1.2 0L-0.70 -8.7L0.70 -8.7L1.2 0z"/>
<path transform="translate(429.7 302.1)" d="M-1.1 0L-0.70 -11.3L0.70 -11.3L1.1 0z"/>
<path transform="translate(440.1 302.2)" d="M-0.9 0L-0.70 -8.2L0.70 -8.2L0.9 0z"/>
<path transform="translate(420.8 302.2)" d="M-0.7 0L-0.50 -7.8L0.50 -7.8L0.7 0z"/>
<path transform="translate(426.1 302.2)" d="M-0.8 0L-0.50 -10.2L0.50 -10.2L0.8 0z"/>
<path transform="translate(432.5 302.2)" d="M-1.0 0L-0.70 -9.3L0.70 -9.3L1.0 0z"/>
<path transform="translate(425.0 302.2)" d="M-0.7 0L-0.50 -13.7L0.50 -13.7L0.7 0z"/>
<path transform="translate(441.4 302.3)" d="M-1.0 0L-0.70 -8.2L0.70 -8.2L1.0 0z"/>
<path transform="translate(404.5 302.3)" d="M-1.0 0L-0.70 -7.6L0.70 -7.6L1.0 0z"/>
<path transform="translate(437.8 302.3)" d="M-0.9 0L-0.70 -9.9L0.70 -9.9L0.9 0z"/>
<path transform="translate(418.7 302.3)" d="M-0.7 0L-0.50 -11.7L0.50 -11.7L0.7 0z"/>
<path transform="translate(441.1 302.3)" d="M-0.7 0L-0.50 -7.4L0.50 -7.4L0.7 0z"/>
<path transform="translate(418.5 302.4)" d="M-0.9 0L-0.50 -8.2L0.50 -8.2L0.9 0z"/>
<path transform="translate(455.0 302.4)" d="M-0.8 0L-0.50 -6.7L0.50 -6.7L0.8 0z"/>
<path transform="translate(441.2 302.4)" d="M-0.8 0L-0.70 -7.6L0.70 -7.6L0.8 0z"/>
<path transform="translate(420.0 302.4)" d="M-1.2 0L-0.70 -10.0L0.70 -10.0L1.2 0z"/>
<path transform="translate(407.2 302.4)" d="M-0.6 0L-0.30 -15.8L0.30 -15.8L0.6 0z"/>
<path transform="translate(436.5 302.4)" d="M-1.1 0L-0.70 -9.1L0.70 -9.1L1.1 0z"/>
<path transform="translate(434.0 302.4)" d="M-0.9 0L-0.50 -14.1L0.50 -14.1L0.9 0z"/>
<path transform="translate(432.4 302.4)" d="M-0.9 0L-0.70 -9.5L0.70 -9.5L0.9 0z"/>
<path transform="translate(407.6 302.5)" d="M-0.8 0L-0.50 -11.2L0.50 -11.2L0.8 0z"/>
<path transform="translate(421.8 302.5)" d="M-0.9 0L-0.50 -6.1L0.50 -6.1L0.9 0z"/>
<path transform="translate(407.6 302.5)" d="M-1.1 0L-0.70 -7.9L0.70 -7.9L1.1 0z"/>
<path transform="translate(406.2 302.5)" d="M-0.9 0L-0.50 -14.3L0.50 -14.3L0.9 0z"/>
<path transform="translate(458.3 302.5)" d="M-1.0 0L-0.70 -6.2L0.70 -6.2L1.0 0z"/>
<path transform="translate(442.4 302.6)" d="M-0.8 0L-0.50 -7.9L0.50 -7.9L0.8 0z"/>
<path transform="translate(455.8 302.6)" d="M-0.9 0L-0.70 -11.4L0.70 -11.4L0.9 0z"/>
<path transform="translate(426.1 302.6)" d="M-0.9 0L-0.70 -8.7L0.70 -8.7L0.9 0z"/>
<path transform="translate(441.6 302.6)" d="M-1.2 0L-0.70 -9.5L0.70 -9.5L1.2 0z"/>
<path transform="translate(408.8 302.7)" d="M-0.8 0L-0.50 -13.5L0.50 -13.5L0.8 0z"/>
<path transform="translate(457.9 302.7)" d="M-1.0 0L-0.70 -5.1L0.70 -5.1L1.0 0z"/>
<path transform="translate(439.0 302.7)" d="M-1.1 0L-0.70 -7.1L0.70 -7.1L1.1 0z"/>
<path transform="translate(409.5 302.7)" d="M-1.0 0L-0.70 -5.8L0.70 -5.8L1.0 0z"/>
<path transform="translate(458.0 302.7)" d="M-0.7 0L-0.30 -10.3L0.30 -10.3L0.7 0z"/>
<path transform="translate(453.6 302.7)" d="M-0.9 0L-0.50 -8.1L0.50 -8.1L0.9 0z"/>
<path transform="translate(433.9 302.8)" d="M-0.9 0L-0.70 -6.6L0.70 -6.6L0.9 0z"/>
<path transform="translate(430.6 302.8)" d="M-1.2 0L-0.70 -5.1L0.70 -5.1L1.2 0z"/>
<path transform="translate(416.8 302.8)" d="M-1.1 0L-0.70 -4.5L0.70 -4.5L1.1 0z"/>
<path transform="translate(430.1 302.8)" d="M-1.1 0L-0.70 -7.0L0.70 -7.0L1.1 0z"/>
<path transform="translate(404.5 302.8)" d="M-1.0 0L-0.70 -6.3L0.70 -6.3L1.0 0z"/>
<path transform="translate(436.5 302.9)" d="M-1.1 0L-0.70 -2.9L0.70 -2.9L1.1 0z"/>
<path transform="translate(436.7 302.9)" d="M-1.1 0L-0.70 -5.8L0.70 -5.8L1.1 0z"/>
<path transform="translate(406.1 302.9)" d="M-0.7 0L-0.30 -15.5L0.30 -15.5L0.7 0z"/>
<path transform="translate(425.8 303.1)" d="M-0.7 0L-0.50 -4.3L0.50 -4.3L0.7 0z"/>
<path transform="translate(428.2 303.1)" d="M-1.2 0L-0.70 -2.7L0.70 -2.7L1.2 0z"/>
<path transform="translate(455.2 303.1)" d="M-0.9 0L-0.50 -15.1L0.50 -15.1L0.9 0z"/>
<path transform="translate(405.5 303.1)" d="M-0.6 0L-0.30 -15.0L0.30 -15.0L0.6 0z"/>
<path transform="translate(453.7 303.3)" d="M-0.7 0L-0.50 -9.5L0.50 -9.5L0.7 0z"/>
<path transform="translate(457.4 303.3)" d="M-1.2 0L-0.70 -5.5L0.70 -5.5L1.2 0z"/>
<path transform="translate(454.0 303.3)" d="M-0.7 0L-0.50 -12.2L0.50 -12.2L0.7 0z"/>
<path transform="translate(440.5 303.4)" d="M-0.9 0L-0.70 -3.3L0.70 -3.3L0.9 0z"/>
<path transform="translate(405.6 303.4)" d="M-0.8 0L-0.30 -13.4L0.30 -13.4L0.8 0z"/>
<path transform="translate(453.4 303.5)" d="M-0.7 0L-0.50 -8.0L0.50 -8.0L0.7 0z"/>
<path transform="translate(453.3 303.5)" d="M-1.1 0L-0.70 -3.0L0.70 -3.0L1.1 0z"/>
<path transform="translate(406.1 303.5)" d="M-0.9 0L-0.50 -12.3L0.50 -12.3L0.9 0z"/>
<path transform="translate(454.3 303.6)" d="M-0.9 0L-0.70 -10.4L0.70 -10.4L0.9 0z"/>
<path transform="translate(408.8 303.7)" d="M-1.1 0L-0.70 -7.4L0.70 -7.4L1.1 0z"/>
<path transform="translate(409.4 303.7)" d="M-0.8 0L-0.30 -17.6L0.30 -17.6L0.8 0z"/>
<path transform="translate(455.0 303.7)" d="M-0.8 0L-0.70 -9.7L0.70 -9.7L0.8 0z"/>
<path transform="translate(408.5 303.9)" d="M-1.1 0L-0.70 -8.6L0.70 -8.6L1.1 0z"/>
<path transform="translate(408.7 303.9)" d="M-0.8 0L-0.50 -6.4L0.50 -6.4L0.8 0z"/>
<path transform="translate(406.6 304.2)" d="M-0.7 0L-0.50 -11.5L0.50 -11.5L0.7 0z"/>
<path transform="translate(411.0 304.4)" d="M-0.7 0L-0.50 -5.9L0.50 -5.9L0.7 0z"/>
<path transform="translate(411.0 304.5)" d="M-0.8 0L-0.70 -9.0L0.70 -9.0L0.8 0z"/>
<path transform="translate(405.7 304.6)" d="M-1.2 0L-0.70 -2.6L0.70 -2.6L1.2 0z"/>
<path transform="translate(411.7 304.7)" d="M-1.0 0L-0.70 -6.8L0.70 -6.8L1.0 0z"/>
<path transform="translate(411.4 304.7)" d="M-0.8 0L-0.50 -9.2L0.50 -9.2L0.8 0z"/>
<path transform="translate(412.2 304.8)" d="M-0.9 0L-0.50 -8.5L0.50 -8.5L0.9 0z"/>
<path transform="translate(412.0 304.8)" d="M-1.0 0L-0.70 -6.5L0.70 -6.5L1.0 0z"/>
<path transform="translate(410.8 304.8)" d="M-1.0 0L-0.70 -7.6L0.70 -7.6L1.0 0z"/>
<path transform="translate(406.9 305.0)" d="M-1.0 0L-0.70 -8.4L0.70 -8.4L1.0 0z"/>
<path transform="translate(408.5 305.3)" d="M-1.2 0L-0.70 -5.1L0.70 -5.1L1.2 0z"/>
<path transform="translate(408.2 305.3)" d="M-0.8 0L-0.50 -13.3L0.50 -13.3L0.8 0z"/>
<path transform="translate(457.3 305.4)" d="M-0.8 0L-0.50 -4.9L0.50 -4.9L0.8 0z"/>
<path transform="translate(454.4 305.6)" d="M-1.1 0L-0.70 -7.9L0.70 -7.9L1.1 0z"/>
<path transform="translate(453.4 305.7)" d="M-0.9 0L-0.70 -8.0L0.70 -8.0L0.9 0z"/>
<path transform="translate(448.1 305.7)" d="M-0.8 0L-0.30 -5.6L0.30 -5.6L0.8 0z"/>
<path transform="translate(427.6 305.7)" d="M-0.8 0L-0.50 -6.3L0.50 -6.3L0.8 0z"/>
<path transform="translate(413.3 305.7)" d="M-0.8 0L-0.30 -8.4L0.30 -8.4L0.8 0z"/>
<path transform="translate(453.2 305.7)" d="M-0.7 0L-0.30 -7.9L0.30 -7.9L0.7 0z"/>
<path transform="translate(454.7 305.7)" d="M-0.7 0L-0.30 -14.0L0.30 -14.0L0.7 0z"/>
<path transform="translate(444.9 305.8)" d="M-1.2 0L-0.70 -4.3L0.70 -4.3L1.2 0z"/>
<path transform="translate(442.2 305.8)" d="M-1.1 0L-0.70 -5.1L0.70 -5.1L1.1 0z"/>
<path transform="translate(418.6 305.8)" d="M-0.9 0L-0.70 -5.5L0.70 -5.5L0.9 0z"/>
<path transform="translate(450.9 305.8)" d="M-1.1 0L-0.70 -4.9L0.70 -4.9L1.1 0z"/>
<path transform="translate(422.7 305.8)" d="M-0.9 0L-0.70 -4.8L0.70 -4.8L0.9 0z"/>
<path transform="translate(416.2 305.8)" d="M-1.0 0L-0.70 -5.0L0.70 -5.0L1.0 0z"/>
<path transform="translate(422.9 305.8)" d="M-0.8 0L-0.70 -5.1L0.70 -5.1L0.8 0z"/>
<path transform="translate(449.8 305.9)" d="M-1.1 0L-0.70 -6.8L0.70 -6.8L1.1 0z"/>
<path transform="translate(408.6 305.9)" d="M-1.1 0L-0.70 -7.0L0.70 -7.0L1.1 0z"/>
<path transform="translate(428.5 305.9)" d="M-0.9 0L-0.70 -6.5L0.70 -6.5L0.9 0z"/>
<path transform="translate(425.7 305.9)" d="M-0.9 0L-0.50 -7.8L0.50 -7.8L0.9 0z"/>
<path transform="translate(441.3 305.9)" d="M-0.9 0L-0.50 -5.9L0.50 -5.9L0.9 0z"/>
<path transform="translate(444.9 305.9)" d="M-0.8 0L-0.50 -9.4L0.50 -9.4L0.8 0z"/>
<path transform="translate(409.4 305.9)" d="M-1.1 0L-0.70 -6.7L0.70 -6.7L1.1 0z"/>
<path transform="translate(410.9 306.0)" d="M-0.9 0L-0.50 -14.1L0.50 -14.1L0.9 0z"/>
<path transform="translate(447.7 306.0)" d="M-0.8 0L-0.70 -7.1L0.70 -7.1L0.8 0z"/>
<path transform="translate(456.2 306.1)" d="M-0.8 0L-0.50 -6.5L0.50 -6.5L0.8 0z"/>
<path transform="translate(452.9 306.1)" d="M-1.2 0L-0.70 -7.5L0.70 -7.5L1.2 0z"/>
<path transform="translate(409.7 306.1)" d="M-1.2 0L-0.70 -6.6L0.70 -6.6L1.2 0z"/>
<path transform="translate(432.3 306.1)" d="M-0.9 0L-0.50 -10.1L0.50 -10.1L0.9 0z"/>
<path transform="translate(433.6 306.2)" d="M-1.1 0L-0.70 -7.6L0.70 -7.6L1.1 0z"/>
<path transform="translate(432.2 306.2)" d="M-1.0 0L-0.70 -4.2L0.70 -4.2L1.0 0z"/>
<path transform="translate(407.7 306.2)" d="M-0.9 0L-0.70 -3.5L0.70 -3.5L0.9 0z"/>
<path transform="translate(414.6 306.3)" d="M-1.0 0L-0.70 -6.7L0.70 -6.7L1.0 0z"/>
<path transform="translate(456.3 306.3)" d="M-0.7 0L-0.50 -11.0L0.50 -11.0L0.7 0z"/>
<path transform="translate(437.3 306.4)" d="M-0.9 0L-0.50 -9.8L0.50 -9.8L0.9 0z"/>
<path transform="translate(411.8 306.4)" d="M-0.8 0L-0.50 -15.0L0.50 -15.0L0.8 0z"/>
<path transform="translate(428.9 306.4)" d="M-0.7 0L-0.50 -9.2L0.50 -9.2L0.7 0z"/>
<path transform="translate(423.1 306.4)" d="M-0.9 0L-0.70 -8.2L0.70 -8.2L0.9 0z"/>
<path transform="translate(444.6 306.4)" d="M-0.9 0L-0.50 -10.2L0.50 -10.2L0.9 0z"/>
<path transform="translate(436.3 306.4)" d="M-1.1 0L-0.70 -4.1L0.70 -4.1L1.1 0z"/>
<path transform="translate(416.4 306.4)" d="M-0.7 0L-0.50 -10.3L0.50 -10.3L0.7 0z"/>
<path transform="translate(412.8 306.5)" d="M-0.8 0L-0.50 -6.5L0.50 -6.5L0.8 0z"/>
<path transform="translate(424.0 306.5)" d="M-1.1 0L-0.70 -4.3L0.70 -4.3L1.1 0z"/>
<path transform="translate(410.5 306.5)" d="M-0.8 0L-0.50 -13.7L0.50 -13.7L0.8 0z"/>
<path transform="translate(433.1 306.5)" d="M-0.8 0L-0.70 -7.2L0.70 -7.2L0.8 0z"/>
<path transform="translate(422.8 306.5)" d="M-1.2 0L-0.70 -8.2L0.70 -8.2L1.2 0z"/>
<path transform="translate(439.0 306.5)" d="M-0.9 0L-0.50 -8.6L0.50 -8.6L0.9 0z"/>
<path transform="translate(417.7 306.5)" d="M-1.2 0L-0.70 -10.2L0.70 -10.2L1.2 0z"/>
<path transform="translate(443.1 306.6)" d="M-0.8 0L-0.30 -8.7L0.30 -8.7L0.8 0z"/>
<path transform="translate(435.3 306.6)" d="M-1.2 0L-0.70 -7.6L0.70 -7.6L1.2 0z"/>
<path transform="translate(414.7 306.6)" d="M-1.1 0L-0.70 -5.6L0.70 -5.6L1.1 0z"/>
<path transform="translate(412.9 306.6)" d="M-0.7 0L-0.50 -12.1L0.50 -12.1L0.7 0z"/>
<path transform="translate(443.6 306.6)" d="M-1.2 0L-0.70 -9.1L0.70 -9.1L1.2 0z"/>
<path transform="translate(415.8 306.6)" d="M-0.8 0L-0.70 -9.9L0.70 -9.9L0.8 0z"/>
<path transform="translate(436.7 306.6)" d="M-1.1 0L-0.70 -10.0L0.70 -10.0L1.1 0z"/>
<path transform="translate(430.2 306.7)" d="M-1.0 0L-0.70 -7.5L0.70 -7.5L1.0 0z"/>
<path transform="translate(426.6 306.7)" d="M-0.9 0L-0.70 -2.8L0.70 -2.8L0.9 0z"/>
<path transform="translate(451.0 306.7)" d="M-0.8 0L-0.70 -7.7L0.70 -7.7L0.8 0z"/>
<path transform="translate(413.6 306.7)" d="M-0.7 0L-0.30 -13.8L0.30 -13.8L0.7 0z"/>
<path transform="translate(426.7 306.7)" d="M-0.9 0L-0.50 -12.8L0.50 -12.8L0.9 0z"/>
<path transform="translate(431.2 306.7)" d="M-0.9 0L-0.50 -10.9L0.50 -10.9L0.9 0z"/>
<path transform="translate(425.1 306.8)" d="M-1.2 0L-0.70 -9.7L0.70 -9.7L1.2 0z"/>
<path transform="translate(451.2 306.8)" d="M-0.9 0L-0.50 -12.8L0.50 -12.8L0.9 0z"/>
<path transform="translate(428.5 306.9)" d="M-0.8 0L-0.30 -5.0L0.30 -5.0L0.8 0z"/>
<path transform="translate(410.8 306.9)" d="M-0.8 0L-0.70 -5.4L0.70 -5.4L0.8 0z"/>
<path transform="translate(423.7 306.9)" d="M-0.9 0L-0.70 -7.7L0.70 -7.7L0.9 0z"/>
<path transform="translate(451.3 306.9)" d="M-1.2 0L-0.70 -8.1L0.70 -8.1L1.2 0z"/>
<path transform="translate(430.0 306.9)" d="M-1.2 0L-0.70 -4.2L0.70 -4.2L1.2 0z"/>
<path transform="translate(439.9 306.9)" d="M-1.0 0L-0.70 -9.3L0.70 -9.3L1.0 0z"/>
<path transform="translate(422.8 307.0)" d="M-0.7 0L-0.50 -10.1L0.50 -10.1L0.7 0z"/>
<path transform="translate(438.8 307.0)" d="M-0.8 0L-0.70 -11.2L0.70 -11.2L0.8 0z"/>
<path transform="translate(418.0 307.0)" d="M-0.7 0L-0.30 -8.5L0.30 -8.5L0.7 0z"/>
<path transform="translate(429.0 307.0)" d="M-0.8 0L-0.50 -14.1L0.50 -14.1L0.8 0z"/>
<path transform="translate(431.8 307.0)" d="M-0.8 0L-0.50 -12.2L0.50 -12.2L0.8 0z"/>
<path transform="translate(433.0 307.0)" d="M-0.8 0L-0.70 -2.6L0.70 -2.6L0.8 0z"/>
<path transform="translate(447.9 307.0)" d="M-0.6 0L-0.30 -17.9L0.30 -17.9L0.6 0z"/>
<path transform="translate(438.3 307.0)" d="M-1.0 0L-0.70 -8.4L0.70 -8.4L1.0 0z"/>
<path transform="translate(412.0 307.1)" d="M-0.9 0L-0.50 -12.6L0.50 -12.6L0.9 0z"/>
<path transform="translate(422.6 307.1)" d="M-0.9 0L-0.70 -6.7L0.70 -6.7L0.9 0z"/>
<path transform="translate(411.6 307.1)" d="M-1.1 0L-0.70 -8.0L0.70 -8.0L1.1 0z"/>
<path transform="translate(449.1 307.1)" d="M-0.9 0L-0.70 -9.1L0.70 -9.1L0.9 0z"/>
<path transform="translate(411.7 307.1)" d="M-0.7 0L-0.50 -13.1L0.50 -13.1L0.7 0z"/>
<path transform="translate(453.8 307.1)" d="M-1.2 0L-0.70 -4.9L0.70 -4.9L1.2 0z"/>
<path transform="translate(451.9 307.1)" d="M-0.7 0L-0.50 -11.2L0.50 -11.2L0.7 0z"/>
<path transform="translate(424.0 307.1)" d="M-1.2 0L-0.70 -9.2L0.70 -9.2L1.2 0z"/>
<path transform="translate(441.5 307.1)" d="M-0.7 0L-0.50 -7.9L0.50 -7.9L0.7 0z"/>
<path transform="translate(413.1 307.1)" d="M-0.7 0L-0.50 -12.7L0.50 -12.7L0.7 0z"/>
<path transform="translate(422.8 307.1)" d="M-0.8 0L-0.70 -10.1L0.70 -10.1L0.8 0z"/>
<path transform="translate(415.9 307.2)" d="M-0.8 0L-0.70 -10.5L0.70 -10.5L0.8 0z"/>
<path transform="translate(438.9 307.2)" d="M-0.9 0L-0.50 -7.9L0.50 -7.9L0.9 0z"/>
<path transform="translate(429.3 307.2)" d="M-0.7 0L-0.30 -14.8L0.30 -14.8L0.7 0z"/>
<path transform="translate(432.0 307.2)" d="M-0.8 0L-0.30 -16.7L0.30 -16.7L0.8 0z"/>
<path transform="translate(440.9 307.2)" d="M-0.7 0L-0.50 -11.1L0.50 -11.1L0.7 0z"/>
<path transform="translate(429.2 307.2)" d="M-1.1 0L-0.70 -11.6L0.70 -11.6L1.1 0z"/>
<path transform="translate(454.5 307.2)" d="M-1.2 0L-0.70 -4.6L0.70 -4.6L1.2 0z"/>
<path transform="translate(425.2 307.2)" d="M-1.0 0L-0.70 -10.1L0.70 -10.1L1.0 0z"/>
<path transform="translate(450.8 307.2)" d="M-0.8 0L-0.30 -14.5L0.30 -14.5L0.8 0z"/>
<path transform="translate(435.1 307.2)" d="M-1.0 0L-0.70 -6.7L0.70 -6.7L1.0 0z"/>
<path transform="translate(439.8 307.2)" d="M-0.6 0L-0.30 -16.6L0.30 -16.6L0.6 0z"/>
<path transform="translate(423.6 307.2)" d="M-1.1 0L-0.70 -3.0L0.70 -3.0L1.1 0z"/>
<path transform="translate(439.4 307.3)" d="M-1.0 0L-0.70 -10.0L0.70 -10.0L1.0 0z"/>
<path transform="translate(437.7 307.3)" d="M-0.8 0L-0.50 -7.1L0.50 -7.1L0.8 0z"/>
<path transform="translate(426.9 307.3)" d="M-1.2 0L-0.70 -5.3L0.70 -5.3L1.2 0z"/>
<path transform="translate(416.8 307.3)" d="M-1.0 0L-0.70 -10.2L0.70 -10.2L1.0 0z"/>
<path transform="translate(454.0 307.3)" d="M-0.7 0L-0.30 -12.0L0.30 -12.0L0.7 0z"/>
<path transform="translate(440.7 307.3)" d="M-1.2 0L-0.70 -5.7L0.70 -5.7L1.2 0z"/>
<path transform="translate(438.8 307.3)" d="M-0.9 0L-0.70 -9.4L0.70 -9.4L0.9 0z"/>
<path transform="translate(438.8 307.3)" d="M-0.8 0L-0.70 -4.3L0.70 -4.3L0.8 0z"/>
<path transform="translate(441.1 307.3)" d="M-1.0 0L-0.70 -8.4L0.70 -8.4L1.0 0z"/>
<path transform="translate(420.3 307.3)" d="M-0.8 0L-0.30 -16.1L0.30 -16.1L0.8 0z"/>
<path transform="translate(444.5 307.3)" d="M-0.9 0L-0.50 -14.2L0.50 -14.2L0.9 0z"/>
<path transform="translate(433.6 307.4)" d="M-0.8 0L-0.50 -6.6L0.50 -6.6L0.8 0z"/>
<path transform="translate(421.4 307.4)" d="M-1.0 0L-0.70 -10.3L0.70 -10.3L1.0 0z"/>
<path transform="translate(415.6 307.4)" d="M-0.7 0L-0.30 -15.9L0.30 -15.9L0.7 0z"/>
<path transform="translate(435.5 307.4)" d="M-0.8 0L-0.50 -5.9L0.50 -5.9L0.8 0z"/>
<path transform="translate(444.8 307.4)" d="M-1.2 0L-0.70 -7.3L0.70 -7.3L1.2 0z"/>
<path transform="translate(413.2 307.4)" d="M-1.1 0L-0.70 -3.5L0.70 -3.5L1.1 0z"/>
<path transform="translate(410.4 307.5)" d="M-0.8 0L-0.70 -7.2L0.70 -7.2L0.8 0z"/>
<path transform="translate(423.6 307.5)" d="M-1.0 0L-0.70 -6.6L0.70 -6.6L1.0 0z"/>
<path transform="translate(453.5 307.5)" d="M-1.0 0L-0.70 -8.3L0.70 -8.3L1.0 0z"/>
<path transform="translate(438.0 307.5)" d="M-0.8 0L-0.50 -8.3L0.50 -8.3L0.8 0z"/>
<path transform="translate(455.5 307.5)" d="M-0.9 0L-0.50 -8.2L0.50 -8.2L0.9 0z"/>
<path transform="translate(420.5 307.5)" d="M-0.9 0L-0.70 -9.3L0.70 -9.3L0.9 0z"/>
<path transform="translate(418.5 307.6)" d="M-0.7 0L-0.50 -11.2L0.50 -11.2L0.7 0z"/>
<path transform="translate(421.7 307.6)" d="M-0.9 0L-0.50 -13.6L0.50 -13.6L0.9 0z"/>
<path transform="translate(431.6 307.6)" d="M-0.6 0L-0.30 -15.1L0.30 -15.1L0.6 0z"/>
<path transform="translate(449.3 307.7)" d="M-0.8 0L-0.70 -8.6L0.70 -8.6L0.8 0z"/>
<path transform="translate(430.9 307.7)" d="M-0.8 0L-0.50 -9.2L0.50 -9.2L0.8 0z"/>
<path transform="translate(438.4 307.7)" d="M-0.8 0L-0.70 -7.8L0.70 -7.8L0.8 0z"/>
<path transform="translate(418.0 307.7)" d="M-0.8 0L-0.50 -12.9L0.50 -12.9L0.8 0z"/>
<path transform="translate(416.6 307.7)" d="M-1.1 0L-0.70 -10.0L0.70 -10.0L1.1 0z"/>
<path transform="translate(454.8 307.7)" d="M-0.8 0L-0.50 -13.5L0.50 -13.5L0.8 0z"/>
<path transform="translate(453.0 307.8)" d="M-0.9 0L-0.70 -8.3L0.70 -8.3L0.9 0z"/>
<path transform="translate(417.2 307.8)" d="M-0.8 0L-0.50 -9.0L0.50 -9.0L0.8 0z"/>
<path transform="translate(423.6 307.8)" d="M-0.9 0L-0.70 -11.3L0.70 -11.3L0.9 0z"/>
<path transform="translate(454.3 307.8)" d="M-1.0 0L-0.70 -5.9L0.70 -5.9L1.0 0z"/>
<path transform="translate(432.5 307.8)" d="M-1.1 0L-0.70 -9.3L0.70 -9.3L1.1 0z"/>
<path transform="translate(420.9 307.9)" d="M-0.7 0L-0.30 -10.1L0.30 -10.1L0.7 0z"/>
<path transform="translate(433.3 307.9)" d="M-0.7 0L-0.30 -15.9L0.30 -15.9L0.7 0z"/>
<path transform="translate(418.7 307.9)" d="M-1.0 0L-0.70 -8.5L0.70 -8.5L1.0 0z"/>
<path transform="translate(416.0 307.9)" d="M-0.8 0L-0.70 -11.0L0.70 -11.0L0.8 0z"/>
<path transform="translate(419.7 307.9)" d="M-0.8 0L-0.50 -12.6L0.50 -12.6L0.8 0z"/>
<path transform="translate(439.4 307.9)" d="M-0.7 0L-0.30 -14.3L0.30 -14.3L0.7 0z"/>
<path transform="translate(448.9 307.9)" d="M-1.0 0L-0.70 -9.9L0.70 -9.9L1.0 0z"/>
<path transform="translate(439.7 308.0)" d="M-0.7 0L-0.50 -14.6L0.50 -14.6L0.7 0z"/>
<path transform="translate(442.9 308.0)" d="M-1.1 0L-0.70 -7.7L0.70 -7.7L1.1 0z"/>
<path transform="translate(428.7 308.0)" d="M-0.8 0L-0.50 -12.5L0.50 -12.5L0.8 0z"/>
<path transform="translate(447.3 308.0)" d="M-0.8 0L-0.50 -13.2L0.50 -13.2L0.8 0z"/>
<path transform="translate(419.2 308.0)" d="M-0.7 0L-0.30 -11.4L0.30 -11.4L0.7 0z"/>
<path transform="translate(451.3 308.0)" d="M-0.8 0L-0.70 -11.6L0.70 -11.6L0.8 0z"/>
<path transform="translate(440.6 308.0)" d="M-1.0 0L-0.70 -10.7L0.70 -10.7L1.0 0z"/>
<path transform="translate(450.2 308.0)" d="M-0.8 0L-0.30 -15.9L0.30 -15.9L0.8 0z"/>
<path transform="translate(418.8 308.0)" d="M-0.9 0L-0.70 -10.6L0.70 -10.6L0.9 0z"/>
<path transform="translate(453.7 308.1)" d="M-0.6 0L-0.30 -9.6L0.30 -9.6L0.6 0z"/>
<path transform="translate(426.7 308.1)" d="M-0.7 0L-0.50 -7.8L0.50 -7.8L0.7 0z"/>
<path transform="translate(436.3 308.1)" d="M-0.9 0L-0.70 -8.7L0.70 -8.7L0.9 0z"/>
<path transform="translate(433.4 308.1)" d="M-0.8 0L-0.50 -10.9L0.50 -10.9L0.8 0z"/>
<path transform="translate(419.6 308.1)" d="M-0.8 0L-0.30 -16.9L0.30 -16.9L0.8 0z"/>
<path transform="translate(451.3 308.1)" d="M-0.7 0L-0.50 -12.7L0.50 -12.7L0.7 0z"/>
<path transform="translate(454.5 308.1)" d="M-0.7 0L-0.50 -9.1L0.50 -9.1L0.7 0z"/>
<path transform="translate(443.8 308.1)" d="M-0.8 0L-0.50 -13.5L0.50 -13.5L0.8 0z"/>
<path transform="translate(412.8 308.2)" d="M-1.2 0L-0.70 -10.9L0.70 -10.9L1.2 0z"/>
<path transform="translate(415.8 308.2)" d="M-0.8 0L-0.70 -7.3L0.70 -7.3L0.8 0z"/>
<path transform="translate(432.3 308.2)" d="M-1.1 0L-0.70 -6.5L0.70 -6.5L1.1 0z"/>
<path transform="translate(441.8 308.2)" d="M-0.7 0L-0.30 -17.6L0.30 -17.6L0.7 0z"/>
<path transform="translate(449.0 308.2)" d="M-0.9 0L-0.70 -6.9L0.70 -6.9L0.9 0z"/>
<path transform="translate(437.6 308.2)" d="M-1.0 0L-0.70 -10.0L0.70 -10.0L1.0 0z"/>
<path transform="translate(439.9 308.2)" d="M-0.9 0L-0.50 -5.2L0.50 -5.2L0.9 0z"/>
<path transform="translate(447.3 308.2)" d="M-0.7 0L-0.50 -11.5L0.50 -11.5L0.7 0z"/>
<path transform="translate(435.7 308.3)" d="M-1.0 0L-0.70 -9.4L0.70 -9.4L1.0 0z"/>
<path transform="translate(451.1 308.3)" d="M-0.8 0L-0.70 -9.3L0.70 -9.3L0.8 0z"/>
<path transform="translate(451.7 308.3)" d="M-1.2 0L-0.70 -10.0L0.70 -10.0L1.2 0z"/>
<path transform="translate(421.1 308.3)" d="M-0.8 0L-0.50 -5.5L0.50 -5.5L0.8 0z"/>
<path transform="translate(445.4 308.3)" d="M-0.7 0L-0.30 -15.3L0.30 -15.3L0.7 0z"/>
<path transform="translate(451.6 308.3)" d="M-1.1 0L-0.70 -3.6L0.70 -3.6L1.1 0z"/>
<path transform="translate(446.0 308.3)" d="M-1.1 0L-0.70 -8.9L0.70 -8.9L1.1 0z"/>
<path transform="translate(450.2 308.3)" d="M-1.1 0L-0.70 -7.9L0.70 -7.9L1.1 0z"/>
<path transform="translate(428.6 308.4)" d="M-0.8 0L-0.50 -11.4L0.50 -11.4L0.8 0z"/>
<path transform="translate(429.9 308.4)" d="M-1.1 0L-0.70 -7.8L0.70 -7.8L1.1 0z"/>
<path transform="translate(420.1 308.4)" d="M-1.0 0L-0.70 -9.1L0.70 -9.1L1.0 0z"/>
<path transform="translate(436.7 308.4)" d="M-0.8 0L-0.70 -9.9L0.70 -9.9L0.8 0z"/>
<path transform="translate(425.8 308.4)" d="M-1.1 0L-0.70 -4.1L0.70 -4.1L1.1 0z"/>
<path transform="translate(433.9 308.5)" d="M-0.9 0L-0.70 -5.8L0.70 -5.8L0.9 0z"/>
<path transform="translate(427.1 308.5)" d="M-1.0 0L-0.70 -9.6L0.70 -9.6L1.0 0z"/>
<path transform="translate(454.4 308.5)" d="M-1.2 0L-0.70 -6.6L0.70 -6.6L1.2 0z"/>
<path transform="translate(443.9 308.6)" d="M-0.9 0L-0.70 -9.2L0.70 -9.2L0.9 0z"/>
<path transform="translate(439.2 308.6)" d="M-1.2 0L-0.70 -5.8L0.70 -5.8L1.2 0z"/>
<path transform="translate(453.5 308.6)" d="M-0.9 0L-0.70 -7.4L0.70 -7.4L0.9 0z"/>
<path transform="translate(443.6 308.6)" d="M-0.9 0L-0.50 -11.8L0.50 -11.8L0.9 0z"/>
<path transform="translate(417.8 308.6)" d="M-1.2 0L-0.70 -5.1L0.70 -5.1L1.2 0z"/>
<path transform="translate(414.1 308.6)" d="M-0.8 0L-0.70 -9.4L0.70 -9.4L0.8 0z"/>
<path transform="translate(445.8 308.6)" d="M-1.2 0L-0.70 -3.4L0.70 -3.4L1.2 0z"/>
<path transform="translate(449.1 308.7)" d="M-0.9 0L-0.70 -3.7L0.70 -3.7L0.9 0z"/>
<path transform="translate(438.1 308.7)" d="M-0.9 0L-0.50 -12.9L0.50 -12.9L0.9 0z"/>
<path transform="translate(449.3 308.7)" d="M-0.6 0L-0.50 -13.1L0.50 -13.1L0.6 0z"/>
<path transform="translate(426.4 308.8)" d="M-0.9 0L-0.50 -10.1L0.50 -10.1L0.9 0z"/>
<path transform="translate(449.2 308.8)" d="M-1.0 0L-0.70 -6.4L0.70 -6.4L1.0 0z"/>
<path transform="translate(421.0 308.8)" d="M-1.2 0L-0.70 -7.3L0.70 -7.3L1.2 0z"/>
<path transform="translate(448.5 308.8)" d="M-1.2 0L-0.70 -8.9L0.70 -8.9L1.2 0z"/>
<path transform="translate(425.7 308.8)" d="M-0.7 0L-0.50 -10.4L0.50 -10.4L0.7 0z"/>
<path transform="translate(411.8 308.8)" d="M-0.8 0L-0.50 -7.6L0.50 -7.6L0.8 0z"/>
<path transform="translate(450.7 308.8)" d="M-0.8 0L-0.70 -7.9L0.70 -7.9L0.8 0z"/>
<path transform="translate(422.7 308.9)" d="M-1.1 0L-0.70 -9.7L0.70 -9.7L1.1 0z"/>
<path transform="translate(445.0 308.9)" d="M-1.1 0L-0.70 -6.2L0.70 -6.2L1.1 0z"/>
<path transform="translate(423.3 308.9)" d="M-0.7 0L-0.50 -10.0L0.50 -10.0L0.7 0z"/>
<path transform="translate(430.6 308.9)" d="M-1.0 0L-0.70 -6.5L0.70 -6.5L1.0 0z"/>
<path transform="translate(447.2 309.0)" d="M-0.9 0L-0.70 -7.0L0.70 -7.0L0.9 0z"/>
<path transform="translate(417.9 309.0)" d="M-0.9 0L-0.50 -9.2L0.50 -9.2L0.9 0z"/>
<path transform="translate(427.8 309.0)" d="M-1.1 0L-0.70 -4.0L0.70 -4.0L1.1 0z"/>
<path transform="translate(430.5 309.0)" d="M-1.0 0L-0.70 -8.8L0.70 -8.8L1.0 0z"/>
<path transform="translate(428.6 309.0)" d="M-1.1 0L-0.70 -4.3L0.70 -4.3L1.1 0z"/>
<path transform="translate(412.9 309.1)" d="M-0.9 0L-0.70 -5.8L0.70 -5.8L0.9 0z"/>
<path transform="translate(429.2 309.1)" d="M-1.2 0L-0.70 -6.4L0.70 -6.4L1.2 0z"/>
<path transform="translate(429.4 309.1)" d="M-0.9 0L-0.50 -6.2L0.50 -6.2L0.9 0z"/>
<path transform="translate(438.0 309.2)" d="M-0.8 0L-0.50 -8.8L0.50 -8.8L0.8 0z"/>
<path transform="translate(414.3 309.2)" d="M-0.8 0L-0.70 -4.0L0.70 -4.0L0.8 0z"/>
<path transform="translate(414.5 309.2)" d="M-1.0 0L-0.70 -5.8L0.70 -5.8L1.0 0z"/>
<path transform="translate(444.5 309.2)" d="M-0.9 0L-0.50 -5.5L0.50 -5.5L0.9 0z"/>
<path transform="translate(448.0 309.2)" d="M-0.7 0L-0.50 -7.7L0.50 -7.7L0.7 0z"/>
<path transform="translate(435.1 309.2)" d="M-1.1 0L-0.70 -5.5L0.70 -5.5L1.1 0z"/>
<path transform="translate(426.6 309.2)" d="M-1.0 0L-0.70 -5.2L0.70 -5.2L1.0 0z"/>
<path transform="translate(430.7 309.3)" d="M-1.2 0L-0.70 -4.3L0.70 -4.3L1.2 0z"/>
<path transform="translate(415.5 309.3)" d="M-1.2 0L-0.70 -4.9L0.70 -4.9L1.2 0z"/>
<path transform="translate(436.1 309.3)" d="M-0.7 0L-0.30 -6.0L0.30 -6.0L0.7 0z"/>
<path transform="translate(422.9 309.3)" d="M-1.1 0L-0.70 -4.3L0.70 -4.3L1.1 0z"/>
<path transform="translate(441.0 309.4)" d="M-0.9 0L-0.50 -4.3L0.50 -4.3L0.9 0z"/>
</g>
<text x="504.6" y="40.4" font-size="10.8" text-anchor="middle" class="g">(c)</text>
<text x="505.4" y="198.8" font-size="10.8" text-anchor="middle" class="g">(d)</text>
<text x="325.8" y="96.5" font-size="7.4" text-anchor="middle" class="g">1500</text>
<text x="378.8" y="143.4" font-size="7.4" text-anchor="middle" class="g">500</text>
<text x="408.2" y="166.6" font-size="7.4" text-anchor="middle" class="g">0</text>
<text x="421.8" y="168.2" font-size="7.4" text-anchor="middle" class="g">0</text>
<text x="462.4" y="150.4" font-size="7.4" text-anchor="middle" class="g">500</text>
<text x="501.0" y="133.1" font-size="7.4" text-anchor="middle" class="g">1000</text>
<text x="537.4" y="115.6" font-size="7.4" text-anchor="middle" class="g">1500</text>
<text x="351.0" y="120.0" font-size="7.4" text-anchor="middle" class="g">1000</text>
<text transform="translate(315.2 74) rotate(-90)" font-size="7.6" letter-spacing="0.3" text-anchor="middle" class="g">Intensity</text>
<text x="322.8" y="284.4" font-size="7.9" text-anchor="middle" class="g">1500</text>
<text x="349.4" y="307.9" font-size="7.9" text-anchor="middle" class="g">1000</text>
<text x="378.8" y="333.4" font-size="7.9" text-anchor="middle" class="g">500</text>
<text x="409.8" y="358.5" font-size="7.9" text-anchor="middle" class="g">0</text>
<text x="422.9" y="359.1" font-size="7.9" text-anchor="middle" class="g">0</text>
<text x="462.7" y="340.8" font-size="7.9" text-anchor="middle" class="g">500</text>
<text x="501.0" y="321.9" font-size="7.9" text-anchor="middle" class="g">1000</text>
<text x="536.9" y="302.8" font-size="7.9" text-anchor="middle" class="g">1500</text>
<text transform="translate(313.4 265) rotate(-90)" font-size="7.4" letter-spacing="0.25" text-anchor="middle" class="g">Intensity</text>
</svg></body></html>
